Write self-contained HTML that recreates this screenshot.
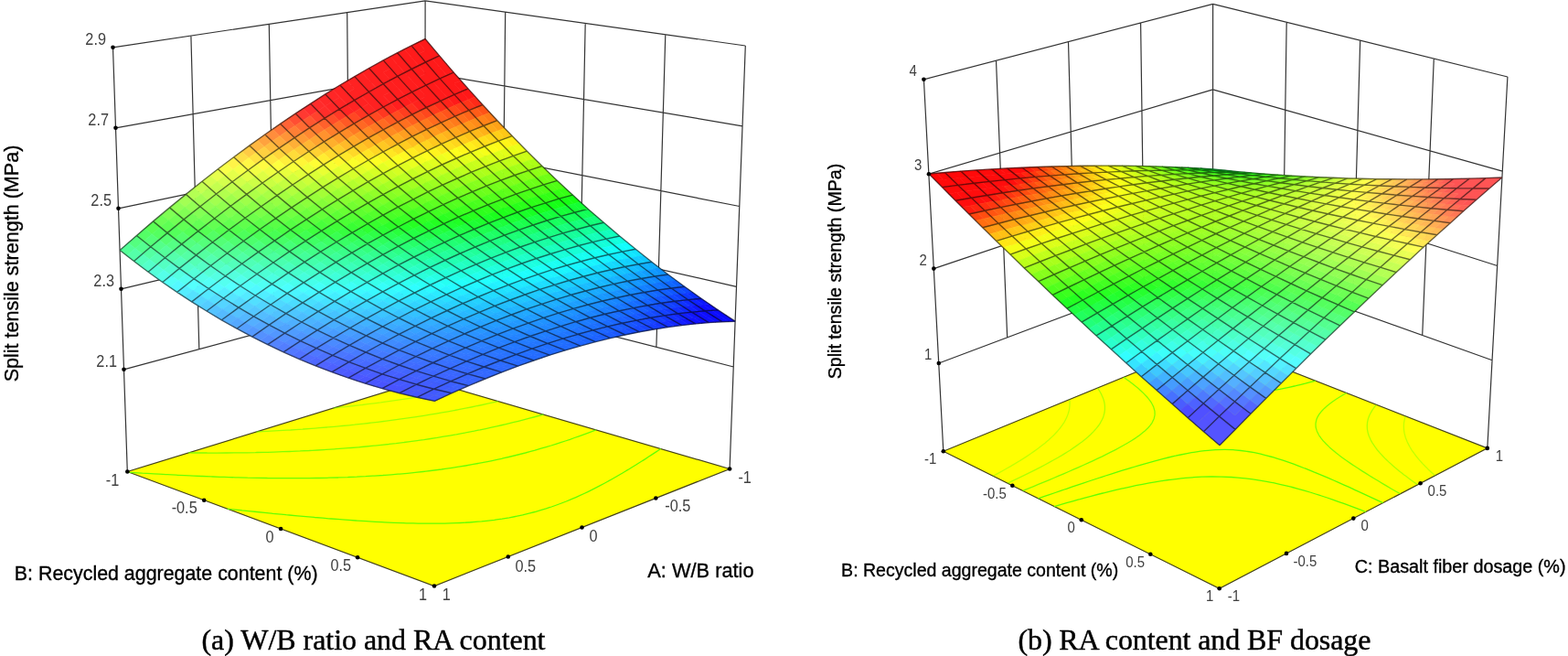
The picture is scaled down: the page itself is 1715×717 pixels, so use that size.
<!DOCTYPE html>
<html lang="en"><head><meta charset="utf-8"><title>Split tensile strength response surfaces</title>
<style>html,body{margin:0;padding:0;background:#fff}body{width:1715px;height:717px;overflow:hidden}svg{display:block}</style></head>
<body>
<svg width="1715" height="717" viewBox="0 0 1715 717" font-family="'Liberation Sans', Arial, sans-serif">
<rect width="1715" height="717" fill="#fff"/>
<g id="plot-a">
<polygon points="139.3,515.5 475,640.5 798.1,512.5 464.7,415.2" fill="#ffff00" stroke="#45431a" stroke-width="1.2"/>
<path d="M248.5 556.2L254.8 556.8L263.5 557.7L264.8 557.9L272.2 558.6L280.9 559.5L281 559.5L289.7 560.4L297 561.1L298.5 561.3L307.5 562.1L312.9 562.7L316.4 563L325.4 563.8L328.6 564.1L334.5 564.6L343.7 565.4L344.1 565.5L352.9 566.2L359.4 566.8L362.2 567L371.7 567.7L374.5 567.9L381.2 568.4L389.2 569L390.8 569.1L400.6 569.7L403.6 569.9L410.5 570.3L417.6 570.7L420.5 570.8L430.7 571.3L431.2 571.3L441.2 571.7L444.4 571.8L451.9 571.9L457.1 572.1L463 572.1L469.3 572.2L474.4 572.2L481.1 572.2L486.2 572.1L492.3 571.9L498.7 571.7L503 571.5L512.1 571L513.1 571L522.8 570.2L526.7 569.9L532 569.3L540.7 568.3L543.3 567.9L549.1 567.1L557 565.8L563.8 564.5L564.4 564.4L571.6 562.9L578.5 561.2L585 559.5L591.3 557.7L597.3 555.9L600.9 554.7L603.1 554L608.7 552L614.1 550L619.3 548L624.4 545.9L627.9 544.4L629.3 543.8L634.1 541.7L638.8 539.5L643.4 537.3L647.8 535.1L652.2 532.9L656.5 530.7L660.6 528.5L664.7 526.2L665.3 525.9L668.8 524L672.7 521.8L676.6 519.5L680.5 517.3L684.2 515L686 513.9L688 512.8L691.6 510.5L695.3 508.3L698.8 506L702.4 503.8L702.7 503.6L705.9 501.6L709.3 499.3L712.7 497.1L716.1 494.9L717.3 494.1L719.4 492.7L722.7 490.5" fill="none" stroke="#62ff00" stroke-opacity="1" stroke-width="1.3"/>
<path d="M141.5 516.3L146.5 516.6L154.9 517.1L155.6 517.2L164.7 517.7L168.2 517.9L173.9 518.2L181.4 518.6L183.2 518.7L192.6 519.2L194.4 519.3L202 519.7L207.3 519.9L211.5 520.1L220 520.5L221.1 520.5L230.8 520.9L232.6 521L240.6 521.3L245.1 521.4L250.5 521.6L257.4 521.8L260.5 521.9L269.5 522.1L270.7 522.2L281 522.4L281.4 522.4L291.4 522.5L293.2 522.6L302 522.7L304.7 522.7L312.7 522.7L316.1 522.7L323.7 522.7L327.3 522.7L334.8 522.6L338.3 522.6L346.2 522.5L349.1 522.5L357.8 522.3L359.6 522.2L369.7 522L370 521.9L380.2 521.6L381.9 521.5L390.2 521.2L394.5 520.9L399.9 520.7L407.5 520.2L409.5 520.1L418.9 519.5L421.1 519.3L428 518.8L435.2 518.2L437 518.1L445.7 517.3L450.1 516.8L454.3 516.4L462.7 515.5L465.9 515.1L470.9 514.5L478.9 513.5L482.9 513L486.8 512.4L494.4 511.3L501.6 510.2L501.9 510.2L509.3 509L516.4 507.7L522.9 506.5L523.4 506.4L530.3 505.1L537 503.8L543.6 502.4L548.6 501.3L550.1 500.9L556.4 499.5L562.6 498L568.6 496.5L574.6 495L580.4 493.4L585.2 492.1L586.1 491.8L591.7 490.2L597.3 488.6L602.7 487L608 485.3L613.2 483.6L618.3 482L623.4 480.3L628.3 478.5L633.2 476.8L638 475.1L642.8 473.3L647.4 471.6L652 469.8" fill="none" stroke="#62ff00" stroke-opacity="0.95" stroke-width="1.3"/>
<path d="M206 494.9L215.1 495L216.4 495L226.1 495L226.8 495.1L237 495.1L237.4 495.1L247.8 495L248.2 495L258.4 494.9L259.1 494.9L268.9 494.8L270.2 494.8L279.3 494.6L281.4 494.5L289.5 494.4L292.9 494.3L299.5 494.1L304.6 493.9L309.5 493.7L316.6 493.5L319.2 493.4L328.8 493L328.8 492.9L338.3 492.5L341.3 492.3L347.7 492L354.2 491.6L356.9 491.4L365.9 490.8L367.4 490.7L374.8 490.2L381.1 489.7L383.6 489.5L392.2 488.8L395.3 488.5L400.7 488L409 487.2L410.1 487.1L417.2 486.4L425.2 485.5L425.6 485.4L433.2 484.6L441 483.6L442 483.5L448.6 482.6L456.2 481.6L459.5 481.1L463.6 480.6L470.9 479.5L478 478.4L478.4 478.3L485.1 477.2L492 476.1L498.8 474.9L499.3 474.8L505.5 473.7L512.1 472.4L518.6 471.2L523.2 470.2L525 469.9L531.3 468.6L537.5 467.2L543.5 465.9L549.5 464.5L552.4 463.8L555.4 463.1L561.2 461.7L567 460.3L572.6 458.9L578.1 457.4L583.6 456L589 454.5L594.3 453" fill="none" stroke="#62ff00" stroke-opacity="0.8" stroke-width="1.3"/>
<path d="M280.5 472L286.9 471.7L292.7 471.4L296.2 471.2L305.1 470.7L305.3 470.7L314.2 470.2L317.9 470L323.1 469.6L331 469.1L331.9 469L340.5 468.4L344.5 468.1L349 467.7L357.4 467L358.4 466.9L365.7 466.3L372.8 465.6L373.9 465.5L381.9 464.8L387.7 464.2L389.9 463.9L397.7 463.1L403.2 462.5L405.5 462.2L413.1 461.3L419.6 460.5L420.6 460.4L428 459.4L435.3 458.4L436.9 458.2L442.5 457.4L449.6 456.4L455.3 455.6L456.6 455.4L463.5 454.3L470.3 453.2L475.3 452.4L477 452.1L483.6 450.9L490.2 449.8L496.6 448.6L497.4 448.5L502.9 447.4L509.2 446.2L515.4 445L521.5 443.7L522.6 443.5L527.5 442.5L533.4 441.2L539.2 439.9L545 438.6" fill="none" stroke="#62ff00" stroke-opacity="0.6" stroke-width="1.3"/>
<path d="M364.8 446L372.2 445.2L379.8 444.4L380.2 444.3L387.3 443.5L394.7 442.6L396.2 442.5L402.1 441.7L409.3 440.8L413 440.3L416.5 439.9L423.5 438.9L430.5 437.9L430.7 437.9L437.4 436.9L444.2 435.9L449.6 435.1L450.9 434.9L457.5 433.8L464.1 432.8L470 431.8L470.6 431.7L476.9 430.6L483.3 429.4L489.5 428.3L492.6 427.7L495.6 427.2L501.7 426" fill="none" stroke="#62ff00" stroke-opacity="0.45" stroke-width="1.3"/>
<path d="M135.5 403.8L464.8 314.9M132.5 315.8L464.9 236.4M129.5 227.8L465 157.9M126.5 139.8L465 79.4M123.5 51.8L465.1 0.8M208.9 39.1L217.8 381.6M294.3 26.3L300.2 359.4M379.7 13.6L382.5 337.2M123.5 51.8L139.3 515.5M802.3 401L464.8 314.9M805.5 313.3L464.9 236.4M808.8 225.5L465 157.9M812 137.8L465 79.4M815.3 50L465.1 0.8M727.8 37.7L717.9 379.5M640.2 25.4L633.5 358M552.7 13.1L549.2 336.5M815.3 50L798.1 512.5M465.1 0.8L464.7 415.2" fill="none" stroke="#333" stroke-width="1.2"/>
<g fill="currentColor" stroke="currentColor" stroke-width="0.6" stroke-linejoin="round"><path color="#ff1a1a" d="M465.1 42.5l-7.6 3.6 7.8 9.2 7.5 -3.5zM472.8 51.8l-7.5 3.5 7.8 9.1 7.5 -3.5zM465.3 55.3l-7.6 3.7 7.8 9 7.6 -3.6z"/><path color="#ff1b1b" d="M457.5 46.1l-7.5 3.8 7.7 9.1 7.6 -3.7z"/><path color="#ff1a1a" d="M473.1 64.4l-7.6 3.6 7.8 9 7.6 -3.5zM480.9 73.5l-7.6 3.5 7.8 8.9 7.6 -3.5z"/><path color="#ff1b1b" d="M450 49.9l-7.7 3.8 7.8 9.1 7.6 -3.8zM457.7 59l-7.6 3.8 7.8 8.9 7.6 -3.7z"/><path color="#ff1919" d="M480.6 60.9l-7.5 3.5 7.8 9.1 7.5 -3.4zM488.4 70.1l-7.5 3.4 7.8 8.9 7.5 -3.3z"/><path color="#ff1c1c" d="M442.3 53.7l-7.6 4 7.7 8.9 7.7 -3.8zM450.1 62.8l-7.7 3.8 7.8 8.9 7.7 -3.8z"/><path color="#ff1b1b" d="M465.5 68l-7.6 3.7 7.8 8.9 7.6 -3.6zM473.3 77l-7.6 3.6 7.8 8.8 7.6 -3.5zM465.7 80.6l-7.7 3.7 7.9 8.8 7.6 -3.7z"/><path color="#ff1c1c" d="M457.9 71.7l-7.7 3.8 7.8 8.8 7.7 -3.7z"/><path color="#ff1919" d="M496.2 79.1l-7.5 3.3 7.9 8.9 7.5 -3.2zM488.7 82.4l-7.6 3.5 7.9 8.8 7.6 -3.4zM496.6 91.3l-7.6 3.4 7.9 8.7 7.6 -3.3z"/><path color="#ff1818" d="M504.1 88.1l-7.5 3.2 7.9 8.8 7.5 -3.2z"/><path color="#ff1d1d" d="M434.7 57.7l-7.7 4 7.7 8.9 7.7 -4zM442.4 66.6l-7.7 4 7.8 8.8 7.7 -3.9z"/><path color="#ff1e1e" d="M427 61.7l-7.8 4.2 7.8 8.8 7.7 -4.1zM434.7 70.6l-7.7 4.1 7.8 8.7 7.7 -4z"/><path color="#ff1a1a" d="M481.1 85.9l-7.6 3.5 7.9 8.7 7.6 -3.4zM489 94.7l-7.6 3.4 7.9 8.7 7.6 -3.4z"/><path color="#ff1b1b" d="M473.5 89.4l-7.6 3.7 7.9 8.6 7.6 -3.6zM481.4 98.1l-7.6 3.6 7.9 8.6 7.6 -3.5z"/><path color="#ff1c1c" d="M450.2 75.5l-7.7 3.9 7.9 8.7 7.6 -3.8zM458 84.3l-7.6 3.8 7.8 8.7 7.7 -3.7z"/><path color="#ff1d1d" d="M442.5 79.4l-7.7 4 7.8 8.7 7.8 -4zM450.4 88.1l-7.8 4 7.9 8.5 7.7 -3.8z"/><path color="#ff1919" d="M504.5 100.1l-7.6 3.3 8 8.7 7.5 -3.2z"/><path color="#ff1818" d="M512 96.9l-7.5 3.2 7.9 8.8 7.5 -3.2z"/><path color="#ff1e1e" d="M427 74.7l-7.8 4.2 7.8 8.6 7.8 -4.1z"/><path color="#ff2a18" d="M519.9 105.7l-7.5 3.2 8 8.6 7.5 -3z"/><path color="#ff3419" d="M512.4 108.9l-7.5 3.2 7.9 8.5 7.6 -3.1z"/><path color="#ff1f1f" d="M419.2 65.9l-7.7 4.3 7.7 8.7 7.8 -4.2zM411.5 70.2l-7.9 4.3 7.8 8.7 7.8 -4.3zM419.2 78.9l-7.8 4.3 7.8 8.5 7.8 -4.2z"/><path color="#ff1a1a" d="M496.9 103.4l-7.6 3.4 8 8.5 7.6 -3.2z"/><path color="#ff1c1c" d="M465.9 93.1l-7.7 3.7 7.9 8.6 7.7 -3.7zM473.8 101.7l-7.7 3.7 7.9 8.4 7.7 -3.5zM466.1 105.4l-7.7 3.7 7.9 8.4 7.7 -3.7z"/><path color="#ff1d1d" d="M458.2 96.8l-7.7 3.8 7.9 8.5 7.7 -3.7z"/><path color="#ff1e1e" d="M434.8 83.4l-7.8 4.1 7.9 8.6 7.7 -4zM442.6 92.1l-7.7 4 7.8 8.5 7.8 -4z"/><path color="#ff1f1f" d="M427 87.5l-7.8 4.2 7.8 8.5 7.9 -4.1zM434.9 96.1l-7.9 4.1 7.9 8.4 7.8 -4z"/><path color="#ff5317" d="M527.9 114.5l-7.5 3 8 8.6 7.5 -3z"/><path color="#ff7a17" d="M535.9 123.1l-7.5 3 8 8.5 7.5 -2.9z"/><path color="#ff5c18" d="M520.4 117.5l-7.6 3.1 8.1 8.5 7.5 -3z"/><path color="#ff8318" d="M528.4 126.1l-7.5 3 8 8.4 7.5 -2.9z"/><path color="#ff3f19" d="M504.9 112.1l-7.6 3.2 8 8.5 7.5 -3.2z"/><path color="#ff231a" d="M489.3 106.8l-7.6 3.5 8 8.4 7.6 -3.4z"/><path color="#ff491a" d="M497.3 115.3l-7.6 3.4 8 8.5 7.6 -3.4z"/><path color="#ff2020" d="M403.6 74.5l-7.8 4.5 7.7 8.6 7.9 -4.4zM411.4 83.2l-7.9 4.4 7.9 8.4 7.8 -4.3z"/><path color="#ff2121" d="M395.8 79l-7.9 4.6 7.7 8.5 7.9 -4.5zM403.5 87.6l-7.9 4.5 7.9 8.4 7.9 -4.5z"/><path color="#ff1f1f" d="M427 100.2l-7.8 4.2 7.9 8.4 7.8 -4.2z"/><path color="#ff2020" d="M419.2 91.7l-7.8 4.3 7.8 8.4 7.8 -4.2zM411.4 96l-7.9 4.5 7.8 8.3 7.9 -4.4zM419.2 104.4l-7.9 4.4 7.9 8.2 7.9 -4.2z"/><path color="#ff6519" d="M512.8 120.6l-7.5 3.2 8 8.4 7.6 -3.1z"/><path color="#ff8c19" d="M520.9 129.1l-7.6 3.1 8 8.4 7.6 -3.1z"/><path color="#ff6f1a" d="M505.3 123.8l-7.6 3.4 8 8.3 7.6 -3.3z"/><path color="#ff9519" d="M513.3 132.2l-7.6 3.3 8 8.2 7.6 -3.1z"/><path color="#ff1d1d" d="M450.5 100.6l-7.8 4 7.9 8.4 7.8 -3.9z"/><path color="#ff1e1e" d="M442.7 104.6l-7.8 4 7.9 8.3 7.8 -3.9z"/><path color="#ffa217" d="M543.9 131.7l-7.5 2.9 8.1 8.4 7.5 -2.8z"/><path color="#ffc816" d="M552 140.2l-7.5 2.8 8.1 8.3 7.5 -2.7z"/><path color="#ffa918" d="M536.4 134.6l-7.5 2.9 8.1 8.3 7.5 -2.8z"/><path color="#ffcf17" d="M544.5 143l-7.5 2.8 8.1 8.3 7.5 -2.8z"/><path color="#ff2e1b" d="M481.7 110.3l-7.7 3.5 8 8.4 7.7 -3.5z"/><path color="#ff541b" d="M489.7 118.7l-7.7 3.5 8 8.4 7.7 -3.4z"/><path color="#ff3b1c" d="M474 113.8l-7.7 3.7 8 8.3 7.7 -3.6z"/><path color="#ff601c" d="M482 122.2l-7.7 3.6 8 8.3 7.7 -3.5z"/><path color="#ff221d" d="M458.4 109.1l-7.8 3.9 8 8.3 7.7 -3.8z"/><path color="#ff301e" d="M450.6 113l-7.8 3.9 8 8.3 7.8 -3.9z"/><path color="#ff2222" d="M387.9 83.6l-8 4.7 7.8 8.4 7.9 -4.6zM395.6 92.1l-7.9 4.6 7.8 8.3 8 -4.5zM387.7 96.7l-8 4.7 7.8 8.2 8 -4.6z"/><path color="#ff2323" d="M379.9 88.3l-8 4.7 7.8 8.4 8 -4.7z"/><path color="#ff1f1f" d="M434.9 108.6l-7.8 4.2 7.9 8.2 7.8 -4.1z"/><path color="#ff2121" d="M403.5 100.5l-8 4.5 7.9 8.2 7.9 -4.4zM411.3 108.8l-7.9 4.4 7.8 8.2 8 -4.4z"/><path color="#ff2222" d="M395.5 105l-8 4.6 7.9 8.2 8 -4.6z"/><path color="#ffb118" d="M528.9 137.5l-7.6 3.1 8.1 8.2 7.6 -3z"/><path color="#ffd718" d="M537 145.8l-7.6 3 8.2 8.2 7.5 -2.9z"/><path color="#ffba19" d="M521.3 140.6l-7.6 3.1 8.1 8.2 7.6 -3.1z"/><path color="#ffde19" d="M529.4 148.8l-7.6 3.1 8.2 8.1 7.6 -3z"/><path color="#ff7a1b" d="M497.7 127.2l-7.7 3.4 8 8.2 7.7 -3.3z"/><path color="#ff9e1a" d="M505.7 135.5l-7.7 3.3 8.1 8.2 7.6 -3.3z"/><path color="#ff841b" d="M490 130.6l-7.7 3.5 8 8.2 7.7 -3.5z"/><path color="#ffa81b" d="M498 138.8l-7.7 3.5 8.1 8 7.7 -3.3z"/><path color="#ff3e1f" d="M442.8 116.9l-7.8 4.1 7.9 8.2 7.9 -4z"/><path color="#ff2920" d="M427.1 112.8l-7.9 4.2 7.9 8.2 7.9 -4.2z"/><path color="#ff4c20" d="M435 121l-7.9 4.2 7.9 8.1 7.9 -4.1z"/><path color="#ff2522" d="M403.4 113.2l-8 4.6 7.9 8.1 7.9 -4.5z"/><path color="#ff2323" d="M371.9 93l-8 4.9 7.8 8.3 8 -4.8zM379.7 101.4l-8 4.8 7.8 8.1 8 -4.7z"/><path color="#ffee16" d="M560.1 148.6l-7.5 2.7 8.2 8.3 7.4 -2.7z"/><path color="#edff16" d="M568.2 156.9l-7.4 2.7 8.2 8.1 7.4 -2.5z"/><path color="#fff517" d="M552.6 151.3l-7.5 2.8 8.2 8.2 7.5 -2.7z"/><path color="#e8ff17" d="M560.8 159.6l-7.5 2.7 8.2 8.1 7.5 -2.7z"/><path color="#ff471d" d="M466.3 117.5l-7.7 3.8 7.9 8.2 7.8 -3.7z"/><path color="#ff6b1d" d="M474.3 125.8l-7.8 3.7 8 8.2 7.8 -3.6z"/><path color="#ff541e" d="M458.6 121.3l-7.8 3.9 7.9 8.2 7.8 -3.9z"/><path color="#ff781d" d="M466.5 129.5l-7.8 3.9 8.1 8 7.7 -3.7z"/><path color="#ff2626" d="M363.9 97.9l-8.1 5 7.8 8.2 8.1 -4.9z"/><path color="#ff2525" d="M371.7 106.2l-8.1 4.9 7.8 8.1 8.1 -4.9z"/><path color="#ff2323" d="M387.5 109.6l-8 4.7 7.9 8.1 8 -4.6z"/><path color="#cdff15" d="M576.4 165.2l-7.4 2.5 8.2 8.1 7.4 -2.4z"/><path color="#adff15" d="M584.6 173.4l-7.4 2.4 8.2 8 7.5 -2.3z"/><path color="#c9ff16" d="M569 167.7l-7.5 2.7 8.2 8 7.5 -2.6z"/><path color="#aaff16" d="M577.2 175.8l-7.5 2.6 8.3 7.9 7.4 -2.5z"/><path color="#fffb18" d="M545.1 154.1l-7.5 2.9 8.1 8.1 7.6 -2.8z"/><path color="#e3ff17" d="M553.3 162.3l-7.6 2.8 8.2 8 7.6 -2.7z"/><path color="#fcff19" d="M537.6 157l-7.6 3 8.1 8 7.6 -2.9z"/><path color="#deff18" d="M545.7 165.1l-7.6 2.9 8.3 7.9 7.5 -2.8z"/><path color="#ffc31a" d="M513.7 143.7l-7.6 3.3 8.1 8.1 7.6 -3.2z"/><path color="#ffe61a" d="M521.8 151.9l-7.6 3.2 8.1 8 7.7 -3.1z"/><path color="#ffcc1b" d="M506.1 147l-7.7 3.3 8.1 8 7.7 -3.2z"/><path color="#ffef1a" d="M514.2 155.1l-7.7 3.2 8.2 8 7.6 -3.2z"/><path color="#ff8f1c" d="M482.3 134.1l-7.8 3.6 8.1 8.1 7.7 -3.5z"/><path color="#ffb31c" d="M490.3 142.3l-7.7 3.5 8.1 8 7.7 -3.5z"/><path color="#ff9b1d" d="M474.5 137.7l-7.7 3.7 8 8 7.8 -3.6z"/><path color="#ffbd1d" d="M482.6 145.8l-7.8 3.6 8.1 8 7.8 -3.6z"/><path color="#ff611e" d="M450.8 125.2l-7.9 4 8 8.1 7.8 -3.9z"/><path color="#ff841e" d="M458.7 133.4l-7.8 3.9 8 8 7.9 -3.9z"/><path color="#ff6f1f" d="M442.9 129.2l-7.9 4.1 8 8 7.9 -4z"/><path color="#ff911f" d="M450.9 137.3l-7.9 4 8 7.9 7.9 -3.9z"/><path color="#ff3821" d="M419.2 117l-8 4.4 8 8.1 7.9 -4.3z"/><path color="#ff5b20" d="M427.1 125.2l-7.9 4.3 7.9 8 7.9 -4.2z"/><path color="#ff4821" d="M411.2 121.4l-7.9 4.5 7.9 8 8 -4.4z"/><path color="#ff6a21" d="M419.2 129.5l-8 4.4 7.9 7.9 8 -4.3z"/><path color="#ff3623" d="M395.4 117.8l-8 4.6 7.8 8 8.1 -4.5z"/><path color="#ff2524" d="M379.5 114.3l-8.1 4.9 7.9 8 8.1 -4.8z"/><path color="#ff4723" d="M387.4 122.4l-8.1 4.8 7.9 7.9 8 -4.7z"/><path color="#ff2828" d="M355.8 102.9l-8.1 5.2 7.8 8 8.1 -5z"/><path color="#ff2727" d="M363.6 111.1l-8.1 5 7.8 8 8.1 -4.9z"/><path color="#ff2b2b" d="M347.7 108.1l-8.1 5.2 7.8 8 8.1 -5.2z"/><path color="#ff2d2a" d="M355.5 116.1l-8.1 5.2 7.8 7.9 8.1 -5.1z"/><path color="#c4ff17" d="M561.5 170.4l-7.6 2.7 8.3 7.9 7.5 -2.6z"/><path color="#a6ff17" d="M569.7 178.4l-7.5 2.6 8.3 7.9 7.5 -2.6z"/><path color="#c0ff18" d="M553.9 173.1l-7.5 2.8 8.2 7.9 7.6 -2.8z"/><path color="#a2ff18" d="M562.2 181l-7.6 2.8 8.3 7.7 7.6 -2.6z"/><path color="#ffa71e" d="M466.8 141.4l-7.9 3.9 8.1 7.9 7.8 -3.8z"/><path color="#ffc91d" d="M474.8 149.4l-7.8 3.8 8.1 7.8 7.8 -3.6z"/><path color="#ffb31f" d="M458.9 145.3l-7.9 3.9 8.1 7.8 7.9 -3.8z"/><path color="#ffd41e" d="M467 153.2l-7.9 3.8 8.1 7.8 7.9 -3.8z"/><path color="#ff3926" d="M371.4 119.2l-8.1 4.9 7.9 8 8.1 -4.9z"/><path color="#ff5925" d="M379.3 127.2l-8.1 4.9 7.9 7.8 8.1 -4.8z"/><path color="#ff4d29" d="M363.3 124.1l-8.1 5.1 7.8 7.8 8.2 -4.9z"/><path color="#ff6c28" d="M371.2 132.1l-8.2 4.9 7.9 7.8 8.2 -4.9z"/><path color="#8eff14" d="M592.9 181.5l-7.5 2.3 8.4 8 7.4 -2.3z"/><path color="#70ff14" d="M601.2 189.5l-7.4 2.3 8.3 7.8 7.4 -2.2z"/><path color="#8cff15" d="M585.4 183.8l-7.4 2.5 8.3 7.9 7.5 -2.4z"/><path color="#6eff15" d="M593.8 191.8l-7.5 2.4 8.3 7.7 7.5 -2.3z"/><path color="#f6ff19" d="M530 160l-7.7 3.1 8.2 7.9 7.6 -3z"/><path color="#d8ff19" d="M538.1 168l-7.6 3 8.2 7.8 7.7 -2.9z"/><path color="#efff1a" d="M522.3 163.1l-7.6 3.2 8.1 7.8 7.7 -3.1z"/><path color="#d2ff1a" d="M530.5 171l-7.7 3.1 8.3 7.8 7.6 -3.1z"/><path color="#ffd61c" d="M498.4 150.3l-7.7 3.5 8.1 7.9 7.7 -3.4z"/><path color="#fff81b" d="M506.5 158.3l-7.7 3.4 8.1 7.9 7.8 -3.3z"/><path color="#ffe01c" d="M490.7 153.8l-7.8 3.6 8.1 7.8 7.8 -3.5z"/><path color="#fdff1c" d="M498.8 161.7l-7.8 3.5 8.2 7.8 7.7 -3.4z"/><path color="#ff7d20" d="M435 133.3l-7.9 4.2 8 7.9 7.9 -4.1z"/><path color="#ff9e20" d="M443 141.3l-7.9 4.1 8 7.8 7.9 -4z"/><path color="#ff8b21" d="M427.1 137.5l-8 4.3 8 7.8 8 -4.2z"/><path color="#ffac21" d="M435.1 145.4l-8 4.2 8.1 7.8 7.9 -4.2z"/><path color="#ff5822" d="M403.3 125.9l-8.1 4.5 8 7.9 8 -4.4z"/><path color="#ff7922" d="M411.2 133.9l-8 4.4 7.9 7.9 8 -4.4z"/><path color="#ff6823" d="M395.2 130.4l-8 4.7 7.9 7.8 8.1 -4.6z"/><path color="#ff8823" d="M403.2 138.3l-8.1 4.6 8 7.8 8 -4.5z"/><path color="#ff2e2e" d="M339.6 113.3l-8.2 5.3 7.8 7.9 8.2 -5.2z"/><path color="#ff422d" d="M347.4 121.3l-8.2 5.2 7.8 7.9 8.2 -5.2z"/><path color="#ff3931" d="M331.4 118.6l-8.3 5.5 7.8 7.8 8.3 -5.4z"/><path color="#ff5730" d="M339.2 126.5l-8.3 5.4 7.8 7.8 8.3 -5.3z"/><path color="#51ff14" d="M609.5 197.4l-7.4 2.2 8.4 7.8 7.4 -2.1z"/><path color="#34ff13" d="M617.9 205.3l-7.4 2.1 8.4 7.7 7.4 -2z"/><path color="#50ff15" d="M602.1 199.6l-7.5 2.3 8.4 7.7 7.5 -2.2z"/><path color="#33ff14" d="M610.5 207.4l-7.5 2.2 8.5 7.6 7.4 -2.1z"/><path color="#89ff16" d="M578 186.3l-7.5 2.6 8.3 7.7 7.5 -2.4z"/><path color="#6bff16" d="M586.3 194.2l-7.5 2.4 8.3 7.7 7.5 -2.4z"/><path color="#85ff17" d="M570.5 188.9l-7.6 2.6 8.3 7.7 7.6 -2.6z"/><path color="#68ff17" d="M578.8 196.6l-7.6 2.6 8.4 7.6 7.5 -2.5z"/><path color="#bbff19" d="M546.4 175.9l-7.7 2.9 8.3 7.8 7.6 -2.8z"/><path color="#9eff18" d="M554.6 183.8l-7.6 2.8 8.3 7.7 7.6 -2.8z"/><path color="#b5ff1a" d="M538.7 178.8l-7.6 3.1 8.2 7.6 7.7 -2.9z"/><path color="#99ff19" d="M547 186.6l-7.7 2.9 8.3 7.6 7.7 -2.8z"/><path color="#ffea1d" d="M482.9 157.4l-7.8 3.6 8.1 7.8 7.8 -3.6z"/><path color="#f5ff1d" d="M491 165.2l-7.8 3.6 8.2 7.6 7.8 -3.4z"/><path color="#fff51e" d="M475.1 161l-7.9 3.8 8.1 7.7 7.9 -3.7z"/><path color="#ecff1e" d="M483.2 168.8l-7.9 3.7 8.2 7.5 7.9 -3.6z"/><path color="#ffbf1f" d="M451 149.2l-7.9 4 8.1 7.8 7.9 -4z"/><path color="#ffe01f" d="M459.1 157l-7.9 4 8.1 7.7 7.9 -3.9z"/><path color="#ffcc20" d="M443.1 153.2l-7.9 4.2 8 7.6 8 -4z"/><path color="#ffec20" d="M451.2 161l-8 4 8.1 7.6 8 -3.9z"/><path color="#ff7924" d="M387.2 135.1l-8.1 4.8 7.9 7.8 8.1 -4.8z"/><path color="#ff9824" d="M395.1 142.9l-8.1 4.8 8 7.6 8.1 -4.6z"/><path color="#ff8b27" d="M379.1 139.9l-8.2 4.9 8 7.7 8.1 -4.8z"/><path color="#ffa926" d="M387 147.7l-8.1 4.8 7.9 7.6 8.2 -4.8z"/><path color="#ff612c" d="M355.2 129.2l-8.2 5.2 7.8 7.7 8.2 -5.1z"/><path color="#ff7f2b" d="M363 137l-8.2 5.1 7.9 7.7 8.2 -5z"/><path color="#ff742f" d="M347 134.4l-8.3 5.3 7.9 7.6 8.2 -5.2z"/><path color="#ff922e" d="M354.8 142.1l-8.2 5.2 7.9 7.6 8.2 -5.1z"/><path color="#ff4e33" d="M323.1 124.1l-8.2 5.5 7.7 7.8 8.3 -5.5z"/><path color="#ff6b32" d="M330.9 131.9l-8.3 5.5 7.9 7.7 8.2 -5.4z"/><path color="#ff6336" d="M314.9 129.6l-8.4 5.7 7.8 7.7 8.3 -5.6z"/><path color="#ff7f35" d="M322.6 137.4l-8.3 5.6 7.8 7.6 8.4 -5.5z"/><path color="#e8ff1b" d="M514.7 166.3l-7.8 3.3 8.2 7.7 7.7 -3.2z"/><path color="#cbff1b" d="M522.8 174.1l-7.7 3.2 8.3 7.7 7.7 -3.1z"/><path color="#e1ff1c" d="M506.9 169.6l-7.7 3.4 8.2 7.6 7.7 -3.3z"/><path color="#c5ff1b" d="M515.1 177.3l-7.7 3.3 8.2 7.6 7.8 -3.2z"/><path color="#ff9a22" d="M419.1 141.8l-8 4.4 8 7.7 8 -4.3z"/><path color="#ffba21" d="M427.1 149.6l-8 4.3 8 7.7 8.1 -4.2z"/><path color="#ffa822" d="M411.1 146.2l-8 4.5 8 7.7 8 -4.5z"/><path color="#ffc822" d="M419.1 153.9l-8 4.5 8 7.6 8 -4.4z"/><path color="#4eff16" d="M594.6 201.9l-7.5 2.4 8.4 7.6 7.5 -2.3z"/><path color="#32ff15" d="M603 209.6l-7.5 2.3 8.5 7.5 7.5 -2.2z"/><path color="#4cff17" d="M587.1 204.3l-7.5 2.5 8.4 7.5 7.5 -2.4z"/><path color="#31ff16" d="M595.5 211.9l-7.5 2.4 8.5 7.5 7.5 -2.4z"/><path color="#ff8831" d="M338.7 139.7l-8.2 5.4 7.8 7.6 8.3 -5.4z"/><path color="#ffa430" d="M346.6 147.3l-8.3 5.4 7.9 7.5 8.3 -5.3z"/><path color="#ff9b34" d="M330.5 145.1l-8.4 5.5 7.9 7.5 8.3 -5.4z"/><path color="#ffb733" d="M338.3 152.7l-8.3 5.4 7.9 7.4 8.3 -5.3z"/><path color="#17ff13" d="M626.3 213.1l-7.4 2 8.5 7.6 7.4 -1.9z"/><path color="#13ff33" d="M634.8 220.8l-7.4 1.9 8.5 7.5 7.3 -1.8z"/><path color="#17ff14" d="M618.9 215.1l-7.4 2.1 8.4 7.5 7.5 -2z"/><path color="#14ff34" d="M627.4 222.7l-7.5 2 8.6 7.5 7.4 -2z"/><path color="#81ff18" d="M562.9 191.5l-7.6 2.8 8.3 7.6 7.6 -2.7z"/><path color="#65ff18" d="M571.2 199.2l-7.6 2.7 8.4 7.5 7.6 -2.6z"/><path color="#7dff19" d="M555.3 194.3l-7.7 2.8 8.4 7.6 7.6 -2.8z"/><path color="#62ff19" d="M563.6 201.9l-7.6 2.8 8.4 7.4 7.6 -2.7z"/><path color="#afff1a" d="M531.1 181.9l-7.7 3.1 8.2 7.6 7.7 -3.1z"/><path color="#94ff1a" d="M539.3 189.5l-7.7 3.1 8.3 7.5 7.7 -3z"/><path color="#a9ff1b" d="M523.4 185l-7.8 3.2 8.3 7.5 7.7 -3.1z"/><path color="#8eff1b" d="M531.6 192.6l-7.7 3.1 8.3 7.5 7.7 -3.1z"/><path color="#d9ff1d" d="M499.2 173l-7.8 3.4 8.2 7.6 7.8 -3.4z"/><path color="#beff1c" d="M507.4 180.6l-7.8 3.4 8.2 7.5 7.8 -3.3z"/><path color="#d1ff1d" d="M491.4 176.4l-7.9 3.6 8.2 7.6 7.9 -3.6z"/><path color="#b6ff1d" d="M499.6 184l-7.9 3.6 8.3 7.4 7.8 -3.5z"/><path color="#feff1f" d="M467.2 164.8l-7.9 3.9 8.1 7.5 7.9 -3.7z"/><path color="#e3ff1e" d="M475.3 172.5l-7.9 3.7 8.2 7.5 7.9 -3.7z"/><path color="#f4ff20" d="M459.3 168.7l-8 3.9 8.2 7.5 7.9 -3.9z"/><path color="#daff1f" d="M467.4 176.2l-7.9 3.9 8.1 7.5 8 -3.9z"/><path color="#ffd921" d="M435.2 157.4l-8.1 4.2 8.1 7.6 8 -4.2z"/><path color="#fff821" d="M443.2 165l-8 4.2 8.1 7.5 8 -4.1z"/><path color="#ffe722" d="M427.1 161.6l-8 4.4 8.1 7.5 8 -4.3z"/><path color="#faff21" d="M435.2 169.2l-8 4.3 8.1 7.4 8 -4.2z"/><path color="#ffb823" d="M403.1 150.7l-8.1 4.6 8 7.6 8.1 -4.5z"/><path color="#ffd723" d="M411.1 158.4l-8.1 4.5 8 7.5 8.1 -4.4z"/><path color="#ffc725" d="M395 155.3l-8.2 4.8 8 7.5 8.2 -4.7z"/><path color="#ffe524" d="M403 162.9l-8.2 4.7 8.1 7.4 8.1 -4.6z"/><path color="#ff9d2a" d="M370.9 144.8l-8.2 5 8 7.6 8.2 -4.9z"/><path color="#ffba29" d="M378.9 152.5l-8.2 4.9 7.9 7.5 8.2 -4.8z"/><path color="#ffaf2c" d="M362.7 149.8l-8.2 5.1 7.9 7.5 8.3 -5z"/><path color="#ffcb2b" d="M370.7 157.4l-8.3 5 8 7.5 8.2 -5z"/><path color="#ff7839" d="M306.5 135.3l-8.3 5.8 7.8 7.6 8.3 -5.7z"/><path color="#ff9438" d="M314.3 143l-8.3 5.7 7.8 7.5 8.3 -5.6z"/><path color="#ff8d3c" d="M298.2 141.1l-8.4 5.9 7.7 7.5 8.5 -5.8z"/><path color="#ffa83b" d="M306 148.7l-8.5 5.8 7.9 7.4 8.4 -5.7z"/><path color="#16ff15" d="M611.5 217.2l-7.5 2.2 8.5 7.5 7.4 -2.2z"/><path color="#15ff36" d="M619.9 224.7l-7.4 2.2 8.5 7.3 7.5 -2z"/><path color="#16ff17" d="M604 219.4l-7.5 2.4 8.5 7.3 7.5 -2.2z"/><path color="#16ff38" d="M612.5 226.9l-7.5 2.2 8.5 7.3 7.5 -2.2z"/><path color="#4aff17" d="M579.6 206.8l-7.6 2.6 8.4 7.4 7.6 -2.5z"/><path color="#2fff17" d="M588 214.3l-7.6 2.5 8.5 7.4 7.6 -2.4z"/><path color="#47ff18" d="M572 209.4l-7.6 2.7 8.4 7.3 7.6 -2.6z"/><path color="#2cff18" d="M580.4 216.8l-7.6 2.6 8.5 7.3 7.6 -2.5z"/><path color="#a3ff1c" d="M515.6 188.2l-7.8 3.3 8.3 7.5 7.8 -3.3z"/><path color="#88ff1c" d="M523.9 195.7l-7.8 3.3 8.3 7.3 7.8 -3.1z"/><path color="#9cff1d" d="M507.8 191.5l-7.8 3.5 8.2 7.3 7.9 -3.3z"/><path color="#82ff1c" d="M516.1 199l-7.9 3.3 8.4 7.3 7.8 -3.3z"/><path color="#fff523" d="M419.1 166l-8.1 4.4 8.1 7.4 8.1 -4.3z"/><path color="#eeff22" d="M427.2 173.5l-8.1 4.3 8.1 7.4 8.1 -4.3z"/><path color="#fcff23" d="M411 170.4l-8.1 4.6 8 7.3 8.2 -4.5z"/><path color="#e2ff23" d="M419.1 177.8l-8.2 4.5 8.1 7.3 8.2 -4.4z"/><path color="#ffc12f" d="M354.5 154.9l-8.3 5.3 7.9 7.4 8.3 -5.2z"/><path color="#ffdc2e" d="M362.4 162.4l-8.3 5.2 8 7.3 8.3 -5z"/><path color="#ffd232" d="M346.2 160.2l-8.3 5.3 7.9 7.4 8.3 -5.3z"/><path color="#ffed31" d="M354.1 167.6l-8.3 5.3 8 7.2 8.3 -5.2z"/><path color="#ffaf37" d="M322.1 150.6l-8.3 5.6 7.8 7.4 8.4 -5.5z"/><path color="#ffca36" d="M330 158.1l-8.4 5.5 7.9 7.4 8.4 -5.5z"/><path color="#ffc23a" d="M313.8 156.2l-8.4 5.7 7.8 7.4 8.4 -5.7z"/><path color="#ffdc39" d="M321.6 163.6l-8.4 5.7 7.9 7.2 8.4 -5.5z"/><path color="#12ff56" d="M643.2 228.4l-7.3 1.8 8.5 7.5 7.4 -1.8z"/><path color="#12ff79" d="M651.8 235.9l-7.4 1.8 8.6 7.3 7.4 -1.7z"/><path color="#13ff57" d="M635.9 230.2l-7.4 2 8.5 7.3 7.4 -1.8z"/><path color="#13ff79" d="M644.4 237.7l-7.4 1.8 8.6 7.3 7.4 -1.8z"/><path color="#78ff1a" d="M547.6 197.1l-7.7 3 8.4 7.4 7.7 -2.8z"/><path color="#5eff19" d="M556 204.7l-7.7 2.8 8.4 7.4 7.7 -2.8z"/><path color="#73ff1b" d="M539.9 200.1l-7.7 3.1 8.4 7.3 7.7 -3z"/><path color="#59ff1a" d="M548.3 207.5l-7.7 3 8.4 7.3 7.7 -2.9z"/><path color="#c9ff1e" d="M483.5 180l-7.9 3.7 8.2 7.5 7.9 -3.6z"/><path color="#aeff1e" d="M491.7 187.6l-7.9 3.6 8.3 7.3 7.9 -3.5z"/><path color="#c0ff1f" d="M475.6 183.7l-8 3.9 8.3 7.3 7.9 -3.7z"/><path color="#a6ff1f" d="M483.8 191.2l-7.9 3.7 8.2 7.3 8 -3.7z"/><path color="#eaff20" d="M451.3 172.6l-8 4.1 8.2 7.4 8 -4z"/><path color="#d0ff20" d="M459.5 180.1l-8 4 8.2 7.4 7.9 -3.9z"/><path color="#e0ff21" d="M443.3 176.7l-8 4.2 8.1 7.3 8.1 -4.1z"/><path color="#c6ff21" d="M451.5 184.1l-8.1 4.1 8.2 7.3 8.1 -4z"/><path color="#ffd828" d="M386.8 160.1l-8.2 4.8 8 7.4 8.2 -4.7z"/><path color="#fff527" d="M394.8 167.6l-8.2 4.7 8.1 7.4 8.2 -4.7z"/><path color="#ffe82a" d="M378.6 164.9l-8.2 5 8 7.3 8.2 -4.9z"/><path color="#fbff29" d="M386.6 172.3l-8.2 4.9 8 7.3 8.3 -4.8z"/><path color="#ffa23e" d="M289.8 147l-8.5 6 7.8 7.4 8.4 -5.9z"/><path color="#ffbc3d" d="M297.5 154.5l-8.4 5.9 7.8 7.4 8.5 -5.9z"/><path color="#ffb741" d="M281.3 153l-8.5 6.1 7.8 7.4 8.5 -6.1z"/><path color="#ffd040" d="M289.1 160.4l-8.5 6.1 7.8 7.2 8.5 -5.9z"/><path color="#14ff58" d="M628.5 232.2l-7.5 2 8.6 7.3 7.4 -2z"/><path color="#14ff79" d="M637 239.5l-7.4 2 8.6 7.2 7.4 -1.9z"/><path color="#15ff59" d="M621 234.2l-7.5 2.2 8.6 7.2 7.5 -2.1z"/><path color="#15ff7a" d="M629.6 241.5l-7.5 2.1 8.6 7.1 7.5 -2z"/><path color="#17ff1a" d="M596.5 221.8l-7.6 2.4 8.5 7.3 7.6 -2.4z"/><path color="#16ff3b" d="M605 229.1l-7.6 2.4 8.5 7.1 7.6 -2.2z"/><path color="#18ff1e" d="M588.9 224.2l-7.6 2.5 8.5 7.2 7.6 -2.4z"/><path color="#17ff3f" d="M597.4 231.5l-7.6 2.4 8.5 7.1 7.6 -2.4z"/><path color="#43ff19" d="M564.4 212.1l-7.7 2.8 8.4 7.2 7.7 -2.7z"/><path color="#2aff19" d="M572.8 219.4l-7.7 2.7 8.5 7.2 7.7 -2.6z"/><path color="#40ff1a" d="M556.7 214.9l-7.7 2.9 8.4 7.1 7.7 -2.8z"/><path color="#27ff1a" d="M565.1 222.1l-7.7 2.8 8.5 7.1 7.7 -2.7z"/><path color="#6eff1b" d="M532.2 203.2l-7.8 3.1 8.4 7.3 7.8 -3.1z"/><path color="#55ff1b" d="M540.6 210.5l-7.8 3.1 8.4 7.2 7.8 -3z"/><path color="#69ff1c" d="M524.4 206.3l-7.8 3.3 8.4 7.2 7.8 -3.2z"/><path color="#50ff1c" d="M532.8 213.6l-7.8 3.2 8.4 7 7.8 -3z"/><path color="#95ff1e" d="M500 195l-7.9 3.5 8.3 7.3 7.8 -3.5z"/><path color="#7bff1d" d="M508.2 202.3l-7.8 3.5 8.3 7.1 7.9 -3.3z"/><path color="#8dff1e" d="M492.1 198.5l-8 3.7 8.3 7.1 8 -3.5z"/><path color="#74ff1e" d="M500.4 205.8l-8 3.5 8.4 7.1 7.9 -3.5z"/><path color="#d5ff22" d="M435.3 180.9l-8.1 4.3 8.1 7.2 8.1 -4.2z"/><path color="#bcff22" d="M443.4 188.2l-8.1 4.2 8.2 7.2 8.1 -4.1z"/><path color="#caff23" d="M427.2 185.2l-8.2 4.4 8.2 7.2 8.1 -4.4z"/><path color="#b2ff22" d="M435.3 192.4l-8.1 4.4 8.2 7.1 8.1 -4.3z"/><path color="#efff25" d="M402.9 175l-8.2 4.7 8 7.2 8.2 -4.6z"/><path color="#d7ff24" d="M410.9 182.3l-8.2 4.6 8.2 7.2 8.1 -4.5z"/><path color="#e3ff28" d="M394.7 179.7l-8.3 4.8 8.1 7.1 8.2 -4.7z"/><path color="#cbff27" d="M402.7 186.9l-8.2 4.7 8.1 7.1 8.3 -4.6z"/><path color="#fff82d" d="M370.4 169.9l-8.3 5 8 7.3 8.3 -5z"/><path color="#edff2c" d="M378.4 177.2l-8.3 5 8.1 7.2 8.2 -4.9z"/><path color="#f7ff30" d="M362.1 174.9l-8.3 5.2 8 7.2 8.3 -5.1z"/><path color="#e0ff2f" d="M370.1 182.2l-8.3 5.1 8 7.1 8.4 -5z"/><path color="#ffe435" d="M337.9 165.5l-8.4 5.5 8 7.2 8.3 -5.3z"/><path color="#fffe34" d="M345.8 172.9l-8.3 5.3 7.9 7.2 8.4 -5.3z"/><path color="#fff637" d="M329.5 171l-8.4 5.5 7.9 7.2 8.5 -5.5z"/><path color="#f1ff36" d="M337.5 178.2l-8.5 5.5 8 7.1 8.4 -5.4z"/><path color="#ffd53c" d="M305.4 161.9l-8.5 5.9 7.9 7.2 8.4 -5.7z"/><path color="#ffef3b" d="M313.2 169.3l-8.4 5.7 7.9 7.2 8.4 -5.7z"/><path color="#ffe83f" d="M296.9 167.8l-8.5 5.9 7.9 7.2 8.5 -5.9z"/><path color="#fdff3e" d="M304.8 175l-8.5 5.9 7.9 7.1 8.5 -5.8z"/><path color="#11ff9c" d="M660.4 243.3l-7.4 1.7 8.7 7.3 7.3 -1.6z"/><path color="#11ffbe" d="M669 250.7l-7.3 1.6 8.6 7.2 7.4 -1.5z"/><path color="#12ff9b" d="M653 245l-7.4 1.8 8.7 7.2 7.4 -1.7z"/><path color="#12ffbc" d="M661.7 252.3l-7.4 1.7 8.7 7.1 7.3 -1.6z"/><path color="#b7ff20" d="M467.6 187.6l-7.9 3.9 8.2 7.2 8 -3.8z"/><path color="#9eff1f" d="M475.9 194.9l-8 3.8 8.2 7.2 8 -3.7z"/><path color="#aeff21" d="M459.7 191.5l-8.1 4 8.2 7.2 8.1 -4z"/><path color="#95ff20" d="M467.9 198.7l-8.1 4 8.3 7 8 -3.8z"/><path color="#ffcb44" d="M272.8 159.1l-8.5 6.3 7.8 7.2 8.5 -6.1z"/><path color="#ffe343" d="M280.6 166.5l-8.5 6.1 7.8 7.2 8.5 -6.1z"/><path color="#ffdf46" d="M264.3 165.4l-8.6 6.3 7.8 7.2 8.6 -6.3z"/><path color="#fff745" d="M272.1 172.6l-8.6 6.3 7.8 7.1 8.6 -6.2z"/><path color="#3cff1b" d="M549 217.8l-7.8 3 8.4 7 7.8 -2.9z"/><path color="#23ff1a" d="M557.4 224.9l-7.8 2.9 8.5 7 7.8 -2.8z"/><path color="#37ff1b" d="M541.2 220.8l-7.8 3 8.4 7 7.8 -3z"/><path color="#1fff1b" d="M549.6 227.8l-7.8 3 8.5 7 7.8 -3z"/><path color="#d6ff2b" d="M386.4 184.5l-8.2 4.9 8 7.1 8.3 -4.9z"/><path color="#bfff2a" d="M394.5 191.6l-8.3 4.9 8.2 7 8.2 -4.8z"/><path color="#c9ff2e" d="M378.2 189.4l-8.4 5 8.1 7 8.3 -4.9z"/><path color="#b3ff2d" d="M386.2 196.5l-8.3 4.9 8.1 6.9 8.4 -4.8z"/><path color="#13ff9a" d="M645.6 246.8l-7.4 1.9 8.7 7.1 7.4 -1.8z"/><path color="#13ffba" d="M654.3 254l-7.4 1.8 8.7 7 7.4 -1.7z"/><path color="#14ff9a" d="M638.2 248.7l-7.5 2 8.7 7 7.5 -1.9z"/><path color="#14ffb9" d="M646.9 255.8l-7.5 1.9 8.7 6.9 7.5 -1.8z"/><path color="#fffb42" d="M288.4 173.7l-8.5 6.1 7.8 7.1 8.6 -6z"/><path color="#eeff41" d="M296.3 180.9l-8.6 6 7.9 7 8.6 -5.9z"/><path color="#f2ff44" d="M279.9 179.8l-8.6 6.2 7.8 7 8.6 -6.1z"/><path color="#deff43" d="M287.7 186.9l-8.6 6.1 7.9 7 8.6 -6.1z"/><path color="#11ffdf" d="M677.7 258l-7.4 1.5 8.8 7.1 7.3 -1.4z"/><path color="#10ffff" d="M686.4 265.2l-7.3 1.4 8.8 7.1 7.3 -1.4z"/><path color="#12ffdc" d="M670.3 259.5l-7.3 1.6 8.7 7.1 7.4 -1.6z"/><path color="#11fffc" d="M679.1 266.6l-7.4 1.6 8.8 6.9 7.4 -1.4z"/><path color="#16ff5c" d="M613.5 236.4l-7.6 2.2 8.6 7.1 7.6 -2.1z"/><path color="#16ff7b" d="M622.1 243.6l-7.6 2.1 8.7 7.1 7.5 -2.1z"/><path color="#17ff5e" d="M605.9 238.6l-7.6 2.4 8.6 7 7.6 -2.3z"/><path color="#17ff7d" d="M614.5 245.7l-7.6 2.3 8.7 6.9 7.6 -2.1z"/><path color="#18ff23" d="M581.3 226.7l-7.7 2.6 8.5 7.1 7.7 -2.5z"/><path color="#18ff42" d="M589.8 233.9l-7.7 2.5 8.6 7 7.6 -2.4z"/><path color="#19ff28" d="M573.6 229.3l-7.7 2.7 8.5 7 7.7 -2.6z"/><path color="#19ff47" d="M582.1 236.4l-7.7 2.6 8.6 7 7.7 -2.6z"/><path color="#63ff1d" d="M516.6 209.6l-7.9 3.3 8.4 7.1 7.9 -3.2z"/><path color="#4aff1d" d="M525 216.8l-7.9 3.2 8.4 7 7.9 -3.2z"/><path color="#5cff1e" d="M508.7 212.9l-7.9 3.5 8.4 7 7.9 -3.4z"/><path color="#45ff1d" d="M517.1 220l-7.9 3.4 8.4 6.9 7.9 -3.3z"/><path color="#85ff1f" d="M484.1 202.2l-8 3.7 8.3 7.1 8 -3.7z"/><path color="#6dff1f" d="M492.4 209.3l-8 3.7 8.4 7 8 -3.6z"/><path color="#7dff20" d="M476.1 205.9l-8 3.8 8.3 7 8 -3.7z"/><path color="#66ff20" d="M484.4 213l-8 3.7 8.4 7 8 -3.7z"/><path color="#a4ff21" d="M451.6 195.5l-8.1 4.1 8.3 7.1 8 -4z"/><path color="#8cff21" d="M459.8 202.7l-8 4 8.2 7 8.1 -4z"/><path color="#9aff22" d="M443.5 199.6l-8.1 4.3 8.2 7 8.2 -4.2z"/><path color="#83ff22" d="M451.8 206.7l-8.2 4.2 8.3 6.9 8.1 -4.1z"/><path color="#beff24" d="M419 189.6l-8.1 4.5 8.1 7.1 8.2 -4.4z"/><path color="#a7ff23" d="M427.2 196.8l-8.2 4.4 8.2 7 8.2 -4.3z"/><path color="#b3ff26" d="M410.9 194.1l-8.3 4.6 8.2 7 8.2 -4.5z"/><path color="#9cff25" d="M419 201.2l-8.2 4.5 8.2 6.9 8.2 -4.4z"/><path color="#e9ff33" d="M353.8 180.1l-8.4 5.3 8 7.1 8.4 -5.2z"/><path color="#d3ff31" d="M361.8 187.3l-8.4 5.2 8.1 7 8.3 -5.1z"/><path color="#dbff35" d="M345.4 185.4l-8.4 5.4 8 7 8.4 -5.3z"/><path color="#c6ff34" d="M353.4 192.5l-8.4 5.3 8.1 6.9 8.4 -5.2z"/><path color="#f8ff3a" d="M321.1 176.5l-8.4 5.7 7.9 7.1 8.4 -5.6z"/><path color="#e2ff39" d="M329 183.7l-8.4 5.6 8 7 8.4 -5.5z"/><path color="#e8ff3d" d="M312.7 182.2l-8.5 5.8 7.9 7 8.5 -5.7z"/><path color="#d4ff3c" d="M320.6 189.3l-8.5 5.7 7.9 7 8.6 -5.7z"/><path color="#fff348" d="M255.7 171.7l-8.6 6.5 7.8 7.1 8.6 -6.4z"/><path color="#f5ff47" d="M263.5 178.9l-8.6 6.4 7.8 7 8.6 -6.3z"/><path color="#f8ff4a" d="M247.1 178.2l-8.7 6.6 7.8 7 8.7 -6.5z"/><path color="#e5ff49" d="M254.9 185.3l-8.7 6.5 7.8 7 8.7 -6.5z"/><path color="#13ffda" d="M663 261.1l-7.4 1.7 8.7 7 7.4 -1.6z"/><path color="#12fff8" d="M671.7 268.2l-7.4 1.6 8.8 6.8 7.4 -1.5z"/><path color="#14ffd8" d="M655.6 262.8l-7.5 1.8 8.8 6.9 7.4 -1.7z"/><path color="#13fff6" d="M664.3 269.8l-7.4 1.7 8.8 6.8 7.4 -1.7z"/><path color="#1aff2e" d="M565.9 232l-7.8 2.8 8.6 7 7.7 -2.8z"/><path color="#1aff4b" d="M574.4 239l-7.7 2.8 8.6 6.8 7.7 -2.6z"/><path color="#1bff34" d="M558.1 234.8l-7.8 3 8.6 6.8 7.8 -2.8z"/><path color="#1bff51" d="M566.7 241.8l-7.8 2.8 8.6 6.7 7.8 -2.7z"/><path color="#bdff30" d="M369.8 194.4l-8.3 5.1 8.1 6.9 8.3 -5z"/><path color="#a7ff2f" d="M377.9 201.4l-8.3 5 8.1 6.9 8.3 -5z"/><path color="#b0ff33" d="M361.5 199.5l-8.4 5.2 8 6.9 8.5 -5.2z"/><path color="#9bff32" d="M369.6 206.4l-8.5 5.2 8.2 6.7 8.4 -5z"/><path color="#e2ff46" d="M271.3 186l-8.6 6.3 7.8 7 8.6 -6.3z"/><path color="#ceff46" d="M279.1 193l-8.6 6.3 7.9 6.8 8.6 -6.1z"/><path color="#d2ff49" d="M262.7 192.3l-8.7 6.5 7.8 6.8 8.7 -6.3z"/><path color="#bfff48" d="M270.5 199.3l-8.7 6.3 7.9 6.8 8.7 -6.3z"/><path color="#32ff1c" d="M533.4 223.8l-7.9 3.2 8.5 7 7.8 -3.2z"/><path color="#1cff1d" d="M541.8 230.8l-7.8 3.2 8.5 6.8 7.8 -3z"/><path color="#2dff1d" d="M525.5 227l-7.9 3.3 8.4 6.9 8 -3.2z"/><path color="#1dff25" d="M534 234l-8 3.2 8.6 6.7 7.9 -3.1z"/><path color="#a8ff29" d="M402.6 198.7l-8.2 4.8 8.1 6.9 8.3 -4.7z"/><path color="#92ff28" d="M410.8 205.7l-8.3 4.7 8.2 6.8 8.3 -4.6z"/><path color="#9dff2c" d="M394.4 203.5l-8.4 4.8 8.2 6.8 8.3 -4.7z"/><path color="#87ff2a" d="M402.5 210.4l-8.3 4.7 8.2 6.8 8.3 -4.7z"/><path color="#10e3ff" d="M695.2 272.3l-7.3 1.4 8.8 6.9 7.3 -1.2z"/><path color="#10c8ff" d="M704 279.4l-7.3 1.2 8.8 6.9 7.3 -1.2z"/><path color="#11e7ff" d="M687.9 273.7l-7.4 1.4 8.8 6.9 7.4 -1.4z"/><path color="#11ccff" d="M696.7 280.6l-7.4 1.4 8.9 6.7 7.3 -1.2z"/><path color="#15ff9a" d="M630.7 250.7l-7.5 2.1 8.7 6.9 7.5 -2z"/><path color="#15ffb9" d="M639.4 257.7l-7.5 2 8.7 6.8 7.5 -1.9z"/><path color="#16ff9b" d="M623.2 252.8l-7.6 2.1 8.7 6.9 7.6 -2.1z"/><path color="#16ffb9" d="M631.9 259.7l-7.6 2.1 8.7 6.7 7.6 -2z"/><path color="#56ff1f" d="M500.8 216.4l-8 3.6 8.4 6.9 8 -3.5z"/><path color="#3fff1e" d="M509.2 223.4l-8 3.5 8.4 6.8 8 -3.4z"/><path color="#4fff1f" d="M492.8 220l-8 3.7 8.4 6.8 8 -3.6z"/><path color="#38ff1f" d="M501.2 226.9l-8 3.6 8.4 6.7 8 -3.5z"/><path color="#75ff21" d="M468.1 209.7l-8.1 4 8.3 6.9 8.1 -3.9z"/><path color="#5eff20" d="M476.4 216.7l-8.1 3.9 8.4 6.8 8.1 -3.7z"/><path color="#6cff22" d="M460 213.7l-8.1 4.1 8.3 6.8 8.1 -4z"/><path color="#56ff21" d="M468.3 220.6l-8.1 4 8.4 6.7 8.1 -3.9z"/><path color="#90ff23" d="M435.4 203.9l-8.2 4.3 8.3 6.9 8.1 -4.2z"/><path color="#79ff23" d="M443.6 210.9l-8.1 4.2 8.2 6.8 8.2 -4.1z"/><path color="#85ff24" d="M427.2 208.2l-8.2 4.4 8.2 6.9 8.3 -4.4z"/><path color="#6fff23" d="M435.5 215.1l-8.3 4.4 8.3 6.7 8.2 -4.3z"/><path color="#d9ff40" d="M304.2 188l-8.6 5.9 7.9 7 8.6 -5.9z"/><path color="#c5ff3f" d="M312.1 195l-8.6 5.9 8 6.8 8.5 -5.7z"/><path color="#caff42" d="M295.6 193.9l-8.6 6.1 7.9 6.8 8.6 -5.9z"/><path color="#b7ff41" d="M303.5 200.9l-8.6 5.9 8 6.8 8.6 -5.9z"/><path color="#e7ff4d" d="M238.4 184.8l-8.7 6.7 7.8 7 8.7 -6.7z"/><path color="#d4ff4c" d="M246.2 191.8l-8.7 6.7 7.8 6.8 8.7 -6.5z"/><path color="#d6ff4f" d="M229.7 191.5l-8.7 6.8 7.7 6.9 8.8 -6.7z"/><path color="#c4ff4e" d="M237.5 198.5l-8.8 6.7 7.8 6.8 8.8 -6.7z"/><path color="#18ff61" d="M598.3 241l-7.6 2.4 8.6 6.9 7.6 -2.3z"/><path color="#18ff7f" d="M606.9 248l-7.6 2.3 8.7 6.9 7.6 -2.3z"/><path color="#19ff65" d="M590.7 243.4l-7.7 2.6 8.6 6.8 7.7 -2.5z"/><path color="#18ff82" d="M599.3 250.3l-7.7 2.5 8.7 6.8 7.7 -2.4z"/><path color="#cdff38" d="M337 190.8l-8.4 5.5 8 7 8.4 -5.5z"/><path color="#b8ff37" d="M345 197.8l-8.4 5.5 8 6.8 8.5 -5.4z"/><path color="#bfff3b" d="M328.6 196.3l-8.6 5.7 8.1 6.8 8.5 -5.5z"/><path color="#abff3a" d="M336.6 203.3l-8.5 5.5 8 6.8 8.5 -5.5z"/><path color="#12eaff" d="M680.5 275.1l-7.4 1.5 8.9 6.8 7.3 -1.4z"/><path color="#12d0ff" d="M689.3 282l-7.3 1.4 8.8 6.7 7.4 -1.4z"/><path color="#13edff" d="M673.1 276.6l-7.4 1.7 8.8 6.6 7.5 -1.5z"/><path color="#13d4ff" d="M682 283.4l-7.5 1.5 8.9 6.6 7.4 -1.4z"/><path color="#c2ff4b" d="M254 198.8l-8.7 6.5 7.8 6.8 8.7 -6.5z"/><path color="#b0ff4a" d="M261.8 205.6l-8.7 6.5 7.9 6.7 8.7 -6.4z"/><path color="#b2ff4d" d="M245.3 205.3l-8.8 6.7 7.9 6.7 8.7 -6.6z"/><path color="#a0ff4c" d="M253.1 212.1l-8.7 6.6 7.8 6.6 8.8 -6.5z"/><path color="#0fadff" d="M712.8 286.3l-7.3 1.2 9 6.8 7.2 -1.1z"/><path color="#0f93ff" d="M721.7 293.2l-7.2 1.1 8.9 6.7 7.3 -1z"/><path color="#10b2ff" d="M705.5 287.5l-7.3 1.2 8.9 6.7 7.4 -1.1z"/><path color="#1099ff" d="M714.5 294.3l-7.4 1.1 9 6.6 7.3 -1z"/><path color="#15ffd7" d="M648.1 264.6l-7.5 1.9 8.8 6.8 7.5 -1.8z"/><path color="#14fff4" d="M656.9 271.5l-7.5 1.8 8.8 6.7 7.5 -1.7z"/><path color="#16ffd6" d="M640.6 266.5l-7.6 2 8.8 6.7 7.6 -1.9z"/><path color="#15fff2" d="M649.4 273.3l-7.6 1.9 8.8 6.6 7.6 -1.8z"/><path color="#19ff68" d="M583 246l-7.7 2.6 8.6 6.8 7.7 -2.6z"/><path color="#19ff85" d="M591.6 252.8l-7.7 2.6 8.6 6.6 7.8 -2.4z"/><path color="#1aff6d" d="M575.3 248.6l-7.8 2.7 8.6 6.7 7.8 -2.6z"/><path color="#1aff89" d="M583.9 255.4l-7.8 2.6 8.7 6.6 7.7 -2.6z"/><path color="#1cff3a" d="M550.3 237.8l-7.8 3 8.5 6.7 7.9 -2.9z"/><path color="#1bff56" d="M558.9 244.6l-7.9 2.9 8.6 6.7 7.9 -2.9z"/><path color="#1cff41" d="M542.5 240.8l-7.9 3.1 8.5 6.7 7.9 -3.1z"/><path color="#1cff5c" d="M551 247.5l-7.9 3.1 8.6 6.5 7.9 -2.9z"/><path color="#28ff1e" d="M517.6 230.3l-8 3.4 8.5 6.8 7.9 -3.3z"/><path color="#1eff2d" d="M526 237.2l-7.9 3.3 8.5 6.6 8 -3.2z"/><path color="#22ff1f" d="M509.6 233.7l-8 3.5 8.5 6.7 8 -3.4z"/><path color="#1eff35" d="M518.1 240.5l-8 3.4 8.5 6.6 8 -3.4z"/><path color="#47ff20" d="M484.8 223.7l-8.1 3.7 8.4 6.8 8.1 -3.7z"/><path color="#31ff20" d="M493.2 230.5l-8.1 3.7 8.4 6.6 8.1 -3.6z"/><path color="#40ff21" d="M476.7 227.4l-8.1 3.9 8.4 6.7 8.1 -3.8z"/><path color="#2aff21" d="M485.1 234.2l-8.1 3.8 8.4 6.6 8.1 -3.8z"/><path color="#63ff22" d="M451.9 217.8l-8.2 4.1 8.4 6.8 8.1 -4.1z"/><path color="#4dff22" d="M460.2 224.6l-8.1 4.1 8.3 6.6 8.2 -4z"/><path color="#59ff23" d="M443.7 221.9l-8.2 4.3 8.3 6.7 8.3 -4.2z"/><path color="#44ff23" d="M452.1 228.7l-8.3 4.2 8.4 6.5 8.2 -4.1z"/><path color="#7cff27" d="M419 212.6l-8.3 4.6 8.3 6.8 8.2 -4.5z"/><path color="#66ff26" d="M427.2 219.5l-8.2 4.5 8.3 6.6 8.2 -4.4z"/><path color="#72ff29" d="M410.7 217.2l-8.3 4.7 8.3 6.6 8.3 -4.5z"/><path color="#5dff28" d="M419 224l-8.3 4.5 8.2 6.6 8.4 -4.5z"/><path color="#92ff2e" d="M386 208.3l-8.3 5 8.1 6.7 8.4 -4.9z"/><path color="#7dff2d" d="M394.2 215.1l-8.4 4.9 8.2 6.7 8.4 -4.8z"/><path color="#87ff31" d="M377.7 213.3l-8.4 5 8.1 6.7 8.4 -5z"/><path color="#72ff30" d="M385.8 220l-8.4 5 8.2 6.6 8.4 -4.9z"/><path color="#a4ff36" d="M353.1 204.7l-8.5 5.4 8.1 6.8 8.4 -5.3z"/><path color="#90ff35" d="M361.1 211.6l-8.4 5.3 8.1 6.6 8.5 -5.2z"/><path color="#97ff39" d="M344.6 210.1l-8.5 5.5 8.1 6.6 8.5 -5.3z"/><path color="#84ff38" d="M352.7 216.9l-8.5 5.3 8.1 6.6 8.5 -5.3z"/><path color="#bbff45" d="M287 200l-8.6 6.1 7.9 6.8 8.6 -6.1z"/><path color="#a9ff44" d="M294.9 206.8l-8.6 6.1 8 6.7 8.6 -6z"/><path color="#adff47" d="M278.4 206.1l-8.7 6.3 7.9 6.7 8.7 -6.2z"/><path color="#9aff46" d="M286.3 212.9l-8.7 6.2 8 6.6 8.7 -6.1z"/><path color="#c5ff51" d="M221 198.3l-8.8 7 7.7 6.8 8.8 -6.9z"/><path color="#b3ff50" d="M228.7 205.2l-8.8 6.9 7.8 6.7 8.8 -6.8z"/><path color="#b4ff53" d="M212.2 205.3l-8.9 7.1 7.8 6.7 8.8 -7z"/><path color="#a3ff52" d="M219.9 212.1l-8.8 7 7.8 6.6 8.8 -6.9z"/><path color="#17ff9d" d="M615.6 254.9l-7.6 2.3 8.7 6.7 7.6 -2.1z"/><path color="#17ffb9" d="M624.3 261.8l-7.6 2.1 8.7 6.7 7.6 -2.1z"/><path color="#18ff9f" d="M608 257.2l-7.7 2.4 8.7 6.6 7.7 -2.3z"/><path color="#18ffbb" d="M616.7 263.9l-7.7 2.3 8.7 6.6 7.7 -2.2z"/><path color="#b2ff3e" d="M320 202l-8.5 5.7 8 6.8 8.6 -5.7z"/><path color="#9eff3c" d="M328.1 208.8l-8.6 5.7 8 6.6 8.6 -5.5z"/><path color="#a4ff40" d="M311.5 207.7l-8.6 5.9 8 6.7 8.6 -5.8z"/><path color="#91ff3f" d="M319.5 214.5l-8.6 5.8 8 6.6 8.6 -5.8z"/><path color="#11b7ff" d="M698.2 288.7l-7.4 1.4 9 6.6 7.3 -1.3z"/><path color="#119eff" d="M707.1 295.4l-7.3 1.3 9 6.5 7.3 -1.2z"/><path color="#12bcff" d="M690.8 290.1l-7.4 1.4 9 6.5 7.4 -1.3z"/><path color="#12a4ff" d="M699.8 296.7l-7.4 1.3 9 6.5 7.4 -1.3z"/><path color="#a2ff4f" d="M236.5 212l-8.8 6.8 7.8 6.6 8.9 -6.7z"/><path color="#91ff4e" d="M244.4 218.7l-8.9 6.7 7.9 6.5 8.8 -6.6z"/><path color="#93ff52" d="M227.7 218.8l-8.8 6.9 7.8 6.5 8.8 -6.8z"/><path color="#82ff51" d="M235.5 225.4l-8.8 6.8 7.9 6.5 8.8 -6.8z"/><path color="#14f0ff" d="M665.7 278.3l-7.5 1.7 8.8 6.6 7.5 -1.7z"/><path color="#13d8ff" d="M674.5 284.9l-7.5 1.7 9 6.5 7.4 -1.6z"/><path color="#15f2ff" d="M658.2 280l-7.6 1.8 8.9 6.5 7.5 -1.7z"/><path color="#14daff" d="M667 286.6l-7.5 1.7 8.9 6.4 7.6 -1.6z"/><path color="#19ffa1" d="M600.3 259.6l-7.8 2.4 8.8 6.6 7.7 -2.4z"/><path color="#18ffbc" d="M609 266.2l-7.7 2.4 8.7 6.5 7.7 -2.3z"/><path color="#1affa4" d="M592.5 262l-7.7 2.6 8.7 6.5 7.8 -2.5z"/><path color="#19ffbe" d="M601.3 268.6l-7.8 2.5 8.8 6.4 7.7 -2.4z"/><path color="#1fff24" d="M501.6 237.2l-8.1 3.6 8.5 6.6 8.1 -3.5z"/><path color="#1fff3e" d="M510.1 243.9l-8.1 3.5 8.6 6.5 8 -3.4z"/><path color="#20ff2e" d="M493.5 240.8l-8.1 3.8 8.5 6.4 8.1 -3.6z"/><path color="#20ff48" d="M502 247.4l-8.1 3.6 8.6 6.4 8.1 -3.5z"/><path color="#38ff22" d="M468.6 231.3l-8.2 4 8.4 6.6 8.2 -3.9z"/><path color="#23ff21" d="M477 238l-8.2 3.9 8.5 6.5 8.1 -3.8z"/><path color="#30ff23" d="M460.4 235.3l-8.2 4.1 8.4 6.5 8.2 -4z"/><path color="#22ff2b" d="M468.8 241.9l-8.2 4 8.5 6.4 8.2 -3.9z"/><path color="#50ff25" d="M435.5 226.2l-8.2 4.4 8.3 6.6 8.2 -4.3z"/><path color="#3bff24" d="M443.8 232.9l-8.2 4.3 8.3 6.5 8.3 -4.3z"/><path color="#48ff27" d="M427.3 230.6l-8.4 4.5 8.4 6.5 8.3 -4.4z"/><path color="#33ff26" d="M435.6 237.2l-8.3 4.4 8.3 6.4 8.3 -4.3z"/><path color="#8bff3b" d="M336.1 215.6l-8.6 5.5 8.1 6.6 8.6 -5.5z"/><path color="#78ff3a" d="M344.2 222.2l-8.6 5.5 8.1 6.5 8.6 -5.4z"/><path color="#7eff3e" d="M327.5 221.1l-8.6 5.8 8.1 6.5 8.6 -5.7z"/><path color="#6cff3d" d="M335.6 227.7l-8.6 5.7 8.1 6.4 8.6 -5.6z"/><path color="#9eff49" d="M269.7 212.4l-8.7 6.4 7.9 6.6 8.7 -6.3z"/><path color="#8cff48" d="M277.6 219.1l-8.7 6.3 8 6.5 8.7 -6.2z"/><path color="#8fff4b" d="M261 218.8l-8.8 6.5 7.9 6.5 8.8 -6.4z"/><path color="#7eff4a" d="M268.9 225.4l-8.8 6.4 8 6.4 8.8 -6.3z"/><path color="#1dff48" d="M534.6 243.9l-8 3.2 8.6 6.6 7.9 -3.1z"/><path color="#1dff63" d="M543.1 250.6l-7.9 3.1 8.6 6.5 7.9 -3.1z"/><path color="#1eff50" d="M526.6 247.1l-8 3.4 8.6 6.4 8 -3.2z"/><path color="#1eff6a" d="M535.2 253.7l-8 3.2 8.6 6.4 8 -3.1z"/><path color="#68ff2c" d="M402.4 221.9l-8.4 4.8 8.3 6.5 8.4 -4.7z"/><path color="#54ff2b" d="M410.7 228.5l-8.4 4.7 8.3 6.5 8.3 -4.6z"/><path color="#5eff2f" d="M394 226.7l-8.4 4.9 8.3 6.5 8.4 -4.9z"/><path color="#4bff2e" d="M402.3 233.2l-8.4 4.9 8.3 6.4 8.4 -4.8z"/><path color="#0f79ff" d="M730.7 300l-7.3 1 9 6.6 7.3 -0.9z"/><path color="#0e60ff" d="M739.7 306.7l-7.3 0.9 9.1 6.5 7.2 -0.8z"/><path color="#0f80ff" d="M723.4 301l-7.3 1 9.1 6.5 7.2 -0.9z"/><path color="#0f68ff" d="M732.4 307.6l-7.2 0.9 9 6.5 7.3 -0.9z"/><path color="#17ffd6" d="M633 268.5l-7.6 2.1 8.8 6.6 7.6 -2zM625.4 270.6l-7.7 2.2 8.8 6.5 7.7 -2.1z"/><path color="#16fff1" d="M641.8 275.2l-7.6 2 8.8 6.5 7.6 -1.9z"/><path color="#17fff1" d="M634.2 277.2l-7.7 2.1 8.9 6.4 7.6 -2z"/><path color="#1bff72" d="M567.5 251.3l-7.9 2.9 8.7 6.6 7.8 -2.8z"/><path color="#1bff8d" d="M576.1 258l-7.8 2.8 8.6 6.4 7.9 -2.6z"/><path color="#1cff77" d="M559.6 254.2l-7.9 2.9 8.7 6.5 7.9 -2.8z"/><path color="#1cff91" d="M568.3 260.8l-7.9 2.8 8.7 6.4 7.8 -2.8z"/><path color="#7cff34" d="M369.3 218.3l-8.5 5.2 8.2 6.6 8.4 -5.1z"/><path color="#68ff33" d="M377.4 225l-8.4 5.1 8.2 6.5 8.4 -5z"/><path color="#70ff37" d="M360.8 223.5l-8.5 5.3 8.2 6.5 8.5 -5.2z"/><path color="#5dff35" d="M369 230.1l-8.5 5.2 8.2 6.4 8.5 -5.1z"/><path color="#96ff43" d="M302.9 213.6l-8.6 6 8 6.6 8.6 -5.9z"/><path color="#84ff42" d="M310.9 220.3l-8.6 5.9 8 6.5 8.6 -5.8z"/><path color="#89ff45" d="M294.3 219.6l-8.7 6.1 8 6.5 8.7 -6z"/><path color="#77ff44" d="M302.3 226.2l-8.7 6 8 6.4 8.7 -5.9z"/><path color="#a3ff54" d="M203.3 212.4l-8.8 7.2 7.7 6.6 8.9 -7.1z"/><path color="#93ff54" d="M211.1 219.1l-8.9 7.1 7.8 6.5 8.9 -7z"/><path color="#91ff54" d="M194.5 219.6l-9 7.3 7.8 6.6 8.9 -7.3z"/><path color="#81ff54" d="M202.2 226.2l-8.9 7.3 7.7 6.4 9 -7.2z"/><path color="#1086ff" d="M716.1 302l-7.3 1.2 9 6.4 7.4 -1.1z"/><path color="#106fff" d="M725.2 308.5l-7.4 1.1 9.1 6.4 7.3 -1z"/><path color="#118cff" d="M708.8 303.2l-7.4 1.3 9 6.3 7.4 -1.2z"/><path color="#1175ff" d="M717.8 309.6l-7.4 1.2 9.1 6.2 7.4 -1z"/><path color="#13c0ff" d="M683.4 291.5l-7.4 1.6 8.9 6.4 7.5 -1.5z"/><path color="#13a8ff" d="M692.4 298l-7.5 1.5 9 6.3 7.5 -1.3z"/><path color="#14c3ff" d="M676 293.1l-7.6 1.6 9 6.3 7.5 -1.5z"/><path color="#14adff" d="M684.9 299.5l-7.5 1.5 9 6.3 7.5 -1.5z"/><path color="#18ffd7" d="M617.7 272.8l-7.7 2.3 8.8 6.4 7.7 -2.2z"/><path color="#18fff1" d="M626.5 279.3l-7.7 2.2 8.9 6.3 7.7 -2.1z"/><path color="#19ffd8" d="M610 275.1l-7.7 2.4 8.8 6.3 7.7 -2.3z"/><path color="#19fff1" d="M618.8 281.5l-7.7 2.3 8.9 6.2 7.7 -2.2z"/><path color="#21ff39" d="M485.4 244.6l-8.1 3.8 8.5 6.4 8.1 -3.8z"/><path color="#21ff52" d="M493.9 251l-8.1 3.8 8.5 6.3 8.2 -3.7z"/><path color="#22ff44" d="M477.3 248.4l-8.2 3.9 8.5 6.3 8.2 -3.8z"/><path color="#22ff5c" d="M485.8 254.8l-8.2 3.8 8.5 6.2 8.2 -3.7z"/><path color="#27ff23" d="M452.2 239.4l-8.3 4.3 8.5 6.4 8.2 -4.2z"/><path color="#23ff37" d="M460.6 245.9l-8.2 4.2 8.4 6.3 8.3 -4.1z"/><path color="#25ff2d" d="M443.9 243.7l-8.3 4.3 8.5 6.3 8.3 -4.2z"/><path color="#24ff44" d="M452.4 250.1l-8.3 4.2 8.4 6.2 8.3 -4.1z"/><path color="#72ff41" d="M318.9 226.9l-8.6 5.8 8.1 6.4 8.6 -5.7z"/><path color="#60ff40" d="M327 233.4l-8.6 5.7 8.1 6.3 8.6 -5.6z"/><path color="#66ff43" d="M310.3 232.7l-8.7 5.9 8.1 6.3 8.7 -5.8z"/><path color="#55ff43" d="M318.4 239.1l-8.7 5.8 8.1 6.3 8.7 -5.8z"/><path color="#80ff4e" d="M252.2 225.3l-8.8 6.6 7.9 6.5 8.8 -6.6z"/><path color="#70ff4d" d="M260.1 231.8l-8.8 6.6 8 6.3 8.8 -6.5z"/><path color="#72ff50" d="M243.4 231.9l-8.8 6.8 7.9 6.3 8.8 -6.6z"/><path color="#62ff4f" d="M251.3 238.4l-8.8 6.6 7.9 6.3 8.9 -6.6z"/><path color="#83ff54" d="M218.9 225.7l-8.9 7 7.8 6.5 8.9 -7z"/><path color="#73ff53" d="M226.7 232.2l-8.9 7 7.9 6.4 8.9 -6.9z"/><path color="#72ff54" d="M210 232.7l-9 7.2 7.9 6.4 8.9 -7.1z"/><path color="#63ff54" d="M217.8 239.2l-8.9 7.1 7.8 6.3 9 -7z"/><path color="#1fff58" d="M518.6 250.5l-8 3.4 8.5 6.4 8.1 -3.4z"/><path color="#1fff71" d="M527.2 256.9l-8.1 3.4 8.7 6.3 8 -3.3z"/><path color="#20ff61" d="M510.6 253.9l-8.1 3.5 8.5 6.3 8.1 -3.4z"/><path color="#1fff79" d="M519.1 260.3l-8.1 3.4 8.7 6.3 8.1 -3.4z"/><path color="#40ff2a" d="M418.9 235.1l-8.3 4.6 8.3 6.4 8.4 -4.5z"/><path color="#2cff29" d="M427.3 241.6l-8.4 4.5 8.4 6.3 8.3 -4.4z"/><path color="#37ff2d" d="M410.6 239.7l-8.4 4.8 8.3 6.3 8.4 -4.7z"/><path color="#2cff36" d="M418.9 246.1l-8.4 4.7 8.4 6.2 8.4 -4.6z"/><path color="#0e47ff" d="M748.7 313.3l-7.2 0.8 9.1 6.4 7.2 -0.7z"/><path color="#0d2fff" d="M757.8 319.8l-7.2 0.7 9.2 6.4 7.2 -0.6z"/><path color="#0f50ff" d="M741.5 314.1l-7.3 0.9 9.2 6.3 7.2 -0.8z"/><path color="#0e39ff" d="M750.6 320.5l-7.2 0.8 9.1 6.3 7.3 -0.7z"/><path color="#16f4ff" d="M650.6 281.8l-7.6 1.9 8.9 6.4 7.6 -1.8z"/><path color="#15ddff" d="M659.5 288.3l-7.6 1.8 9 6.3 7.5 -1.7z"/><path color="#17f5ff" d="M643 283.7l-7.6 2 8.9 6.3 7.6 -1.9z"/><path color="#16deff" d="M651.9 290.1l-7.6 1.9 9 6.2 7.6 -1.8z"/><path color="#1affa7" d="M584.8 264.6l-7.9 2.6 8.8 6.4 7.8 -2.5z"/><path color="#1affc1" d="M593.5 271.1l-7.8 2.5 8.8 6.4 7.8 -2.5z"/><path color="#1bffab" d="M576.9 267.2l-7.8 2.8 8.7 6.3 7.9 -2.7z"/><path color="#1bffc4" d="M585.7 273.6l-7.9 2.7 8.8 6.2 7.9 -2.5z"/><path color="#65ff39" d="M352.3 228.8l-8.6 5.4 8.2 6.4 8.6 -5.3z"/><path color="#53ff38" d="M360.5 235.3l-8.6 5.3 8.2 6.4 8.6 -5.3z"/><path color="#5aff3c" d="M343.7 234.2l-8.6 5.6 8.2 6.3 8.6 -5.5z"/><path color="#48ff3b" d="M351.9 240.6l-8.6 5.5 8.2 6.2 8.6 -5.3z"/><path color="#7bff47" d="M285.6 225.7l-8.7 6.2 8 6.4 8.7 -6.1z"/><path color="#6aff46" d="M293.6 232.2l-8.7 6.1 8 6.4 8.7 -6.1z"/><path color="#6dff4a" d="M276.9 231.9l-8.8 6.3 8 6.4 8.8 -6.3z"/><path color="#5dff49" d="M284.9 238.3l-8.8 6.3 8 6.2 8.8 -6.1z"/><path color="#7fff54" d="M185.5 226.9l-8.9 7.5 7.7 6.4 9 -7.3z"/><path color="#70ff54" d="M193.3 233.5l-9 7.3 7.8 6.4 8.9 -7.3z"/><path color="#6cff54" d="M176.6 234.4l-9.1 7.5 7.8 6.4 9 -7.5z"/><path color="#5eff54" d="M184.3 240.8l-9 7.5 7.7 6.3 9.1 -7.4z"/><path color="#1dff7d" d="M551.7 257.1l-7.9 3.1 8.6 6.4 8 -3z"/><path color="#1cff96" d="M560.4 263.6l-8 3 8.7 6.3 8 -2.9z"/><path color="#1dff83" d="M543.8 260.2l-8 3.1 8.7 6.3 7.9 -3z"/><path color="#1dff9c" d="M552.4 266.6l-7.9 3 8.7 6.3 7.9 -3z"/><path color="#54ff32" d="M385.6 231.6l-8.4 5 8.2 6.4 8.5 -4.9z"/><path color="#41ff31" d="M393.9 238.1l-8.5 4.9 8.3 6.3 8.5 -4.8z"/><path color="#4bff34" d="M377.2 236.6l-8.5 5.1 8.2 6.3 8.5 -5z"/><path color="#38ff33" d="M385.4 243l-8.5 5 8.3 6.3 8.5 -5z"/><path color="#1058ff" d="M734.2 315l-7.3 1 9.2 6.2 7.3 -0.9z"/><path color="#0f41ff" d="M743.4 321.3l-7.3 0.9 9.2 6.2 7.2 -0.8z"/><path color="#115fff" d="M726.9 316l-7.4 1 9.2 6.2 7.4 -1z"/><path color="#1049ff" d="M736.1 322.2l-7.4 1 9.2 6.1 7.4 -0.9z"/><path color="#18f5ff" d="M635.4 285.7l-7.7 2.1 8.9 6.2 7.7 -2z"/><path color="#17e0ff" d="M644.3 292l-7.7 2 9 6.2 7.7 -2z"/><path color="#18f6ff" d="M627.7 287.8l-7.7 2.2 8.9 6.1 7.7 -2.1z"/><path color="#18e1ff" d="M636.6 294l-7.7 2.1 9 6.1 7.7 -2z"/><path color="#23ff4f" d="M469.1 252.3l-8.3 4.1 8.5 6.2 8.3 -4z"/><path color="#22ff67" d="M477.6 258.6l-8.3 4 8.6 6.1 8.2 -3.9z"/><path color="#23ff5b" d="M460.8 256.4l-8.3 4.1 8.5 6.2 8.3 -4.1z"/><path color="#23ff72" d="M469.3 262.6l-8.3 4.1 8.6 6 8.3 -4z"/><path color="#59ff46" d="M301.6 238.6l-8.7 6.1 8.1 6.2 8.7 -6z"/><path color="#49ff45" d="M309.7 244.9l-8.7 6 8.1 6.2 8.7 -5.9z"/><path color="#4dff48" d="M292.9 244.7l-8.8 6.1 8.1 6.2 8.8 -6.1z"/><path color="#47ff54" d="M301 250.9l-8.8 6.1 8.1 6.1 8.8 -6z"/><path color="#61ff54" d="M201 239.9l-8.9 7.3 7.8 6.3 9 -7.2z"/><path color="#54ff56" d="M208.9 246.3l-9 7.2 7.8 6.2 9 -7.1z"/><path color="#54ff5b" d="M192.1 247.2l-9.1 7.4 7.8 6.2 9.1 -7.3z"/><path color="#54ff6d" d="M199.9 253.5l-9.1 7.3 7.9 6.1 9 -7.2z"/><path color="#20ff6a" d="M502.5 257.4l-8.2 3.7 8.6 6.2 8.1 -3.6z"/><path color="#20ff82" d="M511 263.7l-8.1 3.6 8.6 6.1 8.2 -3.4z"/><path color="#21ff74" d="M494.3 261.1l-8.2 3.7 8.6 6.2 8.2 -3.7z"/><path color="#21ff8a" d="M502.9 267.3l-8.2 3.7 8.6 6 8.2 -3.6z"/><path color="#28ff3c" d="M435.6 248l-8.3 4.4 8.4 6.3 8.4 -4.4z"/><path color="#27ff52" d="M444.1 254.3l-8.4 4.4 8.5 6.1 8.3 -4.3z"/><path color="#2bff4c" d="M427.3 252.4l-8.4 4.6 8.4 6.1 8.4 -4.4z"/><path color="#2aff61" d="M435.7 258.7l-8.4 4.4 8.5 6.1 8.4 -4.4z"/><path color="#0d18ff" d="M767 326.3l-7.2 0.6 9.2 6.2 7.2 -0.5z"/><path color="#0d0dff" d="M776.2 332.6l-7.2 0.5 9.3 6.2 7.1 -0.4z"/><path color="#0e22ff" d="M759.8 326.9l-7.3 0.7 9.3 6.1 7.2 -0.6z"/><path color="#0e0eff" d="M769 333.1l-7.2 0.6 9.3 6.1 7.2 -0.5z"/><path color="#1292ff" d="M701.4 304.5l-7.5 1.3 9.1 6.3 7.4 -1.3z"/><path color="#127cff" d="M710.4 310.8l-7.4 1.3 9.1 6.1 7.4 -1.2z"/><path color="#1397ff" d="M693.9 305.8l-7.5 1.5 9.1 6.1 7.5 -1.3z"/><path color="#1381ff" d="M703 312.1l-7.5 1.3 9.2 6.1 7.4 -1.3z"/><path color="#15c6ff" d="M668.4 294.7l-7.5 1.7 9 6.3 7.5 -1.7z"/><path color="#15b0ff" d="M677.4 301l-7.5 1.7 9 6.1 7.5 -1.5z"/><path color="#16c9ff" d="M660.9 296.4l-7.6 1.8 9 6.2 7.6 -1.7z"/><path color="#16b4ff" d="M669.9 302.7l-7.6 1.7 9 6 7.6 -1.6z"/><path color="#1affda" d="M602.3 277.5l-7.8 2.5 8.8 6.2 7.8 -2.4z"/><path color="#19fff2" d="M611.1 283.8l-7.8 2.4 8.9 6.1 7.8 -2.3z"/><path color="#1bffdc" d="M594.5 280l-7.9 2.5 8.8 6.2 7.9 -2.5z"/><path color="#1afff4" d="M603.3 286.2l-7.9 2.5 8.9 6 7.9 -2.4z"/><path color="#4fff3f" d="M335.1 239.8l-8.6 5.6 8.2 6.2 8.6 -5.5z"/><path color="#3eff3e" d="M343.3 246.1l-8.6 5.5 8.2 6.2 8.6 -5.5z"/><path color="#44ff41" d="M326.5 245.4l-8.7 5.8 8.2 6.1 8.7 -5.7z"/><path color="#40ff51" d="M334.7 251.6l-8.7 5.7 8.2 6.1 8.7 -5.6z"/><path color="#60ff4c" d="M268.1 238.2l-8.8 6.5 7.9 6.3 8.9 -6.4z"/><path color="#50ff4b" d="M276.1 244.6l-8.9 6.4 8.1 6.1 8.8 -6.3z"/><path color="#52ff4e" d="M259.3 244.7l-8.9 6.6 8 6.2 8.8 -6.5z"/><path color="#4dff5b" d="M267.2 251l-8.8 6.5 8 6 8.9 -6.4z"/><path color="#63ff52" d="M234.6 238.7l-8.9 6.9 7.8 6.2 9 -6.8z"/><path color="#54ff51" d="M242.5 245l-9 6.8 8 6.2 8.9 -6.7z"/><path color="#55ff54" d="M225.7 245.6l-9 7 7.9 6.1 8.9 -6.9z"/><path color="#53ff65" d="M233.5 251.8l-8.9 6.9 7.9 6.1 9 -6.8z"/><path color="#5aff54" d="M167.5 241.9l-9 7.7 7.7 6.3 9.1 -7.6z"/><path color="#54ff60" d="M175.3 248.3l-9.1 7.6 7.8 6.2 9 -7.5z"/><path color="#54ff66" d="M158.5 249.6l-9.1 7.9 7.7 6.2 9.1 -7.8z"/><path color="#54ff78" d="M166.2 255.9l-9.1 7.8 7.7 6.1 9.2 -7.7z"/><path color="#1cffaf" d="M569.1 270l-8 2.9 8.8 6.2 7.9 -2.8z"/><path color="#1cffc7" d="M577.8 276.3l-7.9 2.8 8.8 6.1 7.9 -2.7z"/><path color="#1dffb4" d="M561.1 272.9l-7.9 3 8.7 6.1 8 -2.9z"/><path color="#1dffcb" d="M569.9 279.1l-8 2.9 8.8 6 8 -2.8z"/><path color="#1eff8a" d="M535.8 263.3l-8 3.3 8.6 6.2 8.1 -3.2z"/><path color="#1effa2" d="M544.5 269.6l-8.1 3.2 8.7 6.1 8.1 -3z"/><path color="#1fff91" d="M527.8 266.6l-8.1 3.4 8.6 6.1 8.1 -3.3z"/><path color="#1fffa8" d="M536.4 272.8l-8.1 3.3 8.8 6 8 -3.2z"/><path color="#2fff31" d="M402.2 244.5l-8.5 4.8 8.3 6.2 8.5 -4.7z"/><path color="#2eff46" d="M410.5 250.8l-8.5 4.7 8.4 6.2 8.5 -4.7z"/><path color="#32ff42" d="M393.7 249.3l-8.5 5 8.3 6.1 8.5 -4.9z"/><path color="#31ff57" d="M402 255.5l-8.5 4.9 8.4 6 8.5 -4.7z"/><path color="#41ff37" d="M368.7 241.7l-8.6 5.3 8.3 6.2 8.5 -5.2z"/><path color="#36ff3f" d="M376.9 248l-8.5 5.2 8.3 6.1 8.5 -5z"/><path color="#3aff3e" d="M360.1 247l-8.6 5.3 8.3 6.2 8.6 -5.3z"/><path color="#39ff52" d="M368.4 253.2l-8.6 5.3 8.2 6 8.7 -5.2z"/><path color="#0f2bff" d="M752.5 327.6l-7.2 0.8 9.2 6.1 7.3 -0.8z"/><path color="#0f16ff" d="M761.8 333.7l-7.3 0.8 9.3 5.9 7.3 -0.6z"/><path color="#1034ff" d="M745.3 328.4l-7.4 0.9 9.3 5.9 7.3 -0.7z"/><path color="#1020ff" d="M754.5 334.5l-7.3 0.7 9.3 5.9 7.3 -0.7z"/><path color="#17cbff" d="M653.3 298.2l-7.7 2 9 6 7.7 -1.8z"/><path color="#17b6ff" d="M662.3 304.4l-7.7 1.8 9.1 6 7.6 -1.8z"/><path color="#18ccff" d="M645.6 300.2l-7.7 2 9 5.9 7.7 -1.9z"/><path color="#17b9ff" d="M654.6 306.2l-7.7 1.9 9.1 5.9 7.7 -1.8z"/><path color="#4aff57" d="M284.1 250.8l-8.8 6.3 8 6.1 8.9 -6.2z"/><path color="#49ff69" d="M292.2 257l-8.9 6.2 8.1 6 8.9 -6.1z"/><path color="#4cff6c" d="M275.3 257.1l-8.9 6.4 8.1 6 8.8 -6.3z"/><path color="#4bff7d" d="M283.3 263.2l-8.8 6.3 8.1 5.9 8.8 -6.2z"/><path color="#54ff72" d="M183 254.6l-9 7.5 7.8 6.2 9 -7.5z"/><path color="#54ff84" d="M190.8 260.8l-9 7.5 7.8 6 9.1 -7.4z"/><path color="#54ff8a" d="M174 262.1l-9.2 7.7 7.8 6 9.2 -7.5z"/><path color="#54ff9b" d="M181.8 268.3l-9.2 7.5 7.9 6 9.1 -7.5z"/><path color="#22ff7d" d="M486.1 264.8l-8.2 3.9 8.6 6 8.2 -3.7z"/><path color="#22ff94" d="M494.7 271l-8.2 3.7 8.6 6 8.2 -3.7z"/><path color="#23ff88" d="M477.9 268.7l-8.3 4 8.6 5.9 8.3 -3.9z"/><path color="#23ff9d" d="M486.5 274.7l-8.3 3.9 8.6 5.9 8.3 -3.8z"/><path color="#26ff68" d="M452.5 260.5l-8.3 4.3 8.5 6 8.3 -4.1z"/><path color="#25ff7e" d="M461 266.7l-8.3 4.1 8.5 6 8.4 -4.1z"/><path color="#28ff76" d="M444.2 264.8l-8.4 4.4 8.5 5.9 8.4 -4.3z"/><path color="#27ff8b" d="M452.7 270.8l-8.4 4.3 8.5 5.9 8.4 -4.2z"/><path color="#0d0dff" d="M778.3 339.3l-7.2 0.5 9.3 6 7.2 -0.4zM787.6 345.4l-7.2 0.4 9.4 5.9 7.2 -0.3z"/><path color="#0c0cff" d="M785.4 338.9l-7.1 0.4 9.3 6.1 7.1 -0.3zM794.7 345.1l-7.1 0.3 9.4 6 7.1 -0.2z"/><path color="#1266ff" d="M719.5 317l-7.4 1.2 9.2 6.1 7.4 -1.1z"/><path color="#1151ff" d="M728.7 323.2l-7.4 1.1 9.2 5.9 7.4 -0.9z"/><path color="#136cff" d="M712.1 318.2l-7.4 1.3 9.1 5.9 7.5 -1.1z"/><path color="#1258ff" d="M721.3 324.3l-7.5 1.1 9.3 5.9 7.4 -1.1z"/><path color="#19f5ff" d="M620 290l-7.8 2.3 8.9 6.1 7.8 -2.3z"/><path color="#19e1ff" d="M628.9 296.1l-7.8 2.3 9 5.9 7.8 -2.1z"/><path color="#1af5ff" d="M612.2 292.3l-7.9 2.4 9 6 7.8 -2.3z"/><path color="#1ae1ff" d="M621.1 298.4l-7.8 2.3 9 5.8 7.8 -2.2z"/><path color="#44ff52" d="M317.8 251.2l-8.7 5.9 8.1 6 8.8 -5.8z"/><path color="#43ff65" d="M326 257.3l-8.8 5.8 8.2 6 8.8 -5.7z"/><path color="#46ff66" d="M309.1 257.1l-8.8 6 8.1 5.9 8.8 -5.9z"/><path color="#45ff78" d="M317.2 263.1l-8.8 5.9 8.2 5.9 8.8 -5.8z"/><path color="#54ff69" d="M216.7 252.6l-9 7.1 7.9 6.1 9 -7.1z"/><path color="#54ff7a" d="M224.6 258.7l-9 7.1 7.9 6 9 -7z"/><path color="#54ff7f" d="M207.7 259.7l-9 7.2 7.8 6 9.1 -7.1zM149.4 257.5l-9.2 7.9 7.7 6.2 9.2 -7.9z"/><path color="#54ff90" d="M215.6 265.8l-9.1 7.1 8 6 9 -7.1zM157.1 263.7l-9.2 7.9 7.8 6 9.1 -7.8z"/><path color="#54ff98" d="M140.2 265.4l-9.1 8.1 7.6 6.1 9.2 -8z"/><path color="#54ffa9" d="M147.9 271.6l-9.2 8 7.8 5.9 9.2 -7.9z"/><path color="#1bffdf" d="M586.6 282.5l-7.9 2.7 8.8 6.1 7.9 -2.6z"/><path color="#1bfff6" d="M595.4 288.7l-7.9 2.6 8.9 5.9 7.9 -2.5z"/><path color="#1cffe2" d="M578.7 285.2l-8 2.8 8.9 6 7.9 -2.7z"/><path color="#1cfff8" d="M587.5 291.3l-7.9 2.7 8.9 5.8 7.9 -2.6z"/><path color="#1effb9" d="M553.2 275.9l-8.1 3 8.8 6.1 8 -3z"/><path color="#1dffd0" d="M561.9 282l-8 3 8.8 5.9 8 -2.9z"/><path color="#1effbf" d="M545.1 278.9l-8 3.2 8.7 6 8.1 -3.1z"/><path color="#1effd5" d="M553.9 285l-8.1 3.1 8.9 5.8 8 -3z"/><path color="#20ff99" d="M519.7 270l-8.2 3.4 8.7 6.1 8.1 -3.4z"/><path color="#20ffaf" d="M528.3 276.1l-8.1 3.4 8.7 5.9 8.2 -3.3z"/><path color="#21ffa1" d="M511.5 273.4l-8.2 3.6 8.7 6 8.2 -3.5z"/><path color="#20ffb6" d="M520.2 279.5l-8.2 3.5 8.8 5.8 8.1 -3.4z"/><path color="#2dff5b" d="M418.9 257l-8.5 4.7 8.4 6 8.5 -4.6z"/><path color="#2cff70" d="M427.3 263.1l-8.5 4.6 8.5 6 8.5 -4.5z"/><path color="#30ff6b" d="M410.4 261.7l-8.5 4.7 8.4 6 8.5 -4.7z"/><path color="#2fff7f" d="M418.8 267.7l-8.5 4.7 8.5 5.9 8.5 -4.6z"/><path color="#35ff54" d="M385.2 254.3l-8.5 5 8.3 6.1 8.5 -5z"/><path color="#34ff67" d="M393.5 260.4l-8.5 5 8.4 5.9 8.5 -4.9z"/><path color="#38ff65" d="M376.7 259.3l-8.7 5.2 8.4 6 8.6 -5.1z"/><path color="#37ff78" d="M385 265.4l-8.6 5.1 8.4 5.8 8.6 -5z"/><path color="#3dff51" d="M351.5 252.3l-8.6 5.5 8.2 6.1 8.7 -5.4z"/><path color="#3cff64" d="M359.8 258.5l-8.7 5.4 8.3 5.9 8.6 -5.3z"/><path color="#3fff64" d="M342.9 257.8l-8.7 5.6 8.2 6 8.7 -5.5z"/><path color="#3eff76" d="M351.1 263.9l-8.7 5.5 8.3 5.8 8.7 -5.4z"/><path color="#149bff" d="M686.4 307.3l-7.5 1.5 9.1 6.1 7.5 -1.5z"/><path color="#1486ff" d="M695.5 313.4l-7.5 1.5 9.1 5.9 7.6 -1.3z"/><path color="#159fff" d="M678.9 308.8l-7.6 1.6 9.1 6 7.6 -1.5z"/><path color="#158bff" d="M688 314.9l-7.6 1.5 9.2 5.9 7.5 -1.5z"/><path color="#50ff5f" d="M250.4 251.3l-8.9 6.7 8 6.1 8.9 -6.6z"/><path color="#4fff71" d="M258.4 257.5l-8.9 6.6 8 6 8.9 -6.6z"/><path color="#53ff76" d="M241.5 258l-9 6.8 8 6 9 -6.7z"/><path color="#52ff86" d="M249.5 264.1l-9 6.7 8 6 9 -6.7z"/><path color="#0e0eff" d="M771.1 339.8l-7.3 0.6 9.4 5.9 7.2 -0.5zM780.4 345.8l-7.2 0.5 9.4 5.8 7.2 -0.4z"/><path color="#0f0fff" d="M763.8 340.4l-7.3 0.7 9.4 5.8 7.3 -0.6zM773.2 346.3l-7.3 0.6 9.4 5.7 7.3 -0.5z"/><path color="#54ffa2" d="M164.8 269.8l-9.1 7.8 7.8 6 9.1 -7.8z"/><path color="#54ffb2" d="M172.6 275.8l-9.1 7.8 7.8 5.8 9.2 -7.6z"/><path color="#54ffba" d="M155.7 277.6l-9.2 7.9 7.7 5.9 9.3 -7.8z"/><path color="#54ffca" d="M163.5 283.6l-9.3 7.8 7.9 5.8 9.2 -7.8z"/><path color="#113dff" d="M737.9 329.3l-7.4 0.9 9.3 5.9 7.4 -0.9z"/><path color="#1029ff" d="M747.2 335.2l-7.4 0.9 9.3 5.8 7.4 -0.8z"/><path color="#1244ff" d="M730.5 330.2l-7.4 1.1 9.3 5.8 7.4 -1z"/><path color="#1131ff" d="M739.8 336.1l-7.4 1 9.3 5.7 7.4 -0.9z"/><path color="#16a3ff" d="M671.3 310.4l-7.6 1.8 9.1 5.8 7.6 -1.6z"/><path color="#168fff" d="M680.4 316.4l-7.6 1.6 9.1 5.8 7.7 -1.5z"/><path color="#17a6ff" d="M663.7 312.2l-7.7 1.8 9.1 5.8 7.7 -1.8z"/><path color="#1793ff" d="M672.8 318l-7.7 1.8 9.2 5.7 7.6 -1.7z"/><path color="#19ceff" d="M637.9 302.2l-7.8 2.1 9 5.9 7.8 -2.1zM630.1 304.3l-7.8 2.2 9 5.8 7.8 -2.1z"/><path color="#18bbff" d="M646.9 308.1l-7.8 2.1 9.1 5.7 7.8 -1.9z"/><path color="#19bcff" d="M639.1 310.2l-7.8 2.1 9.1 5.7 7.8 -2.1z"/><path color="#24ff93" d="M469.6 272.7l-8.4 4.1 8.6 5.8 8.4 -4z"/><path color="#23ffa7" d="M478.2 278.6l-8.4 4 8.7 5.8 8.3 -3.9z"/><path color="#26ff9f" d="M461.2 276.8l-8.4 4.2 8.6 5.7 8.4 -4.1z"/><path color="#25ffb2" d="M469.8 282.6l-8.4 4.1 8.7 5.7 8.4 -4z"/><path color="#48ff7a" d="M300.3 263.1l-8.9 6.1 8.2 5.9 8.8 -6.1z"/><path color="#47ff8b" d="M308.4 269l-8.8 6.1 8.2 5.8 8.8 -6z"/><path color="#4bff8e" d="M291.4 269.2l-8.8 6.2 8.1 5.8 8.9 -6.1z"/><path color="#4aff9f" d="M299.6 275.1l-8.9 6.1 8.2 5.8 8.9 -6.1z"/><path color="#4fff81" d="M266.4 263.5l-8.9 6.6 8 5.9 9 -6.5z"/><path color="#4eff92" d="M274.5 269.5l-9 6.5 8.1 5.8 9 -6.4z"/><path color="#51ff97" d="M257.5 270.1l-9 6.7 8.1 5.8 8.9 -6.6z"/><path color="#50ffa6" d="M265.5 276l-8.9 6.6 8 5.7 9 -6.5z"/><path color="#54ff95" d="M198.7 266.9l-9.1 7.4 7.9 5.9 9 -7.3z"/><path color="#54ffa5" d="M206.5 272.9l-9 7.3 7.9 5.9 9.1 -7.2z"/><path color="#54ffab" d="M189.6 274.3l-9.1 7.5 7.8 5.8 9.2 -7.4z"/><path color="#54ffbb" d="M197.5 280.2l-9.2 7.4 7.9 5.8 9.2 -7.3z"/><path color="#1ae1ff" d="M613.3 300.7l-7.9 2.4 9 5.7 7.9 -2.3z"/><path color="#1bf4ff" d="M604.3 294.7l-7.9 2.5 9 5.9 7.9 -2.4z"/><path color="#1cf2ff" d="M596.4 297.2l-7.9 2.6 9 5.8 7.9 -2.5z"/><path color="#1be0ff" d="M605.4 303.1l-7.9 2.5 9 5.7 7.9 -2.5z"/><path color="#1dffe6" d="M570.7 288l-8 2.9 8.9 5.9 8 -2.8z"/><path color="#1dfffb" d="M579.6 294l-8 2.8 8.9 5.7 8 -2.7z"/><path color="#1effea" d="M562.7 290.9l-8 3 8.8 5.8 8.1 -2.9z"/><path color="#1dffff" d="M571.6 296.8l-8.1 2.9 8.9 5.7 8.1 -2.9z"/><path color="#1fffc5" d="M537.1 282.1l-8.2 3.3 8.8 5.9 8.1 -3.2z"/><path color="#1fffda" d="M545.8 288.1l-8.1 3.2 8.8 5.7 8.2 -3.1z"/><path color="#20ffcb" d="M528.9 285.4l-8.1 3.4 8.7 5.8 8.2 -3.3z"/><path color="#20ffe0" d="M537.7 291.3l-8.2 3.3 8.9 5.6 8.1 -3.2z"/><path color="#21ffa9" d="M503.3 277l-8.2 3.7 8.7 5.8 8.2 -3.5z"/><path color="#21ffbe" d="M512 283l-8.2 3.5 8.7 5.8 8.3 -3.5z"/><path color="#22ffb2" d="M495.1 280.7l-8.3 3.8 8.7 5.8 8.3 -3.8z"/><path color="#22ffc6" d="M503.8 286.5l-8.3 3.8 8.8 5.6 8.2 -3.6z"/><path color="#2bff84" d="M435.8 269.2l-8.5 4.5 8.5 5.8 8.5 -4.4z"/><path color="#2aff98" d="M444.3 275.1l-8.5 4.4 8.6 5.8 8.4 -4.3z"/><path color="#2eff92" d="M427.3 273.7l-8.5 4.6 8.5 5.7 8.5 -4.5z"/><path color="#2dffa5" d="M435.8 279.5l-8.5 4.5 8.6 5.7 8.5 -4.4z"/><path color="#33ff7b" d="M401.9 266.4l-8.5 4.9 8.4 5.9 8.5 -4.8z"/><path color="#32ff8e" d="M410.3 272.4l-8.5 4.8 8.5 5.8 8.5 -4.7z"/><path color="#36ff8b" d="M393.4 271.3l-8.6 5 8.4 5.8 8.6 -4.9z"/><path color="#35ff9d" d="M401.8 277.2l-8.6 4.9 8.5 5.7 8.6 -4.8z"/><path color="#3aff77" d="M368 264.5l-8.6 5.3 8.3 5.9 8.7 -5.2z"/><path color="#39ff89" d="M376.4 270.5l-8.7 5.2 8.4 5.8 8.7 -5.2z"/><path color="#3dff88" d="M359.4 269.8l-8.7 5.4 8.3 5.8 8.7 -5.3z"/><path color="#3cff9a" d="M367.7 275.7l-8.7 5.3 8.4 5.7 8.7 -5.2z"/><path color="#42ff77" d="M334.2 263.4l-8.8 5.7 8.3 5.9 8.7 -5.6z"/><path color="#41ff88" d="M342.4 269.4l-8.7 5.6 8.2 5.8 8.8 -5.6z"/><path color="#44ff8a" d="M325.4 269.1l-8.8 5.8 8.3 5.8 8.8 -5.7z"/><path color="#43ff9a" d="M333.7 275l-8.8 5.7 8.2 5.7 8.8 -5.6z"/><path color="#1472ff" d="M704.7 319.5l-7.6 1.3 9.2 5.9 7.5 -1.3z"/><path color="#135fff" d="M713.8 325.4l-7.5 1.3 9.3 5.8 7.5 -1.2z"/><path color="#1478ff" d="M697.1 320.8l-7.5 1.5 9.2 5.8 7.5 -1.4z"/><path color="#1465ff" d="M706.3 326.7l-7.5 1.4 9.2 5.6 7.6 -1.2z"/><path color="#54ff8b" d="M232.5 264.8l-9 7 8 5.9 9 -6.9z"/><path color="#54ff9c" d="M240.5 270.8l-9 6.9 8 5.8 9 -6.7z"/><path color="#54ffa0" d="M223.5 271.8l-9 7.1 7.9 5.8 9.1 -7z"/><path color="#54ffb0" d="M231.5 277.7l-9.1 7 8 5.8 9.1 -7z"/><path color="#1016ff" d="M756.5 341.1l-7.4 0.8 9.4 5.7 7.4 -0.7z"/><path color="#1010ff" d="M765.9 346.9l-7.4 0.7 9.5 5.6 7.3 -0.6z"/><path color="#111fff" d="M749.1 341.9l-7.4 0.9 9.4 5.6 7.4 -0.8z"/><path color="#1111ff" d="M758.5 347.6l-7.4 0.8 9.5 5.5 7.4 -0.7z"/><path color="#157cff" d="M689.6 322.3l-7.7 1.5 9.3 5.7 7.6 -1.4z"/><path color="#156aff" d="M698.8 328.1l-7.6 1.4 9.2 5.6 7.6 -1.4z"/><path color="#1681ff" d="M681.9 323.8l-7.6 1.7 9.2 5.6 7.7 -1.6z"/><path color="#166fff" d="M691.2 329.5l-7.7 1.6 9.3 5.5 7.6 -1.5z"/><path color="#53ffab" d="M248.5 276.8l-9 6.7 8 5.8 9.1 -6.7z"/><path color="#52ffbb" d="M256.6 282.6l-9.1 6.7 8.1 5.6 9 -6.6z"/><path color="#54ffc0" d="M239.5 283.5l-9.1 7 8.1 5.6 9 -6.8z"/><path color="#54ffcf" d="M247.5 289.3l-9 6.8 8 5.6 9.1 -6.8z"/><path color="#54ffc2" d="M180.5 281.8l-9.2 7.6 7.8 5.8 9.2 -7.6z"/><path color="#54ffd2" d="M188.3 287.6l-9.2 7.6 7.9 5.7 9.2 -7.5z"/><path color="#54ffda" d="M171.3 289.4l-9.2 7.8 7.8 5.7 9.2 -7.7z"/><path color="#54ffe9" d="M179.1 295.2l-9.2 7.7 7.9 5.6 9.2 -7.6z"/><path color="#1acfff" d="M622.3 306.5l-7.9 2.3 9 5.7 7.9 -2.2z"/><path color="#1abdff" d="M631.3 312.3l-7.9 2.2 9.1 5.6 7.9 -2.1z"/><path color="#1bceff" d="M614.4 308.8l-7.9 2.5 9 5.5 7.9 -2.3z"/><path color="#1bbdff" d="M623.4 314.5l-7.9 2.3 9.1 5.5 7.9 -2.2z"/><path color="#1cf0ff" d="M588.5 299.8l-8 2.7 9 5.7 8 -2.6z"/><path color="#1cdfff" d="M597.5 305.6l-8 2.6 9 5.6 8 -2.5z"/><path color="#1deeff" d="M580.5 302.5l-8.1 2.9 9 5.5 8.1 -2.7z"/><path color="#1dddff" d="M589.5 308.2l-8.1 2.7 9 5.5 8.1 -2.6z"/><path color="#1fffef" d="M554.7 293.9l-8.2 3.1 8.9 5.7 8.1 -3z"/><path color="#1efcff" d="M563.5 299.7l-8.1 3 8.9 5.6 8.1 -2.9z"/><path color="#1ffff4" d="M546.5 297l-8.1 3.2 8.9 5.6 8.1 -3.1z"/><path color="#1ff8ff" d="M555.4 302.7l-8.1 3.1 8.9 5.5 8.1 -3z"/><path color="#21ffd3" d="M520.8 288.8l-8.3 3.5 8.8 5.7 8.2 -3.4z"/><path color="#21ffe6" d="M529.5 294.6l-8.2 3.4 8.9 5.6 8.2 -3.4z"/><path color="#22ffda" d="M512.5 292.3l-8.2 3.6 8.7 5.6 8.3 -3.5z"/><path color="#21ffed" d="M521.3 298l-8.3 3.5 8.9 5.5 8.3 -3.4z"/><path color="#31ffa0" d="M418.8 278.3l-8.5 4.7 8.5 5.7 8.5 -4.7z"/><path color="#30ffb2" d="M427.3 284l-8.5 4.7 8.5 5.5 8.6 -4.5z"/><path color="#33ffae" d="M410.3 283l-8.6 4.8 8.5 5.6 8.6 -4.7z"/><path color="#32ffc0" d="M418.8 288.7l-8.6 4.7 8.5 5.5 8.6 -4.7z"/><path color="#38ff9b" d="M384.8 276.3l-8.7 5.2 8.4 5.7 8.7 -5.1z"/><path color="#37ffac" d="M393.2 282.1l-8.7 5.1 8.5 5.6 8.7 -5z"/><path color="#3bffab" d="M376.1 281.5l-8.7 5.2 8.4 5.6 8.7 -5.1z"/><path color="#3affbb" d="M384.5 287.2l-8.7 5.1 8.5 5.5 8.7 -5z"/><path color="#40ff9a" d="M350.7 275.2l-8.8 5.6 8.4 5.7 8.7 -5.5z"/><path color="#3fffaa" d="M359 281l-8.7 5.5 8.4 5.6 8.7 -5.4z"/><path color="#43ffab" d="M341.9 280.8l-8.8 5.6 8.4 5.6 8.8 -5.5z"/><path color="#42ffbb" d="M350.3 286.5l-8.8 5.5 8.3 5.6 8.9 -5.5z"/><path color="#47ff9c" d="M316.6 274.9l-8.8 6 8.2 5.7 8.9 -5.9z"/><path color="#46ffac" d="M324.9 280.7l-8.9 5.9 8.3 5.6 8.8 -5.8z"/><path color="#49ffaf" d="M307.8 280.9l-8.9 6.1 8.2 5.6 8.9 -6z"/><path color="#48ffbe" d="M316 286.6l-8.9 6 8.3 5.5 8.9 -5.9z"/><path color="#54ffda" d="M213.3 291.8l-9.1 7.3 7.9 5.6 9.2 -7.2z"/><path color="#134cff" d="M723.1 331.3l-7.5 1.2 9.3 5.7 7.5 -1.1z"/><path color="#1239ff" d="M732.4 337.1l-7.5 1.1 9.4 5.6 7.4 -1z"/><path color="#1453ff" d="M715.6 332.5l-7.6 1.2 9.4 5.6 7.5 -1.1z"/><path color="#1341ff" d="M724.9 338.2l-7.5 1.1 9.3 5.6 7.6 -1.1z"/><path color="#18a8ff" d="M656 314l-7.8 1.9 9.1 5.7 7.8 -1.8z"/><path color="#1896ff" d="M665.1 319.8l-7.8 1.8 9.2 5.6 7.8 -1.7z"/><path color="#19aaff" d="M648.2 315.9l-7.8 2.1 9.1 5.6 7.8 -2z"/><path color="#1899ff" d="M657.3 321.6l-7.8 2 9.3 5.4 7.7 -1.8z"/><path color="#23ffbb" d="M486.8 284.5l-8.3 3.9 8.7 5.7 8.3 -3.8z"/><path color="#23ffcf" d="M495.5 290.3l-8.3 3.8 8.7 5.6 8.4 -3.8z"/><path color="#24ffc5" d="M478.5 288.4l-8.4 4 8.7 5.6 8.4 -3.9z"/><path color="#24ffd8" d="M487.2 294.1l-8.4 3.9 8.7 5.5 8.4 -3.8z"/><path color="#29ffab" d="M452.8 281l-8.4 4.3 8.6 5.7 8.4 -4.3z"/><path color="#28ffbe" d="M461.4 286.7l-8.4 4.3 8.6 5.5 8.5 -4.1z"/><path color="#2cffb7" d="M444.4 285.3l-8.5 4.4 8.6 5.6 8.5 -4.3z"/><path color="#2bffc9" d="M453 291l-8.5 4.3 8.6 5.5 8.5 -4.3z"/><path color="#4dffa2" d="M282.6 275.4l-9 6.4 8.2 5.7 8.9 -6.3z"/><path color="#4cffb2" d="M290.7 281.2l-8.9 6.3 8.2 5.7 8.9 -6.2z"/><path color="#4fffb6" d="M273.6 281.8l-9 6.5 8.2 5.6 9 -6.4z"/><path color="#4effc5" d="M281.8 287.5l-9 6.4 8.2 5.6 9 -6.3z"/><path color="#54ffb5" d="M214.5 278.9l-9.1 7.2 7.9 5.7 9.1 -7.1z"/><path color="#54ffc5" d="M222.4 284.7l-9.1 7.1 8 5.7 9.1 -7z"/><path color="#54ffcb" d="M205.4 286.1l-9.2 7.3 8 5.7 9.1 -7.3z"/><path color="#54ffe9" d="M221.3 297.5l-9.2 7.2 8.1 5.4 9.1 -7z"/><path color="#1559ff" d="M708 333.7l-7.6 1.4 9.4 5.5 7.6 -1.3z"/><path color="#1448ff" d="M717.4 339.3l-7.6 1.3 9.4 5.4 7.5 -1.1z"/><path color="#165fff" d="M700.4 335.1l-7.6 1.5 9.3 5.4 7.7 -1.4z"/><path color="#154eff" d="M709.8 340.6l-7.7 1.4 9.4 5.3 7.7 -1.3z"/><path color="#54ffd4" d="M230.4 290.5l-9.1 7 8 5.6 9.2 -7z"/><path color="#54ffe2" d="M238.5 296.1l-9.2 7 8.1 5.4 9.1 -6.8z"/><path color="#54fff6" d="M229.3 303.1l-9.1 7 8 5.4 9.2 -7z"/><path color="#1bbdff" d="M615.5 316.8l-8 2.5 9.2 5.4 7.9 -2.4z"/><path color="#1cceff" d="M606.5 311.3l-8 2.5 9 5.5 8 -2.5z"/><path color="#1dcdff" d="M598.5 313.8l-8.1 2.6 9.1 5.4 8 -2.5z"/><path color="#1cbdff" d="M607.5 319.3l-8 2.5 9.2 5.3 8 -2.4z"/><path color="#1eebff" d="M572.4 305.4l-8.1 2.9 9 5.5 8.1 -2.9z"/><path color="#1edbff" d="M581.4 310.9l-8.1 2.9 9.1 5.4 8 -2.8z"/><path color="#1fe8ff" d="M564.3 308.3l-8.1 3 9 5.4 8.1 -2.9z"/><path color="#1ed8ff" d="M573.3 313.8l-8.1 2.9 9 5.3 8.2 -2.8z"/><path color="#20fff9" d="M538.4 300.2l-8.2 3.4 8.8 5.4 8.3 -3.2z"/><path color="#20f4ff" d="M547.3 305.8l-8.3 3.2 9 5.4 8.2 -3.1z"/><path color="#21ffff" d="M530.2 303.6l-8.3 3.4 8.9 5.4 8.2 -3.4z"/><path color="#21efff" d="M539 309l-8.2 3.4 8.9 5.3 8.3 -3.3z"/><path color="#36ffbd" d="M401.7 287.8l-8.7 5 8.5 5.5 8.7 -4.9z"/><path color="#35ffcd" d="M410.2 293.4l-8.7 4.9 8.6 5.4 8.6 -4.8z"/><path color="#39ffcb" d="M393 292.8l-8.7 5 8.5 5.4 8.7 -4.9z"/><path color="#38ffdb" d="M401.5 298.3l-8.7 4.9 8.6 5.4 8.7 -4.9z"/><path color="#3effbb" d="M367.4 286.7l-8.7 5.4 8.4 5.5 8.7 -5.3z"/><path color="#3dffca" d="M375.8 292.3l-8.7 5.3 8.4 5.4 8.8 -5.2z"/><path color="#41ffcb" d="M358.7 292.1l-8.9 5.5 8.5 5.4 8.8 -5.4z"/><path color="#3fffda" d="M367.1 297.6l-8.8 5.4 8.4 5.3 8.8 -5.3z"/><path color="#45ffbc" d="M333.1 286.4l-8.8 5.8 8.3 5.5 8.9 -5.7z"/><path color="#44ffcc" d="M341.5 292l-8.9 5.7 8.4 5.5 8.8 -5.6z"/><path color="#47ffcd" d="M324.3 292.2l-8.9 5.9 8.3 5.5 8.9 -5.9z"/><path color="#46ffdc" d="M332.6 297.7l-8.9 5.9 8.4 5.3 8.9 -5.7z"/><path color="#1228ff" d="M741.7 342.8l-7.4 1 9.4 5.5 7.4 -0.9z"/><path color="#1216ff" d="M751.1 348.4l-7.4 0.9 9.5 5.4 7.4 -0.8z"/><path color="#1330ff" d="M734.3 343.8l-7.6 1.1 9.5 5.4 7.5 -1z"/><path color="#131fff" d="M743.7 349.3l-7.5 1 9.5 5.3 7.5 -0.9z"/><path color="#1785ff" d="M674.3 325.5l-7.8 1.7 9.3 5.5 7.7 -1.6z"/><path color="#1774ff" d="M683.5 331.1l-7.7 1.6 9.3 5.4 7.7 -1.5z"/><path color="#1888ff" d="M666.5 327.2l-7.7 1.8 9.2 5.4 7.8 -1.7z"/><path color="#1878ff" d="M675.8 332.7l-7.8 1.7 9.3 5.4 7.8 -1.7z"/><path color="#22ffe2" d="M504.3 295.9l-8.4 3.8 8.8 5.4 8.3 -3.6z"/><path color="#22fff4" d="M513 301.5l-8.3 3.6 8.9 5.4 8.3 -3.5z"/><path color="#23ffea" d="M495.9 299.7l-8.4 3.8 8.8 5.4 8.4 -3.8z"/><path color="#23fffc" d="M504.7 305.1l-8.4 3.8 8.9 5.3 8.4 -3.7z"/><path color="#2fffc4" d="M435.9 289.7l-8.6 4.5 8.6 5.5 8.6 -4.4z"/><path color="#2dffd5" d="M444.5 295.3l-8.6 4.4 8.7 5.4 8.5 -4.3z"/><path color="#31ffd1" d="M427.3 294.2l-8.6 4.7 8.6 5.4 8.6 -4.6z"/><path color="#30ffe1" d="M435.9 299.7l-8.6 4.6 8.7 5.3 8.6 -4.5z"/><path color="#51ffca" d="M264.6 288.3l-9 6.6 8.2 5.6 9 -6.6z"/><path color="#50ffd8" d="M272.8 293.9l-9 6.6 8.1 5.4 9.1 -6.4z"/><path color="#54ffdd" d="M255.6 294.9l-9.1 6.8 8.2 5.4 9.1 -6.6z"/><path color="#53ffeb" d="M263.8 300.5l-9.1 6.6 8.1 5.4 9.1 -6.6z"/><path color="#54ffe1" d="M196.2 293.4l-9.2 7.5 8 5.6 9.2 -7.4z"/><path color="#54fff0" d="M204.2 299.1l-9.2 7.4 7.9 5.4 9.2 -7.2z"/><path color="#54fff7" d="M187 300.9l-9.2 7.6 7.9 5.5 9.3 -7.5z"/><path color="#54f9ff" d="M195 306.5l-9.3 7.5 8 5.4 9.2 -7.5z"/><path color="#1aacff" d="M640.4 318l-7.9 2.1 9.2 5.5 7.8 -2z"/><path color="#199bff" d="M649.5 323.6l-7.8 2 9.2 5.4 7.9 -2z"/><path color="#1aadff" d="M632.5 320.1l-7.9 2.2 9.2 5.4 7.9 -2.1z"/><path color="#1a9dff" d="M641.7 325.6l-7.9 2.1 9.2 5.3 7.9 -2z"/><path color="#4bffc1" d="M298.9 287l-8.9 6.2 8.2 5.5 8.9 -6.1z"/><path color="#4affd0" d="M307.1 292.6l-8.9 6.1 8.3 5.4 8.9 -6z"/><path color="#4dffd4" d="M290 293.2l-9 6.3 8.2 5.4 9 -6.2z"/><path color="#4cffe2" d="M298.2 298.7l-9 6.2 8.3 5.4 9 -6.2z"/><path color="#27ffd0" d="M470.1 292.4l-8.5 4.1 8.7 5.5 8.5 -4z"/><path color="#26ffe2" d="M478.8 298l-8.5 4 8.8 5.4 8.4 -3.9z"/><path color="#2affdb" d="M461.6 296.5l-8.5 4.3 8.8 5.4 8.4 -4.2z"/><path color="#29ffec" d="M470.3 302l-8.4 4.2 8.7 5.3 8.5 -4.1z"/><path color="#1437ff" d="M726.7 344.9l-7.5 1.1 9.4 5.3 7.6 -1z"/><path color="#1428ff" d="M736.2 350.3l-7.6 1 9.5 5.3 7.6 -1z"/><path color="#153fff" d="M719.2 346l-7.7 1.3 9.5 5.2 7.6 -1.2z"/><path color="#1530ff" d="M728.6 351.3l-7.6 1.2 9.5 5.1 7.6 -1z"/><path color="#54fffd" d="M212.1 304.7l-9.2 7.2 8.1 5.4 9.2 -7.2z"/><path color="#54f5ff" d="M220.2 310.1l-9.2 7.2 8 5.3 9.2 -7.1z"/><path color="#54eeff" d="M202.9 311.9l-9.2 7.5 8 5.3 9.3 -7.4z"/><path color="#54e2ff" d="M211 317.3l-9.3 7.4 8 5.2 9.3 -7.3z"/><path color="#1dcbff" d="M590.4 316.4l-8 2.8 9 5.2 8.1 -2.6z"/><path color="#1dbcff" d="M599.5 321.8l-8.1 2.6 9.2 5.2 8.1 -2.5z"/><path color="#1ec9ff" d="M582.4 319.2l-8.2 2.8 9.1 5.2 8.1 -2.8z"/><path color="#1ebbff" d="M591.4 324.4l-8.1 2.8 9.2 5.1 8.1 -2.7z"/><path color="#20e4ff" d="M556.2 311.3l-8.2 3.1 9 5.3 8.2 -3z"/><path color="#1fd5ff" d="M565.2 316.7l-8.2 3 9 5.2 8.2 -2.9z"/><path color="#20e0ff" d="M548 314.4l-8.3 3.3 9 5.2 8.3 -3.2z"/><path color="#20d2ff" d="M557 319.7l-8.3 3.2 9.1 5.1 8.2 -3.1z"/><path color="#3cffda" d="M384.3 297.8l-8.8 5.2 8.6 5.3 8.7 -5.1z"/><path color="#3bffe9" d="M392.8 303.2l-8.7 5.1 8.5 5.3 8.8 -5z"/><path color="#3effe8" d="M375.5 303l-8.8 5.3 8.5 5.3 8.9 -5.3z"/><path color="#3dfff7" d="M384.1 308.3l-8.9 5.3 8.6 5.1 8.8 -5.1z"/><path color="#43ffda" d="M349.8 297.6l-8.8 5.6 8.4 5.3 8.9 -5.5z"/><path color="#42ffe9" d="M358.3 303l-8.9 5.5 8.5 5.2 8.8 -5.4z"/><path color="#45ffea" d="M341 303.2l-8.9 5.7 8.4 5.2 8.9 -5.6z"/><path color="#44fff8" d="M349.4 308.5l-8.9 5.6 8.5 5.2 8.9 -5.6z"/><path color="#54fff0" d="M246.5 301.7l-9.1 6.8 8.1 5.4 9.2 -6.8z"/><path color="#1764ff" d="M692.8 336.6l-7.7 1.5 9.3 5.3 7.7 -1.4z"/><path color="#1654ff" d="M702.1 342l-7.7 1.4 9.5 5.2 7.6 -1.3z"/><path color="#1769ff" d="M685.1 338.1l-7.8 1.7 9.4 5.2 7.7 -1.6z"/><path color="#175aff" d="M694.4 343.4l-7.7 1.6 9.4 5.1 7.8 -1.5z"/><path color="#22f9ff" d="M521.9 307l-8.3 3.5 8.9 5.3 8.3 -3.4z"/><path color="#21eaff" d="M530.8 312.4l-8.3 3.4 8.9 5.2 8.3 -3.3z"/><path color="#23f3ff" d="M513.6 310.5l-8.4 3.7 8.9 5.2 8.4 -3.6z"/><path color="#22e5ff" d="M522.5 315.8l-8.4 3.6 8.9 5.1 8.4 -3.5z"/><path color="#34ffdd" d="M418.7 298.9l-8.6 4.8 8.6 5.3 8.6 -4.7z"/><path color="#33ffed" d="M427.3 304.3l-8.6 4.7 8.7 5.2 8.6 -4.6z"/><path color="#37ffea" d="M410.1 303.7l-8.7 4.9 8.6 5.2 8.7 -4.8z"/><path color="#36fff9" d="M418.7 309l-8.7 4.8 8.6 5.1 8.8 -4.7z"/><path color="#54fffe" d="M254.7 307.1l-9.2 6.8 8.2 5.3 9.1 -6.7z"/><path color="#54fbff" d="M237.4 308.5l-9.2 7 8.2 5.3 9.1 -6.9z"/><path color="#54efff" d="M245.5 313.9l-9.1 6.9 8.1 5.2 9.2 -6.8z"/><path color="#198bff" d="M658.8 329l-7.9 2 9.3 5.3 7.8 -1.9z"/><path color="#197cff" d="M668 334.4l-7.8 1.9 9.3 5.2 7.8 -1.7z"/><path color="#1a8eff" d="M650.9 331l-7.9 2 9.3 5.2 7.9 -1.9z"/><path color="#197fff" d="M660.2 336.3l-7.9 1.9 9.3 5.1 7.9 -1.8z"/><path color="#1badff" d="M624.6 322.3l-7.9 2.4 9.1 5.3 8 -2.3z"/><path color="#1b9eff" d="M633.8 327.7l-8 2.3 9.3 5.2 7.9 -2.2z"/><path color="#1caeff" d="M616.7 324.7l-8 2.4 9.1 5.2 8 -2.3z"/><path color="#1c9fff" d="M625.8 330l-8 2.3 9.3 5.1 8 -2.2z"/><path color="#49ffdf" d="M315.4 298.1l-8.9 6 8.3 5.4 8.9 -5.9z"/><path color="#48ffed" d="M323.7 303.6l-8.9 5.9 8.3 5.2 9 -5.8z"/><path color="#4cfff0" d="M306.5 304.1l-9 6.2 8.3 5.2 9 -6z"/><path color="#4bfffd" d="M314.8 309.5l-9 6 8.3 5.2 9 -6z"/><path color="#50ffe6" d="M281 299.5l-9.1 6.4 8.2 5.4 9.1 -6.4z"/><path color="#4ffff4" d="M289.2 304.9l-9.1 6.4 8.3 5.3 9.1 -6.3z"/><path color="#52fff8" d="M271.9 305.9l-9.1 6.6 8.3 5.3 9 -6.5z"/><path color="#51f9ff" d="M280.1 311.3l-9 6.5 8.2 5.2 9.1 -6.4z"/><path color="#25fff3" d="M487.5 303.5l-8.4 3.9 8.8 5.3 8.4 -3.8z"/><path color="#24fbff" d="M496.3 308.9l-8.4 3.8 8.9 5.2 8.4 -3.7z"/><path color="#28fffc" d="M479.1 307.4l-8.5 4.1 8.8 5.2 8.5 -4z"/><path color="#26f4ff" d="M487.9 312.7l-8.5 4 8.9 5.1 8.5 -3.9z"/><path color="#2cffe6" d="M453.1 300.8l-8.5 4.3 8.7 5.4 8.6 -4.3z"/><path color="#2bfff6" d="M461.9 306.2l-8.6 4.3 8.8 5.2 8.5 -4.2z"/><path color="#2ffff1" d="M444.6 305.1l-8.6 4.5 8.7 5.2 8.6 -4.3z"/><path color="#2efeff" d="M453.3 310.5l-8.6 4.3 8.8 5.2 8.6 -4.3z"/><path color="#1fc7ff" d="M574.2 322l-8.2 2.9 9.1 5.1 8.2 -2.8z"/><path color="#1fb9ff" d="M583.3 327.2l-8.2 2.8 9.2 5 8.2 -2.7z"/><path color="#20c4ff" d="M566 324.9l-8.2 3.1 9.1 5 8.2 -3z"/><path color="#1fb7ff" d="M575.1 330l-8.2 3 9.1 4.9 8.3 -2.9z"/><path color="#41fff7" d="M366.7 308.3l-8.8 5.4 8.5 5.2 8.8 -5.3z"/><path color="#40faff" d="M375.2 313.6l-8.8 5.3 8.6 5 8.8 -5.2z"/><path color="#44f9ff" d="M357.9 313.7l-8.9 5.6 8.5 5 8.9 -5.4z"/><path color="#43eeff" d="M366.4 318.9l-8.9 5.4 8.5 5 9 -5.4z"/><path color="#1645ff" d="M711.5 347.3l-7.6 1.3 9.4 5.1 7.7 -1.2z"/><path color="#1537ff" d="M721 352.5l-7.7 1.2 9.6 5.1 7.6 -1.2z"/><path color="#174bff" d="M703.9 348.6l-7.8 1.5 9.5 5 7.7 -1.4z"/><path color="#163eff" d="M713.3 353.7l-7.7 1.4 9.5 4.9 7.8 -1.2z"/><path color="#21dcff" d="M539.7 317.7l-8.3 3.3 9 5.1 8.3 -3.2z"/><path color="#21ceff" d="M548.7 322.9l-8.3 3.2 9.1 5 8.3 -3.1z"/><path color="#22d7ff" d="M531.4 321l-8.4 3.5 9.1 5 8.3 -3.4z"/><path color="#22caff" d="M540.4 326.1l-8.3 3.4 9 4.9 8.4 -3.3z"/><path color="#3afff7" d="M401.4 308.6l-8.8 5 8.6 5.1 8.8 -4.9z"/><path color="#38f9ff" d="M410 313.8l-8.8 4.9 8.7 5 8.7 -4.8z"/><path color="#3cfaff" d="M392.6 313.6l-8.8 5.1 8.6 5 8.8 -5z"/><path color="#3beeff" d="M401.2 318.7l-8.8 5 8.7 5 8.8 -5z"/><path color="#54e9ff" d="M228.2 315.5l-9.2 7.1 8.1 5.3 9.3 -7.1z"/><path color="#54deff" d="M236.4 320.8l-9.3 7.1 8.2 5.1 9.2 -7z"/><path color="#54d7ff" d="M219 322.6l-9.3 7.3 8.1 5.1 9.3 -7.1z"/><path color="#54cdff" d="M227.1 327.9l-9.3 7.1 8.2 5 9.3 -7z"/><path color="#54f5ff" d="M262.8 312.5l-9.1 6.7 8.2 5.2 9.2 -6.6z"/><path color="#186dff" d="M677.3 339.8l-7.8 1.7 9.4 5.1 7.8 -1.6z"/><path color="#185fff" d="M686.7 345l-7.8 1.6 9.4 5 7.8 -1.5z"/><path color="#1971ff" d="M669.5 341.5l-7.9 1.8 9.4 5.1 7.9 -1.8z"/><path color="#1963ff" d="M678.9 346.6l-7.9 1.8 9.5 4.9 7.8 -1.7z"/><path color="#1a90ff" d="M643 333l-7.9 2.2 9.3 5.1 7.9 -2.1z"/><path color="#1a81ff" d="M652.3 338.2l-7.9 2.1 9.3 5 7.9 -2z"/><path color="#1b91ff" d="M635.1 335.2l-8 2.2 9.3 5 8 -2.1z"/><path color="#1b84ff" d="M644.4 340.3l-8 2.1 9.3 4.9 8 -2z"/><path color="#1daeff" d="M608.7 327.1l-8.1 2.5 9.2 5.2 8 -2.5z"/><path color="#1ca0ff" d="M617.8 332.3l-8 2.5 9.2 5 8.1 -2.4z"/><path color="#1eadff" d="M600.6 329.6l-8.1 2.7 9.2 5 8.1 -2.5z"/><path color="#1da0ff" d="M609.8 334.8l-8.1 2.5 9.2 4.9 8.1 -2.4z"/><path color="#23edff" d="M505.2 314.2l-8.4 3.7 8.9 5.2 8.4 -3.7z"/><path color="#23dfff" d="M514.1 319.4l-8.4 3.7 8.9 5 8.4 -3.6z"/><path color="#25e6ff" d="M496.8 317.9l-8.5 3.9 8.9 5 8.5 -3.7z"/><path color="#24d9ff" d="M505.7 323.1l-8.5 3.7 9 4.9 8.4 -3.6z"/><path color="#2af9ff" d="M470.6 311.5l-8.5 4.2 8.8 5.1 8.5 -4.1z"/><path color="#29ecff" d="M479.4 316.7l-8.5 4.1 8.8 5 8.6 -4z"/><path color="#2df1ff" d="M462.1 315.7l-8.6 4.3 8.8 5 8.6 -4.2z"/><path color="#2ce4ff" d="M470.9 320.8l-8.6 4.2 8.9 4.9 8.5 -4.1z"/><path color="#32fffc" d="M436 309.6l-8.6 4.6 8.7 5.1 8.6 -4.5z"/><path color="#31f5ff" d="M444.7 314.8l-8.6 4.5 8.7 5.1 8.7 -4.4z"/><path color="#35f8ff" d="M427.4 314.2l-8.8 4.7 8.8 5 8.7 -4.6z"/><path color="#34ebff" d="M436.1 319.3l-8.7 4.6 8.7 5 8.7 -4.5z"/><path color="#48fffa" d="M332.1 308.9l-9 5.8 8.5 5.2 8.9 -5.8z"/><path color="#47f8ff" d="M340.5 314.1l-8.9 5.8 8.4 5.1 9 -5.7z"/><path color="#4af5ff" d="M323.1 314.7l-9 6 8.4 5.1 9.1 -5.9z"/><path color="#49eaff" d="M331.6 319.9l-9.1 5.9 8.5 5 9 -5.8z"/><path color="#4efdff" d="M297.5 310.3l-9.1 6.3 8.3 5.1 9.1 -6.2z"/><path color="#4df2ff" d="M305.8 315.5l-9.1 6.2 8.4 5.1 9 -6.1z"/><path color="#50eeff" d="M288.4 316.6l-9.1 6.4 8.3 5 9.1 -6.3z"/><path color="#4fe4ff" d="M296.7 321.7l-9.1 6.3 8.4 5 9.1 -6.2z"/><path color="#53eaff" d="M271.1 317.8l-9.2 6.6 8.3 5.1 9.1 -6.5z"/><path color="#54e5ff" d="M253.7 319.2l-9.2 6.8 8.2 5.1 9.2 -6.7z"/><path color="#54daff" d="M261.9 324.4l-9.2 6.7 8.3 5 9.2 -6.6z"/><path color="#1851ff" d="M696.1 350.1l-7.8 1.5 9.5 4.9 7.8 -1.4z"/><path color="#1744ff" d="M705.6 355.1l-7.8 1.4 9.6 4.9 7.7 -1.4z"/><path color="#1856ff" d="M688.3 351.6l-7.8 1.7 9.5 4.8 7.8 -1.6z"/><path color="#184aff" d="M697.8 356.5l-7.8 1.6 9.6 4.7 7.8 -1.4z"/><path color="#1a74ff" d="M661.6 343.3l-7.9 2 9.4 4.9 7.9 -1.8z"/><path color="#1a67ff" d="M671 348.4l-7.9 1.8 9.5 4.8 7.9 -1.7z"/><path color="#1b77ff" d="M653.7 345.3l-8 2 9.4 4.9 8 -2z"/><path color="#1a6bff" d="M663.1 350.2l-8 2 9.5 4.7 8 -1.9z"/><path color="#1c92ff" d="M627.1 337.4l-8.1 2.4 9.3 4.9 8.1 -2.3z"/><path color="#1c85ff" d="M636.4 342.4l-8.1 2.3 9.4 4.8 8 -2.2z"/><path color="#1d93ff" d="M619 339.8l-8.1 2.4 9.3 4.8 8.1 -2.3z"/><path color="#1d87ff" d="M628.3 344.7l-8.1 2.3 9.4 4.7 8.1 -2.2z"/><path color="#1eacff" d="M592.5 332.3l-8.2 2.7 9.2 5 8.2 -2.7z"/><path color="#1e9fff" d="M601.7 337.3l-8.2 2.7 9.3 4.8 8.1 -2.6z"/><path color="#1faaff" d="M584.3 335l-8.3 2.9 9.3 4.8 8.2 -2.7z"/><path color="#1f9eff" d="M593.5 340l-8.2 2.7 9.2 4.7 8.3 -2.6z"/><path color="#21c1ff" d="M557.8 328l-8.3 3.1 9.1 5 8.3 -3.1z"/><path color="#20b5ff" d="M566.9 333l-8.3 3.1 9.2 4.8 8.2 -3z"/><path color="#21beff" d="M549.5 331.1l-8.4 3.3 9.1 4.8 8.4 -3.1z"/><path color="#21b2ff" d="M558.6 336.1l-8.4 3.1 9.2 4.8 8.4 -3.1z"/><path color="#3fefff" d="M383.8 318.7l-8.8 5.2 8.6 5 8.8 -5.2z"/><path color="#3ee3ff" d="M392.4 323.7l-8.8 5.2 8.6 4.8 8.9 -5z"/><path color="#42e3ff" d="M375 323.9l-9 5.4 8.6 4.9 9 -5.3z"/><path color="#41d8ff" d="M383.6 328.9l-9 5.3 8.7 4.7 8.9 -5.2z"/><path color="#46ecff" d="M349 319.3l-9 5.7 8.5 4.9 9 -5.6z"/><path color="#45e2ff" d="M357.5 324.3l-9 5.6 8.6 4.9 8.9 -5.5z"/><path color="#48e0ff" d="M340 325l-9 5.8 8.5 4.8 9 -5.7z"/><path color="#47d5ff" d="M348.5 329.9l-9 5.7 8.6 4.8 9 -5.6z"/><path color="#4ce7ff" d="M314.1 320.7l-9 6.1 8.4 5 9 -6z"/><path color="#4bddff" d="M322.5 325.8l-9 6 8.4 4.9 9.1 -5.9z"/><path color="#4ed9ff" d="M305.1 326.8l-9.1 6.2 8.4 4.9 9.1 -6.1z"/><path color="#4dcfff" d="M313.5 331.8l-9.1 6.1 8.4 4.8 9.1 -6z"/><path color="#52dfff" d="M279.3 323l-9.1 6.5 8.3 5 9.1 -6.5z"/><path color="#51d5ff" d="M287.6 328l-9.1 6.5 8.3 4.9 9.2 -6.4z"/><path color="#54d0ff" d="M270.2 329.5l-9.2 6.6 8.3 4.9 9.2 -6.5z"/><path color="#54c7ff" d="M278.5 334.5l-9.2 6.5 8.3 4.8 9.2 -6.4z"/><path color="#54d4ff" d="M244.5 326l-9.2 7 8.2 5 9.2 -6.9z"/><path color="#54caff" d="M252.7 331.1l-9.2 6.9 8.2 4.9 9.3 -6.8z"/><path color="#54c3ff" d="M235.3 333l-9.3 7 8.2 5 9.3 -7z"/><path color="#54baff" d="M243.5 338l-9.3 7 8.2 4.8 9.3 -6.9z"/><path color="#23d2ff" d="M523 324.5l-8.4 3.6 9 4.9 8.5 -3.5z"/><path color="#22c6ff" d="M532.1 329.5l-8.5 3.5 9.1 4.8 8.4 -3.4z"/><path color="#24cdff" d="M514.6 328.1l-8.4 3.6 9 4.9 8.4 -3.6z"/><path color="#23c1ff" d="M523.6 333l-8.4 3.6 9 4.7 8.5 -3.5z"/><path color="#28dfff" d="M488.3 321.8l-8.6 4 9 4.9 8.5 -3.9z"/><path color="#27d3ff" d="M497.2 326.8l-8.5 3.9 8.9 4.8 8.6 -3.8z"/><path color="#2bd8ff" d="M479.7 325.8l-8.5 4.1 8.9 4.8 8.6 -4z"/><path color="#2acdff" d="M488.7 330.7l-8.6 4 8.9 4.8 8.6 -4z"/><path color="#30e8ff" d="M453.5 320l-8.7 4.4 8.8 4.9 8.7 -4.3z"/><path color="#2fdcff" d="M462.3 325l-8.7 4.3 8.9 4.8 8.7 -4.2z"/><path color="#33e0ff" d="M444.8 324.4l-8.7 4.5 8.8 4.8 8.7 -4.4z"/><path color="#31d4ff" d="M453.6 329.3l-8.7 4.4 8.9 4.7 8.7 -4.3z"/><path color="#37edff" d="M418.6 318.9l-8.7 4.8 8.7 5 8.8 -4.8z"/><path color="#36e2ff" d="M427.4 323.9l-8.8 4.8 8.8 4.8 8.7 -4.6z"/><path color="#3ae3ff" d="M409.9 323.7l-8.8 5 8.7 4.8 8.8 -4.8z"/><path color="#39d8ff" d="M418.6 328.7l-8.8 4.8 8.8 4.8 8.8 -4.8z"/><path color="#195bff" d="M680.5 353.3l-7.9 1.7 9.5 4.7 7.9 -1.6z"/><path color="#194fff" d="M690 358.1l-7.9 1.6 9.6 4.7 7.9 -1.6z"/><path color="#1a5fff" d="M672.6 355l-8 1.9 9.6 4.6 7.9 -1.8z"/><path color="#1a54ff" d="M682.1 359.7l-7.9 1.8 9.5 4.5 8 -1.6z"/><path color="#1b79ff" d="M645.7 347.3l-8 2.2 9.4 4.7 8 -2z"/><path color="#1b6eff" d="M655.1 352.2l-8 2 9.5 4.6 8 -1.9z"/><path color="#1c7bff" d="M637.7 349.5l-8.1 2.2 9.4 4.7 8.1 -2.2z"/><path color="#1c70ff" d="M647.1 354.2l-8.1 2.2 9.5 4.5 8.1 -2.1z"/><path color="#1e93ff" d="M610.9 342.2l-8.1 2.6 9.3 4.7 8.1 -2.5zM602.8 344.8l-8.3 2.6 9.4 4.7 8.2 -2.6z"/><path color="#1d88ff" d="M620.2 347l-8.1 2.5 9.4 4.6 8.1 -2.4z"/><path color="#1e88ff" d="M612.1 349.5l-8.2 2.6 9.4 4.5 8.2 -2.5z"/><path color="#20a9ff" d="M576 337.9l-8.2 3 9.2 4.7 8.3 -2.9z"/><path color="#209dff" d="M585.3 342.7l-8.3 2.9 9.3 4.6 8.2 -2.8z"/><path color="#21a6ff" d="M567.8 340.9l-8.4 3.1 9.2 4.6 8.4 -3z"/><path color="#209cff" d="M577 345.6l-8.4 3 9.3 4.5 8.4 -2.9z"/><path color="#22baff" d="M541.1 334.4l-8.4 3.4 9.1 4.7 8.4 -3.3z"/><path color="#22aeff" d="M550.2 339.2l-8.4 3.3 9.2 4.6 8.4 -3.1z"/><path color="#23b5ff" d="M532.7 337.8l-8.5 3.5 9.2 4.6 8.4 -3.4z"/><path color="#23abff" d="M541.8 342.5l-8.4 3.4 9.2 4.5 8.4 -3.3z"/><path color="#26c7ff" d="M506.2 331.7l-8.6 3.8 9 4.8 8.6 -3.7z"/><path color="#25bcff" d="M515.2 336.6l-8.6 3.7 9.1 4.6 8.5 -3.6z"/><path color="#29c1ff" d="M497.6 335.5l-8.6 4 9.1 4.6 8.5 -3.8z"/><path color="#28b7ff" d="M506.6 340.3l-8.5 3.8 9 4.5 8.6 -3.7z"/><path color="#2ed1ff" d="M471.2 329.9l-8.7 4.2 8.9 4.7 8.7 -4.1z"/><path color="#2dc6ff" d="M480.1 334.7l-8.7 4.1 9 4.7 8.6 -4z"/><path color="#30caff" d="M462.5 334.1l-8.7 4.3 8.9 4.7 8.7 -4.3z"/><path color="#2fbfff" d="M471.4 338.8l-8.7 4.3 9 4.5 8.7 -4.1z"/><path color="#35d7ff" d="M436.1 328.9l-8.7 4.6 8.8 4.8 8.7 -4.6z"/><path color="#34ccff" d="M444.9 333.7l-8.7 4.6 8.9 4.6 8.7 -4.5z"/><path color="#38ceff" d="M427.4 333.5l-8.8 4.8 8.8 4.6 8.8 -4.6z"/><path color="#37c4ff" d="M436.2 338.3l-8.8 4.6 8.8 4.6 8.9 -4.6z"/><path color="#3dd9ff" d="M401.1 328.7l-8.9 5 8.7 4.8 8.9 -5z"/><path color="#3cceff" d="M409.8 333.5l-8.9 5 8.8 4.6 8.9 -4.8z"/><path color="#40ceff" d="M392.2 333.7l-8.9 5.2 8.7 4.7 8.9 -5.1z"/><path color="#3fc5ff" d="M400.9 338.5l-8.9 5.1 8.8 4.5 8.9 -5z"/><path color="#44d7ff" d="M366 329.3l-8.9 5.5 8.6 4.8 8.9 -5.4z"/><path color="#43cdff" d="M374.6 334.2l-8.9 5.4 8.6 4.6 9 -5.3z"/><path color="#46ccff" d="M357.1 334.8l-9 5.6 8.6 4.7 9 -5.5z"/><path color="#45c2ff" d="M365.7 339.6l-9 5.5 8.6 4.5 9 -5.4z"/><path color="#4ad3ff" d="M331 330.8l-9.1 5.9 8.5 4.7 9.1 -5.8z"/><path color="#49c9ff" d="M339.5 335.6l-9.1 5.8 8.6 4.7 9.1 -5.7z"/><path color="#4dc6ff" d="M321.9 336.7l-9.1 6 8.5 4.7 9.1 -6z"/><path color="#4cbdff" d="M330.4 341.4l-9.1 6 8.6 4.6 9.1 -5.9z"/><path color="#51cbff" d="M296 333l-9.2 6.4 8.4 4.8 9.2 -6.3z"/><path color="#50c2ff" d="M304.4 337.9l-9.2 6.3 8.4 4.7 9.2 -6.2z"/><path color="#53bdff" d="M286.8 339.4l-9.2 6.4 8.4 4.7 9.2 -6.3z"/><path color="#52b5ff" d="M295.2 344.2l-9.2 6.3 8.4 4.7 9.2 -6.3z"/><path color="#54c1ff" d="M261 336.1l-9.3 6.8 8.3 4.8 9.3 -6.7z"/><path color="#54b8ff" d="M269.3 341l-9.3 6.7 8.3 4.7 9.3 -6.6z"/><path color="#54b1ff" d="M251.7 342.9l-9.3 6.9 8.3 4.7 9.3 -6.8z"/><path color="#54a8ff" d="M260 347.7l-9.3 6.8 8.3 4.7 9.3 -6.8z"/><path color="#1b63ff" d="M664.6 356.9l-8 1.9 9.6 4.5 8 -1.8z"/><path color="#1b58ff" d="M674.2 361.5l-8 1.8 9.6 4.5 7.9 -1.8z"/><path color="#1c66ff" d="M656.6 358.8l-8.1 2.1 9.6 4.4 8.1 -2z"/><path color="#1b5cff" d="M666.2 363.3l-8.1 2 9.6 4.3 8.1 -1.8z"/><path color="#1d7dff" d="M629.6 351.7l-8.1 2.4 9.4 4.5 8.1 -2.2z"/><path color="#1d72ff" d="M639 356.4l-8.1 2.2 9.5 4.4 8.1 -2.1z"/><path color="#1e7eff" d="M621.5 354.1l-8.2 2.5 9.4 4.4 8.2 -2.4z"/><path color="#1e74ff" d="M630.9 358.6l-8.2 2.4 9.5 4.3 8.2 -2.3z"/><path color="#4fb9ff" d="M312.8 342.7l-9.2 6.2 8.5 4.6 9.2 -6.1z"/><path color="#4eb0ff" d="M321.3 347.4l-9.2 6.1 8.6 4.5 9.2 -6z"/><path color="#51acff" d="M303.6 348.9l-9.2 6.3 8.5 4.5 9.2 -6.2z"/><path color="#50a4ff" d="M312.1 353.5l-9.2 6.2 8.6 4.4 9.2 -6.1z"/><path color="#54afff" d="M277.6 345.8l-9.3 6.6 8.4 4.7 9.3 -6.6z"/><path color="#54a7ff" d="M286 350.5l-9.3 6.6 8.5 4.5 9.2 -6.4z"/><path color="#54a0ff" d="M268.3 352.4l-9.3 6.8 8.4 4.5 9.3 -6.6z"/><path color="#5499ff" d="M276.7 357.1l-9.3 6.6 8.4 4.4 9.4 -6.5z"/><path color="#1f92ff" d="M594.5 347.4l-8.2 2.8 9.3 4.5 8.3 -2.6z"/><path color="#1f88ff" d="M603.9 352.1l-8.3 2.6 9.4 4.4 8.3 -2.5z"/><path color="#2091ff" d="M586.3 350.2l-8.4 2.9 9.4 4.4 8.3 -2.8z"/><path color="#2088ff" d="M595.6 354.7l-8.3 2.8 9.4 4.3 8.3 -2.7z"/><path color="#24b1ff" d="M524.2 341.3l-8.5 3.6 9.2 4.5 8.5 -3.5z"/><path color="#23a7ff" d="M533.4 345.9l-8.5 3.5 9.1 4.4 8.6 -3.4z"/><path color="#27acff" d="M515.7 344.9l-8.6 3.7 9.2 4.4 8.6 -3.6z"/><path color="#26a3ff" d="M524.9 349.4l-8.6 3.6 9.2 4.4 8.5 -3.6z"/><path color="#2bbbff" d="M489 339.5l-8.6 4 9 4.5 8.7 -3.9z"/><path color="#2ab1ff" d="M498.1 344.1l-8.7 3.9 9.1 4.4 8.6 -3.8z"/><path color="#2eb5ff" d="M480.4 343.5l-8.7 4.1 9 4.5 8.7 -4.1z"/><path color="#2dacff" d="M489.4 348l-8.7 4.1 9.1 4.3 8.7 -4z"/><path color="#33c2ff" d="M453.8 338.4l-8.7 4.5 8.9 4.5 8.7 -4.3z"/><path color="#32b8ff" d="M462.7 343.1l-8.7 4.3 9 4.5 8.7 -4.3z"/><path color="#36baff" d="M445.1 342.9l-8.9 4.6 9 4.4 8.8 -4.5z"/><path color="#35b1ff" d="M454 347.4l-8.8 4.5 9 4.4 8.8 -4.4z"/><path color="#3bc5ff" d="M418.6 338.3l-8.9 4.8 8.8 4.6 8.9 -4.8z"/><path color="#3abbff" d="M427.4 342.9l-8.9 4.8 8.9 4.5 8.8 -4.7z"/><path color="#3dbbff" d="M409.7 343.1l-8.9 5 8.8 4.5 8.9 -4.9z"/><path color="#3cb3ff" d="M418.5 347.7l-8.9 4.9 8.9 4.4 8.9 -4.8z"/><path color="#49c0ff" d="M348.1 340.4l-9.1 5.7 8.6 4.6 9.1 -5.6z"/><path color="#48b7ff" d="M356.7 345.1l-9.1 5.6 8.6 4.5 9.1 -5.6z"/><path color="#4bb4ff" d="M339 346.1l-9.1 5.9 8.6 4.5 9.1 -5.8z"/><path color="#4aacff" d="M347.6 350.7l-9.1 5.8 8.6 4.4 9.1 -5.7z"/><path color="#22a4ff" d="M559.4 344l-8.4 3.1 9.3 4.6 8.3 -3.1z"/><path color="#2199ff" d="M568.6 348.6l-8.3 3.1 9.2 4.4 8.4 -3z"/><path color="#22a1ff" d="M551 347.1l-8.4 3.3 9.2 4.5 8.5 -3.2z"/><path color="#2297ff" d="M560.3 351.7l-8.5 3.2 9.3 4.3 8.4 -3.1z"/><path color="#42c4ff" d="M383.3 338.9l-9 5.3 8.7 4.6 9 -5.2z"/><path color="#41bbff" d="M392 343.6l-9 5.2 8.8 4.5 9 -5.2z"/><path color="#45b9ff" d="M374.3 344.2l-9 5.4 8.7 4.5 9 -5.3z"/><path color="#44b1ff" d="M383 348.8l-9 5.3 8.8 4.4 9 -5.2z"/><path color="#1c69ff" d="M648.5 360.9l-8.1 2.1 9.6 4.4 8.1 -2.1z"/><path color="#1c5fff" d="M658.1 365.3l-8.1 2.1 9.6 4.2 8.1 -2z"/><path color="#1d6bff" d="M640.4 363l-8.2 2.3 9.6 4.2 8.2 -2.1z"/><path color="#1d62ff" d="M650 367.4l-8.2 2.1 9.6 4.1 8.2 -2z"/><path color="#1f7eff" d="M613.3 356.6l-8.3 2.5 9.5 4.4 8.2 -2.5z"/><path color="#1e75ff" d="M622.7 361l-8.2 2.5 9.5 4.2 8.2 -2.4z"/><path color="#1f7fff" d="M605 359.1l-8.3 2.7 9.5 4.2 8.3 -2.5z"/><path color="#1f76ff" d="M614.5 363.5l-8.3 2.5 9.5 4.2 8.3 -2.5z"/><path color="#29a8ff" d="M507.1 348.6l-8.6 3.8 9.2 4.4 8.6 -3.8z"/><path color="#289fff" d="M516.3 353l-8.6 3.8 9.2 4.2 8.6 -3.6z"/><path color="#2ca3ff" d="M498.5 352.4l-8.7 4 9.2 4.2 8.7 -3.8z"/><path color="#2b9aff" d="M507.7 356.8l-8.7 3.8 9.2 4.2 8.7 -3.8z"/><path color="#31afff" d="M471.7 347.6l-8.7 4.3 9 4.3 8.7 -4.1z"/><path color="#30a6ff" d="M480.7 352.1l-8.7 4.1 9.1 4.3 8.7 -4.1z"/><path color="#34a8ff" d="M463 351.9l-8.8 4.4 9 4.2 8.8 -4.3z"/><path color="#33a0ff" d="M472 356.2l-8.8 4.3 9.1 4.1 8.8 -4.1z"/><path color="#39b2ff" d="M436.2 347.5l-8.8 4.7 8.9 4.3 8.9 -4.6z"/><path color="#38aaff" d="M445.2 351.9l-8.9 4.6 9 4.3 8.9 -4.5z"/><path color="#3baaff" d="M427.4 352.2l-8.9 4.8 8.9 4.2 8.9 -4.7z"/><path color="#3aa2ff" d="M436.3 356.5l-8.9 4.7 9 4.2 8.9 -4.6z"/><path color="#4da8ff" d="M329.9 352l-9.2 6 8.6 4.4 9.2 -5.9z"/><path color="#4ca0ff" d="M338.5 356.5l-9.2 5.9 8.6 4.3 9.2 -5.8z"/><path color="#4f9cff" d="M320.7 358l-9.2 6.1 8.5 4.3 9.3 -6z"/><path color="#4e95ff" d="M329.3 362.4l-9.3 6 8.7 4.2 9.2 -5.9z"/><path color="#539fff" d="M294.4 355.2l-9.2 6.4 8.4 4.4 9.3 -6.3z"/><path color="#5297ff" d="M302.9 359.7l-9.3 6.3 8.6 4.3 9.3 -6.2z"/><path color="#5491ff" d="M285.2 361.6l-9.4 6.5 8.5 4.4 9.3 -6.5z"/><path color="#548bff" d="M293.6 366l-9.3 6.5 8.5 4.2 9.4 -6.4z"/><path color="#2190ff" d="M577.9 353.1l-8.4 3 9.4 4.3 8.4 -2.9z"/><path color="#2187ff" d="M587.3 357.5l-8.4 2.9 9.4 4.2 8.4 -2.8z"/><path color="#228eff" d="M569.5 356.1l-8.4 3.1 9.4 4.2 8.4 -3z"/><path color="#2186ff" d="M578.9 360.4l-8.4 3 9.4 4.1 8.4 -2.9z"/><path color="#239dff" d="M542.6 350.4l-8.6 3.4 9.3 4.4 8.5 -3.3z"/><path color="#2394ff" d="M551.8 354.9l-8.5 3.3 9.3 4.2 8.5 -3.2z"/><path color="#2499ff" d="M534 353.8l-8.5 3.6 9.2 4.2 8.6 -3.4z"/><path color="#2491ff" d="M543.3 358.2l-8.6 3.4 9.3 4.1 8.6 -3.3z"/><path color="#40b2ff" d="M400.8 348.1l-9 5.2 8.8 4.3 9 -5z"/><path color="#3faaff" d="M409.6 352.6l-9 5 8.9 4.3 9 -4.9z"/><path color="#43a9ff" d="M391.8 353.3l-9 5.2 8.8 4.3 9 -5.2z"/><path color="#42a1ff" d="M400.6 357.6l-9 5.2 8.9 4.1 9 -5z"/><path color="#47aeff" d="M365.3 349.6l-9.1 5.6 8.7 4.4 9.1 -5.5z"/><path color="#46a6ff" d="M374 354.1l-9.1 5.5 8.8 4.3 9.1 -5.4z"/><path color="#49a4ff" d="M356.2 355.2l-9.1 5.7 8.7 4.3 9.1 -5.6z"/><path color="#489cff" d="M364.9 359.6l-9.1 5.6 8.8 4.1 9.1 -5.4z"/><path color="#1e6dff" d="M632.2 365.3l-8.2 2.4 9.6 4.1 8.2 -2.3z"/><path color="#1e65ff" d="M641.8 369.5l-8.2 2.3 9.6 4 8.2 -2.2z"/><path color="#1f6eff" d="M624 367.7l-8.3 2.5 9.6 4 8.3 -2.4z"/><path color="#1f67ff" d="M633.6 371.8l-8.3 2.4 9.6 3.9 8.3 -2.3z"/><path color="#2f9eff" d="M489.8 356.4l-8.7 4.1 9.1 4.1 8.8 -4z"/><path color="#2e96ff" d="M499 360.6l-8.8 4 9.2 4 8.8 -3.8z"/><path color="#3298ff" d="M481.1 360.5l-8.8 4.1 9.1 4.1 8.8 -4.1z"/><path color="#3191ff" d="M490.2 364.6l-8.8 4.1 9.2 3.9 8.8 -4z"/><path color="#36a2ff" d="M454.2 356.3l-8.9 4.5 9 4.1 8.9 -4.4z"/><path color="#359aff" d="M463.2 360.5l-8.9 4.4 9.1 4 8.9 -4.3z"/><path color="#399bff" d="M445.3 360.8l-8.9 4.6 9 4 8.9 -4.5z"/><path color="#3894ff" d="M454.3 364.9l-8.9 4.5 9.1 4 8.9 -4.5z"/><path color="#5290ff" d="M311.5 364.1l-9.3 6.2 8.6 4.2 9.2 -6.1z"/><path color="#5189ff" d="M320 368.4l-9.2 6.1 8.6 4.1 9.3 -6z"/><path color="#5484ff" d="M302.2 370.3l-9.4 6.4 8.6 4.1 9.4 -6.3z"/><path color="#537eff" d="M310.8 374.5l-9.4 6.3 8.6 4 9.4 -6.2z"/><path color="#207eff" d="M596.7 361.8l-8.4 2.8 9.5 4.1 8.4 -2.7z"/><path color="#2077ff" d="M606.2 366l-8.4 2.7 9.5 4 8.4 -2.5z"/><path color="#217eff" d="M588.3 364.6l-8.4 2.9 9.5 4 8.4 -2.8z"/><path color="#2176ff" d="M597.8 368.7l-8.4 2.8 9.5 3.9 8.4 -2.7z"/><path color="#238cff" d="M561.1 359.2l-8.5 3.2 9.4 4.1 8.5 -3.1z"/><path color="#2284ff" d="M570.5 363.4l-8.5 3.1 9.4 4 8.5 -3z"/><path color="#2389ff" d="M552.6 362.4l-8.6 3.3 9.4 4 8.6 -3.2z"/><path color="#2382ff" d="M562 366.5l-8.6 3.2 9.5 3.9 8.5 -3.1z"/><path color="#2796ff" d="M525.5 357.4l-8.6 3.6 9.2 4.1 8.6 -3.5z"/><path color="#268eff" d="M534.7 361.6l-8.6 3.5 9.3 4.1 8.6 -3.5z"/><path color="#2a92ff" d="M516.9 361l-8.7 3.8 9.2 4 8.7 -3.7z"/><path color="#298bff" d="M526.1 365.1l-8.7 3.7 9.4 3.9 8.6 -3.5z"/><path color="#3ea2ff" d="M418.5 357l-9 4.9 8.9 4.1 9 -4.8z"/><path color="#3d9bff" d="M427.4 361.2l-9 4.8 9 4.1 9 -4.7z"/><path color="#419aff" d="M409.5 361.9l-9 5 8.9 4.1 9 -5z"/><path color="#4093ff" d="M418.4 366l-9 5 9 4 9 -4.9z"/><path color="#459fff" d="M382.8 358.5l-9.1 5.4 8.8 4.1 9.1 -5.2z"/><path color="#4498ff" d="M391.6 362.8l-9.1 5.2 8.9 4.1 9.1 -5.2z"/><path color="#4795ff" d="M373.7 363.9l-9.1 5.4 8.8 4.1 9.1 -5.4z"/><path color="#468fff" d="M382.5 368l-9.1 5.4 8.8 4 9.2 -5.3z"/><path color="#4b99ff" d="M347.1 360.9l-9.2 5.8 8.7 4.2 9.2 -5.7z"/><path color="#4a92ff" d="M355.8 365.2l-9.2 5.7 8.8 4.1 9.2 -5.7z"/><path color="#4e8eff" d="M337.9 366.7l-9.2 5.9 8.7 4.1 9.2 -5.8z"/><path color="#4d87ff" d="M346.6 370.9l-9.2 5.8 8.7 4 9.3 -5.7z"/><path color="#206fff" d="M615.7 370.2l-8.4 2.5 9.6 3.9 8.4 -2.4z"/><path color="#1f69ff" d="M625.3 374.2l-8.4 2.4 9.7 3.8 8.3 -2.3z"/><path color="#2070ff" d="M607.3 372.7l-8.4 2.7 9.6 3.8 8.4 -2.6z"/><path color="#206aff" d="M616.9 376.6l-8.4 2.6 9.7 3.7 8.4 -2.5z"/><path color="#227dff" d="M579.9 367.5l-8.5 3 9.5 3.9 8.5 -2.9z"/><path color="#2276ff" d="M589.4 371.5l-8.5 2.9 9.5 3.8 8.5 -2.8z"/><path color="#237bff" d="M571.4 370.5l-8.5 3.1 9.4 3.9 8.6 -3.1z"/><path color="#2275ff" d="M580.9 374.4l-8.6 3.1 9.6 3.7 8.5 -3z"/><path color="#2586ff" d="M544 365.7l-8.6 3.5 9.4 3.9 8.6 -3.4z"/><path color="#247fff" d="M553.4 369.7l-8.6 3.4 9.4 3.8 8.7 -3.3z"/><path color="#2884ff" d="M535.4 369.2l-8.6 3.5 9.3 3.8 8.7 -3.4z"/><path color="#277eff" d="M544.8 373.1l-8.7 3.4 9.5 3.7 8.6 -3.3z"/><path color="#2d8fff" d="M508.2 364.8l-8.8 3.8 9.3 4 8.7 -3.8z"/><path color="#2c88ff" d="M517.4 368.8l-8.7 3.8 9.3 3.8 8.8 -3.7z"/><path color="#2f8aff" d="M499.4 368.6l-8.8 4 9.3 3.8 8.8 -3.8z"/><path color="#2e84ff" d="M508.7 372.6l-8.8 3.8 9.3 3.8 8.8 -3.8z"/><path color="#3493ff" d="M472.3 364.6l-8.9 4.3 9.2 4 8.8 -4.2z"/><path color="#338cff" d="M481.4 368.7l-8.8 4.2 9.2 3.8 8.8 -4.1z"/><path color="#378dff" d="M463.4 368.9l-8.9 4.5 9.2 3.8 8.9 -4.3z"/><path color="#3687ff" d="M472.6 372.9l-8.9 4.3 9.2 3.7 8.9 -4.2z"/><path color="#3c94ff" d="M436.4 365.4l-9 4.7 9 4 9 -4.7z"/><path color="#3b8dff" d="M445.4 369.4l-9 4.7 9.1 3.8 9 -4.5z"/><path color="#3f8cff" d="M427.4 370.1l-9 4.9 9 3.8 9 -4.7z"/><path color="#3e86ff" d="M436.4 374.1l-9 4.7 9.1 3.8 9 -4.7z"/><path color="#4391ff" d="M400.5 366.9l-9.1 5.2 8.9 4 9.1 -5.1z"/><path color="#428bff" d="M409.4 371l-9.1 5.1 9 3.8 9.1 -4.9z"/><path color="#4688ff" d="M391.4 372.1l-9.2 5.3 9 3.9 9.1 -5.2z"/><path color="#4583ff" d="M400.3 376.1l-9.1 5.2 8.9 3.7 9.2 -5.1z"/><path color="#4a8bff" d="M364.6 369.3l-9.2 5.7 8.8 3.9 9.2 -5.5z"/><path color="#4985ff" d="M373.4 373.4l-9.2 5.5 8.8 3.9 9.2 -5.4z"/><path color="#4c81ff" d="M355.4 375l-9.3 5.7 8.8 3.9 9.3 -5.7z"/><path color="#4b7cff" d="M364.2 378.9l-9.3 5.7 8.9 3.8 9.2 -5.6z"/><path color="#5083ff" d="M328.7 372.6l-9.3 6 8.7 4.1 9.3 -6z"/><path color="#4f7dff" d="M337.4 376.7l-9.3 6 8.7 3.9 9.3 -5.9z"/><path color="#5278ff" d="M319.4 378.6l-9.4 6.2 8.7 3.9 9.4 -6z"/><path color="#5172ff" d="M328.1 382.7l-9.4 6 8.8 3.9 9.3 -6z"/><path color="#2170ff" d="M598.9 375.4l-8.5 2.8 9.7 3.7 8.4 -2.7z"/><path color="#216bff" d="M608.5 379.2l-8.4 2.7 9.6 3.6 8.5 -2.6z"/><path color="#2270ff" d="M590.4 378.2l-8.5 3 9.6 3.5 8.6 -2.8z"/><path color="#226bff" d="M600.1 381.9l-8.6 2.8 9.7 3.5 8.5 -2.7z"/><path color="#2379ff" d="M562.9 373.6l-8.7 3.3 9.5 3.7 8.6 -3.1z"/><path color="#2374ff" d="M572.3 377.5l-8.6 3.1 9.6 3.6 8.6 -3z"/><path color="#2678ff" d="M554.2 376.9l-8.6 3.3 9.5 3.6 8.6 -3.2z"/><path color="#2573ff" d="M563.7 380.6l-8.6 3.2 9.6 3.5 8.6 -3.1z"/><path color="#2b81ff" d="M526.8 372.7l-8.8 3.7 9.4 3.7 8.7 -3.6z"/><path color="#2a7cff" d="M536.1 376.5l-8.7 3.6 9.5 3.6 8.7 -3.5z"/><path color="#2d7fff" d="M518 376.4l-8.8 3.8 9.4 3.6 8.8 -3.7z"/><path color="#2c79ff" d="M527.4 380.1l-8.8 3.7 9.5 3.5 8.8 -3.6z"/><path color="#3286ff" d="M490.6 372.6l-8.8 4.1 9.3 3.7 8.8 -4z"/><path color="#3180ff" d="M499.9 376.4l-8.8 4 9.3 3.7 8.8 -3.9z"/><path color="#3581ff" d="M481.8 376.7l-8.9 4.2 9.2 3.7 9 -4.2z"/><path color="#347cff" d="M491.1 380.4l-9 4.2 9.4 3.5 8.9 -4z"/><path color="#3a87ff" d="M454.5 373.4l-9 4.5 9.2 3.7 9 -4.4z"/><path color="#3982ff" d="M463.7 377.2l-9 4.4 9.2 3.7 9 -4.4z"/><path color="#3d81ff" d="M445.5 377.9l-9 4.7 9.2 3.6 9 -4.6z"/><path color="#3c7cff" d="M454.7 381.6l-9 4.6 9.2 3.5 9 -4.4z"/><path color="#4185ff" d="M418.4 375l-9.1 4.9 9 3.8 9.1 -4.9z"/><path color="#4080ff" d="M427.4 378.8l-9.1 4.9 9.1 3.6 9.1 -4.7z"/><path color="#447dff" d="M409.3 379.9l-9.2 5.1 9.1 3.7 9.1 -5z"/><path color="#4379ff" d="M418.3 383.7l-9.1 5 9.1 3.6 9.1 -5z"/><path color="#4880ff" d="M382.2 377.4l-9.2 5.4 9 3.8 9.2 -5.3z"/><path color="#477aff" d="M391.2 381.3l-9.2 5.3 8.9 3.7 9.2 -5.3z"/><path color="#4a77ff" d="M373 382.8l-9.2 5.6 8.9 3.7 9.3 -5.5z"/><path color="#4972ff" d="M382 386.6l-9.3 5.5 9 3.5 9.2 -5.3z"/><path color="#4e77ff" d="M346.1 380.7l-9.3 5.9 8.8 3.8 9.3 -5.8z"/><path color="#4d72ff" d="M354.9 384.6l-9.3 5.8 8.9 3.6 9.3 -5.6z"/><path color="#506dff" d="M336.8 386.6l-9.3 6 8.8 3.7 9.3 -5.9z"/><path color="#4f69ff" d="M345.6 390.4l-9.3 5.9 8.8 3.5 9.4 -5.8z"/><path color="#236fff" d="M581.9 381.2l-8.6 3 9.6 3.5 8.6 -3z"/><path color="#236bff" d="M591.5 384.7l-8.6 3 9.7 3.4 8.6 -2.9z"/><path color="#246eff" d="M573.3 384.2l-8.6 3.1 9.6 3.4 8.6 -3z"/><path color="#236aff" d="M582.9 387.7l-8.6 3 9.7 3.3 8.6 -2.9z"/><path color="#2876ff" d="M545.6 380.2l-8.7 3.5 9.5 3.5 8.7 -3.4z"/><path color="#2772ff" d="M555.1 383.8l-8.7 3.4 9.5 3.4 8.8 -3.3z"/><path color="#2b75ff" d="M536.9 383.7l-8.8 3.6 9.5 3.4 8.8 -3.5z"/><path color="#2a71ff" d="M546.4 387.2l-8.8 3.5 9.6 3.3 8.7 -3.4z"/><path color="#307bff" d="M509.2 380.2l-8.8 3.9 9.4 3.5 8.8 -3.8z"/><path color="#2f77ff" d="M518.6 383.8l-8.8 3.8 9.4 3.4 8.9 -3.7z"/><path color="#3378ff" d="M500.4 384.1l-8.9 4 9.4 3.4 8.9 -3.9z"/><path color="#3274ff" d="M509.8 387.6l-8.9 3.9 9.4 3.3 8.9 -3.8z"/><path color="#387dff" d="M472.9 380.9l-9 4.4 9.3 3.5 8.9 -4.2z"/><path color="#3778ff" d="M482.1 384.6l-8.9 4.2 9.3 3.4 9 -4.1z"/><path color="#3a78ff" d="M463.9 385.3l-9 4.4 9.2 3.5 9.1 -4.4z"/><path color="#3974ff" d="M473.2 388.8l-9.1 4.4 9.4 3.3 9 -4.3z"/><path color="#3f7bff" d="M436.5 382.6l-9.1 4.7 9.2 3.6 9.1 -4.7z"/><path color="#3e76ff" d="M445.7 386.2l-9.1 4.7 9.2 3.4 9.1 -4.6z"/><path color="#4274ff" d="M427.4 387.3l-9.1 5 9.1 3.4 9.2 -4.8z"/><path color="#4170ff" d="M436.6 390.9l-9.2 4.8 9.2 3.3 9.2 -4.7z"/><path color="#4676ff" d="M400.1 385l-9.2 5.3 9.1 3.5 9.2 -5.1z"/><path color="#4571ff" d="M409.2 388.7l-9.2 5.1 9.1 3.5 9.2 -5z"/><path color="#486eff" d="M390.9 390.3l-9.2 5.3 9 3.5 9.3 -5.3z"/><path color="#476aff" d="M400 393.8l-9.3 5.3 9.1 3.3 9.3 -5.1z"/><path color="#4c6dff" d="M363.8 388.4l-9.3 5.6 8.9 3.6 9.3 -5.5z"/><path color="#4b69ff" d="M372.7 392.1l-9.3 5.5 9 3.5 9.3 -5.5z"/><path color="#4f64ff" d="M354.5 394l-9.4 5.8 8.9 3.5 9.4 -5.7z"/><path color="#4e61ff" d="M363.4 397.6l-9.4 5.7 9 3.4 9.4 -5.6z"/><path color="#266eff" d="M564.7 387.3l-8.8 3.3 9.7 3.3 8.7 -3.2z"/><path color="#256aff" d="M574.3 390.7l-8.7 3.2 9.7 3.1 8.7 -3z"/><path color="#296dff" d="M555.9 390.6l-8.7 3.4 9.6 3.1 8.8 -3.2z"/><path color="#286aff" d="M565.6 393.9l-8.8 3.2 9.7 3.1 8.8 -3.2z"/><path color="#2e73ff" d="M528.1 387.3l-8.9 3.7 9.6 3.3 8.8 -3.6z"/><path color="#2d6fff" d="M537.6 390.7l-8.8 3.6 9.5 3.1 8.9 -3.4z"/><path color="#3170ff" d="M519.2 391l-8.9 3.8 9.6 3.2 8.9 -3.7z"/><path color="#306dff" d="M528.8 394.3l-8.9 3.7 9.5 3 8.9 -3.6z"/><path color="#446eff" d="M418.3 392.3l-9.2 5 9.1 3.3 9.2 -4.9z"/><path color="#436aff" d="M427.4 395.7l-9.2 4.9 9.2 3.3 9.2 -4.9z"/><path color="#4766ff" d="M409.1 397.3l-9.3 5.1 9.1 3.3 9.3 -5.1z"/><path color="#4664ff" d="M418.2 400.6l-9.3 5.1 9.2 3.1 9.3 -4.9z"/><path color="#4b65ff" d="M381.7 395.6l-9.3 5.5 9 3.4 9.3 -5.4z"/><path color="#4a62ff" d="M390.7 399.1l-9.3 5.4 9.1 3.2 9.3 -5.3z"/><path color="#4d5dff" d="M372.4 401.1l-9.4 5.6 9 3.3 9.4 -5.5z"/><path color="#4c5aff" d="M381.4 404.5l-9.4 5.5 9.1 3.1 9.4 -5.4z"/><path color="#3674ff" d="M491.5 388.1l-9 4.1 9.4 3.3 9 -4z"/><path color="#3471ff" d="M500.9 391.5l-9 4 9.5 3.2 8.9 -3.9z"/><path color="#3870ff" d="M482.5 392.2l-9 4.3 9.4 3.2 9 -4.2z"/><path color="#376dff" d="M491.9 395.5l-9 4.2 9.4 3.1 9.1 -4.1z"/><path color="#3d72ff" d="M454.9 389.7l-9.1 4.6 9.3 3.3 9 -4.4z"/><path color="#3c6fff" d="M464.1 393.2l-9 4.4 9.3 3.3 9.1 -4.4z"/><path color="#406dff" d="M445.8 394.3l-9.2 4.7 9.3 3.3 9.2 -4.7z"/><path color="#3f6aff" d="M455.1 397.6l-9.2 4.7 9.3 3.1 9.2 -4.5z"/><path color="#2c6cff" d="M547.2 394l-8.9 3.4 9.7 3.1 8.8 -3.4z"/><path color="#2b6aff" d="M556.8 397.1l-8.8 3.4 9.7 3 8.8 -3.3z"/><path color="#2f6bff" d="M538.3 397.4l-8.9 3.6 9.7 3 8.9 -3.5z"/><path color="#2d69ff" d="M548 400.5l-8.9 3.5 9.7 2.9 8.9 -3.4z"/><path color="#495fff" d="M399.8 402.4l-9.3 5.3 9.1 3.2 9.3 -5.2z"/><path color="#485dff" d="M408.9 405.7l-9.3 5.2 9.2 3 9.3 -5.1z"/><path color="#4b58ff" d="M390.5 407.7l-9.4 5.4 9.1 3.1 9.4 -5.3z"/><path color="#4a56ff" d="M399.6 410.9l-9.4 5.3 9.2 2.9 9.4 -5.2z"/><path color="#336eff" d="M510.3 394.8l-8.9 3.9 9.5 3.1 9 -3.8z"/><path color="#326bff" d="M519.9 398l-9 3.8 9.6 3 8.9 -3.8z"/><path color="#366bff" d="M501.4 398.7l-9.1 4.1 9.6 3 9 -4z"/><path color="#3569ff" d="M510.9 401.8l-9 4 9.6 2.8 9 -3.8z"/><path color="#3b6cff" d="M473.5 396.5l-9.1 4.4 9.4 3.1 9.1 -4.3z"/><path color="#3a6aff" d="M482.9 399.7l-9.1 4.3 9.5 2.9 9 -4.1z"/><path color="#3e68ff" d="M464.4 400.9l-9.2 4.5 9.4 3 9.2 -4.4z"/><path color="#3d66ff" d="M473.8 404l-9.2 4.4 9.5 2.8 9.2 -4.3z"/><path color="#4367ff" d="M436.6 399l-9.2 4.9 9.3 3.1 9.2 -4.7z"/><path color="#4265ff" d="M445.9 402.3l-9.2 4.7 9.3 3 9.2 -4.6z"/><path color="#4561ff" d="M427.4 403.9l-9.3 4.9 9.3 3 9.3 -4.8z"/><path color="#445fff" d="M436.7 407l-9.3 4.8 9.4 2.9 9.2 -4.7z"/><path color="#3169ff" d="M529.4 401l-8.9 3.8 9.6 2.8 9 -3.6z"/><path color="#3068ff" d="M539.1 404l-9 3.6 9.8 2.8 8.9 -3.5z"/><path color="#3468ff" d="M520.5 404.8l-9 3.8 9.6 2.8 9 -3.8z"/><path color="#3367ff" d="M530.1 407.6l-9 3.8 9.8 2.6 9 -3.6z"/><path color="#3968ff" d="M492.3 402.8l-9 4.1 9.5 2.9 9.1 -4z"/><path color="#3866ff" d="M501.9 405.8l-9.1 4 9.6 2.8 9.1 -4z"/><path color="#3c64ff" d="M483.3 406.9l-9.2 4.3 9.5 2.8 9.2 -4.2z"/><path color="#3b63ff" d="M492.8 409.8l-9.2 4.2 9.6 2.7 9.2 -4.1z"/><path color="#4163ff" d="M455.2 405.4l-9.2 4.6 9.4 2.9 9.2 -4.5z"/><path color="#3f62ff" d="M464.6 408.4l-9.2 4.5 9.5 2.8 9.2 -4.5z"/><path color="#435eff" d="M446 410l-9.2 4.7 9.4 2.8 9.2 -4.6z"/><path color="#425dff" d="M455.4 412.9l-9.2 4.6 9.4 2.7 9.3 -4.5z"/><path color="#475bff" d="M418.1 408.8l-9.3 5.1 9.3 2.9 9.3 -5z"/><path color="#465aff" d="M427.4 411.8l-9.3 5 9.3 2.8 9.4 -4.9z"/><path color="#4955ff" d="M408.8 413.9l-9.4 5.2 9.3 2.8 9.4 -5.1z"/><path color="#4854ff" d="M418.1 416.8l-9.4 5.1 9.3 2.7 9.4 -5z"/><path color="#3765ff" d="M511.5 408.6l-9.1 4 9.6 2.6 9.1 -3.8z"/><path color="#3665ff" d="M521.1 411.4l-9.1 3.8 9.8 2.6 9.1 -3.8z"/><path color="#3a63ff" d="M502.4 412.6l-9.2 4.1 9.7 2.5 9.1 -4z"/><path color="#3863ff" d="M512 415.2l-9.1 4 9.7 2.4 9.2 -3.8z"/><path color="#3e61ff" d="M474.1 411.2l-9.2 4.5 9.5 2.6 9.2 -4.3z"/><path color="#3d60ff" d="M483.6 414l-9.2 4.3 9.6 2.6 9.2 -4.2z"/><path color="#415dff" d="M464.9 415.7l-9.3 4.5 9.6 2.6 9.2 -4.5z"/><path color="#405dff" d="M474.4 418.3l-9.2 4.5 9.5 2.4 9.3 -4.3z"/><path color="#4559ff" d="M436.8 414.7l-9.4 4.9 9.4 2.7 9.4 -4.8z"/><path color="#4458ff" d="M446.2 417.5l-9.4 4.8 9.5 2.6 9.3 -4.7z"/><path color="#4853ff" d="M427.4 419.6l-9.4 5 9.4 2.6 9.4 -4.9z"/><path color="#4753ff" d="M436.8 422.3l-9.4 4.9 9.5 2.5 9.4 -4.8z"/><path color="#3c60ff" d="M493.2 416.7l-9.2 4.2 9.7 2.4 9.2 -4.1z"/><path color="#3b61ff" d="M502.9 419.2l-9.2 4.1 9.7 2.3 9.2 -4z"/><path color="#3f5dff" d="M484 420.9l-9.3 4.3 9.7 2.3 9.3 -4.2z"/><path color="#3e5fff" d="M493.7 423.3l-9.3 4.2 9.8 2.2 9.2 -4.1z"/><path color="#4459ff" d="M455.6 420.2l-9.3 4.7 9.5 2.4 9.4 -4.5z"/><path color="#4359ff" d="M465.2 422.8l-9.4 4.5 9.6 2.4 9.3 -4.5z"/><path color="#4654ff" d="M446.3 424.9l-9.4 4.8 9.5 2.3 9.4 -4.7z"/><path color="#4555ff" d="M455.8 427.3l-9.4 4.7 9.6 2.3 9.4 -4.6z"/><path color="#4359ff" d="M475.1 431.9l-9.4 4.5 9.7 2 9.4 -4.4z"/><path color="#425aff" d="M474.7 425.2l-9.3 4.5 9.7 2.2 9.3 -4.4z"/><path color="#415cff" d="M484.4 427.5l-9.3 4.4 9.7 2.1 9.4 -4.3z"/><path color="#4457ff" d="M465.4 429.7l-9.4 4.6 9.7 2.1 9.4 -4.5z"/></g>
<path d="M465.1 42.5L480.6 60.9L496.2 79.1L512 96.9L527.9 114.5L543.9 131.7L560.1 148.6L576.4 165.2L592.9 181.5L609.5 197.4L626.3 213.1L643.2 228.4L660.4 243.3L677.7 258L695.2 272.3L712.8 286.3L730.7 300L748.7 313.3L767 326.3L785.4 338.9L804.1 351.2M465.1 42.5L450 49.9L434.7 57.7L419.2 65.9L403.6 74.5L387.9 83.6L371.9 93L355.8 102.9L339.6 113.3L323.1 124.1L306.5 135.3L289.8 147L272.8 159.1L255.7 171.7L238.4 184.8L221 198.3L203.3 212.4L185.5 226.9L167.5 241.9L149.4 257.5L131.1 273.5M450 49.9L465.5 68L481.1 85.9L496.9 103.4L512.8 120.6L528.9 137.5L545.1 154.1L561.5 170.4L578 186.3L594.6 201.9L611.5 217.2L628.5 232.2L645.6 246.8L663 261.1L680.5 275.1L698.2 288.7L716.1 302L734.2 315L752.5 327.6L771.1 339.8L789.8 351.7M480.6 60.9L465.5 68L450.2 75.5L434.8 83.4L419.2 91.7L403.5 100.5L387.5 109.6L371.4 119.2L355.2 129.2L338.7 139.7L322.1 150.6L305.4 161.9L288.4 173.7L271.3 186L254 198.8L236.5 212L218.9 225.7L201 239.9L183 254.6L164.8 269.8L146.5 285.5M434.7 57.7L450.2 75.5L465.9 93.1L481.7 110.3L497.7 127.2L513.7 143.7L530 160L546.4 175.9L562.9 191.5L579.6 206.8L596.5 221.8L613.5 236.4L630.7 250.7L648.1 264.6L665.7 278.3L683.4 291.5L701.4 304.5L719.5 317L737.9 329.3L756.5 341.1L775.3 352.6M496.2 79.1L481.1 85.9L465.9 93.1L450.5 100.6L434.9 108.6L419.2 117L403.3 125.9L387.2 135.1L370.9 144.8L354.5 154.9L337.9 165.5L321.1 176.5L304.2 188L287 200L269.7 212.4L252.2 225.3L234.6 238.7L216.7 252.6L198.7 266.9L180.5 281.8L162.1 297.2M419.2 65.9L434.8 83.4L450.5 100.6L466.3 117.5L482.3 134.1L498.4 150.3L514.7 166.3L531.1 181.9L547.6 197.1L564.4 212.1L581.3 226.7L598.3 241L615.6 254.9L633 268.5L650.6 281.8L668.4 294.7L686.4 307.3L704.7 319.5L723.1 331.3L741.7 342.8L760.6 353.9M512 96.9L496.9 103.4L481.7 110.3L466.3 117.5L450.8 125.2L435 133.3L419.1 141.8L403.1 150.7L386.8 160.1L370.4 169.9L353.8 180.1L337 190.8L320 202L302.9 213.6L285.6 225.7L268.1 238.2L250.4 251.3L232.5 264.8L214.5 278.9L196.2 293.4L177.8 308.5M403.6 74.5L419.2 91.7L434.9 108.6L450.8 125.2L466.8 141.4L482.9 157.4L499.2 173L515.6 188.2L532.2 203.2L549 217.8L565.9 232L583 246L600.3 259.6L617.7 272.8L635.4 285.7L653.3 298.2L671.3 310.4L689.6 322.3L708 333.7L726.7 344.9L745.7 355.6M527.9 114.5L512.8 120.6L497.7 127.2L482.3 134.1L466.8 141.4L451 149.2L435.2 157.4L419.1 166L402.9 175L386.4 184.5L369.8 194.4L353.1 204.7L336.1 215.6L318.9 226.9L301.6 238.6L284.1 250.8L266.4 263.5L248.5 276.8L230.4 290.5L212.1 304.7L193.7 319.4M387.9 83.6L403.5 100.5L419.2 117L435 133.3L451 149.2L467.2 164.8L483.5 180L500 195L516.6 209.6L533.4 223.8L550.3 237.8L567.5 251.3L584.8 264.6L602.3 277.5L620 290L637.9 302.2L656 314L674.3 325.5L692.8 336.6L711.5 347.3L730.5 357.6M543.9 131.7L528.9 137.5L513.7 143.7L498.4 150.3L482.9 157.4L467.2 164.8L451.3 172.6L435.3 180.9L419 189.6L402.6 198.7L386 208.3L369.3 218.3L352.3 228.8L335.1 239.8L317.8 251.2L300.3 263.1L282.6 275.4L264.6 288.3L246.5 301.7L228.2 315.5L209.7 329.9M371.9 93L387.5 109.6L403.3 125.9L419.1 141.8L435.2 157.4L451.3 172.6L467.6 187.6L484.1 202.2L500.8 216.4L517.6 230.3L534.6 243.9L551.7 257.1L569.1 270L586.6 282.5L604.3 294.7L622.3 306.5L640.4 318L658.8 329L677.3 339.8L696.1 350.1L715.1 360M560.1 148.6L545.1 154.1L530 160L514.7 166.3L499.2 173L483.5 180L467.6 187.6L451.6 195.5L435.4 203.9L419 212.6L402.4 221.9L385.6 231.6L368.7 241.7L351.5 252.3L334.2 263.4L316.6 274.9L298.9 287L281 299.5L262.8 312.5L244.5 326L226 340M355.8 102.9L371.4 119.2L387.2 135.1L403.1 150.7L419.1 166L435.3 180.9L451.6 195.5L468.1 209.7L484.8 223.7L501.6 237.2L518.6 250.5L535.8 263.3L553.2 275.9L570.7 288L588.5 299.8L606.5 311.3L624.6 322.3L643 333L661.6 343.3L680.5 353.3L699.6 362.8M576.4 165.2L561.5 170.4L546.4 175.9L531.1 181.9L515.6 188.2L500 195L484.1 202.2L468.1 209.7L451.9 217.8L435.5 226.2L418.9 235.1L402.2 244.5L385.2 254.3L368 264.5L350.7 275.2L333.1 286.4L315.4 298.1L297.5 310.3L279.3 323L261 336.1L242.4 349.8M339.6 113.3L355.2 129.2L370.9 144.8L386.8 160.1L402.9 175L419 189.6L435.4 203.9L451.9 217.8L468.6 231.3L485.4 244.6L502.5 257.4L519.7 270L537.1 282.1L554.7 293.9L572.4 305.4L590.4 316.4L608.7 327.1L627.1 337.4L645.7 347.3L664.6 356.9L683.7 366M592.9 181.5L578 186.3L562.9 191.5L547.6 197.1L532.2 203.2L516.6 209.6L500.8 216.4L484.8 223.7L468.6 231.3L452.2 239.4L435.6 248L418.9 257L401.9 266.4L384.8 276.3L367.4 286.7L349.8 297.6L332.1 308.9L314.1 320.7L296 333L277.6 345.8L259 359.2M323.1 124.1L338.7 139.7L354.5 154.9L370.4 169.9L386.4 184.5L402.6 198.7L419 212.6L435.5 226.2L452.2 239.4L469.1 252.3L486.1 264.8L503.3 277L520.8 288.8L538.4 300.2L556.2 311.3L574.2 322L592.5 332.3L610.9 342.2L629.6 351.7L648.5 360.9L667.7 369.6M609.5 197.4L594.6 201.9L579.6 206.8L564.4 212.1L549 217.8L533.4 223.8L517.6 230.3L501.6 237.2L485.4 244.6L469.1 252.3L452.5 260.5L435.8 269.2L418.8 278.3L401.7 287.8L384.3 297.8L366.7 308.3L349 319.3L331 330.8L312.8 342.7L294.4 355.2L275.8 368.1M306.5 135.3L322.1 150.6L337.9 165.5L353.8 180.1L369.8 194.4L386 208.3L402.4 221.9L418.9 235.1L435.6 248L452.5 260.5L469.6 272.7L486.8 284.5L504.3 295.9L521.9 307L539.7 317.7L557.8 328L576 337.9L594.5 347.4L613.3 356.6L632.2 365.3L651.4 373.6M626.3 213.1L611.5 217.2L596.5 221.8L581.3 226.7L565.9 232L550.3 237.8L534.6 243.9L518.6 250.5L502.5 257.4L486.1 264.8L469.6 272.7L452.8 281L435.9 289.7L418.7 298.9L401.4 308.6L383.8 318.7L366 329.3L348.1 340.4L329.9 352L311.5 364.1L292.8 376.7M289.8 147L305.4 161.9L321.1 176.5L337 190.8L353.1 204.7L369.3 218.3L385.6 231.6L402.2 244.5L418.9 257L435.8 269.2L452.8 281L470.1 292.4L487.5 303.5L505.2 314.2L523 324.5L541.1 334.4L559.4 344L577.9 353.1L596.7 361.8L615.7 370.2L634.9 378.1M643.2 228.4L628.5 232.2L613.5 236.4L598.3 241L583 246L567.5 251.3L551.7 257.1L535.8 263.3L519.7 270L503.3 277L486.8 284.5L470.1 292.4L453.1 300.8L436 309.6L418.6 318.9L401.1 328.7L383.3 338.9L365.3 349.6L347.1 360.9L328.7 372.6L310 384.8M272.8 159.1L288.4 173.7L304.2 188L320 202L336.1 215.6L352.3 228.8L368.7 241.7L385.2 254.3L401.9 266.4L418.8 278.3L435.9 289.7L453.1 300.8L470.6 311.5L488.3 321.8L506.2 331.7L524.2 341.3L542.6 350.4L561.1 359.2L579.9 367.5L598.9 375.4L618.2 382.9M660.4 243.3L645.6 246.8L630.7 250.7L615.6 254.9L600.3 259.6L584.8 264.6L569.1 270L553.2 275.9L537.1 282.1L520.8 288.8L504.3 295.9L487.5 303.5L470.6 311.5L453.5 320L436.1 328.9L418.6 338.3L400.8 348.1L382.8 358.5L364.6 369.3L346.1 380.7L327.5 392.6M255.7 171.7L271.3 186L287 200L302.9 213.6L318.9 226.9L335.1 239.8L351.5 252.3L368 264.5L384.8 276.3L401.7 287.8L418.7 298.9L436 309.6L453.5 320L471.2 329.9L489 339.5L507.1 348.6L525.5 357.4L544 365.7L562.9 373.6L581.9 381.2L601.2 388.2M677.7 258L663 261.1L648.1 264.6L633 268.5L617.7 272.8L602.3 277.5L586.6 282.5L570.7 288L554.7 293.9L538.4 300.2L521.9 307L505.2 314.2L488.3 321.8L471.2 329.9L453.8 338.4L436.2 347.5L418.5 357L400.5 366.9L382.2 377.4L363.8 388.4L345.1 399.8M238.4 184.8L254 198.8L269.7 212.4L285.6 225.7L301.6 238.6L317.8 251.2L334.2 263.4L350.7 275.2L367.4 286.7L384.3 297.8L401.4 308.6L418.6 318.9L436.1 328.9L453.8 338.4L471.7 347.6L489.8 356.4L508.2 364.8L526.8 372.7L545.6 380.2L564.7 387.3L584 394M695.2 272.3L680.5 275.1L665.7 278.3L650.6 281.8L635.4 285.7L620 290L604.3 294.7L588.5 299.8L572.4 305.4L556.2 311.3L539.7 317.7L523 324.5L506.2 331.7L489 339.5L471.7 347.6L454.2 356.3L436.4 365.4L418.4 375L400.1 385L381.7 395.6L363 406.7M221 198.3L236.5 212L252.2 225.3L268.1 238.2L284.1 250.8L300.3 263.1L316.6 274.9L333.1 286.4L349.8 297.6L366.7 308.3L383.8 318.7L401.1 328.7L418.6 338.3L436.2 347.5L454.2 356.3L472.3 364.6L490.6 372.6L509.2 380.2L528.1 387.3L547.2 394L566.5 400.2M712.8 286.3L698.2 288.7L683.4 291.5L668.4 294.7L653.3 298.2L637.9 302.2L622.3 306.5L606.5 311.3L590.4 316.4L574.2 322L557.8 328L541.1 334.4L524.2 341.3L507.1 348.6L489.8 356.4L472.3 364.6L454.5 373.4L436.5 382.6L418.3 392.3L399.8 402.4L381.1 413.1M203.3 212.4L218.9 225.7L234.6 238.7L250.4 251.3L266.4 263.5L282.6 275.4L298.9 287L315.4 298.1L332.1 308.9L349 319.3L366 329.3L383.3 338.9L400.8 348.1L418.5 357L436.4 365.4L454.5 373.4L472.9 380.9L491.5 388.1L510.3 394.8L529.4 401L548.8 406.9M730.7 300L716.1 302L701.4 304.5L686.4 307.3L671.3 310.4L656 314L640.4 318L624.6 322.3L608.7 327.1L592.5 332.3L576 337.9L559.4 344L542.6 350.4L525.5 357.4L508.2 364.8L490.6 372.6L472.9 380.9L454.9 389.7L436.6 399L418.1 408.8L399.4 419.1M185.5 226.9L201 239.9L216.7 252.6L232.5 264.8L248.5 276.8L264.6 288.3L281 299.5L297.5 310.3L314.1 320.7L331 330.8L348.1 340.4L365.3 349.6L382.8 358.5L400.5 366.9L418.4 375L436.5 382.6L454.9 389.7L473.5 396.5L492.3 402.8L511.5 408.6L530.9 414M748.7 313.3L734.2 315L719.5 317L704.7 319.5L689.6 322.3L674.3 325.5L658.8 329L643 333L627.1 337.4L610.9 342.2L594.5 347.4L577.9 353.1L561.1 359.2L544 365.7L526.8 372.7L509.2 380.2L491.5 388.1L473.5 396.5L455.2 405.4L436.8 414.7L418 424.6M167.5 241.9L183 254.6L198.7 266.9L214.5 278.9L230.4 290.5L246.5 301.7L262.8 312.5L279.3 323L296 333L312.8 342.7L329.9 352L347.1 360.9L364.6 369.3L382.2 377.4L400.1 385L418.3 392.3L436.6 399L455.2 405.4L474.1 411.2L493.2 416.7L512.6 421.6M767 326.3L752.5 327.6L737.9 329.3L723.1 331.3L708 333.7L692.8 336.6L677.3 339.8L661.6 343.3L645.7 347.3L629.6 351.7L613.3 356.6L596.7 361.8L579.9 367.5L562.9 373.6L545.6 380.2L528.1 387.3L510.3 394.8L492.3 402.8L474.1 411.2L455.6 420.2L436.9 429.7M149.4 257.5L164.8 269.8L180.5 281.8L196.2 293.4L212.1 304.7L228.2 315.5L244.5 326L261 336.1L277.6 345.8L294.4 355.2L311.5 364.1L328.7 372.6L346.1 380.7L363.8 388.4L381.7 395.6L399.8 402.4L418.1 408.8L436.8 414.7L455.6 420.2L474.7 425.2L494.2 429.7M785.4 338.9L771.1 339.8L756.5 341.1L741.7 342.8L726.7 344.9L711.5 347.3L696.1 350.1L680.5 353.3L664.6 356.9L648.5 360.9L632.2 365.3L615.7 370.2L598.9 375.4L581.9 381.2L564.7 387.3L547.2 394L529.4 401L511.5 408.6L493.2 416.7L474.7 425.2L456 434.3M131.1 273.5L146.5 285.5L162.1 297.2L177.8 308.5L193.7 319.4L209.7 329.9L226 340L242.4 349.8L259 359.2L275.8 368.1L292.8 376.7L310 384.8L327.5 392.6L345.1 399.8L363 406.7L381.1 413.1L399.4 419.1L418 424.6L436.9 429.7L456 434.3L475.4 438.4M804.1 351.2L789.8 351.7L775.3 352.6L760.6 353.9L745.7 355.6L730.5 357.6L715.1 360L699.6 362.8L683.7 366L667.7 369.6L651.4 373.6L634.9 378.1L618.2 382.9L601.2 388.2L584 394L566.5 400.2L548.8 406.9L530.9 414L512.6 421.6L494.2 429.7L475.4 438.4" fill="none" stroke="#000" stroke-opacity="0.57" stroke-width="1.4" stroke-linejoin="round"/>
<g fill="#000"><circle cx="135.5" cy="403.8" r="2.3"/><circle cx="132.5" cy="315.8" r="2.3"/><circle cx="129.5" cy="227.8" r="2.3"/><circle cx="126.5" cy="139.8" r="2.3"/><circle cx="123.5" cy="51.8" r="2.3"/><circle cx="139.3" cy="515.5" r="2.3"/><circle cx="223.2" cy="546.7" r="2.3"/><circle cx="307.1" cy="578" r="2.3"/><circle cx="391.1" cy="609.3" r="2.3"/><circle cx="475" cy="640.5" r="2.3"/><circle cx="555.8" cy="608.5" r="2.3"/><circle cx="636.5" cy="576.5" r="2.3"/><circle cx="717.3" cy="544.5" r="2.3"/><circle cx="798.1" cy="512.5" r="2.3"/></g>
<g font-size="17.7" fill="#404040"><text transform="translate(128 400.6) scale(0.92 1)" text-anchor="end">2.1</text><text transform="translate(125 312.6) scale(0.92 1)" text-anchor="end">2.3</text><text transform="translate(122 224.6) scale(0.92 1)" text-anchor="end">2.5</text><text transform="translate(119 136.6) scale(0.92 1)" text-anchor="end">2.7</text><text transform="translate(116 48.6) scale(0.92 1)" text-anchor="end">2.9</text><text transform="translate(130.3 530.5) scale(0.92 1)" text-anchor="end">-1</text><text transform="translate(215.7 561.2) scale(0.92 1)" text-anchor="end">-0.5</text><text transform="translate(299.6 592.8) scale(0.92 1)" text-anchor="end">0</text><text transform="translate(384.1 623.9) scale(0.92 1)" text-anchor="end">0.5</text><text transform="translate(467 656.2) scale(0.92 1)" text-anchor="end">1</text><text transform="translate(483.8 656.2) scale(0.92 1)" text-anchor="start">1</text><text transform="translate(563.5 625.1) scale(0.92 1)" text-anchor="start">0.5</text><text transform="translate(644.6 591.5) scale(0.92 1)" text-anchor="start">0</text><text transform="translate(727.3 559.1) scale(0.92 1)" text-anchor="start">-0.5</text><text transform="translate(807.4 527.6) scale(0.92 1)" text-anchor="start">-1</text></g>
<text x="19.5" y="288" font-size="21.56" text-anchor="middle" transform="rotate(-90 19.5 288)" fill="#000" stroke="#000" stroke-width="0.35">Split tensile strength (MPa)</text>
<text x="15.8" y="634" font-size="21.4" text-anchor="start" fill="#000" stroke="#000" stroke-width="0.35">B: Recycled aggregate content (%)</text>
<text x="708.3" y="631" font-size="21.8" text-anchor="start" fill="#000" stroke="#000" stroke-width="0.35">A: W/B ratio</text>
</g>
<g id="plot-b">
<polygon points="1031.8,493.3 1333.7,643.3 1626.8,489.9 1326.5,372.2" fill="#ffff00" stroke="#45431a" stroke-width="1.2"/>
<path d="M1153.1 553.6L1154.8 553.1L1159.8 551.6L1166.5 549.7L1173.2 547.8L1179.9 546L1182.2 545.3L1186.6 544.1L1193.4 542.3L1200.2 540.5L1206.3 539L1207.1 538.8L1214 537.1L1221 535.4L1227.6 533.9L1228 533.8L1235.1 532.3L1242.3 530.7L1246.5 529.9L1249.6 529.3L1257 527.9L1263.3 526.8L1264.6 526.6L1272.3 525.4L1278.3 524.5L1280.2 524.3L1288.4 523.3L1291.9 522.9L1296.8 522.4L1304.2 521.8L1305.6 521.7L1314.9 521.2L1315.6 521.2L1324.6 521L1326.1 521L1335.1 521.1L1336 521.1L1345.2 521.5L1346.5 521.5L1354 522.1L1359.1 522.6L1362.3 522.9L1370.3 523.9L1373.5 524.4L1378 525.1L1385.4 526.3L1390.5 527.3L1392.7 527.7L1399.7 529.3L1406.6 530.9L1412 532.2L1413.3 532.5L1419.9 534.3L1426.4 536.1L1432.8 538L1439.1 540L1442.8 541.2L1445.4 542L1451.6 544L1457.7 546.1L1463.8 548.3L1469.9 550.4L1475.9 552.7L1481.9 554.9L1487.9 557.2L1493.8 559.5M1403.5 402.4L1395.9 403L1395.7 403L1387.9 403.5L1385.3 403.7L1379.4 403.9L1375.6 403.9L1370.5 404L1366.6 403.9L1360.8 403.8L1358.1 403.7L1350.2 403.3L1350.1 403.3L1342.5 402.7L1338.4 402.3L1335.3 401.9L1328.3 401L1324.9 400.5L1321.7 400.1L1315.2 399L1309 397.8L1308.8 397.8L1303 396.6L1297.2 395.3L1291.5 393.9L1288.1 393.1L1285.9 392.6L1280.5 391.1" fill="none" stroke="#62ff00" stroke-opacity="1" stroke-width="1.3"/>
<path d="M1135.6 544.9L1141.8 542.7L1147.9 540.6L1154.1 538.5L1160.2 536.4L1164.2 535L1166.4 534.3L1172.5 532.2L1178.6 530.1L1184.7 528.1L1190.9 526L1197 524L1203.1 522L1203.7 521.8L1209.2 520L1215.3 518.1L1221.4 516.1L1227.6 514.2L1233.7 512.3L1236.9 511.4L1239.9 510.5L1246.2 508.6L1252.4 506.8L1258.7 505L1264 503.6L1265.1 503.3L1271.5 501.6L1278 500L1284.7 498.4L1285.8 498.2L1291.5 497L1298.5 495.6L1303.2 494.7L1305.7 494.3L1313.2 493.2L1317.5 492.7L1321.2 492.3L1329.5 491.7L1329.8 491.7L1339.4 491.4L1339.8 491.4L1348.9 491.7L1350.4 491.8L1357.2 492.5L1363.9 493.4L1364.8 493.5L1371.9 494.7L1378.7 496.2L1383.1 497.3L1385.1 497.8L1391.4 499.5L1397.4 501.3L1403.3 503.2L1409.1 505.2L1414.8 507.2L1420.5 509.3L1426 511.5L1427.9 512.2L1431.6 513.6L1437 515.9L1442.5 518.1L1447.9 520.4L1453.3 522.7L1458.7 525L1464.1 527.4L1469.5 529.8L1474.9 532.2L1480.2 534.6L1481.6 535.3L1485.6 537.1L1491 539.6L1496.4 542.1L1501.8 544.6L1507.2 547.1L1512.6 549.7M1438.8 416.2L1438.1 416.4L1433.2 417.7L1427.6 419.2L1421.8 420.6L1417.2 421.7L1415.8 422L1409.8 423.3L1403.5 424.6L1400 425.3L1397 425.8L1390.2 426.9L1385.9 427.4L1383 427.8L1375.3 428.5L1374 428.6L1366.9 429L1363.8 429L1357.5 429L1354.9 428.9L1346.9 428.4L1346.4 428.3L1339.5 427.6L1332.7 426.5L1332.3 426.4L1326.3 425.3L1320.2 423.9L1314.5 422.5L1310.8 421.5L1308.9 420.9L1303.5 419.3L1298.3 417.6L1293.2 415.9L1288.2 414.2L1283.3 412.4L1278.5 410.6L1273.8 408.8L1269.1 406.9L1264.5 405.1L1260 403.2L1255.5 401.4" fill="none" stroke="#62ff00" stroke-opacity="1" stroke-width="1.3"/>
<path d="M1118.6 536.4L1124.3 534.1L1130 531.8L1135.7 529.4L1141.3 527.1L1143.2 526.3L1146.9 524.8L1152.4 522.5L1157.9 520.2L1163.4 517.8L1168.8 515.5L1174.1 513.2L1179.5 510.8L1184.7 508.5L1189.9 506.2L1195 503.8L1200.1 501.4L1205.1 499.1L1205.7 498.8L1210 496.7L1214.9 494.2L1219.6 491.8L1224.3 489.3L1228.8 486.8L1233.2 484.3L1237.4 481.7L1241.5 479.1L1243.1 478L1245.4 476.4L1249.1 473.6L1252.5 470.7L1254.5 468.8L1255.6 467.7L1258.3 464.6L1259.9 462.3L1260.5 461.3L1262.1 457.7L1262.3 457.1L1263 453.9L1263.1 452.6L1263 449.7L1262.8 448.7L1261.8 445.1L1261.8 445L1260.2 441.7L1259 439.7L1258.3 438.6L1256 435.6L1254.3 433.5L1253.5 432.7L1250.8 429.9L1248 427.2L1247.1 426.4L1245 424.6L1241.9 422.1L1238.8 419.5L1236.8 418L1235.6 417.1L1232.3 414.7L1229 412.3M1472.7 429.5L1468.9 431.7L1468.5 431.9L1465.1 434L1461.5 436.3L1457.9 438.7L1454.5 441.2L1451.4 443.8L1450.3 444.7L1448.4 446.4L1445.7 449.2L1443.3 452.2L1443.1 452.4L1441.3 455.3L1440 458.3L1439.9 458.7L1439.1 462.3L1439 463.2L1439.1 466.4L1439.3 467.6L1440.3 470.9L1440.5 471.5L1442.4 475.2L1442.9 476.1L1444.7 478.7L1447.4 482.1L1447.5 482.1L1450.5 485.3L1453.7 488.4L1454.5 489.2L1457.2 491.5L1460.8 494.5L1464.6 497.5L1464.9 497.7L1468.5 500.4L1472.5 503.3L1476.6 506.1L1479.5 508.1L1480.9 509L1485.2 511.8L1489.5 514.6L1494 517.4L1498.5 520.2L1499.1 520.6L1503 523L1507.7 525.8L1512.3 528.6L1517 531.4L1521.8 534.2L1524.4 535.7L1526.6 537L1531.5 539.8" fill="none" stroke="#62ff00" stroke-opacity="0.8" stroke-width="1.3"/>
<path d="M1102.1 528.2L1107.4 525.7L1112.7 523.2L1117.9 520.7L1123 518.2L1128.1 515.7L1132.6 513.4L1133.1 513.1L1138.1 510.6L1142.9 508L1147.7 505.4L1152.4 502.8L1157 500.2L1161.5 497.6L1165.9 494.9L1166.9 494.2L1170.2 492.2L1174.3 489.4L1178.3 486.6L1182.2 483.8L1183.4 482.9L1185.9 480.9L1189.5 478L1192.8 475L1193.3 474.5L1195.9 471.9L1198.7 468.7L1199.6 467.6L1201.3 465.5L1203.6 462.1L1203.7 461.8L1205.5 458.5L1206.3 456.7L1207 454.9L1207.7 452.1L1208 451L1208.4 447.8L1208.4 446.9L1208.4 443.9L1208.3 442.6L1207.9 440.2L1207.4 438L1207 436.6L1205.7 433.3L1205.6 433.1L1204.2 430.1L1202.9 427.8L1202.4 427L1200.5 424M1505.4 442.3L1503.1 445.2L1501.8 447L1501 448.2L1499.2 451.3L1498.2 453.2L1497.6 454.5L1496.4 457.9L1496.2 458.7L1495.6 461.5L1495.4 463.7L1495.3 465.3L1495.4 468.3L1495.5 469.3L1496.1 472.6L1496.4 473.7L1497.4 476.7L1498.1 478.3L1499.1 480.6L1500.6 483.4L1501.2 484.3L1503.6 487.9L1504.3 489L1506.2 491.5L1509.1 494.9L1509.3 495.2L1512.2 498.3L1515.4 501.6L1515.9 502L1518.9 504.9L1522.4 508.1L1524.3 509.7L1526.1 511.3L1529.9 514.4L1533.9 517.6L1534.9 518.4L1537.9 520.6L1542 523.7L1546.2 526.8L1548.1 528.1L1550.5 529.8" fill="none" stroke="#62ff00" stroke-opacity="0.5" stroke-width="1.3"/>
<path d="M1086.1 520.3L1091.1 517.6L1095.9 515L1100.7 512.3L1105.4 509.6L1110 506.9L1114.5 504.1L1115 503.9L1119 501.4L1123.3 498.6L1127.5 495.8L1131.6 492.9L1132.9 492L1135.6 490.1L1139.4 487.1L1143.1 484.2L1144.7 482.8L1146.6 481.2L1150 478.1L1152.9 475.2L1153.2 475L1156.2 471.8L1158.8 468.7L1159 468.5L1161.5 465.2L1163 462.9L1163.8 461.8L1165.7 458.2L1166 457.7L1167.4 454.5L1168 452.9L1168.7 450.8L1169.3 448.4L1169.6 446.8L1169.9 444.3L1170 442.7L1170.1 440.3L1170 438.4L1169.8 436.6M1537.2 454.8L1536.4 457.6L1536.3 458.2L1535.6 461.8L1535.5 462.7L1535.4 465.6L1535.4 467.5L1535.5 469.5L1535.8 472L1536.1 473.7L1536.8 476.3L1537.3 478.2L1538.2 480.4L1539.2 482.9L1539.9 484.4L1541.7 487.9L1541.9 488.3L1544.2 492.1L1545.1 493.3L1546.8 495.7L1549.4 499.2L1549.5 499.3L1552.5 502.9L1554.9 505.5L1555.6 506.4L1558.9 509.8L1561.6 512.4L1562.3 513.2L1565.9 516.5L1569.6 519.8" fill="none" stroke="#62ff00" stroke-opacity="0.38" stroke-width="1.3"/>
<path d="M1026.8 397L1326.5 284.5M1021.3 293.6L1326.5 191.2M1015.9 190.2L1326.6 97.8M1010.4 86.8L1326.6 4.4M1089.5 66.2L1101.7 368.9M1168.5 45.6L1176.6 340.7M1247.6 25L1251.6 312.6M1010.4 86.8L1031.8 493.3M1632.1 393.7L1326.5 284.5M1637.7 290.5L1326.5 191.2M1643.3 187.2L1326.6 97.8M1648.9 84L1326.6 4.4M1568.3 64.1L1555.7 366.4M1487.7 44.2L1479.3 339.1M1407.2 24.3L1402.9 311.8M1648.9 84L1626.8 489.9M1326.6 4.4L1326.5 372.2" fill="none" stroke="#333" stroke-width="1.2"/>
<g fill="currentColor" stroke="currentColor" stroke-width="0.6" stroke-linejoin="round"><path color="#16ff4a" d="M1312.9 184l6.9 1.1 6.9 0.2 -7 -0.8z"/><path color="#16ff60" d="M1319.7 184.5l7 0.8 6.8 0.3 -7 -0.7z"/><path color="#17ff41" d="M1319.8 185.1l7 1 6.9 0.1 -7 -0.9z"/><path color="#17ff55" d="M1326.7 185.3l7 0.9 6.8 0.1 -7 -0.7z"/><path color="#18ff37" d="M1326.8 186.1l7.1 0.9 6.8 0 -7 -0.8z"/><path color="#18ff4a" d="M1333.7 186.2l7 0.8 6.8 0 -7 -0.7z"/><path color="#19ff2d" d="M1333.9 187l7.1 1 6.8 -0.2 -7.1 -0.8z"/><path color="#1aff3f" d="M1340.7 187l7.1 0.8 6.8 -0.1 -7.1 -0.7z"/><path color="#15ff1f" d="M1299 183.3l7 1.3 6.9 0.2 -6.9 -1.1z"/><path color="#16ff35" d="M1306 183.7l6.9 1.1 6.9 0.3 -6.9 -1.1z"/><path color="#16ff18" d="M1306 184.6l7 1.3 6.9 0.1 -7 -1.2z"/><path color="#17ff2d" d="M1312.9 184.8l7 1.2 6.9 0.1 -7 -1z"/><path color="#32ff14" d="M1285 182.7l7 1.6 7 0.1 -7 -1.4z"/><path color="#1fff15" d="M1292 183l7 1.4 7 0.2 -7 -1.3z"/><path color="#39ff16" d="M1292 184.3l7 1.6 7 0 -7 -1.5z"/><path color="#27ff16" d="M1299 184.4l7 1.5 7 0 -7 -1.3z"/><path color="#1eff18" d="M1313 185.9l7.1 1.3 6.9 -0.1 -7.1 -1.1z"/><path color="#18ff24" d="M1319.9 186l7.1 1.1 6.9 -0.1 -7.1 -0.9z"/><path color="#27ff19" d="M1320.1 187.2l7 1.2 7 -0.2 -7.1 -1.1z"/><path color="#19ff1b" d="M1327 187.1l7.1 1.1 6.9 -0.2 -7.1 -1z"/><path color="#1aff23" d="M1341 188l7.1 0.9 6.9 -0.3 -7.2 -0.8z"/><path color="#1bff34" d="M1347.8 187.8l7.2 0.8 6.8 -0.3 -7.2 -0.6z"/><path color="#1eff1b" d="M1348.1 188.9l7.2 0.9 6.8 -0.4 -7.1 -0.8z"/><path color="#1cff29" d="M1355 188.6l7.1 0.8 6.8 -0.5 -7.1 -0.6z"/><path color="#58ff14" d="M1270.8 182.1l7 1.9 7.1 0.1 -7 -1.7z"/><path color="#45ff14" d="M1277.9 182.4l7 1.7 7.1 0.2 -7 -1.6z"/><path color="#5cff15" d="M1277.8 184l7 1.9 7.1 0 -7 -1.8z"/><path color="#4aff15" d="M1284.9 184.1l7 1.8 7.1 0 -7 -1.6z"/><path color="#3fff17" d="M1299 185.9l7 1.5 7.1 -0.1 -7.1 -1.4z"/><path color="#2fff17" d="M1306 185.9l7.1 1.4 7 -0.1 -7.1 -1.3z"/><path color="#46ff18" d="M1306 187.4l7.1 1.6 7.1 -0.3 -7.1 -1.4z"/><path color="#37ff18" d="M1313.1 187.3l7.1 1.4 6.9 -0.3 -7 -1.2z"/><path color="#30ff1a" d="M1327.1 188.4l7.2 1.2 6.9 -0.3 -7.1 -1.1z"/><path color="#21ff1a" d="M1334.1 188.2l7.1 1.1 6.9 -0.4 -7.1 -0.9z"/><path color="#39ff1b" d="M1334.3 189.6l7.2 1.2 6.9 -0.5 -7.2 -1z"/><path color="#2bff1b" d="M1341.2 189.3l7.2 1 6.9 -0.5 -7.2 -0.9z"/><path color="#29ff1c" d="M1355.3 189.8l7.2 0.9 6.8 -0.6 -7.2 -0.7z"/><path color="#1dff1d" d="M1362.1 189.4l7.2 0.7 6.8 -0.6 -7.2 -0.6z"/><path color="#35ff1e" d="M1362.5 190.7l7.3 0.9 6.8 -0.8 -7.3 -0.7z"/><path color="#29ff1e" d="M1369.3 190.1l7.3 0.7 6.8 -0.7 -7.3 -0.6z"/><path color="#60ff16" d="M1284.8 185.9l7.1 1.9 7.1 -0.2 -7.1 -1.7z"/><path color="#50ff17" d="M1291.9 185.9l7.1 1.7 7 -0.2 -7 -1.5z"/><path color="#65ff18" d="M1291.9 187.8l7.1 1.8 7.1 -0.3 -7.1 -1.7z"/><path color="#56ff18" d="M1299 187.6l7.1 1.7 7 -0.3 -7.1 -1.6z"/><path color="#7dff13" d="M1256.4 181.7l7 2.2 7.2 0.1 -7 -2.1z"/><path color="#6aff13" d="M1263.6 181.9l7 2.1 7.2 0 -7 -1.9z"/><path color="#7fff14" d="M1263.4 183.9l7 2.2 7.2 -0.1 -7 -2z"/><path color="#6dff15" d="M1270.6 184l7 2 7.2 -0.1 -7 -1.9z"/><path color="#4dff19" d="M1313.1 189l7.2 1.5 7 -0.4 -7.1 -1.4z"/><path color="#3fff19" d="M1320.2 188.7l7.1 1.4 7 -0.5 -7.2 -1.2z"/><path color="#54ff1a" d="M1320.3 190.5l7.2 1.5 7 -0.6 -7.2 -1.3z"/><path color="#47ff1b" d="M1327.3 190.1l7.2 1.3 7 -0.6 -7.2 -1.2z"/><path color="#43ff1c" d="M1341.5 190.8l7.2 1.2 6.9 -0.6 -7.2 -1.1z"/><path color="#36ff1c" d="M1348.4 190.3l7.2 1.1 6.9 -0.7 -7.2 -0.9z"/><path color="#4cff1d" d="M1348.7 192l7.2 1.2 7 -0.8 -7.3 -1z"/><path color="#41ff1d" d="M1355.6 191.4l7.3 1 6.9 -0.8 -7.3 -0.9z"/><path color="#41ff1f" d="M1369.8 191.6l7.3 0.8 6.8 -0.9 -7.3 -0.7z"/><path color="#36ff1f" d="M1376.6 190.8l7.3 0.7 6.8 -0.9 -7.3 -0.5z"/><path color="#4dff20" d="M1377.1 192.4l7.3 0.8 6.9 -1 -7.4 -0.7z"/><path color="#43ff20" d="M1383.9 191.5l7.4 0.7 6.8 -1.1 -7.4 -0.5z"/><path color="#81ff16" d="M1270.4 186.1l7.1 2.2 7.2 -0.3 -7.1 -2z"/><path color="#71ff16" d="M1277.6 186l7.1 2 7.2 -0.2 -7.1 -1.9z"/><path color="#83ff17" d="M1277.5 188.3l7.1 2.1 7.2 -0.4 -7.1 -2z"/><path color="#74ff17" d="M1284.7 188l7.1 2 7.2 -0.4 -7.1 -1.8z"/><path color="#6aff19" d="M1299 189.6l7.1 1.9 7.1 -0.5 -7.1 -1.7z"/><path color="#5bff19" d="M1306.1 189.3l7.1 1.7 7.1 -0.5 -7.2 -1.5z"/><path color="#6eff1a" d="M1306.1 191.5l7.2 1.8 7.1 -0.7 -7.2 -1.6z"/><path color="#61ff1a" d="M1313.2 191l7.2 1.6 7.1 -0.6 -7.2 -1.5z"/><path color="#56ff1e" d="M1355.9 193.2l7.4 1.1 6.9 -0.9 -7.3 -1z"/><path color="#4cff1e" d="M1362.9 192.4l7.3 1 6.9 -1 -7.3 -0.8z"/><path color="#60ff1f" d="M1363.3 194.3l7.3 1.2 6.9 -1.2 -7.3 -0.9z"/><path color="#56ff1f" d="M1370.2 193.4l7.3 0.9 6.9 -1.1 -7.3 -0.8z"/><path color="#a1ff12" d="M1241.8 181.4l7 2.5 7.3 0 -7 -2.4z"/><path color="#8fff13" d="M1249.1 181.5l7 2.4 7.3 0 -7 -2.2z"/><path color="#a1ff14" d="M1248.8 183.9l7 2.5 7.3 -0.2 -7 -2.3z"/><path color="#90ff14" d="M1256.1 183.9l7 2.3 7.3 -0.1 -7 -2.2z"/><path color="#5bff1b" d="M1327.5 192l7.2 1.5 7 -0.8 -7.2 -1.3z"/><path color="#4fff1c" d="M1334.5 191.4l7.2 1.3 7 -0.7 -7.2 -1.2z"/><path color="#63ff1c" d="M1334.7 193.5l7.3 1.5 7 -0.9 -7.3 -1.4z"/><path color="#58ff1d" d="M1341.7 192.7l7.3 1.4 6.9 -0.9 -7.2 -1.2z"/><path color="#59ff21" d="M1384.4 193.2l7.4 0.8 6.9 -1.2 -7.4 -0.6z"/><path color="#50ff21" d="M1391.3 192.2l7.4 0.6 6.8 -1.2 -7.4 -0.5z"/><path color="#65ff22" d="M1391.8 194l7.5 0.8 6.8 -1.4 -7.4 -0.6z"/><path color="#5eff22" d="M1398.7 192.8l7.4 0.6 6.8 -1.3 -7.4 -0.5z"/><path color="#a1ff15" d="M1255.8 186.4l7.1 2.5 7.3 -0.3 -7.1 -2.4z"/><path color="#91ff15" d="M1263.1 186.2l7.1 2.4 7.3 -0.3 -7.1 -2.2z"/><path color="#a0ff16" d="M1262.9 188.9l7.1 2.5 7.3 -0.5 -7.1 -2.3z"/><path color="#92ff17" d="M1270.2 188.6l7.1 2.3 7.3 -0.5 -7.1 -2.1z"/><path color="#6aff1d" d="M1342 195l7.3 1.4 7 -1 -7.3 -1.3z"/><path color="#60ff1e" d="M1349 194.1l7.3 1.3 7 -1.1 -7.4 -1.1z"/><path color="#72ff1f" d="M1349.3 196.4l7.3 1.5 7 -1.3 -7.3 -1.2z"/><path color="#69ff1f" d="M1356.3 195.4l7.3 1.2 7 -1.1 -7.3 -1.2z"/><path color="#c5ff12" d="M1227 181.2l7 2.8 7.4 0 -7 -2.7z"/><path color="#b3ff12" d="M1234.4 181.3l7 2.7 7.4 -0.1 -7 -2.5z"/><path color="#c2ff13" d="M1234 184l7.1 2.8 7.4 -0.2 -7.1 -2.6z"/><path color="#b2ff13" d="M1241.4 184l7.1 2.6 7.3 -0.2 -7 -2.5z"/><path color="#85ff18" d="M1284.6 190.4l7.1 2.2 7.2 -0.6 -7.1 -2z"/><path color="#78ff18" d="M1291.8 190l7.1 2 7.2 -0.5 -7.1 -1.9z"/><path color="#88ff19" d="M1291.7 192.6l7.2 2.1 7.2 -0.7 -7.2 -2z"/><path color="#7bff19" d="M1298.9 192l7.2 2 7.2 -0.7 -7.2 -1.8z"/><path color="#73ff1b" d="M1313.3 193.3l7.2 1.8 7.1 -0.8 -7.2 -1.7z"/><path color="#68ff1b" d="M1320.4 192.6l7.2 1.7 7.1 -0.8 -7.2 -1.5z"/><path color="#79ff1c" d="M1320.5 195.1l7.3 1.8 7.1 -1 -7.3 -1.6z"/><path color="#6eff1c" d="M1327.6 194.3l7.3 1.6 7.1 -0.9 -7.3 -1.5z"/><path color="#6aff20" d="M1370.6 195.5l7.4 1.1 6.9 -1.3 -7.4 -1z"/><path color="#61ff20" d="M1377.5 194.3l7.4 1 6.9 -1.3 -7.4 -0.8z"/><path color="#74ff21" d="M1378 196.6l7.5 1 6.9 -1.4 -7.5 -0.9z"/><path color="#6dff22" d="M1384.9 195.3l7.5 0.9 6.9 -1.4 -7.5 -0.8z"/><path color="#71ff23" d="M1399.3 194.8l7.5 0.7 6.8 -1.5 -7.5 -0.6z"/><path color="#6bff23" d="M1406.1 193.4l7.5 0.6 6.8 -1.5 -7.5 -0.4z"/><path color="#7eff25" d="M1406.8 195.5l7.5 0.8 6.8 -1.7 -7.5 -0.6z"/><path color="#79ff26" d="M1413.6 194l7.5 0.6 6.8 -1.7 -7.5 -0.4z"/><path color="#e8ff11" d="M1212 181.1l7.1 3.2 7.5 -0.2 -7 -3z"/><path color="#d7ff11" d="M1219.6 181.1l7 3 7.4 -0.1 -7 -2.8z"/><path color="#e3ff12" d="M1219.1 184.3l7 3.1 7.5 -0.3 -7 -3z"/><path color="#d3ff13" d="M1226.6 184.1l7 3 7.5 -0.3 -7.1 -2.8z"/><path color="#c0ff14" d="M1241.1 186.8l7.1 2.8 7.4 -0.3 -7.1 -2.7z"/><path color="#b0ff15" d="M1248.5 186.6l7.1 2.7 7.3 -0.4 -7.1 -2.5z"/><path color="#bdff15" d="M1248.2 189.6l7.1 2.8 7.4 -0.5 -7.1 -2.6z"/><path color="#afff16" d="M1255.6 189.3l7.1 2.6 7.3 -0.5 -7.1 -2.5z"/><path color="#a1ff17" d="M1270 191.4l7.2 2.4 7.3 -0.6 -7.2 -2.3z"/><path color="#93ff18" d="M1277.3 190.9l7.2 2.3 7.2 -0.6 -7.1 -2.2z"/><path color="#a1ff18" d="M1277.2 193.8l7.2 2.5 7.3 -0.8 -7.2 -2.3z"/><path color="#94ff19" d="M1284.5 193.2l7.2 2.3 7.2 -0.8 -7.2 -2.1z"/><path color="#7eff1d" d="M1327.8 196.9l7.3 1.7 7.1 -1.1 -7.3 -1.6z"/><path color="#74ff1d" d="M1334.9 195.9l7.3 1.6 7.1 -1.1 -7.3 -1.4z"/><path color="#83ff1e" d="M1335.1 198.6l7.4 1.8 7.1 -1.3 -7.4 -1.6z"/><path color="#7bff1e" d="M1342.2 197.5l7.4 1.6 7 -1.2 -7.3 -1.5z"/><path color="#7aff20" d="M1356.6 197.9l7.4 1.4 7 -1.4 -7.4 -1.3z"/><path color="#72ff20" d="M1363.6 196.6l7.4 1.3 7 -1.3 -7.4 -1.1z"/><path color="#82ff21" d="M1364 199.3l7.5 1.4 7 -1.6 -7.5 -1.2z"/><path color="#7bff21" d="M1371 197.9l7.5 1.2 7 -1.5 -7.5 -1z"/><path color="#8bff1a" d="M1298.9 194.7l7.3 2.1 7.2 -0.9 -7.3 -1.9z"/><path color="#7fff1a" d="M1306.1 194l7.3 1.9 7.1 -0.8 -7.2 -1.8z"/><path color="#8eff1b" d="M1306.2 196.8l7.2 2.1 7.2 -1 -7.2 -2z"/><path color="#83ff1b" d="M1313.4 195.9l7.2 2 7.2 -1 -7.3 -1.8z"/><path color="#7eff22" d="M1385.5 197.6l7.4 1.1 7 -1.6 -7.5 -0.9z"/><path color="#78ff23" d="M1392.4 196.2l7.5 0.9 6.9 -1.6 -7.5 -0.7z"/><path color="#88ff23" d="M1392.9 198.7l7.6 1 6.9 -1.7 -7.5 -0.9z"/><path color="#83ff24" d="M1399.9 197.1l7.5 0.9 6.9 -1.7 -7.5 -0.8z"/><path color="#8cff28" d="M1414.3 196.3l7.6 0.7 6.8 -1.9 -7.6 -0.5z"/><path color="#88ff29" d="M1421.1 194.6l7.6 0.5 6.8 -1.8 -7.6 -0.4z"/><path color="#99ff2c" d="M1421.9 197l7.6 0.6 6.9 -2 -7.7 -0.5z"/><path color="#96ff2d" d="M1428.7 195.1l7.7 0.5 6.8 -1.9 -7.7 -0.4z"/><path color="#fff010" d="M1196.9 181.1l7 3.5 7.6 -0.2 -7 -3.3z"/><path color="#faff11" d="M1204.5 181.1l7 3.3 7.6 -0.1 -7.1 -3.2z"/><path color="#fffa11" d="M1203.9 184.6l7.1 3.5 7.6 -0.4 -7.1 -3.3z"/><path color="#f3ff12" d="M1211.5 184.4l7.1 3.3 7.5 -0.3 -7 -3.1z"/><path color="#deff13" d="M1226.1 187.4l7.1 3.1 7.5 -0.4 -7.1 -3z"/><path color="#cfff14" d="M1233.6 187.1l7.1 3 7.5 -0.5 -7.1 -2.8z"/><path color="#d9ff15" d="M1233.2 190.5l7.1 3.1 7.5 -0.6 -7.1 -2.9z"/><path color="#cbff15" d="M1240.7 190.1l7.1 2.9 7.5 -0.6 -7.1 -2.8z"/><path color="#bbff17" d="M1255.3 192.4l7.1 2.8 7.4 -0.7 -7.1 -2.6z"/><path color="#aeff17" d="M1262.7 191.9l7.1 2.6 7.4 -0.7 -7.2 -2.4z"/><path color="#b9ff18" d="M1262.4 195.2l7.3 2.8 7.3 -0.9 -7.2 -2.6z"/><path color="#adff18" d="M1269.8 194.5l7.2 2.6 7.4 -0.8 -7.2 -2.5z"/><path color="#a1ff1a" d="M1284.4 196.3l7.2 2.4 7.3 -0.9 -7.2 -2.3z"/><path color="#96ff1a" d="M1291.7 195.5l7.2 2.3 7.3 -1 -7.3 -2.1z"/><path color="#a2ff1b" d="M1291.6 198.7l7.3 2.4 7.3 -1.1 -7.3 -2.2z"/><path color="#98ff1b" d="M1298.9 197.8l7.3 2.2 7.2 -1.1 -7.2 -2.1z"/><path color="#91ff1c" d="M1313.4 198.9l7.4 2.1 7.2 -1.2 -7.4 -1.9z"/><path color="#87ff1d" d="M1320.6 197.9l7.4 1.9 7.1 -1.2 -7.3 -1.7z"/><path color="#94ff1d" d="M1320.8 201l7.3 2.1 7.2 -1.4 -7.3 -1.9z"/><path color="#8cff1e" d="M1328 199.8l7.3 1.9 7.2 -1.3 -7.4 -1.8z"/><path color="#89ff1f" d="M1342.5 200.4l7.4 1.7 7.1 -1.4 -7.4 -1.6z"/><path color="#81ff1f" d="M1349.6 199.1l7.4 1.6 7 -1.4 -7.4 -1.4z"/><path color="#8fff20" d="M1349.9 202.1l7.4 1.7 7.1 -1.6 -7.4 -1.5z"/><path color="#88ff20" d="M1357 200.7l7.4 1.5 7.1 -1.5 -7.5 -1.4z"/><path color="#8aff22" d="M1371.5 200.7l7.5 1.3 7 -1.7 -7.5 -1.2z"/><path color="#84ff22" d="M1378.5 199.1l7.5 1.2 6.9 -1.6 -7.4 -1.1z"/><path color="#92ff23" d="M1379 202l7.5 1.4 7 -1.9 -7.5 -1.2z"/><path color="#8dff23" d="M1386 200.3l7.5 1.2 7 -1.8 -7.6 -1z"/><path color="#93ff26" d="M1400.5 199.7l7.6 1.1 6.9 -2 -7.6 -0.8z"/><path color="#90ff27" d="M1407.4 198l7.6 0.8 6.9 -1.8 -7.6 -0.7z"/><path color="#9fff2a" d="M1408.1 200.8l7.6 0.9 6.9 -2 -7.6 -0.9z"/><path color="#9cff2b" d="M1415 198.8l7.6 0.9 6.9 -2.1 -7.6 -0.6z"/><path color="#a7ff30" d="M1429.5 197.6l7.7 0.7 6.9 -2.2 -7.7 -0.5z"/><path color="#a5ff31" d="M1436.4 195.6l7.7 0.5 6.8 -2.1 -7.7 -0.3z"/><path color="#b4ff33" d="M1437.2 198.3l7.7 0.6 6.9 -2.3 -7.7 -0.5z"/><path color="#b3ff34" d="M1444.1 196.1l7.7 0.5 6.8 -2.3 -7.7 -0.3z"/><path color="#fcff13" d="M1211 188.1l7.1 3.4 7.6 -0.5 -7.1 -3.3z"/><path color="#edff13" d="M1218.6 187.7l7.1 3.3 7.5 -0.5 -7.1 -3.1z"/><path color="#f4ff14" d="M1218.1 191.5l7.1 3.5 7.6 -0.7 -7.1 -3.3z"/><path color="#e7ff14" d="M1225.7 191l7.1 3.3 7.5 -0.7 -7.1 -3.1z"/><path color="#ffc410" d="M1181.5 181.3l7 3.8 7.7 -0.3 -7 -3.6z"/><path color="#ffda10" d="M1189.2 181.2l7 3.6 7.7 -0.2 -7 -3.5z"/><path color="#ffd111" d="M1188.5 185.1l7.1 3.8 7.7 -0.4 -7.1 -3.7z"/><path color="#ffe511" d="M1196.2 184.8l7.1 3.7 7.7 -0.4 -7.1 -3.5z"/><path color="#d5ff16" d="M1240.3 193.6l7.2 3.1 7.5 -0.7 -7.2 -3z"/><path color="#c8ff16" d="M1247.8 193l7.2 3 7.4 -0.8 -7.1 -2.8z"/><path color="#d0ff17" d="M1247.5 196.7l7.2 3.1 7.5 -0.9 -7.2 -2.9z"/><path color="#c5ff18" d="M1255 196l7.2 2.9 7.5 -0.9 -7.3 -2.8z"/><path color="#b7ff19" d="M1269.7 198l7.2 2.7 7.4 -1 -7.3 -2.6z"/><path color="#acff19" d="M1277 197.1l7.3 2.6 7.3 -1 -7.2 -2.4z"/><path color="#b6ff1a" d="M1276.9 200.7l7.3 2.8 7.4 -1.2 -7.3 -2.6z"/><path color="#acff1a" d="M1284.3 199.7l7.3 2.6 7.3 -1.2 -7.3 -2.4z"/><path color="#a3ff1c" d="M1298.9 201.1l7.3 2.4 7.3 -1.3 -7.3 -2.2z"/><path color="#9aff1c" d="M1306.2 200l7.3 2.2 7.3 -1.2 -7.4 -2.1z"/><path color="#a4ff1d" d="M1306.2 203.5l7.4 2.4 7.3 -1.4 -7.4 -2.3z"/><path color="#9cff1d" d="M1313.5 202.2l7.4 2.3 7.2 -1.4 -7.3 -2.1z"/><path color="#97ff1e" d="M1328.1 203.1l7.4 2 7.2 -1.5 -7.4 -1.9z"/><path color="#90ff1f" d="M1335.3 201.7l7.4 1.9 7.2 -1.5 -7.4 -1.7z"/><path color="#9bff1f" d="M1335.5 205.1l7.5 2.1 7.2 -1.7 -7.5 -1.9z"/><path color="#95ff20" d="M1342.7 203.6l7.5 1.9 7.1 -1.7 -7.4 -1.7z"/><path color="#95ff21" d="M1357.3 203.8l7.5 1.7 7.1 -1.7 -7.5 -1.6z"/><path color="#8fff21" d="M1364.4 202.2l7.5 1.6 7.1 -1.8 -7.5 -1.3z"/><path color="#9bff22" d="M1364.8 205.5l7.5 1.7 7.1 -1.9 -7.5 -1.5z"/><path color="#96ff23" d="M1371.9 203.8l7.5 1.5 7.1 -1.9 -7.5 -1.4z"/><path color="#9aff24" d="M1386.5 203.4l7.6 1.3 7 -2 -7.6 -1.2z"/><path color="#97ff25" d="M1393.5 201.5l7.6 1.2 7 -1.9 -7.6 -1.1z"/><path color="#a4ff28" d="M1394.1 204.7l7.6 1.3 7 -2.1 -7.6 -1.2z"/><path color="#a1ff29" d="M1401.1 202.7l7.6 1.2 7 -2.2 -7.6 -0.9z"/><path color="#aaff2e" d="M1415.7 201.7l7.7 1 6.9 -2.2 -7.7 -0.8z"/><path color="#a9ff2f" d="M1422.6 199.7l7.7 0.8 6.9 -2.2 -7.7 -0.7z"/><path color="#b6ff31" d="M1423.4 202.7l7.7 1 7 -2.4 -7.8 -0.8z"/><path color="#b5ff32" d="M1430.3 200.5l7.8 0.8 6.8 -2.4 -7.7 -0.6z"/><path color="#c1ff37" d="M1444.9 198.9l7.8 0.6 6.9 -2.5 -7.8 -0.4z"/><path color="#c1ff38" d="M1451.8 196.6l7.8 0.4 6.8 -2.4 -7.8 -0.3z"/><path color="#cdff3b" d="M1452.7 199.5l7.9 0.6 6.8 -2.6 -7.8 -0.5z"/><path color="#ceff3c" d="M1459.6 197l7.8 0.5 6.8 -2.6 -7.8 -0.3z"/><path color="#ffde12" d="M1195.6 188.9l7.1 3.8 7.7 -0.6 -7.1 -3.6z"/><path color="#fff112" d="M1203.3 188.5l7.1 3.6 7.7 -0.6 -7.1 -3.4z"/><path color="#ffea13" d="M1202.7 192.7l7.2 3.7 7.7 -0.7 -7.2 -3.6z"/><path color="#fffb14" d="M1210.4 192.1l7.2 3.6 7.6 -0.7 -7.1 -3.5z"/><path color="#edff15" d="M1225.2 195l7.2 3.4 7.6 -0.9 -7.2 -3.2z"/><path color="#e1ff16" d="M1232.8 194.3l7.2 3.2 7.5 -0.8 -7.2 -3.1z"/><path color="#e7ff17" d="M1232.4 198.4l7.2 3.4 7.6 -1 -7.2 -3.3z"/><path color="#dcff17" d="M1240 197.5l7.2 3.3 7.5 -1 -7.2 -3.1z"/><path color="#b4ff1b" d="M1284.2 203.5l7.3 2.7 7.4 -1.4 -7.3 -2.5z"/><path color="#acff1b" d="M1291.6 202.3l7.3 2.5 7.3 -1.3 -7.3 -2.4z"/><path color="#b3ff1c" d="M1291.5 206.2l7.4 2.7 7.4 -1.5 -7.4 -2.6z"/><path color="#acff1c" d="M1298.9 204.8l7.4 2.6 7.3 -1.5 -7.4 -2.4z"/><path color="#a1ff23" d="M1372.3 207.2l7.6 1.6 7.1 -2 -7.6 -1.5z"/><path color="#9eff24" d="M1379.4 205.3l7.6 1.5 7.1 -2.1 -7.6 -1.3z"/><path color="#a8ff26" d="M1379.9 208.8l7.7 1.7 7.1 -2.3 -7.7 -1.4z"/><path color="#a6ff27" d="M1387 206.8l7.7 1.4 7 -2.2 -7.6 -1.3z"/><path color="#adff2c" d="M1401.7 206l7.7 1.3 7 -2.3 -7.7 -1.1z"/><path color="#acff2d" d="M1408.7 203.9l7.7 1.1 7 -2.3 -7.7 -1z"/><path color="#b6ff2f" d="M1409.4 207.3l7.7 1.3 7 -2.5 -7.7 -1.1z"/><path color="#b6ff30" d="M1416.4 205l7.7 1.1 7 -2.4 -7.7 -1z"/><path color="#c1ff35" d="M1431.1 203.7l7.8 0.9 6.9 -2.6 -7.7 -0.7z"/><path color="#c1ff36" d="M1438.1 201.3l7.7 0.7 6.9 -2.5 -7.8 -0.6z"/><path color="#cbff39" d="M1438.9 204.6l7.8 0.9 7 -2.7 -7.9 -0.8z"/><path color="#cdff3a" d="M1445.8 202l7.9 0.8 6.9 -2.7 -7.9 -0.6z"/><path color="#ccff18" d="M1254.7 199.8l7.3 3.1 7.5 -1.1 -7.3 -2.9z"/><path color="#c2ff19" d="M1262.2 198.9l7.3 2.9 7.4 -1.1 -7.2 -2.7z"/><path color="#c8ff19" d="M1262 202.9l7.3 3.1 7.5 -1.3 -7.3 -2.9z"/><path color="#bfff1a" d="M1269.5 201.8l7.3 2.9 7.4 -1.2 -7.3 -2.8z"/><path color="#a5ff1e" d="M1313.6 205.9l7.4 2.4 7.3 -1.6 -7.4 -2.2z"/><path color="#9eff1e" d="M1320.9 204.5l7.4 2.2 7.2 -1.6 -7.4 -2z"/><path color="#a7ff1f" d="M1321 208.3l7.5 2.3 7.2 -1.7 -7.4 -2.2z"/><path color="#a1ff1f" d="M1328.3 206.7l7.4 2.2 7.3 -1.7 -7.5 -2.1z"/><path color="#daff3e" d="M1460.6 200.1l7.9 0.5 6.8 -2.7 -7.9 -0.4z"/><path color="#dbff3f" d="M1467.4 197.5l7.9 0.4 6.8 -2.8 -7.9 -0.2z"/><path color="#e6ff42" d="M1468.5 200.6l7.9 0.6 6.9 -3 -8 -0.3z"/><path color="#e8ff43" d="M1475.3 197.9l8 0.3 6.8 -2.9 -8 -0.2z"/><path color="#ff990f" d="M1165.9 181.6l7.1 4.1 7.8 -0.3 -7.1 -4z"/><path color="#ffae0f" d="M1173.7 181.4l7.1 4 7.7 -0.3 -7 -3.8z"/><path color="#ffa910" d="M1173 185.7l7.1 4.1 7.8 -0.5 -7.1 -3.9z"/><path color="#ffbd10" d="M1180.8 185.4l7.1 3.9 7.7 -0.4 -7.1 -3.8z"/><path color="#9fff21" d="M1343 207.2l7.5 2 7.2 -1.9 -7.5 -1.8z"/><path color="#9aff21" d="M1350.2 205.5l7.5 1.8 7.1 -1.8 -7.5 -1.7z"/><path color="#a3ff22" d="M1350.5 209.2l7.5 2 7.2 -2 -7.5 -1.9z"/><path color="#9fff22" d="M1357.7 207.3l7.5 1.9 7.1 -2 -7.5 -1.7z"/><path color="#c5ff1a" d="M1269.3 206l7.3 3 7.5 -1.4 -7.3 -2.9z"/><path color="#bdff1b" d="M1276.8 204.7l7.3 2.9 7.4 -1.4 -7.3 -2.7z"/><path color="#c1ff1c" d="M1276.6 209l7.4 3.1 7.5 -1.6 -7.4 -2.9z"/><path color="#baff1c" d="M1284.1 207.6l7.4 2.9 7.4 -1.6 -7.4 -2.7z"/><path color="#ff6e0e" d="M1150.1 182l7.1 4.4 7.9 -0.4 -7.1 -4.2z"/><path color="#ff830e" d="M1158 181.8l7.1 4.2 7.9 -0.3 -7.1 -4.1z"/><path color="#ff820f" d="M1157.2 186.4l7.1 4.5 7.9 -0.6 -7.1 -4.3z"/><path color="#ff9510" d="M1165.1 186l7.1 4.3 7.9 -0.5 -7.1 -4.1z"/><path color="#ffb911" d="M1180.1 189.8l7.1 4.1 7.8 -0.6 -7.1 -4z"/><path color="#ffcb12" d="M1187.9 189.3l7.1 4 7.7 -0.6 -7.1 -3.8z"/><path color="#ffc913" d="M1187.2 193.9l7.1 4.1 7.8 -0.8 -7.1 -3.9z"/><path color="#ffd913" d="M1195 193.3l7.1 3.9 7.8 -0.8 -7.2 -3.7z"/><path color="#fff615" d="M1209.9 196.4l7.2 3.8 7.7 -0.9 -7.2 -3.6z"/><path color="#faff15" d="M1217.6 195.7l7.2 3.6 7.6 -0.9 -7.2 -3.4z"/><path color="#fdff16" d="M1217.1 200.2l7.2 3.7 7.7 -1 -7.2 -3.6z"/><path color="#f2ff16" d="M1224.8 199.3l7.2 3.6 7.6 -1.1 -7.2 -3.4z"/><path color="#e1ff18" d="M1239.6 201.8l7.3 3.4 7.6 -1.2 -7.3 -3.2z"/><path color="#d6ff18" d="M1247.2 200.8l7.3 3.2 7.5 -1.1 -7.3 -3.1z"/><path color="#daff19" d="M1246.9 205.2l7.3 3.4 7.6 -1.3 -7.3 -3.3z"/><path color="#d2ff19" d="M1254.5 204l7.3 3.3 7.5 -1.3 -7.3 -3.1z"/><path color="#b2ff1d" d="M1298.9 208.9l7.4 2.7 7.4 -1.7 -7.4 -2.5z"/><path color="#acff1e" d="M1306.3 207.4l7.4 2.5 7.3 -1.6 -7.4 -2.4z"/><path color="#b1ff1e" d="M1306.3 211.6l7.5 2.7 7.3 -1.9 -7.4 -2.5z"/><path color="#acff1f" d="M1313.7 209.9l7.4 2.5 7.4 -1.8 -7.5 -2.3z"/><path color="#a8ff20" d="M1328.5 210.6l7.5 2.4 7.2 -1.9 -7.5 -2.2z"/><path color="#a4ff20" d="M1335.7 208.9l7.5 2.2 7.3 -1.9 -7.5 -2z"/><path color="#aaff21" d="M1336 213l7.5 2.3 7.3 -2.1 -7.6 -2.1z"/><path color="#a7ff21" d="M1343.2 211.1l7.6 2.1 7.2 -2 -7.5 -2z"/><path color="#a7ff23" d="M1358 211.2l7.6 1.9 7.2 -2.1 -7.6 -1.8z"/><path color="#a4ff23" d="M1365.2 209.2l7.6 1.8 7.1 -2.2 -7.6 -1.6z"/><path color="#abff24" d="M1365.6 213.1l7.6 2 7.2 -2.3 -7.6 -1.8z"/><path color="#aaff25" d="M1372.8 211l7.6 1.8 7.2 -2.3 -7.7 -1.7z"/><path color="#afff2a" d="M1387.6 210.5l7.6 1.6 7.1 -2.4 -7.6 -1.5z"/><path color="#aeff2b" d="M1394.7 208.2l7.6 1.5 7.1 -2.4 -7.7 -1.3z"/><path color="#b7ff2d" d="M1395.2 212.1l7.8 1.6 7.1 -2.6 -7.8 -1.4z"/><path color="#b7ff2e" d="M1402.3 209.7l7.8 1.4 7 -2.5 -7.7 -1.3z"/><path color="#c0ff33" d="M1417.1 208.6l7.8 1.2 7 -2.6 -7.8 -1.1z"/><path color="#c0ff34" d="M1424.1 206.1l7.8 1.1 7 -2.6 -7.8 -0.9z"/><path color="#c9ff37" d="M1424.9 209.8l7.8 1.3 7.1 -2.8 -7.9 -1.1z"/><path color="#caff38" d="M1431.9 207.2l7.9 1.1 6.9 -2.8 -7.8 -0.9z"/><path color="#d6ff3c" d="M1446.7 205.5l7.9 0.9 7 -2.9 -7.9 -0.7z"/><path color="#d8ff3d" d="M1453.7 202.8l7.9 0.7 6.9 -2.9 -7.9 -0.5z"/><path color="#e1ff40" d="M1454.6 206.4l8 0.8 6.9 -3 -7.9 -0.7z"/><path color="#e3ff41" d="M1461.6 203.5l7.9 0.7 6.9 -3 -7.9 -0.6z"/><path color="#f2ff45" d="M1476.4 201.2l8 0.5 6.9 -3.1 -8 -0.4z"/><path color="#f5ff46" d="M1483.3 198.2l8 0.4 6.8 -3.1 -8 -0.2z"/><path color="#fdff48" d="M1484.4 201.7l8 0.4 6.9 -3.2 -8 -0.3z"/><path color="#fffc49" d="M1491.3 198.6l8 0.3 6.8 -3.3 -8 -0.1z"/><path color="#ff9511" d="M1164.3 190.9l7.1 4.4 7.9 -0.7 -7.1 -4.3z"/><path color="#ffa711" d="M1172.2 190.3l7.1 4.3 7.9 -0.7 -7.1 -4.1z"/><path color="#ffa812" d="M1171.4 195.3l7.2 4.5 7.9 -0.9 -7.2 -4.3z"/><path color="#ffb812" d="M1179.3 194.6l7.2 4.3 7.8 -0.9 -7.1 -4.1z"/><path color="#d5ff1a" d="M1254.2 208.6l7.3 3.4 7.6 -1.5 -7.3 -3.2z"/><path color="#cdff1a" d="M1261.8 207.3l7.3 3.2 7.5 -1.5 -7.3 -3z"/><path color="#cfff1b" d="M1261.5 212l7.4 3.4 7.6 -1.7 -7.4 -3.2z"/><path color="#c8ff1b" d="M1269.1 210.5l7.4 3.2 7.5 -1.6 -7.4 -3.1z"/><path color="#beff31" d="M1403 213.7l7.7 1.6 7.1 -2.8 -7.7 -1.4z"/><path color="#bfff32" d="M1410.1 211.1l7.7 1.4 7.1 -2.7 -7.8 -1.2z"/><path color="#c5ff35" d="M1410.7 215.3l7.9 1.5 7.1 -2.9 -7.9 -1.4z"/><path color="#c7ff36" d="M1417.8 212.5l7.9 1.4 7 -2.8 -7.8 -1.3z"/><path color="#beff1d" d="M1284 212.1l7.4 3 7.5 -1.8 -7.4 -2.8z"/><path color="#b8ff1d" d="M1291.5 210.5l7.4 2.8 7.4 -1.7 -7.4 -2.7z"/><path color="#bbff1e" d="M1291.4 215.1l7.5 3 7.4 -1.9 -7.4 -2.9z"/><path color="#b7ff1e" d="M1298.9 213.3l7.4 2.9 7.5 -1.9 -7.5 -2.7z"/><path color="#d2ff3a" d="M1432.7 211.1l7.9 1.2 7 -3 -7.8 -1z"/><path color="#d4ff3b" d="M1439.8 208.3l7.8 1 7 -2.9 -7.9 -0.9z"/><path color="#dbff3e" d="M1440.6 212.3l7.9 1.2 7.1 -3.2 -8 -1z"/><path color="#deff3f" d="M1447.6 209.3l8 1 7 -3.1 -8 -0.8z"/><path color="#f5ff46" d="M1470.5 208l8.1 0.9 6.9 -3.4 -8 -0.7z"/><path color="#ff450d" d="M1134.1 182.5l7.1 4.8 8 -0.5 -7.1 -4.6z"/><path color="#ff5a0e" d="M1142.1 182.2l7.1 4.6 8 -0.4 -7.1 -4.4z"/><path color="#ff5c0f" d="M1141.2 187.3l7.1 4.8 8 -0.6 -7.1 -4.7z"/><path color="#ff6f0f" d="M1149.2 186.8l7.1 4.7 8 -0.6 -7.1 -4.5z"/><path color="#ffd814" d="M1194.3 198l7.3 4.1 7.7 -1 -7.2 -3.9z"/><path color="#ffe714" d="M1202.1 197.2l7.2 3.9 7.8 -0.9 -7.2 -3.8z"/><path color="#ffe615" d="M1201.6 202.1l7.2 4.1 7.8 -1.1 -7.3 -4z"/><path color="#fff416" d="M1209.3 201.1l7.3 4 7.7 -1.2 -7.2 -3.7z"/><path color="#f4ff17" d="M1224.3 203.9l7.3 3.8 7.7 -1.3 -7.3 -3.5z"/><path color="#eaff17" d="M1232 202.9l7.3 3.5 7.6 -1.2 -7.3 -3.4z"/><path color="#ecff18" d="M1231.6 207.7l7.3 3.7 7.7 -1.4 -7.3 -3.6z"/><path color="#e3ff19" d="M1239.3 206.4l7.3 3.6 7.6 -1.4 -7.3 -3.4z"/><path color="#b1ff1f" d="M1313.8 214.3l7.5 2.7 7.3 -2 -7.5 -2.6z"/><path color="#adff20" d="M1321.1 212.4l7.5 2.6 7.4 -2 -7.5 -2.4z"/><path color="#b1ff20" d="M1321.3 217l7.5 2.6 7.4 -2.2 -7.6 -2.4z"/><path color="#adff21" d="M1328.6 215l7.6 2.4 7.3 -2.1 -7.5 -2.3z"/><path color="#acff22" d="M1343.5 215.3l7.6 2.3 7.3 -2.2 -7.6 -2.2z"/><path color="#aaff22" d="M1350.8 213.2l7.6 2.2 7.2 -2.3 -7.6 -1.9z"/><path color="#aeff23" d="M1351.1 217.6l7.6 2.3 7.3 -2.4 -7.6 -2.1z"/><path color="#adff23" d="M1358.4 215.4l7.6 2.1 7.2 -2.4 -7.6 -2z"/><path color="#b1ff28" d="M1373.2 215.1l7.7 2 7.2 -2.5 -7.7 -1.8z"/><path color="#b0ff29" d="M1380.4 212.8l7.7 1.8 7.1 -2.5 -7.6 -1.6z"/><path color="#b6ff2b" d="M1380.9 217.1l7.7 1.9 7.2 -2.7 -7.7 -1.7z"/><path color="#b6ff2c" d="M1388.1 214.6l7.7 1.7 7.2 -2.6 -7.8 -1.6z"/><path color="#ebff43" d="M1462.6 207.2l7.9 0.8 7 -3.2 -8 -0.6z"/><path color="#eeff44" d="M1469.5 204.2l8 0.6 6.9 -3.1 -8 -0.5z"/><path color="#f9ff47" d="M1477.5 204.8l8 0.7 6.9 -3.4 -8 -0.4z"/><path color="#fff34b" d="M1492.4 202.1l8.1 0.5 6.9 -3.4 -8.1 -0.3z"/><path color="#ffed4c" d="M1499.3 198.9l8.1 0.3 6.8 -3.4 -8.1 -0.2z"/><path color="#ffe44e" d="M1500.5 202.6l8.2 0.4 6.9 -3.6 -8.2 -0.2z"/><path color="#ffdd4f" d="M1507.4 199.2l8.2 0.2 6.8 -3.6 -8.2 0z"/><path color="#ff1d0d" d="M1117.9 183.2l7.1 5.1 8.1 -0.5 -7.1 -5z"/><path color="#ff310d" d="M1126 182.8l7.1 5 8.1 -0.5 -7.1 -4.8z"/><path color="#ff370e" d="M1125 188.3l7.1 5.1 8.1 -0.6 -7.1 -5z"/><path color="#ff490e" d="M1133.1 187.8l7.1 5 8.1 -0.7 -7.1 -4.8z"/><path color="#ff7210" d="M1148.3 192.1l7.2 4.8 8 -0.8 -7.2 -4.6z"/><path color="#ff8410" d="M1156.3 191.5l7.2 4.6 7.9 -0.8 -7.1 -4.4z"/><path color="#ff8811" d="M1155.5 196.9l7.2 4.8 8 -1 -7.2 -4.6z"/><path color="#ff9812" d="M1163.5 196.1l7.2 4.6 7.9 -0.9 -7.2 -4.5z"/><path color="#ffba13" d="M1178.6 199.8l7.2 4.4 7.9 -1 -7.2 -4.3z"/><path color="#ffc914" d="M1186.5 198.9l7.2 4.3 7.9 -1.1 -7.3 -4.1z"/><path color="#ffcc15" d="M1185.8 204.2l7.3 4.5 7.9 -1.3 -7.3 -4.2z"/><path color="#ffd915" d="M1193.7 203.2l7.3 4.2 7.8 -1.2 -7.2 -4.1z"/><path color="#e4ff19" d="M1238.9 211.4l7.3 3.7 7.7 -1.6 -7.3 -3.5z"/><path color="#dcff1a" d="M1246.6 210l7.3 3.5 7.6 -1.5 -7.3 -3.4zM1246.2 215.1l7.4 3.8 7.7 -1.8 -7.4 -3.6z"/><path color="#d6ff1b" d="M1253.9 213.5l7.4 3.6 7.6 -1.7 -7.4 -3.4z"/><path color="#caff1c" d="M1268.9 215.4l7.4 3.3 7.6 -1.8 -7.4 -3.2z"/><path color="#c4ff1c" d="M1276.5 213.7l7.4 3.2 7.5 -1.8 -7.4 -3z"/><path color="#c5ff1d" d="M1276.3 218.7l7.5 3.4 7.6 -2 -7.5 -3.2z"/><path color="#c0ff1d" d="M1283.9 216.9l7.5 3.2 7.5 -2 -7.5 -3z"/><path color="#b9ff1f" d="M1298.9 218.1l7.5 3 7.4 -2.1 -7.5 -2.8z"/><path color="#b5ff1f" d="M1306.3 216.2l7.5 2.8 7.5 -2 -7.5 -2.7z"/><path color="#b6ff20" d="M1306.4 221.1l7.5 3 7.5 -2.3 -7.6 -2.8z"/><path color="#b4ff20" d="M1313.8 219l7.6 2.8 7.4 -2.2 -7.5 -2.6z"/><path color="#b1ff22" d="M1328.8 219.6l7.6 2.7 7.4 -2.4 -7.6 -2.5z"/><path color="#aeff22" d="M1336.2 217.4l7.6 2.5 7.3 -2.3 -7.6 -2.3z"/><path color="#b1ff23" d="M1336.4 222.3l7.6 2.6 7.4 -2.5 -7.6 -2.5z"/><path color="#b0ff23" d="M1343.8 219.9l7.6 2.5 7.3 -2.5 -7.6 -2.3z"/><path color="#b1ff26" d="M1358.7 219.9l7.7 2.3 7.3 -2.6 -7.7 -2.1z"/><path color="#b1ff27" d="M1366 217.5l7.7 2.1 7.2 -2.5 -7.7 -2z"/><path color="#b5ff29" d="M1366.4 222.2l7.7 2.3 7.3 -2.8 -7.7 -2.1z"/><path color="#b5ff2a" d="M1373.7 219.6l7.7 2.1 7.2 -2.7 -7.7 -1.9z"/><path color="#bbff2f" d="M1388.6 219l7.8 1.9 7.2 -2.8 -7.8 -1.8z"/><path color="#bdff30" d="M1395.8 216.3l7.8 1.8 7.1 -2.8 -7.7 -1.6z"/><path color="#c1ff33" d="M1396.4 220.9l7.8 1.9 7.2 -3 -7.8 -1.7z"/><path color="#c3ff34" d="M1403.6 218.1l7.8 1.7 7.2 -3 -7.9 -1.5z"/><path color="#cdff38" d="M1418.6 216.8l7.8 1.6 7.2 -3.1 -7.9 -1.4z"/><path color="#cfff39" d="M1425.7 213.9l7.9 1.4 7 -3 -7.9 -1.2z"/><path color="#d4ff3c" d="M1426.4 218.4l8 1.5 7.1 -3.3 -7.9 -1.3z"/><path color="#d7ff3d" d="M1433.6 215.3l7.9 1.3 7 -3.1 -7.9 -1.2z"/><path color="#e3ff42" d="M1448.5 213.5l8 1.1 7.1 -3.3 -8 -1z"/><path color="#e7ff43" d="M1455.6 210.3l8 1 6.9 -3.3 -7.9 -0.8z"/><path color="#ecff45" d="M1456.5 214.6l8.1 1.2 7 -3.5 -8 -1z"/><path color="#f1ff46" d="M1463.6 211.3l8 1 7 -3.4 -8.1 -0.9z"/><path color="#ffff49" d="M1478.6 208.9l8.1 0.7 6.9 -3.5 -8.1 -0.6z"/><path color="#fff94a" d="M1485.5 205.5l8.1 0.6 6.9 -3.5 -8.1 -0.5z"/><path color="#fff34c" d="M1486.7 209.6l8.1 0.8 7 -3.7 -8.2 -0.6z"/><path color="#ffeb4d" d="M1493.6 206.1l8.2 0.6 6.9 -3.7 -8.2 -0.4z"/><path color="#ffd651" d="M1508.7 203l8.2 0.4 6.9 -3.8 -8.2 -0.2z"/><path color="#ffce52" d="M1515.6 199.4l8.2 0.2 6.8 -3.7 -8.2 -0.1z"/><path color="#ffc854" d="M1516.9 203.4l8.3 0.4 6.9 -4 -8.3 -0.2z"/><path color="#ffbf54" d="M1523.8 199.6l8.3 0.2 6.8 -3.9 -8.3 0z"/><path color="#fff517" d="M1208.8 206.2l7.3 4.1 7.8 -1.3 -7.3 -3.9z"/><path color="#feff17" d="M1216.6 205.1l7.3 3.9 7.7 -1.3 -7.3 -3.8z"/><path color="#fcff18" d="M1216.1 210.3l7.3 4.1 7.8 -1.5 -7.3 -3.9z"/><path color="#f4ff18" d="M1223.9 209l7.3 3.9 7.7 -1.5 -7.3 -3.7z"/><path color="#ff500f" d="M1132.1 193.4l7.2 5.2 8.1 -0.9 -7.2 -4.9z"/><path color="#ff6110" d="M1140.2 192.8l7.2 4.9 8.1 -0.8 -7.2 -4.8z"/><path color="#ff6911" d="M1139.3 198.6l7.2 5.1 8.1 -1 -7.2 -5z"/><path color="#ff7911" d="M1147.4 197.7l7.2 5 8.1 -1 -7.2 -4.8z"/><path color="#bfff32" d="M1389.2 223.8l7.8 2 7.2 -3 -7.8 -1.9z"/><path color="#ff0c0c" d="M1101.4 183.9l7.2 5.5 8.2 -0.5 -7.1 -5.4zM1109.7 183.5l7.1 5.4 8.2 -0.6 -7.1 -5.1z"/><path color="#ff130d" d="M1108.6 189.4l7.1 5.5 8.3 -0.7 -7.2 -5.3z"/><path color="#ff250e" d="M1116.8 188.9l7.2 5.3 8.1 -0.8 -7.1 -5.1z"/><path color="#ff9d13" d="M1162.7 201.7l7.2 4.8 8 -1.2 -7.2 -4.6z"/><path color="#ffac13" d="M1170.7 200.7l7.2 4.6 7.9 -1.1 -7.2 -4.4z"/><path color="#ffb214" d="M1169.9 206.5l7.3 4.7 8 -1.3 -7.3 -4.6z"/><path color="#ffbf14" d="M1177.9 205.3l7.3 4.6 7.9 -1.2 -7.3 -4.5z"/><path color="#f2ff19" d="M1223.4 214.4l7.4 4 7.7 -1.6 -7.3 -3.9z"/><path color="#ebff19" d="M1231.2 212.9l7.3 3.9 7.7 -1.7 -7.3 -3.7z"/><path color="#e8ff1a" d="M1230.8 218.4l7.4 4.1 7.7 -1.8 -7.4 -3.9z"/><path color="#e2ff1a" d="M1238.5 216.8l7.4 3.9 7.7 -1.8 -7.4 -3.8z"/><path color="#d4ff1b" d="M1253.6 218.9l7.5 3.7 7.6 -2 -7.4 -3.5z"/><path color="#cfff1c" d="M1261.3 217.1l7.4 3.5 7.6 -1.9 -7.4 -3.3z"/><path color="#cdff1d" d="M1261.1 222.6l7.4 3.7 7.7 -2.1 -7.5 -3.6z"/><path color="#c9ff1d" d="M1268.7 220.6l7.5 3.6 7.6 -2.1 -7.5 -3.4z"/><path color="#c0ff1e" d="M1283.8 222.1l7.5 3.3 7.6 -2.1 -7.5 -3.2z"/><path color="#bcff1e" d="M1291.4 220.1l7.5 3.2 7.5 -2.2 -7.5 -3z"/><path color="#bbff1f" d="M1291.3 225.4l7.6 3.4 7.5 -2.4 -7.5 -3.1z"/><path color="#b9ff20" d="M1298.9 223.3l7.5 3.1 7.5 -2.3 -7.5 -3z"/><path color="#b4ff21" d="M1313.9 224.1l7.6 3 7.5 -2.4 -7.6 -2.9z"/><path color="#b2ff21" d="M1321.4 221.8l7.6 2.9 7.4 -2.4 -7.6 -2.7z"/><path color="#b2ff22" d="M1321.5 227.1l7.7 3 7.4 -2.6 -7.6 -2.8zM1329 224.7l7.6 2.8 7.4 -2.6 -7.6 -2.6z"/><path color="#b1ff24" d="M1344 224.9l7.7 2.6 7.4 -2.7 -7.7 -2.4z"/><path color="#b1ff25" d="M1351.4 222.4l7.7 2.4 7.3 -2.6 -7.7 -2.3z"/><path color="#b2ff27" d="M1351.7 227.5l7.7 2.6 7.4 -2.8 -7.7 -2.5z"/><path color="#b4ff28" d="M1359.1 224.8l7.7 2.5 7.3 -2.8 -7.7 -2.3z"/><path color="#b8ff2d" d="M1374.1 224.5l7.8 2.2 7.3 -2.9 -7.8 -2.1z"/><path color="#baff2e" d="M1381.4 221.7l7.8 2.1 7.2 -2.9 -7.8 -1.9z"/><path color="#bcff31" d="M1381.9 226.7l7.8 2.2 7.3 -3.1 -7.8 -2z"/><path color="#c6ff36" d="M1404.2 222.8l7.9 1.9 7.2 -3.2 -7.9 -1.7z"/><path color="#caff37" d="M1411.4 219.8l7.9 1.7 7.1 -3.1 -7.8 -1.6z"/><path color="#ccff3a" d="M1412.1 224.7l7.9 1.8 7.2 -3.3 -7.9 -1.7z"/><path color="#d0ff3b" d="M1419.3 221.5l7.9 1.7 7.2 -3.3 -8 -1.5z"/><path color="#dbff40" d="M1434.4 219.9l7.9 1.5 7.2 -3.4 -8 -1.4z"/><path color="#dfff41" d="M1441.5 216.6l8 1.4 7 -3.4 -8 -1.1z"/><path color="#e2ff43" d="M1442.3 221.4l8.1 1.5 7.1 -3.6 -8 -1.3z"/><path color="#e7ff44" d="M1449.5 218l8 1.3 7.1 -3.5 -8.1 -1.2z"/><path color="#f4ff48" d="M1464.6 215.8l8 1.1 7.1 -3.7 -8.1 -0.9z"/><path color="#faff49" d="M1471.6 212.3l8.1 0.9 7 -3.6 -8.1 -0.7z"/><path color="#fdff4b" d="M1472.6 216.9l8.2 1.1 7 -3.8 -8.1 -1z"/><path color="#fffa4c" d="M1479.7 213.2l8.1 1 7 -3.8 -8.1 -0.8z"/><path color="#ffe64f" d="M1494.8 210.4l8.2 0.7 7 -3.9 -8.2 -0.5z"/><path color="#ffde50" d="M1501.8 206.7l8.2 0.5 6.9 -3.8 -8.2 -0.4z"/><path color="#ffda52" d="M1503 211.1l8.3 0.7 6.9 -4 -8.2 -0.6z"/><path color="#ffd153" d="M1510 207.2l8.2 0.6 7 -4 -8.3 -0.4z"/><path color="#ffb954" d="M1525.2 203.8l8.3 0.3 6.9 -4.1 -8.3 -0.2z"/><path color="#ffaf54" d="M1532.1 199.8l8.3 0.2 6.8 -4.1 -8.3 0z"/><path color="#ffaa54" d="M1533.5 204.1l8.4 0.3 6.9 -4.2 -8.4 -0.2z"/><path color="#ff9f54" d="M1540.4 200l8.4 0.2 6.8 -4.3 -8.4 0z"/><path color="#ffdd16" d="M1193.1 208.7l7.3 4.4 7.9 -1.4 -7.3 -4.3z"/><path color="#ffe916" d="M1201 207.4l7.3 4.3 7.8 -1.4 -7.3 -4.1z"/><path color="#ffee17" d="M1200.4 213.1l7.3 4.4 7.9 -1.6 -7.3 -4.2z"/><path color="#fff817" d="M1208.3 211.7l7.3 4.2 7.8 -1.5 -7.3 -4.1z"/><path color="#ff2f0f" d="M1115.7 194.9l7.2 5.5 8.2 -0.9 -7.1 -5.3z"/><path color="#ff400f" d="M1124 194.2l7.1 5.3 8.2 -0.9 -7.2 -5.2z"/><path color="#ff4b10" d="M1122.9 200.4l7.2 5.5 8.3 -1.1 -7.3 -5.3z"/><path color="#ff5a10" d="M1131.1 199.5l7.3 5.3 8.1 -1.1 -7.2 -5.1z"/><path color="#b6ff2f" d="M1367.2 232.7l7.8 2.6 7.4 -3.2 -7.8 -2.4z"/><path color="#b6ff2c" d="M1366.8 227.3l7.8 2.4 7.3 -3 -7.8 -2.2z"/><path color="#b1ff23" d="M1329.2 230.1l7.6 2.9 7.5 -2.8 -7.7 -2.7zM1336.6 227.5l7.7 2.7 7.4 -2.7 -7.7 -2.6z"/><path color="#b1ff26" d="M1344.3 230.2l7.7 2.8 7.4 -2.9 -7.7 -2.6z"/><path color="#ff8212" d="M1146.5 203.7l7.3 5.2 8.1 -1.3 -7.3 -4.9z"/><path color="#ff8f12" d="M1154.6 202.7l7.3 4.9 8 -1.1 -7.2 -4.8z"/><path color="#ff9a13" d="M1153.8 208.9l7.2 5.1 8.1 -1.4 -7.2 -5z"/><path color="#ffa613" d="M1161.9 207.6l7.2 5 8.1 -1.4 -7.3 -4.7z"/><path color="#fffe18" d="M1207.7 217.5l7.4 4.4 7.8 -1.7 -7.3 -4.3z"/><path color="#f9ff18" d="M1215.6 215.9l7.3 4.3 7.9 -1.8 -7.4 -4z"/><path color="#f3ff19" d="M1215.1 221.9l7.4 4.4 7.9 -1.9 -7.5 -4.2z"/><path color="#eeff19" d="M1222.9 220.2l7.5 4.2 7.8 -1.9 -7.4 -4.1z"/><path color="#b7ff20" d="M1298.9 228.8l7.6 3.3 7.5 -2.5 -7.6 -3.2z"/><path color="#b6ff21" d="M1306.4 226.4l7.6 3.2 7.5 -2.5 -7.6 -3z"/><path color="#b3ff21" d="M1306.5 232.1l7.6 3.3 7.6 -2.7 -7.7 -3.1z"/><path color="#b3ff22" d="M1314 229.6l7.7 3.1 7.5 -2.6 -7.7 -3z"/><path color="#afff25" d="M1336.8 233l7.8 3 7.4 -3 -7.7 -2.8z"/><path color="#b4ff2b" d="M1359.4 230.1l7.8 2.6 7.4 -3 -7.8 -2.4z"/><path color="#b9ff30" d="M1374.6 229.7l7.8 2.4 7.3 -3.2 -7.8 -2.2z"/><path color="#c0ff34" d="M1389.7 228.9l7.9 2.3 7.3 -3.3 -7.9 -2.1z"/><path color="#c3ff35" d="M1397 225.8l7.9 2.1 7.2 -3.2 -7.9 -1.9z"/><path color="#c3ff38" d="M1397.6 231.2l7.9 2.2 7.3 -3.5 -7.9 -2z"/><path color="#c8ff39" d="M1404.9 227.9l7.9 2 7.2 -3.4 -7.9 -1.8z"/><path color="#e9ff46" d="M1450.4 222.9l8.1 1.4 7.1 -3.7 -8.1 -1.3z"/><path color="#efff47" d="M1457.5 219.3l8.1 1.3 7 -3.7 -8 -1.1z"/><path color="#f0ff49" d="M1458.5 224.3l8.1 1.5 7.1 -4 -8.1 -1.2z"/><path color="#f6ff4a" d="M1465.6 220.6l8.1 1.2 7.1 -3.8 -8.2 -1.1z"/><path color="#fff74e" d="M1480.8 218l8.2 1 7 -3.9 -8.2 -0.9z"/><path color="#ffef4f" d="M1487.8 214.2l8.2 0.9 7 -4 -8.2 -0.7z"/><path color="#ffed51" d="M1489 219l8.2 1.1 7.1 -4.2 -8.3 -0.8z"/><path color="#ffe352" d="M1496 215.1l8.3 0.8 7 -4.1 -8.3 -0.7z"/><path color="#ffcd54" d="M1511.3 211.8l8.3 0.7 7 -4.2 -8.4 -0.5z"/><path color="#ffc354" d="M1518.2 207.8l8.4 0.5 6.9 -4.2 -8.3 -0.3z"/><path color="#ffc154" d="M1519.6 212.5l8.4 0.7 6.9 -4.4 -8.3 -0.5z"/><path color="#ffb554" d="M1526.6 208.3l8.3 0.5 7 -4.4 -8.4 -0.3z"/><path color="#ff9b54" d="M1541.9 204.4l8.4 0.3 6.9 -4.4 -8.4 -0.1z"/><path color="#ff8f54" d="M1548.8 200.2l8.4 0.1 6.9 -4.4 -8.5 0z"/><path color="#ff8c54" d="M1550.3 204.7l8.5 0.3 6.9 -4.6 -8.5 -0.1z"/><path color="#ff7f54" d="M1557.2 200.3l8.5 0.1 6.9 -4.6 -8.5 0.1z"/><path color="#ffc715" d="M1177.2 211.2l7.3 4.8 8 -1.5 -7.3 -4.6z"/><path color="#ffd215" d="M1185.2 209.9l7.3 4.6 7.9 -1.4 -7.3 -4.4z"/><path color="#ffda16" d="M1184.5 216l7.3 4.8 8 -1.7 -7.3 -4.6z"/><path color="#ffe417" d="M1192.5 214.5l7.3 4.6 7.9 -1.6 -7.3 -4.4z"/><path color="#deff1b" d="M1238.2 222.5l7.4 4.1 7.8 -2.1 -7.5 -3.8z"/><path color="#d9ff1b" d="M1245.9 220.7l7.5 3.8 7.7 -1.9 -7.5 -3.7z"/><path color="#d5ff1c" d="M1245.6 226.6l7.5 4 7.7 -2.2 -7.4 -3.9z"/><path color="#d1ff1c" d="M1253.4 224.5l7.4 3.9 7.7 -2.1 -7.4 -3.7z"/><path color="#c6ff1e" d="M1268.5 226.3l7.6 3.7 7.6 -2.3 -7.5 -3.5z"/><path color="#c3ff1e" d="M1276.2 224.2l7.5 3.5 7.6 -2.3 -7.5 -3.3z"/><path color="#c0ff1f" d="M1276.1 230l7.5 3.6 7.7 -2.4 -7.6 -3.5z"/><path color="#beff1f" d="M1283.7 227.7l7.6 3.5 7.6 -2.4 -7.6 -3.4z"/><path color="#ff0c0c" d="M1093.1 184.4l7.2 5.7 8.3 -0.7 -7.2 -5.5z"/><path color="#ff0b0b" d="M1084.8 184.9l7.1 5.8 8.4 -0.6 -7.2 -5.7z"/><path color="#ff0d0d" d="M1091.9 190.7l7.2 5.9 8.3 -0.9 -7.1 -5.6zM1100.3 190.1l7.1 5.6 8.3 -0.8 -7.1 -5.5z"/><path color="#d2ff3e" d="M1420 226.5l8 1.9 7.2 -3.6 -8 -1.6z"/><path color="#d6ff3f" d="M1427.2 223.2l8 1.6 7.1 -3.4 -7.9 -1.5z"/><path color="#d7ff41" d="M1428 228.4l8 1.8 7.2 -3.7 -8 -1.7z"/><path color="#ddff42" d="M1435.2 224.8l8 1.7 7.2 -3.6 -8.1 -1.5z"/><path color="#b0ff23" d="M1321.7 232.7l7.6 3.2 7.5 -2.9 -7.6 -2.9z"/><path color="#ffee18" d="M1191.8 220.8l7.4 4.8 8 -1.9 -7.4 -4.6z"/><path color="#fff618" d="M1199.8 219.1l7.4 4.6 7.9 -1.8 -7.4 -4.4z"/><path color="#feff19" d="M1199.2 225.6l7.4 4.7 8 -2 -7.4 -4.6z"/><path color="#f9ff19" d="M1207.2 223.7l7.4 4.6 7.9 -2 -7.4 -4.4z"/><path color="#afff22" d="M1314.1 235.4l7.7 3.3 7.5 -2.8 -7.6 -3.2z"/><path color="#acff24" d="M1321.8 238.7l7.7 3.3 7.6 -3 -7.8 -3.1z"/><path color="#aeff24" d="M1329.3 235.9l7.8 3.1 7.5 -3 -7.8 -3z"/><path color="#afff29" d="M1344.6 236l7.7 2.9 7.5 -3.1 -7.8 -2.8z"/><path color="#b2ff2a" d="M1352 233l7.8 2.8 7.4 -3.1 -7.8 -2.6z"/><path color="#afff2d" d="M1352.3 238.9l7.9 2.9 7.4 -3.3 -7.8 -2.7z"/><path color="#b2ff2e" d="M1359.8 235.8l7.8 2.7 7.4 -3.2 -7.8 -2.6z"/><path color="#ff0c0c" d="M1075.1 192.1l7.2 6.3 8.4 -1 -7.2 -6zM1083.5 191.4l7.2 6 8.4 -0.8 -7.2 -5.9z"/><path color="#ff2f0f" d="M1106.3 202.4l7.3 5.9 8.3 -1.2 -7.3 -5.7z"/><path color="#ff8212" d="M1137.4 211.4l7.3 5.5 8.2 -1.5 -7.3 -5.3z"/><path color="#ff0b0b" d="M1067.9 185.9l7.2 6.2 8.4 -0.7 -7.1 -6zM1076.4 185.4l7.1 6 8.4 -0.7 -7.1 -5.8z"/><path color="#ff0f0e" d="M1099.1 196.6l7.2 5.8 8.3 -1 -7.2 -5.7z"/><path color="#ff1f0e" d="M1107.4 195.7l7.2 5.7 8.3 -1 -7.2 -5.5z"/><path color="#ff3d0f" d="M1114.6 201.4l7.3 5.7 8.2 -1.2 -7.2 -5.5z"/><path color="#ff6711" d="M1130.1 205.9l7.3 5.5 8.2 -1.3 -7.2 -5.3z"/><path color="#ff7411" d="M1138.4 204.8l7.2 5.3 8.2 -1.2 -7.3 -5.2z"/><path color="#ff8e13" d="M1145.6 210.1l7.3 5.3 8.1 -1.4 -7.2 -5.1z"/><path color="#b8ff32" d="M1375 235.3l7.9 2.5 7.4 -3.3 -7.9 -2.4z"/><path color="#bcff33" d="M1382.4 232.1l7.9 2.4 7.3 -3.3 -7.9 -2.3z"/><path color="#baff36" d="M1382.9 237.8l7.9 2.6 7.4 -3.6 -7.9 -2.3z"/><path color="#bfff37" d="M1390.3 234.5l7.9 2.3 7.3 -3.4 -7.9 -2.2z"/><path color="#f7ff4c" d="M1466.6 225.8l8.2 1.4 7.1 -4.1 -8.2 -1.3z"/><path color="#feff4d" d="M1473.7 221.8l8.2 1.3 7.1 -4.1 -8.2 -1z"/><path color="#fdff4f" d="M1474.8 227.2l8.2 1.4 7.1 -4.3 -8.2 -1.2z"/><path color="#fff750" d="M1481.9 223.1l8.2 1.2 7.1 -4.2 -8.2 -1.1z"/><path color="#ffe354" d="M1497.2 220.1l8.3 1 7.1 -4.3 -8.3 -0.9z"/><path color="#ffd854" d="M1504.3 215.9l8.3 0.9 7 -4.3 -8.3 -0.7zM1505.5 221.1l8.4 1 7 -4.5 -8.3 -0.8z"/><path color="#ffcc54" d="M1512.6 216.8l8.3 0.8 7.1 -4.4 -8.4 -0.7z"/><path color="#ffb354" d="M1528 213.2l8.4 0.6 7 -4.6 -8.5 -0.4z"/><path color="#ffa754" d="M1534.9 208.8l8.5 0.4 6.9 -4.5 -8.4 -0.3z"/><path color="#ffa654" d="M1536.4 213.8l8.5 0.6 7 -4.7 -8.5 -0.5z"/><path color="#ff9954" d="M1543.4 209.2l8.5 0.5 6.9 -4.7 -8.5 -0.3z"/><path color="#b9ff20" d="M1283.6 233.6l7.6 3.7 7.7 -2.6 -7.6 -3.5z"/><path color="#b3ff21" d="M1291.2 237.3l7.7 3.7 7.6 -2.8 -7.6 -3.5zM1298.9 234.7l7.6 3.5 7.6 -2.8 -7.6 -3.3z"/><path color="#ffb114" d="M1161 214l7.4 5.1 8 -1.6 -7.3 -4.9z"/><path color="#ffbc15" d="M1169.1 212.6l7.3 4.9 8.1 -1.5 -7.3 -4.8z"/><path color="#ffc816" d="M1168.4 219.1l7.3 5.1 8.1 -1.7 -7.4 -5z"/><path color="#ffd116" d="M1176.4 217.5l7.4 5 8 -1.7 -7.3 -4.8z"/><path color="#e7ff1a" d="M1222.5 226.3l7.4 4.4 7.9 -2.1 -7.4 -4.2z"/><path color="#e3ff1b" d="M1230.4 224.4l7.4 4.2 7.8 -2 -7.4 -4.1z"/><path color="#dcff1b" d="M1229.9 230.7l7.5 4.4 7.9 -2.3 -7.5 -4.2z"/><path color="#d8ff1c" d="M1237.8 228.6l7.5 4.2 7.8 -2.2 -7.5 -4z"/><path color="#b8ff20" d="M1291.3 231.2l7.6 3.5 7.6 -2.6 -7.6 -3.3z"/><path color="#c9ff1d" d="M1260.8 228.4l7.6 3.9 7.7 -2.3 -7.6 -3.7z"/><path color="#c3ff1e" d="M1260.6 234.6l7.6 4.1 7.7 -2.6 -7.5 -3.8z"/><path color="#ccff1d" d="M1253.1 230.6l7.5 4 7.8 -2.3 -7.6 -3.9z"/><path color="#c1ff1e" d="M1268.4 232.3l7.5 3.8 7.7 -2.5 -7.5 -3.6z"/><path color="#c7ff3c" d="M1405.5 233.4l8 2.1 7.3 -3.6 -8 -2z"/><path color="#cdff3d" d="M1412.8 229.9l8 2 7.2 -3.5 -8 -1.9z"/><path color="#cbff3f" d="M1413.5 235.5l8 2.2 7.3 -3.8 -8 -2z"/><path color="#d1ff40" d="M1420.8 231.9l8 2 7.2 -3.7 -8 -1.8z"/><path color="#ddff44" d="M1436 230.2l8.1 1.8 7.2 -3.9 -8.1 -1.6z"/><path color="#e3ff45" d="M1443.2 226.5l8.1 1.6 7.2 -3.8 -8.1 -1.4z"/><path color="#e2ff47" d="M1444.1 232l8.1 1.8 7.2 -4.1 -8.1 -1.6z"/><path color="#e9ff48" d="M1451.3 228.1l8.1 1.6 7.2 -3.9 -8.1 -1.5z"/><path color="#ff7c54" d="M1558.8 205l8.6 0.2 6.9 -4.8 -8.6 0z"/><path color="#ff6e54" d="M1565.7 200.4l8.6 0 6.9 -4.7 -8.6 0.1z"/><path color="#ff6c54" d="M1567.4 205.2l8.6 0.2 6.9 -5 -8.6 0z"/><path color="#ff5d54" d="M1574.3 200.4l8.6 0 6.9 -4.9 -8.6 0.2z"/><path color="#ff0d0d" d="M1082.3 198.4l7.2 6.2 8.4 -1.1 -7.2 -6.1zM1090.7 197.4l7.2 6.1 8.4 -1.1 -7.2 -5.8z"/><path color="#ff130e" d="M1089.5 204.6l7.3 6.2 8.4 -1.3 -7.3 -6z"/><path color="#ff210f" d="M1097.9 203.5l7.3 6 8.4 -1.2 -7.3 -5.9z"/><path color="#ffde17" d="M1175.7 224.2l7.4 5.2 8.1 -2 -7.4 -4.9z"/><path color="#ffe617" d="M1183.8 222.5l7.4 4.9 8 -1.8 -7.4 -4.8z"/><path color="#fff418" d="M1183.1 229.4l7.5 5.1 8 -2.1 -7.4 -5z"/><path color="#fffa18" d="M1191.2 227.4l7.4 5 8 -2.1 -7.4 -4.7z"/><path color="#a9ff27" d="M1329.5 242l7.8 3.3 7.5 -3.2 -7.7 -3.1z"/><path color="#acff28" d="M1337.1 239l7.7 3.1 7.5 -3.2 -7.7 -2.9z"/><path color="#a7ff2b" d="M1337.3 245.3l7.8 3.3 7.6 -3.4 -7.9 -3.1z"/><path color="#abff2c" d="M1344.8 242.1l7.9 3.1 7.5 -3.4 -7.9 -2.9z"/><path color="#ffcd54" d="M1513.9 222.1l8.4 1 7.1 -4.7 -8.5 -0.8z"/><path color="#ffc154" d="M1522.3 223.1l8.5 1 7 -4.9 -8.4 -0.8z"/><path color="#afff30" d="M1360.2 241.8l7.8 2.9 7.5 -3.4 -7.9 -2.8z"/><path color="#b4ff31" d="M1367.6 238.5l7.9 2.8 7.4 -3.5 -7.9 -2.5z"/><path color="#afff34" d="M1368 244.7l7.9 2.9 7.5 -3.6 -7.9 -2.7z"/><path color="#b5ff35" d="M1375.5 241.3l7.9 2.7 7.4 -3.6 -7.9 -2.6z"/><path color="#fff852" d="M1483 228.6l8.3 1.4 7.1 -4.5 -8.3 -1.2z"/><path color="#ffed53" d="M1490.1 224.3l8.3 1.2 7.1 -4.4 -8.3 -1z"/><path color="#fff054" d="M1491.3 230l8.4 1.3 7.1 -4.6 -8.4 -1.2z"/><path color="#ffe454" d="M1498.4 225.5l8.4 1.2 7.1 -4.6 -8.4 -1z"/><path color="#ffc054" d="M1520.9 217.6l8.5 0.8 7 -4.6 -8.4 -0.6z"/><path color="#ffb454" d="M1529.4 218.4l8.4 0.8 7.1 -4.8 -8.5 -0.6z"/><path color="#a7ff23" d="M1306.6 244.6l7.7 3.7 7.6 -3.2 -7.7 -3.4z"/><path color="#aeff22" d="M1306.5 238.2l7.7 3.5 7.6 -3 -7.7 -3.3z"/><path color="#f0ff1a" d="M1206.6 230.3l7.5 4.8 7.9 -2.2 -7.4 -4.6z"/><path color="#ecff1a" d="M1214.6 228.3l7.4 4.6 7.9 -2.2 -7.4 -4.4z"/><path color="#e2ff1b" d="M1214.1 235.1l7.5 4.7 7.9 -2.3 -7.5 -4.6z"/><path color="#dfff1b" d="M1222 232.9l7.5 4.6 7.9 -2.4 -7.5 -4.4z"/><path color="#adff22" d="M1298.9 241l7.7 3.6 7.6 -2.9 -7.7 -3.5z"/><path color="#aaff23" d="M1314.2 241.7l7.7 3.4 7.6 -3.1 -7.7 -3.3z"/><path color="#c5ff1d" d="M1245 239.5l7.5 4.4 7.9 -2.6 -7.6 -4.2z"/><path color="#b3ff21" d="M1283.5 240l7.7 3.8 7.7 -2.8 -7.7 -3.7z"/><path color="#ff0b0b" d="M1058 193.7l7.2 6.6 8.6 -1 -7.3 -6.4zM1066.5 192.9l7.3 6.4 8.5 -0.9 -7.2 -6.3z"/><path color="#ff9954" d="M1544.9 214.4l8.5 0.6 7 -4.9 -8.5 -0.4z"/><path color="#ff0a0a" d="M1050.8 187.1l7.2 6.6 8.5 -0.8 -7.1 -6.4zM1059.4 186.5l7.1 6.4 8.6 -0.8 -7.2 -6.2z"/><path color="#ff4d10" d="M1113.6 208.3l7.2 5.8 8.4 -1.3 -7.3 -5.7z"/><path color="#ff5a11" d="M1121.9 207.1l7.3 5.7 8.2 -1.4 -7.3 -5.5z"/><path color="#ff6b12" d="M1120.8 214.1l7.4 5.9 8.3 -1.6 -7.3 -5.6z"/><path color="#ff7712" d="M1129.2 212.8l7.3 5.6 8.2 -1.5 -7.3 -5.5z"/><path color="#ff9c14" d="M1144.7 216.9l7.3 5.5 8.2 -1.7 -7.3 -5.3z"/><path color="#ffa714" d="M1152.9 215.4l7.3 5.3 8.2 -1.6 -7.4 -5.1z"/><path color="#ffb615" d="M1152 222.4l7.4 5.5 8.2 -1.9 -7.4 -5.3z"/><path color="#ffbf15" d="M1160.2 220.7l7.4 5.3 8.1 -1.8 -7.3 -5.1z"/><path color="#d0ff1c" d="M1237.4 235.1l7.6 4.4 7.8 -2.4 -7.5 -4.3z"/><path color="#ceff1d" d="M1245.3 232.8l7.5 4.3 7.8 -2.5 -7.5 -4z"/><path color="#c4ff1e" d="M1252.8 237.1l7.6 4.2 7.8 -2.6 -7.6 -4.1z"/><path color="#baff1f" d="M1268.2 238.7l7.6 4 7.7 -2.7 -7.6 -3.9zM1275.9 236.1l7.6 3.9 7.7 -2.7 -7.6 -3.7z"/><path color="#b2ff20" d="M1275.8 242.7l7.6 4 7.8 -2.9 -7.7 -3.8z"/><path color="#bcff3a" d="M1390.8 240.4l8 2.5 7.4 -3.7 -8 -2.4z"/><path color="#c2ff3b" d="M1398.2 236.8l8 2.4 7.3 -3.7 -8 -2.1z"/><path color="#bfff3d" d="M1398.8 242.9l8 2.5 7.4 -3.9 -8 -2.3z"/><path color="#c5ff3e" d="M1406.2 239.2l8 2.3 7.3 -3.8 -8 -2.2z"/><path color="#cfff43" d="M1421.5 237.7l8.1 2.2 7.2 -4 -8 -2z"/><path color="#d6ff44" d="M1428.8 233.9l8 2 7.3 -3.9 -8.1 -1.8z"/><path color="#d3ff46" d="M1429.6 239.9l8.1 2.1 7.3 -4.1 -8.2 -2z"/><path color="#dbff47" d="M1436.8 235.9l8.2 2 7.2 -4.1 -8.1 -1.8z"/><path color="#e7ff4a" d="M1452.2 233.8l8.2 1.7 7.2 -4.2 -8.2 -1.6z"/><path color="#efff4b" d="M1459.4 229.7l8.2 1.6 7.2 -4.1 -8.2 -1.4z"/><path color="#edff4d" d="M1460.4 235.5l8.2 1.8 7.2 -4.4 -8.2 -1.6z"/><path color="#f5ff4e" d="M1467.6 231.3l8.2 1.6 7.2 -4.3 -8.2 -1.4z"/><path color="#ff8a54" d="M1551.9 209.7l8.5 0.4 7 -4.9 -8.6 -0.2z"/><path color="#ff8b54" d="M1553.4 215l8.6 0.5 7 -5.1 -8.6 -0.3z"/><path color="#ff7b54" d="M1560.4 210.1l8.6 0.3 7 -5 -8.6 -0.2z"/><path color="#ff5c54" d="M1576 205.4l8.7 0.2 6.9 -5.2 -8.7 0z"/><path color="#ff5454" d="M1582.9 200.4l8.7 0 6.9 -5.1 -8.7 0.2zM1584.7 205.6l8.7 0.1 7 -5.3 -8.8 0zM1591.6 200.4l8.8 0 6.9 -5.3 -8.8 0.2z"/><path color="#ff0c0c" d="M1065.2 200.3l7.2 6.6 8.6 -1.2 -7.2 -6.4z"/><path color="#ff0d0d" d="M1073.8 199.3l7.2 6.4 8.5 -1.1 -7.2 -6.2z"/><path color="#ffee18" d="M1175 231.3l7.4 5.3 8.2 -2.1 -7.5 -5.1z"/><path color="#ff0e0e" d="M1072.4 206.9l7.3 6.6 8.6 -1.4 -7.3 -6.4zM1081 205.7l7.3 6.4 8.5 -1.3 -7.3 -6.2z"/><path color="#ff3510" d="M1096.8 210.8l7.3 6.2 8.4 -1.5 -7.3 -6z"/><path color="#ff4110" d="M1105.2 209.5l7.3 6 8.3 -1.4 -7.2 -5.8z"/><path color="#ff5611" d="M1104.1 217l7.3 6.2 8.4 -1.6 -7.3 -6.1z"/><path color="#ff6011" d="M1112.5 215.5l7.3 6.1 8.4 -1.6 -7.4 -5.9z"/><path color="#ffd016" d="M1159.4 227.9l7.4 5.5 8.2 -2.1 -7.4 -5.3z"/><path color="#ffd717" d="M1167.6 226l7.4 5.3 8.1 -1.9 -7.4 -5.2z"/><path color="#ffe817" d="M1166.8 233.4l7.5 5.4 8.1 -2.2 -7.4 -5.3z"/><path color="#a5ff2e" d="M1345.1 248.6l7.9 3.2 7.5 -3.5 -7.8 -3.1z"/><path color="#aaff2f" d="M1352.7 245.2l7.8 3.1 7.5 -3.6 -7.8 -2.9z"/><path color="#a4ff32" d="M1353 251.8l7.9 3.3 7.5 -3.8 -7.9 -3z"/><path color="#aaff33" d="M1360.5 248.3l7.9 3 7.5 -3.7 -7.9 -2.9z"/><path color="#ffe754" d="M1499.7 231.3l8.4 1.3 7.1 -4.8 -8.4 -1.1z"/><path color="#ffda54" d="M1506.8 226.7l8.4 1.1 7.1 -4.7 -8.4 -1z"/><path color="#ffde54" d="M1508.1 232.6l8.4 1.4 7.2 -5 -8.5 -1.2z"/><path color="#ffcf54" d="M1515.2 227.8l8.5 1.2 7.1 -4.9 -8.5 -1z"/><path color="#f3ff19" d="M1198.6 232.4l7.5 4.9 8 -2.2 -7.5 -4.8z"/><path color="#e7ff1a" d="M1198 239.6l7.5 5.1 8.1 -2.5 -7.5 -4.9z"/><path color="#f7ff19" d="M1190.6 234.5l7.4 5.1 8.1 -2.3 -7.5 -4.9z"/><path color="#e5ff1a" d="M1206.1 237.3l7.5 4.9 8 -2.4 -7.5 -4.7z"/><path color="#a2ff25" d="M1314.3 248.3l7.8 3.6 7.6 -3.3 -7.8 -3.5z"/><path color="#a6ff26" d="M1321.9 245.1l7.8 3.5 7.6 -3.3 -7.8 -3.3z"/><path color="#9eff28" d="M1322.1 251.9l7.8 3.6 7.6 -3.5 -7.8 -3.4z"/><path color="#a3ff2a" d="M1329.7 248.6l7.8 3.4 7.6 -3.4 -7.8 -3.3z"/><path color="#aaff21" d="M1283.4 246.7l7.7 4 7.8 -3 -7.7 -3.9z"/><path color="#b1ff20" d="M1268 245.5l7.7 4.2 7.7 -3 -7.6 -4z"/><path color="#acff22" d="M1291.2 243.8l7.7 3.9 7.7 -3.1 -7.7 -3.6z"/><path color="#bbff1f" d="M1252.5 243.9l7.7 4.4 7.8 -2.8 -7.6 -4.2zM1260.4 241.3l7.6 4.2 7.8 -2.8 -7.6 -4z"/><path color="#ffaa54" d="M1539.3 225l8.6 0.9 7.1 -5.2 -8.6 -0.7z"/><path color="#ff9b54" d="M1546.4 220l8.6 0.7 7 -5.2 -8.6 -0.5z"/><path color="#ffa754" d="M1537.8 219.2l8.6 0.8 7 -5 -8.5 -0.6z"/><path color="#ff6c54" d="M1569 210.4l8.7 0.4 7 -5.2 -8.7 -0.2z"/><path color="#ff5d54" d="M1577.7 210.8l8.7 0.3 7 -5.4 -8.7 -0.1z"/><path color="#ff5454" d="M1593.4 205.7l8.8 0.1 7 -5.5 -8.8 0.1zM1600.4 200.4l8.8 -0.1 6.9 -5.4 -8.8 0.2zM1602.2 205.8l8.9 0.1 6.9 -5.7 -8.8 0.1zM1609.2 200.3l8.8 -0.1 7 -5.6 -8.9 0.3z"/><path color="#d4ff1c" d="M1221.6 239.8l7.5 4.8 8 -2.6 -7.6 -4.5z"/><path color="#d3ff1c" d="M1229.5 237.5l7.6 4.5 7.9 -2.5 -7.6 -4.4z"/><path color="#c7ff1d" d="M1229.1 244.6l7.6 4.7 8 -2.7 -7.6 -4.6z"/><path color="#c6ff1d" d="M1237.1 242l7.6 4.6 7.8 -2.7 -7.5 -4.4z"/><path color="#b0ff20" d="M1260.2 248.3l7.6 4.4 7.9 -3 -7.7 -4.2z"/><path color="#a2ff22" d="M1291.1 250.7l7.8 4 7.7 -3.2 -7.7 -3.8z"/><path color="#a5ff23" d="M1298.9 247.7l7.7 3.8 7.7 -3.2 -7.7 -3.7z"/><path color="#b0ff38" d="M1375.9 247.6l8 2.9 7.5 -3.8 -8 -2.7z"/><path color="#b6ff39" d="M1383.4 244l8 2.7 7.4 -3.8 -8 -2.5z"/><path color="#b1ff3b" d="M1383.9 250.5l8 2.9 7.5 -4 -8 -2.7z"/><path color="#b8ff3c" d="M1391.4 246.7l8 2.7 7.4 -4 -8 -2.5z"/><path color="#c1ff41" d="M1406.8 245.4l8.1 2.5 7.3 -4 -8 -2.4z"/><path color="#c8ff42" d="M1414.2 241.5l8 2.4 7.4 -4 -8.1 -2.2z"/><path color="#c4ff44" d="M1414.9 247.9l8.1 2.5 7.4 -4.2 -8.2 -2.3z"/><path color="#ccff45" d="M1422.2 243.9l8.2 2.3 7.3 -4.2 -8.1 -2.1z"/><path color="#d7ff49" d="M1437.7 242l8.2 2.1 7.2 -4.3 -8.1 -1.9z"/><path color="#dfff4a" d="M1445 237.9l8.1 1.9 7.3 -4.3 -8.2 -1.7z"/><path color="#dbff4c" d="M1445.9 244.1l8.2 2.1 7.3 -4.5 -8.3 -1.9z"/><path color="#e4ff4d" d="M1453.1 239.8l8.3 1.9 7.2 -4.4 -8.2 -1.8z"/><path color="#f2ff50" d="M1468.6 237.3l8.3 1.7 7.2 -4.5 -8.3 -1.6z"/><path color="#fbff51" d="M1475.8 232.9l8.3 1.6 7.2 -4.5 -8.3 -1.4z"/><path color="#f8ff53" d="M1476.9 239l8.4 1.7 7.2 -4.7 -8.4 -1.5z"/><path color="#fffc54" d="M1484.1 234.5l8.4 1.5 7.2 -4.7 -8.4 -1.3z"/><path color="#ffb654" d="M1530.8 224.1l8.5 0.9 7.1 -5 -8.6 -0.8z"/><path color="#ff7d54" d="M1562 215.5l8.7 0.6 7 -5.3 -8.7 -0.4z"/><path color="#ff6f54" d="M1570.7 216.1l8.7 0.5 7 -5.5 -8.7 -0.3z"/><path color="#ff0b0b" d="M1049.3 194.6l7.3 6.7 8.6 -1 -7.2 -6.6z"/><path color="#ff0a0a" d="M1040.7 195.4l7.2 7 8.7 -1.1 -7.3 -6.7z"/><path color="#ff0909" d="M1033.4 188.5l7.3 6.9 8.6 -0.8 -7.2 -6.8zM1042.1 187.8l7.2 6.8 8.7 -0.9 -7.2 -6.6z"/><path color="#ff8913" d="M1128.2 220l7.3 5.8 8.3 -1.7 -7.3 -5.7z"/><path color="#ff9313" d="M1136.5 218.4l7.3 5.7 8.2 -1.7 -7.3 -5.5z"/><path color="#ffa614" d="M1135.5 225.8l7.4 5.9 8.3 -1.9 -7.4 -5.7z"/><path color="#ffae15" d="M1143.8 224.1l7.4 5.7 8.2 -1.9 -7.4 -5.5z"/><path color="#bbff1e" d="M1244.7 246.6l7.6 4.5 7.9 -2.8 -7.7 -4.4z"/><path color="#ff0c0c" d="M1047.9 202.4l7.3 6.9 8.6 -1.2 -7.2 -6.8zM1056.6 201.3l7.2 6.8 8.6 -1.2 -7.2 -6.6z"/><path color="#ff9f54" d="M1547.9 225.9l8.7 0.9 7 -5.4 -8.6 -0.7z"/><path color="#ff0d0d" d="M1055.2 209.3l7.3 7 8.6 -1.4 -7.3 -6.8zM1063.8 208.1l7.3 6.8 8.6 -1.4 -7.3 -6.6z"/><path color="#feff19" d="M1174.3 238.8l7.5 5.5 8.1 -2.4 -7.5 -5.3z"/><path color="#ffde17" d="M1150.3 237.5l7.5 5.9 8.3 -2.3 -7.5 -5.7z"/><path color="#ecff1a" d="M1181.8 244.3l7.5 5.5 8.1 -2.6 -7.5 -5.3z"/><path color="#ff0a0a" d="M1023.1 197.3l7.3 7.3 8.8 -1.1 -7.3 -7.1zM1031.9 196.4l7.3 7.1 8.7 -1.1 -7.2 -7z"/><path color="#ff5454" d="M1586.4 211.1l8.8 0.3 7 -5.6 -8.8 -0.1zM1588.2 217l8.9 0.5 7 -5.8 -8.9 -0.3zM1595.2 211.4l8.9 0.3 7 -5.8 -8.9 -0.1zM1611.1 205.9l8.9 0.1 7 -5.9 -9 0.1zM1618 200.2l9 -0.1 6.9 -5.8 -8.9 0.3zM1620 206l9 0 7 -6.1 -9 0.2zM1627 200.1l9 -0.2 6.9 -5.9 -9 0.3z"/><path color="#ff4110" d="M1087.1 220l7.3 6.6 8.5 -1.7 -7.3 -6.4z"/><path color="#ff0909" d="M1024.7 189.2l7.2 7.2 8.8 -1 -7.3 -6.9z"/><path color="#ff0808" d="M1015.9 190l7.2 7.3 8.8 -0.9 -7.2 -7.2z"/><path color="#ff1d0f" d="M1079.7 213.5l7.4 6.5 8.5 -1.5 -7.3 -6.4z"/><path color="#ff290f" d="M1088.3 212.1l7.3 6.4 8.5 -1.5 -7.3 -6.2z"/><path color="#ff4b11" d="M1095.6 218.5l7.3 6.4 8.5 -1.7 -7.3 -6.2z"/><path color="#ff7612" d="M1111.4 223.2l7.4 6.2 8.4 -1.8 -7.4 -6z"/><path color="#ff7f13" d="M1119.8 221.6l7.4 6 8.3 -1.8 -7.3 -5.8z"/><path color="#ff9614" d="M1118.8 229.4l7.4 6.3 8.4 -2.1 -7.4 -6z"/><path color="#ff9e14" d="M1127.2 227.6l7.4 6 8.3 -1.9 -7.4 -5.9z"/><path color="#ffc216" d="M1142.9 231.7l7.4 5.8 8.3 -2.1 -7.4 -5.6z"/><path color="#ffc916" d="M1151.2 229.8l7.4 5.6 8.2 -2 -7.4 -5.5z"/><path color="#ffe317" d="M1158.6 235.4l7.5 5.7 8.2 -2.3 -7.5 -5.4z"/><path color="#fbff19" d="M1182.4 236.6l7.5 5.3 8.1 -2.3 -7.4 -5.1z"/><path color="#e9ff1a" d="M1189.9 241.9l7.5 5.3 8.1 -2.5 -7.5 -5.1z"/><path color="#d7ff1b" d="M1205.5 244.7l7.6 5.1 8 -2.6 -7.5 -5z"/><path color="#d6ff1c" d="M1213.6 242.2l7.5 5 8 -2.6 -7.5 -4.8z"/><path color="#c8ff1c" d="M1213.1 249.8l7.6 5.1 8 -2.8 -7.6 -4.9z"/><path color="#c8ff1d" d="M1221.1 247.2l7.6 4.9 8 -2.8 -7.6 -4.7z"/><path color="#baff1e" d="M1236.7 249.3l7.6 4.8 8 -3 -7.6 -4.5z"/><path color="#aeff1f" d="M1244.3 254.1l7.7 4.7 7.9 -3.1 -7.6 -4.6z"/><path color="#afff1f" d="M1252.3 251.1l7.6 4.6 7.9 -3 -7.6 -4.4z"/><path color="#a6ff21" d="M1267.8 252.7l7.7 4.3 7.8 -3.2 -7.6 -4.1z"/><path color="#a8ff21" d="M1275.7 249.7l7.6 4.1 7.8 -3.1 -7.7 -4z"/><path color="#9dff22" d="M1275.5 257l7.8 4.4 7.8 -3.4 -7.8 -4.2z"/><path color="#a0ff22" d="M1283.3 253.8l7.8 4.2 7.8 -3.3 -7.8 -4z"/><path color="#9bff23" d="M1298.9 254.7l7.8 4 7.7 -3.4 -7.8 -3.8z"/><path color="#9fff24" d="M1306.6 251.5l7.8 3.8 7.7 -3.4 -7.8 -3.6z"/><path color="#95ff26" d="M1306.7 258.7l7.8 4 7.7 -3.6 -7.8 -3.8z"/><path color="#9aff27" d="M1314.4 255.3l7.8 3.8 7.7 -3.6 -7.8 -3.6z"/><path color="#9bff2c" d="M1329.9 255.5l7.9 3.7 7.6 -3.7 -7.9 -3.5z"/><path color="#a0ff2d" d="M1337.5 252l7.9 3.5 7.6 -3.7 -7.9 -3.2z"/><path color="#98ff30" d="M1337.8 259.2l7.9 3.6 7.6 -3.9 -7.9 -3.4z"/><path color="#9eff31" d="M1345.4 255.5l7.9 3.4 7.6 -3.8 -7.9 -3.3z"/><path color="#a3ff36" d="M1360.9 255.1l8 3.2 7.5 -3.9 -8 -3.1z"/><path color="#aaff37" d="M1368.4 251.3l8 3.1 7.5 -3.9 -8 -2.9z"/><path color="#a2ff39" d="M1368.9 258.3l8 3.3 7.5 -4.1 -8 -3.1z"/><path color="#aaff3a" d="M1376.4 254.4l8 3.1 7.5 -4.1 -8 -2.9z"/><path color="#b2ff3f" d="M1391.9 253.4l8.1 2.9 7.4 -4.2 -8 -2.7z"/><path color="#baff40" d="M1399.4 249.4l8 2.7 7.5 -4.2 -8.1 -2.5z"/><path color="#b3ff43" d="M1400 256.3l8.1 2.8 7.5 -4.4 -8.2 -2.6z"/><path color="#bbff43" d="M1407.4 252.1l8.2 2.6 7.4 -4.3 -8.1 -2.5z"/><path color="#c6ff47" d="M1423 250.4l8.1 2.5 7.4 -4.4 -8.1 -2.3z"/><path color="#cfff48" d="M1430.4 246.2l8.1 2.3 7.4 -4.4 -8.2 -2.1z"/><path color="#c9ff4a" d="M1431.1 252.9l8.3 2.5 7.3 -4.6 -8.2 -2.3z"/><path color="#d2ff4b" d="M1438.5 248.5l8.2 2.3 7.4 -4.6 -8.2 -2.1z"/><path color="#dfff4f" d="M1454.1 246.2l8.3 2.1 7.3 -4.7 -8.3 -1.9z"/><path color="#e9ff50" d="M1461.4 241.7l8.3 1.9 7.2 -4.6 -8.3 -1.7z"/><path color="#e4ff52" d="M1462.4 248.3l8.3 2.1 7.3 -4.9 -8.3 -1.9z"/><path color="#eeff53" d="M1469.7 243.6l8.3 1.9 7.3 -4.8 -8.4 -1.7z"/><path color="#fdff54" d="M1485.3 240.7l8.4 1.7 7.2 -4.9 -8.4 -1.5z"/><path color="#fff454" d="M1492.5 236l8.4 1.5 7.2 -4.9 -8.4 -1.3z"/><path color="#fffb54" d="M1493.7 242.4l8.4 1.7 7.2 -5.1 -8.4 -1.5z"/><path color="#ffec54" d="M1500.9 237.5l8.4 1.5 7.2 -5 -8.4 -1.4z"/><path color="#ffd454" d="M1516.5 234l8.5 1.2 7.2 -5.1 -8.5 -1.1z"/><path color="#ffc554" d="M1523.7 229l8.5 1.1 7.1 -5.1 -8.5 -0.9z"/><path color="#ffcb54" d="M1525 235.2l8.6 1.3 7.2 -5.3 -8.6 -1.1z"/><path color="#ffba54" d="M1532.2 230.1l8.6 1.1 7.1 -5.3 -8.6 -0.9z"/><path color="#ff8e54" d="M1555 220.7l8.6 0.7 7.1 -5.3 -8.7 -0.6z"/><path color="#ff9354" d="M1556.6 226.8l8.7 0.9 7.1 -5.6 -8.8 -0.7z"/><path color="#ff8154" d="M1563.6 221.4l8.8 0.7 7 -5.5 -8.7 -0.5z"/><path color="#ff6154" d="M1579.4 216.6l8.8 0.4 7 -5.6 -8.8 -0.3z"/><path color="#ff0c0c" d="M1037.7 212l7.3 7.3 8.8 -1.5 -7.4 -7.2z"/><path color="#ff0b0b" d="M1030.4 204.6l7.3 7.4 8.7 -1.4 -7.2 -7.1zM1039.2 203.5l7.2 7.1 8.8 -1.3 -7.3 -6.9z"/><path color="#ff0d0d" d="M1046.4 210.6l7.4 7.2 8.7 -1.5 -7.3 -7z"/><path color="#ffbc15" d="M1134.6 233.6l7.4 6.1 8.3 -2.2 -7.4 -5.8z"/><path color="#ffb615" d="M1126.2 235.7l7.4 6.2 8.4 -2.2 -7.4 -6.1z"/><path color="#ffd416" d="M1133.6 241.9l7.5 6.2 8.4 -2.4 -7.5 -6z"/><path color="#ffd916" d="M1142 239.7l7.5 6 8.3 -2.3 -7.5 -5.9z"/><path color="#acff1f" d="M1236.4 257l7.6 4.9 8 -3.1 -7.7 -4.7z"/><path color="#a4ff20" d="M1259.9 255.7l7.7 4.5 7.9 -3.2 -7.7 -4.3z"/><path color="#ffc154" d="M1533.6 236.5l8.7 1.3 7.1 -5.6 -8.6 -1z"/><path color="#ff5454" d="M1597.1 217.5l8.9 0.4 7 -6 -8.9 -0.2zM1604.1 211.7l8.9 0.2 7 -5.9 -8.9 -0.1zM1606 217.9l8.9 0.4 7.1 -6.2 -9 -0.2zM1613 211.9l9 0.2 7 -6.1 -9 0z"/><path color="#baff1e" d="M1228.7 252.1l7.7 4.9 7.9 -2.9 -7.6 -4.8z"/><path color="#b9ff1d" d="M1220.7 254.9l7.6 5.1 8.1 -3 -7.7 -4.9z"/><path color="#aaff1e" d="M1228.3 260l7.7 5.1 8 -3.2 -7.6 -4.9z"/><path color="#a2ff20" d="M1252 258.8l7.7 4.7 7.9 -3.3 -7.7 -4.5z"/><path color="#96ff21" d="M1259.7 263.5l7.8 4.7 7.9 -3.4 -7.8 -4.6z"/><path color="#99ff21" d="M1267.6 260.2l7.8 4.6 7.9 -3.4 -7.8 -4.4z"/><path color="#93ff23" d="M1283.3 261.4l7.7 4.3 7.9 -3.5 -7.8 -4.2z"/><path color="#97ff23" d="M1291.1 258l7.8 4.2 7.8 -3.5 -7.8 -4z"/><path color="#8aff24" d="M1291 265.7l7.9 4.4 7.8 -3.7 -7.8 -4.2z"/><path color="#90ff25" d="M1298.9 262.2l7.8 4.2 7.8 -3.7 -7.8 -4z"/><path color="#a2ff3d" d="M1376.9 261.6l8 3.2 7.6 -4.3 -8.1 -3z"/><path color="#aaff3e" d="M1384.4 257.5l8.1 3 7.5 -4.2 -8.1 -2.9z"/><path color="#a1ff41" d="M1384.9 264.8l8.1 3.2 7.6 -4.5 -8.1 -3z"/><path color="#aaff42" d="M1392.5 260.5l8.1 3 7.5 -4.4 -8.1 -2.8z"/><path color="#b4ff46" d="M1408.1 259.1l8.2 2.8 7.4 -4.5 -8.1 -2.7z"/><path color="#bdff46" d="M1415.6 254.7l8.1 2.7 7.4 -4.5 -8.1 -2.5z"/><path color="#b5ff49" d="M1416.3 261.9l8.2 2.9 7.4 -4.8 -8.2 -2.6z"/><path color="#bfff49" d="M1423.7 257.4l8.2 2.6 7.5 -4.6 -8.3 -2.5z"/><path color="#ccff4d" d="M1439.4 255.4l8.2 2.4 7.4 -4.8 -8.3 -2.2z"/><path color="#d6ff4e" d="M1446.7 250.8l8.3 2.2 7.4 -4.7 -8.3 -2.1z"/><path color="#ceff50" d="M1447.6 257.8l8.4 2.4 7.3 -4.9 -8.3 -2.3z"/><path color="#d9ff51" d="M1455 253l8.3 2.3 7.4 -4.9 -8.3 -2.1z"/><path color="#e8ff54" d="M1470.7 250.4l8.4 2 7.3 -5 -8.4 -1.9z"/><path color="#f2ff54" d="M1478 245.5l8.4 1.9 7.3 -5 -8.4 -1.7z"/><path color="#ebff54" d="M1479.1 252.4l8.4 2 7.3 -5.2 -8.4 -1.8z"/><path color="#f7ff54" d="M1486.4 247.4l8.4 1.8 7.3 -5.1 -8.4 -1.7z"/><path color="#ffb054" d="M1540.8 231.2l8.6 1 7.2 -5.4 -8.7 -0.9z"/><path color="#ffb754" d="M1542.3 237.8l8.7 1.2 7.1 -5.7 -8.7 -1.1z"/><path color="#ffa554" d="M1549.4 232.2l8.7 1.1 7.2 -5.6 -8.7 -0.9z"/><path color="#ff8654" d="M1565.3 227.7l8.7 0.8 7.1 -5.8 -8.7 -0.6z"/><path color="#ff7354" d="M1572.4 222.1l8.7 0.6 7.1 -5.7 -8.8 -0.4z"/><path color="#ff7a54" d="M1574 228.5l8.9 0.8 7.1 -5.9 -8.9 -0.7z"/><path color="#ff6654" d="M1581.1 222.7l8.9 0.7 7.1 -5.9 -8.9 -0.5z"/><path color="#d9ff1b" d="M1197.4 247.2l7.6 5.3 8.1 -2.7 -7.6 -5.1z"/><path color="#c8ff1c" d="M1196.9 255.3l7.6 5.4 8.1 -2.9 -7.6 -5.3zM1205 252.5l7.6 5.3 8.1 -2.9 -7.6 -5.1z"/><path color="#daff1b" d="M1189.3 249.8l7.6 5.5 8.1 -2.8 -7.6 -5.3z"/><path color="#8fff2a" d="M1314.5 262.7l7.9 4 7.7 -3.8 -7.9 -3.8z"/><path color="#95ff2b" d="M1322.2 259.1l7.9 3.8 7.7 -3.7 -7.9 -3.7z"/><path color="#8aff2e" d="M1322.4 266.7l7.9 4 7.7 -4 -7.9 -3.8z"/><path color="#91ff2f" d="M1330.1 262.9l7.9 3.8 7.7 -3.9 -7.9 -3.6z"/><path color="#ffe454" d="M1509.3 239l8.5 1.5 7.2 -5.3 -8.5 -1.2z"/><path color="#ff0e0e" d="M1062.5 216.3l7.3 7 8.7 -1.7 -7.4 -6.7z"/><path color="#ffec54" d="M1510.6 245.7l8.6 1.7 7.2 -5.5 -8.6 -1.4z"/><path color="#ff110f" d="M1071.1 214.9l7.4 6.7 8.6 -1.6 -7.4 -6.5z"/><path color="#ff2e10" d="M1069.8 223.3l7.4 6.9 8.6 -1.8 -7.3 -6.8z"/><path color="#ff3710" d="M1078.5 221.6l7.3 6.8 8.6 -1.8 -7.3 -6.6z"/><path color="#ff6512" d="M1094.4 226.6l7.4 6.6 8.5 -1.9 -7.4 -6.4z"/><path color="#ff6d12" d="M1102.9 224.9l7.4 6.4 8.5 -1.9 -7.4 -6.2z"/><path color="#ff8813" d="M1101.8 233.2l7.4 6.6 8.5 -2.1 -7.4 -6.4z"/><path color="#ff8f13" d="M1110.3 231.3l7.4 6.4 8.5 -2 -7.4 -6.3z"/><path color="#fff918" d="M1157.8 243.4l7.5 5.8 8.3 -2.5 -7.5 -5.6z"/><path color="#fffd18" d="M1166.1 241.1l7.5 5.6 8.2 -2.4 -7.5 -5.5z"/><path color="#efff19" d="M1165.3 249.2l7.5 5.9 8.3 -2.7 -7.5 -5.7z"/><path color="#edff19" d="M1173.6 246.7l7.5 5.7 8.2 -2.6 -7.5 -5.5z"/><path color="#95ff34" d="M1345.7 262.8l7.9 3.6 7.7 -4.1 -8 -3.4z"/><path color="#9cff35" d="M1353.3 258.9l8 3.4 7.6 -4 -8 -3.2z"/><path color="#92ff37" d="M1353.6 266.4l8.1 3.6 7.6 -4.3 -8 -3.4z"/><path color="#9aff38" d="M1361.3 262.3l8 3.4 7.6 -4.1 -8 -3.3z"/><path color="#fff354" d="M1502.1 244.1l8.5 1.6 7.2 -5.2 -8.5 -1.5z"/><path color="#ffdb54" d="M1517.8 240.5l8.6 1.4 7.2 -5.4 -8.6 -1.3z"/><path color="#8aff22" d="M1267.5 268.2l7.8 4.8 7.9 -3.7 -7.8 -4.5z"/><path color="#ffcc15" d="M1116.7 246.4l7.5 6.6 8.5 -2.5 -7.5 -6.4z"/><path color="#fff618" d="M1149.5 245.7l7.5 6 8.3 -2.5 -7.5 -5.8z"/><path color="#ff9954" d="M1558.1 233.3l8.8 1 7.1 -5.8 -8.7 -0.8z"/><path color="#ff5454" d="M1598.9 224l9 0.5 7 -6.2 -8.9 -0.4z"/><path color="#ff0e0e" d="M1045 219.3l7.4 7.3 8.7 -1.7 -7.3 -7.1zM1053.8 217.8l7.3 7.1 8.7 -1.6 -7.3 -7z"/><path color="#ffd016" d="M1125.2 244.1l7.5 6.4 8.4 -2.4 -7.5 -6.2z"/><path color="#ff8e54" d="M1566.9 234.3l8.8 1 7.2 -6 -8.9 -0.8z"/><path color="#ff1b0f" d="M1052.4 226.6l7.4 7.4 8.7 -1.9 -7.4 -7.2z"/><path color="#ff240f" d="M1061.1 224.9l7.4 7.2 8.7 -1.9 -7.4 -6.9z"/><path color="#ffaa14" d="M1109.2 239.8l7.5 6.6 8.5 -2.3 -7.5 -6.4z"/><path color="#ffb014" d="M1117.7 237.7l7.5 6.4 8.4 -2.2 -7.4 -6.2z"/><path color="#fff317" d="M1141.1 248.1l7.5 6.2 8.4 -2.6 -7.5 -6z"/><path color="#f2ff18" d="M1148.6 254.3l7.6 6.2 8.3 -2.7 -7.5 -6.1z"/><path color="#f1ff19" d="M1157 251.7l7.5 6.1 8.3 -2.7 -7.5 -5.9z"/><path color="#9cff20" d="M1236 265.1l7.7 5.1 8 -3.4 -7.7 -4.9z"/><path color="#9fff20" d="M1244 261.9l7.7 4.9 8 -3.3 -7.7 -4.7z"/><path color="#8eff21" d="M1243.7 270.2l7.8 5.1 8 -3.5 -7.8 -5z"/><path color="#92ff21" d="M1251.7 266.8l7.8 5 8 -3.6 -7.8 -4.7z"/><path color="#8fff23" d="M1275.4 264.8l7.8 4.5 7.8 -3.6 -7.7 -4.3z"/><path color="#7fff23" d="M1275.3 273l7.8 4.7 7.9 -3.8 -7.8 -4.6z"/><path color="#85ff24" d="M1283.2 269.3l7.8 4.6 7.9 -3.8 -7.9 -4.4z"/><path color="#a1ff44" d="M1393 268l8.2 3.2 7.6 -4.7 -8.2 -3z"/><path color="#abff45" d="M1400.6 263.5l8.2 3 7.5 -4.6 -8.2 -2.8z"/><path color="#a1ff47" d="M1401.2 271.2l8.2 3.2 7.6 -4.9 -8.2 -3z"/><path color="#abff48" d="M1408.8 266.5l8.2 3 7.5 -4.7 -8.2 -2.9z"/><path color="#b7ff4c" d="M1424.5 264.8l8.2 2.8 7.5 -4.9 -8.3 -2.7z"/><path color="#c1ff4c" d="M1431.9 260l8.3 2.7 7.4 -4.9 -8.2 -2.4z"/><path color="#b8ff4f" d="M1432.7 267.6l8.4 2.8 7.4 -5.1 -8.3 -2.6z"/><path color="#c3ff4f" d="M1440.2 262.7l8.3 2.6 7.5 -5.1 -8.4 -2.4z"/><path color="#d1ff53" d="M1456 260.2l8.3 2.5 7.4 -5.2 -8.4 -2.2z"/><path color="#ddff54" d="M1463.3 255.3l8.4 2.2 7.4 -5.1 -8.4 -2z"/><path color="#d4ff54" d="M1464.3 262.7l8.5 2.4 7.4 -5.4 -8.5 -2.2z"/><path color="#e0ff54" d="M1471.7 257.5l8.5 2.2 7.3 -5.3 -8.4 -2z"/><path color="#ffad54" d="M1551 239l8.7 1.2 7.2 -5.9 -8.8 -1z"/><path color="#ffa354" d="M1559.7 240.2l8.8 1.2 7.2 -6.1 -8.8 -1z"/><path color="#ff6d54" d="M1582.9 229.3l8.9 0.8 7.1 -6.1 -8.9 -0.6z"/><path color="#ff5854" d="M1590 223.4l8.9 0.6 7.1 -6.1 -8.9 -0.4z"/><path color="#ff6054" d="M1591.8 230.1l8.9 0.7 7.2 -6.3 -9 -0.5z"/><path color="#b8ff1d" d="M1212.6 257.8l7.6 5.3 8.1 -3.1 -7.6 -5.1z"/><path color="#b7ff1d" d="M1204.5 260.7l7.6 5.5 8.1 -3.1 -7.6 -5.3z"/><path color="#a6ff1e" d="M1212.1 266.2l7.7 5.5 8.1 -3.3 -7.7 -5.3z"/><path color="#a8ff1e" d="M1220.2 263.1l7.7 5.3 8.1 -3.3 -7.7 -5.1z"/><path color="#83ff28" d="M1298.9 270.1l7.9 4.3 7.8 -3.9 -7.9 -4.1z"/><path color="#89ff29" d="M1306.7 266.4l7.9 4.1 7.8 -3.8 -7.9 -4z"/><path color="#7cff2c" d="M1306.8 274.4l7.9 4.4 7.8 -4.1 -7.9 -4.2z"/><path color="#83ff2d" d="M1314.6 270.5l7.9 4.2 7.8 -4 -7.9 -4z"/><path color="#ffe454" d="M1519.2 247.4l8.6 1.6 7.3 -5.7 -8.7 -1.4z"/><path color="#90ff3b" d="M1361.7 270l8 3.5 7.6 -4.4 -8 -3.4z"/><path color="#99ff3c" d="M1369.3 265.7l8 3.4 7.6 -4.3 -8 -3.2z"/><path color="#8eff3f" d="M1369.7 273.5l8.1 3.6 7.7 -4.6 -8.2 -3.4z"/><path color="#98ff40" d="M1377.3 269.1l8.2 3.4 7.5 -4.5 -8.1 -3.2z"/><path color="#efff54" d="M1487.5 254.4l8.5 2.1 7.3 -5.4 -8.5 -1.9z"/><path color="#fcff54" d="M1494.8 249.2l8.5 1.9 7.3 -5.4 -8.5 -1.6z"/><path color="#f4ff54" d="M1496 256.5l8.6 2 7.3 -5.6 -8.6 -1.8z"/><path color="#fffd54" d="M1503.3 251.1l8.6 1.8 7.3 -5.5 -8.6 -1.7z"/><path color="#ffd354" d="M1526.4 241.9l8.7 1.4 7.2 -5.5 -8.7 -1.3z"/><path color="#ffdc54" d="M1527.8 249l8.7 1.6 7.2 -5.9 -8.6 -1.4z"/><path color="#ffca54" d="M1535.1 243.3l8.6 1.4 7.3 -5.7 -8.7 -1.2z"/><path color="#c8ff1b" d="M1188.7 258.1l7.6 5.6 8.2 -3 -7.6 -5.4z"/><path color="#dbff1a" d="M1172.8 255.1l7.6 5.8 8.3 -2.8 -7.6 -5.7z"/><path color="#daff1a" d="M1181.1 252.4l7.6 5.7 8.2 -2.8 -7.6 -5.5z"/><path color="#c7ff1b" d="M1180.4 260.9l7.6 5.8 8.3 -3 -7.6 -5.6z"/><path color="#86ff31" d="M1330.3 270.7l7.9 3.9 7.8 -4.1 -8 -3.8z"/><path color="#8dff32" d="M1338 266.7l8 3.8 7.6 -4.1 -7.9 -3.6z"/><path color="#82ff35" d="M1338.2 274.6l8 4 7.8 -4.4 -8 -3.7z"/><path color="#8aff36" d="M1346 270.5l8 3.7 7.7 -4.2 -8.1 -3.6z"/><path color="#ff5411" d="M1077.2 230.2l7.4 7 8.6 -2 -7.4 -6.8z"/><path color="#ff5d11" d="M1085.8 228.4l7.4 6.8 8.6 -2 -7.4 -6.6z"/><path color="#ff7b12" d="M1084.6 237.2l7.5 7 8.6 -2.2 -7.5 -6.8z"/><path color="#ff8112" d="M1093.2 235.2l7.5 6.8 8.5 -2.2 -7.4 -6.6z"/><path color="#81ff22" d="M1251.5 275.3l7.8 5.1 8 -3.7 -7.8 -4.9z"/><path color="#86ff22" d="M1259.5 271.8l7.8 4.9 8 -3.7 -7.8 -4.8z"/><path color="#73ff23" d="M1259.3 280.4l7.8 5.1 8 -3.9 -7.8 -4.9z"/><path color="#79ff23" d="M1267.3 276.7l7.8 4.9 8 -3.9 -7.8 -4.7z"/><path color="#a1ff4a" d="M1409.4 274.4l8.3 3.2 7.5 -5.1 -8.2 -3z"/><path color="#acff4b" d="M1417 269.5l8.2 3 7.5 -4.9 -8.2 -2.8z"/><path color="#a1ff4d" d="M1417.7 277.6l8.3 3.1 7.5 -5.2 -8.3 -3z"/><path color="#adff4e" d="M1425.2 272.5l8.3 3 7.6 -5.1 -8.4 -2.8z"/><path color="#baff52" d="M1441.1 270.4l8.3 2.7 7.5 -5.2 -8.4 -2.6z"/><path color="#c6ff52" d="M1448.5 265.3l8.4 2.6 7.4 -5.2 -8.3 -2.5z"/><path color="#bcff54" d="M1449.4 273.1l8.5 2.8 7.4 -5.4 -8.4 -2.6z"/><path color="#c8ff54" d="M1456.9 267.9l8.4 2.6 7.5 -5.4 -8.5 -2.4z"/><path color="#ff9854" d="M1568.5 241.4l8.9 1.1 7.2 -6.2 -8.9 -1z"/><path color="#ff8254" d="M1575.7 235.3l8.9 1 7.2 -6.2 -8.9 -0.8z"/><path color="#ff8d54" d="M1577.4 242.5l9 1.2 7.2 -6.5 -9 -0.9z"/><path color="#ff7754" d="M1584.6 236.3l9 0.9 7.1 -6.4 -8.9 -0.7z"/><path color="#dbff1a" d="M1164.5 257.8l7.6 6 8.3 -2.9 -7.6 -5.8z"/><path color="#c7ff1b" d="M1172.1 263.8l7.6 6 8.3 -3.1 -7.6 -5.8z"/><path color="#dcff19" d="M1156.2 260.5l7.6 6.2 8.3 -2.9 -7.6 -6z"/><path color="#c6ff1b" d="M1163.8 266.7l7.6 6.3 8.3 -3.2 -7.6 -6z"/><path color="#96ff1f" d="M1219.8 271.7l7.7 5.4 8.1 -3.4 -7.7 -5.3z"/><path color="#99ff1f" d="M1227.9 268.4l7.7 5.3 8.1 -3.5 -7.7 -5.1z"/><path color="#86ff20" d="M1227.5 277.1l7.8 5.5 8.1 -3.7 -7.8 -5.2z"/><path color="#8aff20" d="M1235.6 273.7l7.8 5.2 8.1 -3.6 -7.8 -5.1z"/><path color="#75ff26" d="M1283.1 277.7l7.9 4.7 7.9 -4 -7.9 -4.5z"/><path color="#7cff27" d="M1291 273.9l7.9 4.5 7.9 -4 -7.9 -4.3z"/><path color="#6cff2a" d="M1291 282.4l7.9 4.7 7.9 -4.2 -7.9 -4.5z"/><path color="#74ff2b" d="M1298.9 278.4l7.9 4.5 7.9 -4.1 -7.9 -4.4z"/><path color="#f4ff18" d="M1131.7 259.6l7.6 6.6 8.5 -2.9 -7.6 -6.4z"/><path color="#ffcc54" d="M1545.2 252.1l8.8 1.6 7.3 -6.2 -8.8 -1.4z"/><path color="#ffc054" d="M1543.7 244.7l8.8 1.4 7.2 -5.9 -8.7 -1.2z"/><path color="#ff4d10" d="M1068.5 232.1l7.4 7.1 8.7 -2 -7.4 -7z"/><path color="#ffd454" d="M1536.5 250.6l8.7 1.5 7.3 -6 -8.8 -1.4z"/><path color="#ffb754" d="M1552.5 246.1l8.8 1.4 7.2 -6.1 -8.8 -1.2z"/><path color="#fcff54" d="M1513.2 260.4l8.7 2 7.3 -5.9 -8.7 -1.8z"/><path color="#ff4510" d="M1059.8 234l7.4 7.3 8.7 -2.1 -7.4 -7.1z"/><path color="#ff6e11" d="M1067.2 241.3l7.5 7.4 8.7 -2.3 -7.5 -7.2z"/><path color="#ff7412" d="M1075.9 239.2l7.5 7.2 8.7 -2.2 -7.5 -7z"/><path color="#ffa013" d="M1092.1 244.2l7.4 6.9 8.6 -2.4 -7.4 -6.7z"/><path color="#ffa514" d="M1100.7 242l7.4 6.7 8.6 -2.3 -7.5 -6.6z"/><path color="#ffc515" d="M1099.5 251.1l7.5 7 8.6 -2.6 -7.5 -6.8z"/><path color="#ffc815" d="M1108.1 248.7l7.5 6.8 8.6 -2.5 -7.5 -6.6z"/><path color="#ffed17" d="M1124.2 253l7.5 6.6 8.5 -2.7 -7.5 -6.4z"/><path color="#fff017" d="M1132.7 250.5l7.5 6.4 8.4 -2.6 -7.5 -6.2z"/><path color="#f3ff18" d="M1140.2 256.9l7.6 6.4 8.4 -2.8 -7.6 -6.2z"/><path color="#8dff42" d="M1377.8 277.1l8.2 3.6 7.6 -4.8 -8.1 -3.4z"/><path color="#97ff43" d="M1385.5 272.5l8.1 3.4 7.6 -4.7 -8.2 -3.2z"/><path color="#8bff45" d="M1386 280.7l8.2 3.5 7.6 -4.9 -8.2 -3.4z"/><path color="#96ff46" d="M1393.6 275.9l8.2 3.4 7.6 -4.9 -8.2 -3.2z"/><path color="#d6ff54" d="M1472.8 265.1l8.5 2.3 7.4 -5.5 -8.5 -2.2z"/><path color="#e3ff54" d="M1480.2 259.7l8.5 2.2 7.3 -5.4 -8.5 -2.1z"/><path color="#d9ff54" d="M1481.3 267.4l8.5 2.4 7.4 -5.7 -8.5 -2.2z"/><path color="#e6ff54" d="M1488.7 261.9l8.5 2.2 7.4 -5.6 -8.6 -2z"/><path color="#f8ff54" d="M1504.6 258.5l8.6 1.9 7.3 -5.7 -8.6 -1.8z"/><path color="#fff654" d="M1511.9 252.9l8.6 1.8 7.3 -5.7 -8.6 -1.6z"/><path color="#ffef54" d="M1520.5 254.7l8.7 1.8 7.3 -5.9 -8.7 -1.6z"/><path color="#b4ff1c" d="M1188 266.7l7.7 5.9 8.2 -3.2 -7.6 -5.7z"/><path color="#b6ff1c" d="M1196.3 263.7l7.6 5.7 8.2 -3.2 -7.6 -5.5z"/><path color="#a1ff1d" d="M1195.7 272.6l7.7 5.8 8.2 -3.4 -7.7 -5.6z"/><path color="#a4ff1e" d="M1203.9 269.4l7.7 5.6 8.2 -3.3 -7.7 -5.5z"/><path color="#76ff2f" d="M1314.7 278.8l7.9 4.3 7.9 -4.3 -8 -4.1z"/><path color="#7eff30" d="M1322.5 274.7l8 4.1 7.7 -4.2 -7.9 -3.9z"/><path color="#70ff33" d="M1322.6 283.1l8.1 4.3 7.8 -4.4 -8 -4.2z"/><path color="#79ff34" d="M1330.5 278.8l8 4.2 7.7 -4.4 -8 -4z"/><path color="#7eff39" d="M1346.2 278.6l8.1 3.9 7.7 -4.5 -8 -3.8z"/><path color="#87ff3a" d="M1354 274.2l8 3.8 7.7 -4.5 -8 -3.5z"/><path color="#7aff3d" d="M1354.3 282.5l8.1 4 7.7 -4.7 -8.1 -3.8z"/><path color="#85ff3e" d="M1362 278l8.1 3.8 7.7 -4.7 -8.1 -3.6z"/><path color="#ff9713" d="M1074.7 248.7l7.5 7.3 8.7 -2.4 -7.5 -7.2z"/><path color="#ff9b13" d="M1083.4 246.4l7.5 7.2 8.6 -2.5 -7.4 -6.9z"/><path color="#ffbe14" d="M1082.2 256l7.5 7.4 8.7 -2.7 -7.5 -7.1z"/><path color="#ffc114" d="M1090.9 253.6l7.5 7.1 8.6 -2.6 -7.5 -7z"/><path color="#a2ff50" d="M1426 280.7l8.4 3.2 7.5 -5.4 -8.4 -3z"/><path color="#aeff51" d="M1433.5 275.5l8.4 3 7.5 -5.4 -8.3 -2.7z"/><path color="#a2ff53" d="M1434.4 283.9l8.4 3.1 7.5 -5.6 -8.4 -2.9z"/><path color="#afff54" d="M1441.9 278.5l8.4 2.9 7.6 -5.5 -8.5 -2.8z"/><path color="#6dff22" d="M1251.2 284.2l7.8 5.3 8.1 -4 -7.8 -5.1z"/><path color="#7bff21" d="M1243.4 278.9l7.8 5.3 8.1 -3.8 -7.8 -5.1z"/><path color="#b0ff1c" d="M1171.4 273l7.7 6.2 8.3 -3.3 -7.7 -6.1z"/><path color="#b2ff1c" d="M1179.7 269.8l7.7 6.1 8.3 -3.3 -7.7 -5.9z"/><path color="#9bff1d" d="M1179.1 279.2l7.7 6.2 8.3 -3.5 -7.7 -6z"/><path color="#9eff1d" d="M1187.4 275.9l7.7 6 8.3 -3.5 -7.7 -5.8z"/><path color="#76ff21" d="M1235.3 282.6l7.8 5.5 8.1 -3.9 -7.8 -5.3z"/><path color="#67ff22" d="M1243.1 288.1l7.8 5.4 8.1 -4 -7.8 -5.3z"/><path color="#67ff24" d="M1267.1 285.5l7.9 5.1 8 -4.1 -7.9 -4.9z"/><path color="#6eff25" d="M1275.1 281.6l7.9 4.9 8 -4.1 -7.9 -4.7z"/><path color="#5cff28" d="M1275 290.6l7.9 5.1 8 -4.3 -7.9 -4.9z"/><path color="#64ff29" d="M1283 286.5l7.9 4.9 8 -4.3 -7.9 -4.7z"/><path color="#fffc54" d="M1521.9 262.4l8.7 1.9 7.3 -6.1 -8.7 -1.7z"/><path color="#bcff54" d="M1457.9 275.9l8.4 2.8 7.5 -5.7 -8.5 -2.5z"/><path color="#fff654" d="M1530.6 264.3l8.8 2 7.3 -6.4 -8.8 -1.7z"/><path color="#8aff48" d="M1394.2 284.2l8.2 3.6 7.7 -5.2 -8.3 -3.3z"/><path color="#96ff49" d="M1401.8 279.3l8.3 3.3 7.6 -5 -8.3 -3.2z"/><path color="#89ff4b" d="M1402.4 287.8l8.3 3.5 7.7 -5.3 -8.3 -3.4z"/><path color="#95ff4c" d="M1410.1 282.6l8.3 3.4 7.6 -5.3 -8.3 -3.1z"/><path color="#c9ff54" d="M1465.3 270.5l8.5 2.5 7.5 -5.6 -8.5 -2.3z"/><path color="#bdff54" d="M1466.3 278.7l8.6 2.7 7.5 -5.8 -8.6 -2.6z"/><path color="#cbff54" d="M1473.8 273l8.6 2.6 7.4 -5.8 -8.5 -2.4z"/><path color="#dcff54" d="M1489.8 269.8l8.6 2.4 7.4 -5.9 -8.6 -2.2z"/><path color="#eaff54" d="M1497.2 264.1l8.6 2.2 7.4 -5.9 -8.6 -1.9z"/><path color="#deff54" d="M1498.4 272.2l8.7 2.3 7.4 -6.1 -8.7 -2.1z"/><path color="#edff54" d="M1505.8 266.3l8.7 2.1 7.4 -6 -8.7 -2z"/><path color="#ffe854" d="M1529.2 256.5l8.7 1.7 7.3 -6.1 -8.7 -1.5z"/><path color="#ffe154" d="M1537.9 258.2l8.8 1.7 7.3 -6.2 -8.8 -1.6z"/><path color="#ffc454" d="M1554 253.7l8.9 1.5 7.3 -6.4 -8.9 -1.3z"/><path color="#ffae54" d="M1561.3 247.5l8.9 1.3 7.2 -6.3 -8.9 -1.1z"/><path color="#ffbb54" d="M1562.9 255.2l8.9 1.5 7.3 -6.5 -8.9 -1.4z"/><path color="#ffa454" d="M1570.2 248.8l8.9 1.4 7.3 -6.5 -9 -1.2z"/><path color="#c5ff1a" d="M1155.3 269.7l7.7 6.4 8.4 -3.1 -7.6 -6.3z"/><path color="#dcff19" d="M1147.8 263.3l7.5 6.4 8.5 -3 -7.6 -6.2z"/><path color="#dbff19" d="M1139.3 266.2l7.6 6.6 8.4 -3.1 -7.5 -6.4z"/><path color="#c3ff1a" d="M1146.9 272.8l7.6 6.6 8.5 -3.3 -7.7 -6.4z"/><path color="#8fff1e" d="M1203.4 278.4l7.7 5.9 8.2 -3.6 -7.7 -5.7z"/><path color="#92ff1f" d="M1211.6 275l7.7 5.7 8.2 -3.6 -7.7 -5.4z"/><path color="#7cff1f" d="M1211.1 284.3l7.8 5.8 8.2 -3.8 -7.8 -5.6z"/><path color="#81ff20" d="M1219.3 280.7l7.8 5.6 8.2 -3.7 -7.8 -5.5z"/><path color="#64ff2d" d="M1298.9 287.1l8 4.7 7.9 -4.4 -8 -4.5z"/><path color="#6dff2e" d="M1306.8 282.9l8 4.5 7.8 -4.3 -7.9 -4.3z"/><path color="#5dff31" d="M1306.9 291.8l8 4.7 7.9 -4.6 -8 -4.5z"/><path color="#66ff32" d="M1314.8 287.4l8 4.5 7.9 -4.5 -8.1 -4.3z"/><path color="#6aff37" d="M1330.7 287.4l8 4.4 7.8 -4.7 -8 -4.1z"/><path color="#74ff38" d="M1338.5 283l8 4.1 7.8 -4.6 -8.1 -3.9z"/><path color="#65ff3a" d="M1338.7 291.8l8.1 4.3 7.8 -4.9 -8.1 -4.1z"/><path color="#70ff3b" d="M1346.5 287.1l8.1 4.1 7.8 -4.7 -8.1 -4z"/><path color="#77ff40" d="M1362.4 286.5l8.2 3.9 7.7 -4.9 -8.2 -3.7z"/><path color="#82ff41" d="M1370.1 281.8l8.2 3.7 7.7 -4.8 -8.2 -3.6z"/><path color="#75ff44" d="M1370.6 290.4l8.2 3.9 7.7 -5 -8.2 -3.8z"/><path color="#80ff44" d="M1378.3 285.5l8.2 3.8 7.7 -5.1 -8.2 -3.5z"/><path color="#f4ff18" d="M1123.2 262.3l7.6 6.8 8.5 -2.9 -7.6 -6.6z"/><path color="#ffe916" d="M1107 258.1l7.6 7 8.6 -2.8 -7.6 -6.8z"/><path color="#ffeb16" d="M1115.6 255.5l7.6 6.8 8.5 -2.7 -7.5 -6.6z"/><path color="#f5ff17" d="M1114.6 265.1l7.6 6.9 8.6 -2.9 -7.6 -6.8z"/><path color="#72ff1f" d="M1194.5 291.6l7.8 6.3 8.3 -3.9 -7.8 -6.1z"/><path color="#87ff1e" d="M1186.8 285.4l7.7 6.2 8.3 -3.7 -7.7 -6z"/><path color="#8bff1e" d="M1195.1 281.9l7.7 6 8.3 -3.6 -7.7 -5.9z"/><path color="#77ff1f" d="M1202.8 287.9l7.8 6.1 8.3 -3.9 -7.8 -5.8z"/><path color="#acff1b" d="M1154.5 279.4l7.7 6.6 8.5 -3.4 -7.7 -6.5z"/><path color="#ffe615" d="M1089.7 263.4l7.6 7.4 8.7 -2.9 -7.6 -7.2z"/><path color="#fff054" d="M1539.4 266.3l8.8 1.9 7.4 -6.5 -8.9 -1.8z"/><path color="#ffda54" d="M1546.7 259.9l8.9 1.8 7.3 -6.5 -8.9 -1.5z"/><path color="#afff54" d="M1450.3 281.4l8.5 3 7.5 -5.7 -8.4 -2.8z"/><path color="#f5ff17" d="M1097.3 270.8l7.6 7.3 8.7 -3 -7.6 -7.2zM1106 267.9l7.6 7.2 8.6 -3.1 -7.6 -6.9z"/><path color="#ffe716" d="M1098.4 260.7l7.6 7.2 8.6 -2.8 -7.6 -7z"/><path color="#aeff1b" d="M1163 276.1l7.7 6.5 8.4 -3.4 -7.7 -6.2z"/><path color="#94ff1c" d="M1162.2 286l7.7 6.6 8.5 -3.6 -7.7 -6.4z"/><path color="#98ff1c" d="M1170.7 282.6l7.7 6.4 8.4 -3.6 -7.7 -6.2z"/><path color="#6bff20" d="M1218.9 290.1l7.8 5.9 8.2 -4 -7.8 -5.7z"/><path color="#71ff21" d="M1227.1 286.3l7.8 5.7 8.2 -3.9 -7.8 -5.5z"/><path color="#59ff22" d="M1226.7 296l7.9 5.8 8.2 -4.2 -7.9 -5.6z"/><path color="#60ff22" d="M1234.9 292l7.9 5.6 8.1 -4.1 -7.8 -5.4z"/><path color="#58ff23" d="M1250.9 293.5l7.9 5.5 8.1 -4.2 -7.9 -5.3z"/><path color="#5fff24" d="M1259 289.5l7.9 5.3 8.1 -4.2 -7.9 -5.1z"/><path color="#4aff26" d="M1258.8 299l8 5.5 8.1 -4.5 -8 -5.2z"/><path color="#53ff27" d="M1266.9 294.8l8 5.2 8 -4.3 -7.9 -5.1z"/><path color="#52ff2b" d="M1282.9 295.7l8 5.1 8 -4.5 -8 -4.9z"/><path color="#5bff2c" d="M1290.9 291.4l8 4.9 8 -4.5 -8 -4.7z"/><path color="#49ff2f" d="M1290.9 300.8l8 5 8 -4.7 -8 -4.8z"/><path color="#53ff30" d="M1298.9 296.3l8 4.8 8 -4.6 -8 -4.7z"/><path color="#56ff35" d="M1314.9 296.5l8 4.7 7.9 -4.7 -8 -4.6z"/><path color="#60ff36" d="M1322.8 291.9l8 4.6 7.9 -4.7 -8 -4.4z"/><path color="#4fff38" d="M1322.9 301.2l8.1 4.7 8 -4.9 -8.2 -4.5z"/><path color="#5aff39" d="M1330.8 296.5l8.2 4.5 7.8 -4.9 -8.1 -4.3z"/><path color="#61ff3e" d="M1346.8 296.1l8.2 4.3 7.8 -5 -8.2 -4.2z"/><path color="#6cff3f" d="M1354.6 291.2l8.2 4.2 7.8 -5 -8.2 -3.9z"/><path color="#5dff42" d="M1355 300.4l8.2 4.3 7.8 -5.2 -8.2 -4.1z"/><path color="#69ff43" d="M1362.8 295.4l8.2 4.1 7.8 -5.2 -8.2 -3.9z"/><path color="#72ff47" d="M1378.8 294.3l8.2 4 7.7 -5.3 -8.2 -3.7z"/><path color="#7eff47" d="M1386.5 289.3l8.2 3.7 7.7 -5.2 -8.2 -3.6z"/><path color="#6fff4a" d="M1387 298.3l8.3 3.9 7.8 -5.5 -8.4 -3.7z"/><path color="#7cff4a" d="M1394.7 293l8.4 3.7 7.6 -5.4 -8.3 -3.5z"/><path color="#88ff4e" d="M1410.7 291.3l8.4 3.6 7.6 -5.6 -8.3 -3.3z"/><path color="#95ff4f" d="M1418.4 286l8.3 3.3 7.7 -5.4 -8.4 -3.2z"/><path color="#87ff51" d="M1419.1 294.9l8.4 3.5 7.7 -5.7 -8.5 -3.4z"/><path color="#95ff52" d="M1426.7 289.3l8.5 3.4 7.6 -5.7 -8.4 -3.1z"/><path color="#a2ff54" d="M1442.8 287l8.4 3.1 7.6 -5.7 -8.5 -3z"/><path color="#a1ff54" d="M1451.2 290.1l8.6 3.2 7.5 -6 -8.5 -2.9z"/><path color="#b0ff54" d="M1458.8 284.4l8.5 2.9 7.6 -5.9 -8.6 -2.7z"/><path color="#bfff54" d="M1474.9 281.4l8.6 2.7 7.5 -6 -8.6 -2.5z"/><path color="#cdff54" d="M1482.4 275.6l8.6 2.5 7.4 -5.9 -8.6 -2.4z"/><path color="#c0ff54" d="M1483.5 284.1l8.6 2.7 7.5 -6.2 -8.6 -2.5z"/><path color="#cfff54" d="M1491 278.1l8.6 2.5 7.5 -6.1 -8.7 -2.3z"/><path color="#e1ff54" d="M1507.1 274.5l8.7 2.3 7.4 -6.3 -8.7 -2.1z"/><path color="#f1ff54" d="M1514.5 268.4l8.7 2.1 7.4 -6.2 -8.7 -1.9z"/><path color="#e5ff54" d="M1515.8 276.8l8.8 2.3 7.4 -6.4 -8.8 -2.2z"/><path color="#f5ff54" d="M1523.2 270.5l8.8 2.2 7.4 -6.4 -8.8 -2z"/><path color="#ffe954" d="M1548.2 268.2l8.9 1.9 7.4 -6.7 -8.9 -1.7z"/><path color="#ffd254" d="M1555.6 261.7l8.9 1.7 7.3 -6.7 -8.9 -1.5z"/><path color="#dbff19" d="M1130.8 269.1l7.6 6.8 8.5 -3.1 -7.6 -6.6z"/><path color="#daff18" d="M1122.2 272l7.6 7 8.6 -3.1 -7.6 -6.8z"/><path color="#c0ff19" d="M1129.8 279l7.7 7 8.5 -3.3 -7.6 -6.8z"/><path color="#c2ff1a" d="M1138.4 275.9l7.6 6.8 8.5 -3.3 -7.6 -6.6z"/><path color="#5eff20" d="M1202.3 297.9l7.8 6.2 8.3 -4.1 -7.8 -6z"/><path color="#65ff20" d="M1210.6 294l7.8 6 8.3 -4 -7.8 -5.9z"/><path color="#4bff21" d="M1210.1 304.1l7.9 6.2 8.3 -4.3 -7.9 -6z"/><path color="#52ff21" d="M1218.4 300l7.9 6 8.3 -4.2 -7.9 -5.8z"/><path color="#e8ff54" d="M1524.6 279.1l8.8 2.3 7.4 -6.6 -8.8 -2.1z"/><path color="#ebff54" d="M1533.4 281.4l8.9 2.3 7.4 -6.9 -8.9 -2z"/><path color="#d4ff54" d="M1508.3 283.1l8.8 2.5 7.5 -6.5 -8.8 -2.3z"/><path color="#a1ff54" d="M1459.8 293.3l8.5 3.1 7.6 -6.2 -8.6 -2.9zM1468.3 296.4l8.7 3.1 7.6 -6.4 -8.7 -2.9z"/><path color="#b0ff54" d="M1467.3 287.3l8.6 2.9 7.6 -6.1 -8.6 -2.7zM1475.9 290.2l8.7 2.9 7.5 -6.3 -8.6 -2.7z"/><path color="#c1ff54" d="M1492.1 286.8l8.7 2.7 7.5 -6.4 -8.7 -2.5z"/><path color="#d1ff54" d="M1499.6 280.6l8.7 2.5 7.5 -6.3 -8.7 -2.3z"/><path color="#c3ff54" d="M1500.8 289.5l8.8 2.7 7.5 -6.6 -8.8 -2.5z"/><path color="#f9ff54" d="M1532 272.7l8.8 2.1 7.4 -6.6 -8.8 -1.9z"/><path color="#feff54" d="M1540.8 274.8l8.9 2 7.4 -6.7 -8.9 -1.9z"/><path color="#7eff1d" d="M1169.9 292.6l7.8 6.6 8.4 -3.8 -7.7 -6.4z"/><path color="#91ff1c" d="M1153.7 289.5l7.7 6.8 8.5 -3.7 -7.7 -6.6z"/><path color="#d8ff18" d="M1104.9 278.1l7.6 7.4 8.7 -3.3 -7.6 -7.1z"/><path color="#d9ff18" d="M1113.6 275.1l7.6 7.1 8.6 -3.2 -7.6 -7z"/><path color="#bcff19" d="M1112.5 285.5l7.7 7.4 8.7 -3.5 -7.7 -7.2z"/><path color="#beff19" d="M1121.2 282.2l7.7 7.2 8.6 -3.4 -7.7 -7z"/><path color="#a6ff1a" d="M1137.5 286l7.7 7 8.5 -3.5 -7.7 -6.8z"/><path color="#a9ff1b" d="M1146 282.7l7.7 6.8 8.5 -3.5 -7.7 -6.6z"/><path color="#8dff1b" d="M1145.2 293l7.7 7 8.5 -3.7 -7.7 -6.8z"/><path color="#82ff1d" d="M1178.4 289l7.7 6.4 8.4 -3.8 -7.7 -6.2z"/><path color="#67ff1e" d="M1177.7 299.2l7.8 6.6 8.4 -4 -7.8 -6.4z"/><path color="#6dff1f" d="M1186.1 295.4l7.8 6.4 8.4 -3.9 -7.8 -6.3z"/><path color="#48ff23" d="M1234.6 301.8l7.9 5.9 8.2 -4.4 -7.9 -5.7z"/><path color="#50ff23" d="M1242.8 297.6l7.9 5.7 8.1 -4.3 -7.9 -5.5z"/><path color="#38ff24" d="M1242.5 307.7l7.9 5.8 8.2 -4.5 -7.9 -5.7z"/><path color="#41ff25" d="M1250.7 303.3l7.9 5.7 8.2 -4.5 -8 -5.5z"/><path color="#3fff29" d="M1266.8 304.5l7.9 5.4 8.1 -4.6 -7.9 -5.3z"/><path color="#48ff2a" d="M1274.9 300l7.9 5.3 8.1 -4.5 -8 -5.1z"/><path color="#33ff2d" d="M1274.7 309.9l8.1 5.5 8.1 -4.8 -8.1 -5.3z"/><path color="#3eff2e" d="M1282.8 305.3l8.1 5.3 8 -4.8 -8 -5z"/><path color="#40ff33" d="M1298.9 305.8l8.1 5.1 8 -4.9 -8.1 -4.9z"/><path color="#4bff34" d="M1306.9 301.1l8.1 4.9 7.9 -4.8 -8 -4.7z"/><path color="#38ff36" d="M1307 310.9l8.1 5.1 8 -5.1 -8.1 -4.9z"/><path color="#44ff37" d="M1315 306l8.1 4.9 7.9 -5 -8.1 -4.7z"/><path color="#49ff3c" d="M1331 305.9l8.2 4.7 7.9 -5.1 -8.1 -4.5z"/><path color="#55ff3d" d="M1339 301l8.1 4.5 7.9 -5.1 -8.2 -4.3z"/><path color="#44ff40" d="M1339.2 310.6l8.2 4.7 7.9 -5.3 -8.2 -4.5z"/><path color="#50ff41" d="M1347.1 305.5l8.2 4.5 7.9 -5.3 -8.2 -4.3z"/><path color="#59ff45" d="M1363.2 304.7l8.2 4.3 7.8 -5.4 -8.2 -4.1z"/><path color="#65ff46" d="M1371 299.5l8.2 4.1 7.8 -5.3 -8.2 -4z"/><path color="#55ff48" d="M1371.4 309l8.3 4.3 7.8 -5.6 -8.3 -4.1z"/><path color="#62ff49" d="M1379.2 303.6l8.3 4.1 7.8 -5.5 -8.3 -3.9z"/><path color="#6dff4d" d="M1395.3 302.2l8.4 3.9 7.7 -5.7 -8.3 -3.7z"/><path color="#7bff4d" d="M1403.1 296.7l8.3 3.7 7.7 -5.5 -8.4 -3.6z"/><path color="#6bff50" d="M1403.7 306.1l8.4 3.9 7.7 -5.9 -8.4 -3.7z"/><path color="#7aff50" d="M1411.4 300.4l8.4 3.7 7.7 -5.7 -8.4 -3.5z"/><path color="#87ff54" d="M1427.5 298.4l8.5 3.5 7.6 -5.9 -8.4 -3.3z"/><path color="#95ff54" d="M1435.2 292.7l8.4 3.3 7.6 -5.9 -8.4 -3.1z"/><path color="#85ff54" d="M1436 301.9l8.5 3.5 7.7 -6.1 -8.6 -3.3z"/><path color="#93ff54" d="M1443.6 296l8.6 3.3 7.6 -6 -8.6 -3.2z"/><path color="#d6ff54" d="M1517.1 285.6l8.8 2.5 7.5 -6.7 -8.8 -2.3z"/><path color="#d9ff54" d="M1525.9 288.1l8.9 2.5 7.5 -6.9 -8.9 -2.3z"/><path color="#a0ff1a" d="M1120.2 292.9l7.7 7.3 8.7 -3.6 -7.7 -7.2z"/><path color="#a3ff1a" d="M1128.9 289.4l7.7 7.2 8.6 -3.6 -7.7 -7z"/><path color="#84ff1b" d="M1127.9 300.2l7.8 7.4 8.6 -3.8 -7.7 -7.2z"/><path color="#88ff1b" d="M1136.6 296.6l7.7 7.2 8.6 -3.8 -7.7 -7z"/><path color="#51ff1f" d="M1185.5 305.8l7.8 6.6 8.5 -4.2 -7.9 -6.4z"/><path color="#58ff20" d="M1193.9 301.8l7.9 6.4 8.3 -4.1 -7.8 -6.2z"/><path color="#3cff20" d="M1193.3 312.4l7.9 6.6 8.4 -4.4 -7.8 -6.4z"/><path color="#43ff21" d="M1201.8 308.2l7.8 6.4 8.4 -4.3 -7.9 -6.2z"/><path color="#38ff22" d="M1218 310.3l7.9 6.2 8.3 -4.4 -7.9 -6.1z"/><path color="#40ff22" d="M1226.3 306l7.9 6.1 8.3 -4.4 -7.9 -5.9z"/><path color="#25ff23" d="M1225.9 316.5l7.9 6.3 8.4 -4.7 -8 -6z"/><path color="#2fff23" d="M1234.2 312.1l8 6 8.2 -4.6 -7.9 -5.8z"/><path color="#3aff45" d="M1315.1 316l8.1 5.1 8 -5.3 -8.1 -4.9z"/><path color="#3dff3b" d="M1323.1 310.9l8.1 4.9 8 -5.2 -8.2 -4.7z"/><path color="#3eff54" d="M1323.2 321.1l8.2 5 8 -5.4 -8.2 -4.9z"/><path color="#3fff48" d="M1331.2 315.8l8.2 4.9 8 -5.4 -8.2 -4.7z"/><path color="#43ff48" d="M1347.4 315.3l8.3 4.7 7.9 -5.6 -8.3 -4.4z"/><path color="#4cff44" d="M1355.3 310l8.3 4.4 7.8 -5.4 -8.2 -4.3z"/><path color="#46ff54" d="M1355.7 320l8.3 4.6 7.9 -5.7 -8.3 -4.5z"/><path color="#47ff47" d="M1363.6 314.4l8.3 4.5 7.8 -5.6 -8.3 -4.3z"/><path color="#51ff4b" d="M1379.7 313.3l8.4 4.3 7.8 -5.8 -8.4 -4.1z"/><path color="#60ff4c" d="M1387.5 307.7l8.4 4.1 7.8 -5.7 -8.4 -3.9z"/><path color="#4eff4e" d="M1388.1 317.6l8.4 4.3 7.8 -6 -8.4 -4.1z"/><path color="#5dff4f" d="M1395.9 311.8l8.4 4.1 7.8 -5.9 -8.4 -3.9z"/><path color="#a0ff54" d="M1477 299.5l8.7 3 7.6 -6.5 -8.7 -2.9zM1485.7 302.5l8.7 3.1 7.6 -6.7 -8.7 -2.9z"/><path color="#b1ff54" d="M1484.6 293.1l8.7 2.9 7.5 -6.5 -8.7 -2.7z"/><path color="#b2ff54" d="M1493.3 296l8.7 2.9 7.6 -6.7 -8.8 -2.7z"/><path color="#c5ff54" d="M1509.6 292.2l8.8 2.7 7.5 -6.8 -8.8 -2.5z"/><path color="#c6ff54" d="M1518.4 294.9l8.9 2.7 7.5 -7 -8.9 -2.5z"/><path color="#31ff39" d="M1282.8 315.4l8 5.5 8.1 -5 -8 -5.3z"/><path color="#35ff32" d="M1290.9 310.6l8 5.3 8.1 -5 -8.1 -5.1z"/><path color="#34ff4b" d="M1290.8 320.9l8.1 5.4 8.1 -5.2 -8.1 -5.2z"/><path color="#35ff40" d="M1298.9 315.9l8.1 5.2 8.1 -5.1 -8.1 -5.1z"/><path color="#83ff54" d="M1444.5 305.4l8.6 3.5 7.6 -6.3 -8.5 -3.3z"/><path color="#92ff54" d="M1452.2 299.3l8.5 3.3 7.6 -6.2 -8.5 -3.1z"/><path color="#81ff54" d="M1453.1 308.9l8.6 3.4 7.7 -6.4 -8.7 -3.3z"/><path color="#91ff54" d="M1460.7 302.6l8.7 3.3 7.6 -6.4 -8.7 -3.1z"/><path color="#74ff1d" d="M1152.9 300l7.8 7 8.5 -3.9 -7.8 -6.8z"/><path color="#79ff1d" d="M1161.4 296.3l7.8 6.8 8.5 -3.9 -7.8 -6.6z"/><path color="#5bff1e" d="M1160.7 307l7.8 7 8.5 -4.1 -7.8 -6.8z"/><path color="#61ff1e" d="M1169.2 303.1l7.8 6.8 8.5 -4.1 -7.8 -6.6z"/><path color="#2aff27" d="M1250.4 313.5l8 5.9 8.2 -4.8 -8 -5.6z"/><path color="#34ff28" d="M1258.6 309l8 5.6 8.1 -4.7 -7.9 -5.4z"/><path color="#2bff3a" d="M1258.4 319.4l8 5.8 8.2 -4.9 -8 -5.7z"/><path color="#2cff30" d="M1266.6 314.6l8 5.7 8.2 -4.9 -8.1 -5.5z"/><path color="#6aff53" d="M1412.1 310l8.4 3.9 7.8 -6.1 -8.5 -3.7z"/><path color="#79ff53" d="M1419.8 304.1l8.5 3.7 7.7 -5.9 -8.5 -3.5z"/><path color="#68ff54" d="M1420.5 313.9l8.6 3.9 7.7 -6.3 -8.5 -3.7z"/><path color="#76ff54" d="M1428.3 307.8l8.5 3.7 7.7 -6.1 -8.5 -3.5z"/><path color="#a1ff54" d="M1494.4 305.6l8.8 3.1 7.6 -6.9 -8.8 -2.9zM1503.2 308.7l8.9 3 7.6 -7.1 -8.9 -2.8z"/><path color="#b3ff54" d="M1502 298.9l8.8 2.9 7.6 -6.9 -8.8 -2.7z"/><path color="#b4ff54" d="M1510.8 301.8l8.9 2.8 7.6 -7 -8.9 -2.7z"/><path color="#6eff1c" d="M1144.3 303.8l7.8 7.2 8.6 -4 -7.8 -7z"/><path color="#69ff1c" d="M1135.7 307.6l7.8 7.4 8.6 -4 -7.8 -7.2z"/><path color="#4eff1d" d="M1143.5 315l7.8 7.4 8.6 -4.2 -7.8 -7.2z"/><path color="#55ff1d" d="M1152.1 311l7.8 7.2 8.6 -4.2 -7.8 -7z"/><path color="#43ff1f" d="M1168.5 314l7.8 7 8.6 -4.3 -7.9 -6.8z"/><path color="#4aff1f" d="M1177 309.9l7.9 6.8 8.4 -4.3 -7.8 -6.6z"/><path color="#2cff20" d="M1176.3 321l7.9 7 8.6 -4.5 -7.9 -6.8z"/><path color="#34ff20" d="M1184.9 316.7l7.9 6.8 8.4 -4.5 -7.9 -6.6z"/><path color="#27ff21" d="M1201.2 319l7.9 6.7 8.4 -4.6 -7.9 -6.5z"/><path color="#2fff22" d="M1209.6 314.6l7.9 6.5 8.4 -4.6 -7.9 -6.2z"/><path color="#23ff34" d="M1209.1 325.7l8 6.6 8.4 -4.8 -8 -6.4z"/><path color="#23ff2a" d="M1217.5 321.1l8 6.4 8.3 -4.7 -7.9 -6.3z"/><path color="#25ff38" d="M1233.8 322.8l8 6.2 8.3 -4.8 -7.9 -6.1z"/><path color="#26ff2e" d="M1242.2 318.1l7.9 6.1 8.3 -4.8 -8 -5.9z"/><path color="#29ff4f" d="M1241.8 329l8.1 6.2 8.3 -5 -8.1 -6z"/><path color="#2aff44" d="M1250.1 324.2l8.1 6 8.2 -5 -8 -5.8z"/><path color="#38ff5c" d="M1298.9 326.3l8.2 5.5 8.1 -5.4 -8.2 -5.3z"/><path color="#39ff50" d="M1307 321.1l8.2 5.3 8 -5.3 -8.1 -5.1z"/><path color="#3cff6d" d="M1307.1 331.8l8.2 5.4 8.1 -5.5 -8.2 -5.3z"/><path color="#3dff60" d="M1315.2 326.4l8.2 5.3 8 -5.6 -8.2 -5z"/><path color="#41ff62" d="M1331.4 326.1l8.3 5.1 8 -5.6 -8.3 -4.9z"/><path color="#42ff55" d="M1339.4 320.7l8.3 4.9 8 -5.6 -8.3 -4.7z"/><path color="#45ff6f" d="M1339.7 331.2l8.3 5.1 8 -5.9 -8.3 -4.8z"/><path color="#45ff62" d="M1347.7 325.6l8.3 4.8 8 -5.8 -8.3 -4.6z"/><path color="#49ff5f" d="M1364 324.6l8.3 4.7 7.9 -5.9 -8.3 -4.5z"/><path color="#4aff51" d="M1371.9 318.9l8.3 4.5 7.9 -5.8 -8.4 -4.3z"/><path color="#4cff6a" d="M1372.3 329.3l8.4 4.7 7.9 -6.1 -8.4 -4.5z"/><path color="#4dff5c" d="M1380.2 323.4l8.4 4.5 7.9 -6 -8.4 -4.3z"/><path color="#51ff56" d="M1396.5 321.9l8.4 4.2 7.9 -6.1 -8.5 -4.1z"/><path color="#5bff52" d="M1404.3 315.9l8.5 4.1 7.7 -6.1 -8.4 -3.9z"/><path color="#54ff5f" d="M1404.9 326.1l8.5 4.3 7.9 -6.4 -8.5 -4z"/><path color="#59ff54" d="M1412.8 320l8.5 4 7.8 -6.2 -8.6 -3.9z"/><path color="#64ff54" d="M1429.1 317.8l8.5 3.8 7.8 -6.4 -8.6 -3.7z"/><path color="#73ff54" d="M1436.8 311.5l8.6 3.7 7.7 -6.3 -8.6 -3.5z"/><path color="#60ff54" d="M1437.6 321.6l8.6 3.9 7.8 -6.6 -8.6 -3.7z"/><path color="#71ff54" d="M1445.4 315.2l8.6 3.7 7.7 -6.6 -8.6 -3.4z"/><path color="#7fff54" d="M1461.7 312.3l8.7 3.5 7.6 -6.6 -8.6 -3.3z"/><path color="#90ff54" d="M1469.4 305.9l8.6 3.3 7.7 -6.7 -8.7 -3z"/><path color="#7dff54" d="M1470.4 315.8l8.7 3.5 7.7 -6.9 -8.8 -3.2z"/><path color="#8fff54" d="M1478 309.2l8.8 3.2 7.6 -6.8 -8.7 -3.1z"/><path color="#2fff4f" d="M1266.4 325.2l8.1 5.8 8.2 -5.1 -8.1 -5.6z"/><path color="#30ff44" d="M1274.6 320.3l8.1 5.6 8.1 -5 -8 -5.5z"/><path color="#32ff62" d="M1274.5 331l8.1 5.9 8.2 -5.3 -8.1 -5.7z"/><path color="#33ff56" d="M1282.7 325.9l8.1 5.7 8.1 -5.3 -8.1 -5.4z"/><path color="#34ff1e" d="M1151.3 322.4l7.8 7.4 8.7 -4.4 -7.9 -7.2z"/><path color="#3cff1e" d="M1159.9 318.2l7.9 7.2 8.5 -4.4 -7.8 -7z"/><path color="#1fff24" d="M1159.1 329.8l8 7.4 8.6 -4.6 -7.9 -7.2z"/><path color="#23ff1f" d="M1167.8 325.4l7.9 7.2 8.5 -4.6 -7.9 -7z"/><path color="#48ff7c" d="M1348 336.3l8.3 5 8 -6 -8.3 -4.9z"/><path color="#48ff6e" d="M1356 330.4l8.3 4.9 8 -6 -8.3 -4.7z"/><path color="#4bff88" d="M1356.3 341.3l8.4 5.1 8 -6.2 -8.4 -4.9z"/><path color="#4bff79" d="M1364.3 335.3l8.4 4.9 8 -6.2 -8.4 -4.7z"/><path color="#2dff65" d="M1249.9 335.2l8.1 6.3 8.2 -5.3 -8 -6z"/><path color="#2eff5a" d="M1258.2 330.2l8 6 8.3 -5.2 -8.1 -5.8z"/><path color="#30ff7b" d="M1258 341.5l8.1 6.2 8.3 -5.4 -8.2 -6.1z"/><path color="#31ff6e" d="M1266.2 336.2l8.2 6.1 8.2 -5.4 -8.1 -5.9z"/><path color="#3fff7d" d="M1315.3 337.2l8.3 5.5 8 -5.8 -8.2 -5.2z"/><path color="#40ff6f" d="M1323.4 331.7l8.2 5.2 8.1 -5.7 -8.3 -5.1z"/><path color="#43ff8c" d="M1323.6 342.7l8.3 5.5 8 -6 -8.3 -5.3z"/><path color="#44ff7d" d="M1331.6 336.9l8.3 5.3 8.1 -5.9 -8.3 -5.1z"/><path color="#7cff54" d="M1479.1 319.3l8.8 3.4 7.7 -7 -8.8 -3.3z"/><path color="#8eff54" d="M1486.8 312.4l8.8 3.3 7.6 -7 -8.8 -3.1zM1495.6 315.7l8.8 3.2 7.7 -7.2 -8.9 -3z"/><path color="#7bff54" d="M1487.9 322.7l8.9 3.5 7.6 -7.3 -8.8 -3.2z"/><path color="#21ff2e" d="M1184.2 328l8 7 8.5 -4.7 -7.9 -6.8z"/><path color="#21ff25" d="M1192.8 323.5l7.9 6.8 8.4 -4.6 -7.9 -6.7z"/><path color="#22ff49" d="M1192.2 335l7.9 7.1 8.5 -5 -7.9 -6.8z"/><path color="#22ff3e" d="M1200.7 330.3l7.9 6.8 8.5 -4.8 -8 -6.6z"/><path color="#24ff4c" d="M1217.1 332.3l8 6.6 8.4 -5 -8 -6.4z"/><path color="#24ff42" d="M1225.5 327.5l8 6.4 8.3 -4.9 -8 -6.2z"/><path color="#27ff65" d="M1225.1 338.9l8 6.7 8.4 -5.2 -8 -6.5z"/><path color="#28ff5a" d="M1233.5 333.9l8 6.5 8.4 -5.2 -8.1 -6.2z"/><path color="#36ff75" d="M1282.6 336.9l8.2 5.8 8.2 -5.5 -8.2 -5.6z"/><path color="#37ff69" d="M1290.8 331.6l8.2 5.6 8.1 -5.4 -8.2 -5.5z"/><path color="#3aff87" d="M1290.8 342.7l8.2 5.9 8.2 -5.7 -8.2 -5.7z"/><path color="#3bff7a" d="M1299 337.2l8.2 5.7 8.1 -5.7 -8.2 -5.4z"/><path color="#4fff75" d="M1380.7 334l8.4 4.7 8 -6.3 -8.5 -4.5z"/><path color="#50ff65" d="M1388.6 327.9l8.5 4.5 7.8 -6.3 -8.4 -4.2z"/><path color="#52ff7e" d="M1389.1 338.7l8.5 4.6 8 -6.5 -8.5 -4.4z"/><path color="#53ff6f" d="M1397.1 332.4l8.5 4.4 7.8 -6.4 -8.5 -4.3z"/><path color="#54ff65" d="M1413.4 330.4l8.6 4.3 7.8 -6.6 -8.5 -4.1z"/><path color="#54ff54" d="M1421.3 324l8.5 4.1 7.8 -6.5 -8.5 -3.8z"/><path color="#54ff6a" d="M1422 334.7l8.6 4.2 7.8 -6.7 -8.6 -4.1z"/><path color="#54ff59" d="M1429.8 328.1l8.6 4.1 7.8 -6.7 -8.6 -3.9z"/><path color="#5dff54" d="M1446.2 325.5l8.7 3.9 7.8 -6.8 -8.7 -3.7z"/><path color="#6eff54" d="M1454 318.9l8.7 3.7 7.7 -6.8 -8.7 -3.5z"/><path color="#5aff54" d="M1454.9 329.4l8.7 3.8 7.8 -7 -8.7 -3.6z"/><path color="#6cff54" d="M1462.7 322.6l8.7 3.6 7.7 -6.9 -8.7 -3.5z"/><path color="#20ff41" d="M1167.1 337.2l7.9 7.4 8.6 -4.8 -7.9 -7.2z"/><path color="#21ff38" d="M1175.7 332.6l7.9 7.2 8.6 -4.8 -8 -7z"/><path color="#21ff5e" d="M1175 344.6l8 7.5 8.6 -5.1 -8 -7.2z"/><path color="#22ff53" d="M1183.6 339.8l8 7.2 8.5 -4.9 -7.9 -7.1z"/><path color="#2bff7d" d="M1233.1 345.6l8.1 6.6 8.4 -5.4 -8.1 -6.4z"/><path color="#2cff71" d="M1241.5 340.4l8.1 6.4 8.4 -5.3 -8.1 -6.3z"/><path color="#2eff95" d="M1241.2 352.2l8.2 6.6 8.3 -5.6 -8.1 -6.4z"/><path color="#2fff88" d="M1249.6 346.8l8.1 6.4 8.4 -5.5 -8.1 -6.2z"/><path color="#34ff90" d="M1266.1 347.7l8.1 6.3 8.3 -5.7 -8.1 -6z"/><path color="#35ff82" d="M1274.4 342.3l8.1 6 8.3 -5.6 -8.2 -5.8z"/><path color="#38ffa3" d="M1274.2 354l8.3 6.2 8.2 -5.8 -8.2 -6.1z"/><path color="#39ff95" d="M1282.5 348.3l8.2 6.1 8.3 -5.8 -8.2 -5.9z"/><path color="#3dff99" d="M1299 348.6l8.2 5.8 8.2 -5.9 -8.2 -5.6z"/><path color="#3eff8b" d="M1307.2 342.9l8.2 5.6 8.2 -5.8 -8.3 -5.5z"/><path color="#41ffaa" d="M1307.2 354.4l8.3 5.9 8.2 -6.1 -8.3 -5.7z"/><path color="#42ff9b" d="M1315.4 348.5l8.3 5.7 8.2 -6 -8.3 -5.5z"/><path color="#46ff9a" d="M1331.9 348.2l8.3 5.4 8.1 -6.2 -8.4 -5.2z"/><path color="#47ff8b" d="M1339.9 342.2l8.4 5.2 8 -6.1 -8.3 -5z"/><path color="#49ffa8" d="M1340.2 353.6l8.4 5.5 8.1 -6.4 -8.4 -5.3z"/><path color="#4aff98" d="M1348.3 347.4l8.4 5.3 8 -6.3 -8.4 -5.1z"/><path color="#4eff94" d="M1364.7 346.4l8.5 5.1 8 -6.5 -8.5 -4.8z"/><path color="#4eff84" d="M1372.7 340.2l8.5 4.8 7.9 -6.3 -8.4 -4.7z"/><path color="#51ff9f" d="M1373.2 351.5l8.5 5 8 -6.6 -8.5 -4.9z"/><path color="#51ff8f" d="M1381.2 345l8.5 4.9 7.9 -6.6 -8.5 -4.6z"/><path color="#54ff87" d="M1397.6 343.3l8.6 4.7 7.9 -6.7 -8.5 -4.5z"/><path color="#54ff76" d="M1405.6 336.8l8.5 4.5 7.9 -6.6 -8.6 -4.3z"/><path color="#54ff8e" d="M1406.2 348l8.6 4.6 7.9 -6.8 -8.6 -4.5z"/><path color="#54ff7c" d="M1414.1 341.3l8.6 4.5 7.9 -6.9 -8.6 -4.2z"/><path color="#54ff70" d="M1430.6 338.9l8.7 4.3 7.8 -7 -8.7 -4z"/><path color="#54ff5d" d="M1438.4 332.2l8.7 4 7.8 -6.8 -8.7 -3.9z"/><path color="#54ff75" d="M1439.3 343.2l8.7 4.2 7.8 -7.1 -8.7 -4.1z"/><path color="#54ff61" d="M1447.1 336.2l8.7 4.1 7.8 -7.1 -8.7 -3.8z"/><path color="#57ff54" d="M1463.6 333.2l8.8 3.9 7.8 -7.2 -8.8 -3.7z"/><path color="#69ff54" d="M1471.4 326.2l8.8 3.7 7.7 -7.2 -8.8 -3.4z"/><path color="#54ff55" d="M1472.4 337.1l8.9 3.8 7.7 -7.4 -8.8 -3.6z"/><path color="#67ff54" d="M1480.2 329.9l8.8 3.6 7.8 -7.3 -8.9 -3.5z"/><path color="#23ff63" d="M1200.1 342.1l8.1 7 8.5 -5.1 -8.1 -6.9z"/><path color="#23ff57" d="M1208.6 337.1l8.1 6.9 8.4 -5.1 -8 -6.6z"/><path color="#25ff7d" d="M1208.2 349.1l8 7 8.5 -5.3 -8 -6.8z"/><path color="#26ff71" d="M1216.7 344l8 6.8 8.4 -5.2 -8 -6.7z"/><path color="#54ff6a" d="M1464.6 344.3l8.8 4.1 7.9 -7.5 -8.9 -3.8z"/><path color="#22ff7a" d="M1183 352.1l8 7.4 8.6 -5.2 -8 -7.3z"/><path color="#23ff6e" d="M1191.6 347l8 7.3 8.6 -5.2 -8.1 -7z"/><path color="#23ff96" d="M1191 359.5l8.1 7.4 8.6 -5.4 -8.1 -7.2z"/><path color="#24ff89" d="M1199.6 354.3l8.1 7.2 8.5 -5.4 -8 -7z"/><path color="#29ff97" d="M1216.2 356.1l8.1 7 8.5 -5.5 -8.1 -6.8z"/><path color="#2aff8a" d="M1224.7 350.8l8.1 6.8 8.4 -5.4 -8.1 -6.6z"/><path color="#2cffb0" d="M1224.3 363.1l8.1 7.1 8.5 -5.7 -8.1 -6.9z"/><path color="#2dffa2" d="M1232.8 357.6l8.1 6.9 8.5 -5.7 -8.2 -6.6z"/><path color="#32ffab" d="M1249.4 358.8l8.1 6.7 8.4 -5.8 -8.2 -6.5z"/><path color="#33ff9d" d="M1257.7 353.2l8.2 6.5 8.3 -5.7 -8.1 -6.3z"/><path color="#36ffc1" d="M1257.5 365.5l8.2 6.6 8.4 -6 -8.2 -6.4z"/><path color="#37ffb2" d="M1265.9 359.7l8.2 6.4 8.4 -5.9 -8.3 -6.2z"/><path color="#3bffb6" d="M1282.5 360.2l8.2 6.3 8.3 -6.1 -8.3 -6z"/><path color="#3cffa7" d="M1290.7 354.4l8.3 6 8.2 -6 -8.2 -5.8z"/><path color="#3fffc9" d="M1290.7 366.5l8.3 6.2 8.3 -6.2 -8.3 -6.1z"/><path color="#40ffb9" d="M1299 360.4l8.3 6.1 8.2 -6.2 -8.3 -5.9z"/><path color="#44ffb9" d="M1315.5 360.3l8.4 5.9 8.2 -6.4 -8.4 -5.6z"/><path color="#45ffa9" d="M1323.7 354.2l8.4 5.6 8.1 -6.2 -8.3 -5.4z"/><path color="#47ffc8" d="M1323.9 366.2l8.4 5.8 8.2 -6.5 -8.4 -5.7z"/><path color="#48ffb8" d="M1332.1 359.8l8.4 5.7 8.1 -6.4 -8.4 -5.5z"/><path color="#4cffb5" d="M1348.6 359.1l8.4 5.4 8.1 -6.5 -8.4 -5.3z"/><path color="#4dffa4" d="M1356.7 352.7l8.4 5.3 8.1 -6.5 -8.5 -5.1z"/><path color="#4fffc1" d="M1357 364.5l8.5 5.5 8.1 -6.8 -8.5 -5.2z"/><path color="#50ffb0" d="M1365.1 358l8.5 5.2 8.1 -6.7 -8.5 -5z"/><path color="#54ffaa" d="M1381.7 356.5l8.5 5.1 8 -6.9 -8.5 -4.8z"/><path color="#54ff99" d="M1389.7 349.9l8.5 4.8 8 -6.7 -8.6 -4.7z"/><path color="#54ffb3" d="M1390.2 361.6l8.6 5 8 -7 -8.6 -4.9z"/><path color="#54ffa1" d="M1398.2 354.7l8.6 4.9 8 -7 -8.6 -4.6z"/><path color="#54ff95" d="M1414.8 352.6l8.7 4.7 7.9 -7.1 -8.7 -4.4z"/><path color="#54ff82" d="M1422.7 345.8l8.7 4.4 7.9 -7 -8.7 -4.3z"/><path color="#54ff9c" d="M1423.5 357.3l8.7 4.6 7.9 -7.2 -8.7 -4.5z"/><path color="#54ff88" d="M1431.4 350.2l8.7 4.5 7.9 -7.3 -8.7 -4.2z"/><path color="#54ff7a" d="M1448 347.4l8.8 4.3 7.8 -7.4 -8.8 -4z"/><path color="#54ff66" d="M1455.8 340.3l8.8 4 7.8 -7.2 -8.8 -3.9z"/><path color="#54ff7f" d="M1456.8 351.7l8.8 4.2 7.8 -7.5 -8.8 -4.1z"/><path color="#54ff8e" d="M1440.1 354.7l8.8 4.4 7.9 -7.4 -8.8 -4.3z"/><path color="#43ffda" d="M1299 372.7l8.4 6.3 8.2 -6.5 -8.3 -6z"/><path color="#43ffc9" d="M1307.3 366.5l8.3 6 8.3 -6.3 -8.4 -5.9z"/><path color="#46ffea" d="M1307.4 379l8.4 6.2 8.2 -6.6 -8.4 -6.1z"/><path color="#46ffd9" d="M1315.6 372.5l8.4 6.1 8.3 -6.6 -8.4 -5.8z"/><path color="#54ffbc" d="M1398.8 366.6l8.7 5.1 8 -7.2 -8.7 -4.9z"/><path color="#54ffa8" d="M1406.8 359.6l8.7 4.9 8 -7.2 -8.7 -4.7z"/><path color="#54ffc4" d="M1407.5 371.7l8.7 5 8 -7.4 -8.7 -4.8z"/><path color="#54ffb0" d="M1415.5 364.5l8.7 4.8 8 -7.4 -8.7 -4.6z"/><path color="#54ffa3" d="M1432.2 361.9l8.7 4.7 8 -7.5 -8.8 -4.4z"/><path color="#54ffa9" d="M1440.9 366.6l8.8 4.6 8 -7.7 -8.8 -4.4z"/><path color="#54ff94" d="M1448.9 359.1l8.8 4.4 7.9 -7.6 -8.8 -4.2z"/><path color="#27ffb2" d="M1199.1 366.9l8.1 7.5 8.6 -5.7 -8.1 -7.2z"/><path color="#28ffa4" d="M1207.7 361.5l8.1 7.2 8.5 -5.6 -8.1 -7z"/><path color="#2affcd" d="M1207.2 374.4l8.1 7.4 8.6 -5.8 -8.1 -7.3z"/><path color="#2bffbe" d="M1215.8 368.7l8.1 7.3 8.5 -5.8 -8.1 -7.1z"/><path color="#30ffc8" d="M1232.4 370.2l8.2 7 8.5 -5.9 -8.2 -6.8z"/><path color="#31ffba" d="M1240.9 364.5l8.2 6.8 8.4 -5.8 -8.1 -6.7z"/><path color="#34ffdf" d="M1240.6 377.2l8.2 7.1 8.5 -6.1 -8.2 -6.9z"/><path color="#35ffd0" d="M1249.1 371.3l8.2 6.9 8.4 -6.1 -8.2 -6.6z"/><path color="#39ffd5" d="M1265.7 372.1l8.3 6.7 8.4 -6.2 -8.3 -6.5z"/><path color="#3affc6" d="M1274.1 366.1l8.3 6.5 8.3 -6.1 -8.2 -6.3z"/><path color="#3dffe9" d="M1274 378.8l8.3 6.6 8.4 -6.4 -8.3 -6.4z"/><path color="#3effd9" d="M1282.4 372.6l8.3 6.4 8.3 -6.3 -8.3 -6.2z"/><path color="#4affd7" d="M1332.3 372l8.4 5.9 8.2 -6.7 -8.4 -5.7z"/><path color="#4bffc5" d="M1340.5 365.5l8.4 5.7 8.1 -6.7 -8.4 -5.4z"/><path color="#4dffe4" d="M1340.7 377.9l8.5 5.8 8.2 -6.9 -8.5 -5.6z"/><path color="#4effd3" d="M1348.9 371.2l8.5 5.6 8.1 -6.8 -8.5 -5.5z"/><path color="#52ffcd" d="M1365.5 370l8.6 5.4 8.1 -6.9 -8.6 -5.3z"/><path color="#53ffbb" d="M1373.6 363.2l8.6 5.3 8 -6.9 -8.5 -5.1z"/><path color="#54ffd8" d="M1374.1 375.4l8.6 5.5 8.1 -7.2 -8.6 -5.2z"/><path color="#54ffc6" d="M1382.2 368.5l8.6 5.2 8 -7.1 -8.6 -5z"/><path color="#54ffd8" d="M1399.4 379l8.7 5.2 8.1 -7.5 -8.7 -5z"/><path color="#2effe7" d="M1215.3 381.8l8.2 7.5 8.6 -6.1 -8.2 -7.2z"/><path color="#2fffd7" d="M1223.9 376l8.2 7.2 8.5 -6 -8.2 -7z"/><path color="#32feff" d="M1223.5 389.3l8.2 7.4 8.6 -6.2 -8.2 -7.3z"/><path color="#33ffef" d="M1232.1 383.2l8.2 7.3 8.5 -6.2 -8.2 -7.1z"/><path color="#41fffc" d="M1282.3 385.4l8.4 6.7 8.3 -6.6 -8.3 -6.5z"/><path color="#42ffeb" d="M1290.7 379l8.3 6.5 8.4 -6.5 -8.4 -6.3z"/><path color="#44efff" d="M1290.7 392.1l8.4 6.7 8.3 -6.8 -8.4 -6.5z"/><path color="#45fffc" d="M1299 385.5l8.4 6.5 8.4 -6.8 -8.4 -6.2z"/><path color="#49fffa" d="M1315.8 385.2l8.4 6.3 8.3 -6.8 -8.5 -6.1z"/><path color="#49ffe8" d="M1324 378.6l8.5 6.1 8.2 -6.8 -8.4 -5.9z"/><path color="#4cf4ff" d="M1324.2 391.5l8.5 6.3 8.3 -7.1 -8.5 -6z"/><path color="#4cfff7" d="M1332.5 384.7l8.5 6 8.2 -7 -8.5 -5.8z"/><path color="#54ffe3" d="M1382.7 380.9l8.6 5.5 8.1 -7.4 -8.6 -5.3z"/><path color="#54ffcf" d="M1390.8 373.7l8.6 5.3 8.1 -7.3 -8.7 -5.1z"/><path color="#54ffed" d="M1391.3 386.4l8.7 5.4 8.1 -7.6 -8.7 -5.2z"/><path color="#54ffcd" d="M1416.2 376.7l8.7 5.1 8 -7.6 -8.7 -4.9z"/><path color="#54ffb8" d="M1424.2 369.3l8.7 4.9 8 -7.6 -8.7 -4.7z"/><path color="#54ffd5" d="M1424.9 381.8l8.8 5 8.1 -7.8 -8.9 -4.8z"/><path color="#54ffbf" d="M1432.9 374.2l8.9 4.8 7.9 -7.8 -8.8 -4.6z"/><path color="#37fff6" d="M1248.8 384.3l8.3 7 8.5 -6.3 -8.3 -6.8z"/><path color="#38ffe5" d="M1257.3 378.2l8.3 6.8 8.4 -6.2 -8.3 -6.7z"/><path color="#3bf2ff" d="M1257.1 391.3l8.3 7.1 8.5 -6.5 -8.3 -6.9z"/><path color="#3cfffa" d="M1265.6 385l8.3 6.9 8.4 -6.5 -8.3 -6.6z"/><path color="#50fff2" d="M1349.2 383.7l8.5 5.9 8.2 -7.1 -8.5 -5.7z"/><path color="#51ffdf" d="M1357.4 376.8l8.5 5.7 8.2 -7.1 -8.6 -5.4z"/><path color="#53fffe" d="M1357.7 389.6l8.6 5.9 8.2 -7.4 -8.6 -5.6z"/><path color="#54ffeb" d="M1365.9 382.5l8.6 5.6 8.2 -7.2 -8.6 -5.5zM1416.9 389.5l8.8 5.2 8 -7.9 -8.8 -5z"/><path color="#35e4ff" d="M1231.7 396.7l8.3 7.5 8.6 -6.5 -8.3 -7.2z"/><path color="#36f7ff" d="M1240.3 390.5l8.3 7.2 8.5 -6.4 -8.3 -7z"/><path color="#39cbff" d="M1240 404.2l8.3 7.5 8.6 -6.7 -8.3 -7.3z"/><path color="#3adfff" d="M1248.6 397.7l8.3 7.3 8.5 -6.6 -8.3 -7.1z"/><path color="#4fe4ff" d="M1332.7 397.8l8.5 6.2 8.3 -7.2 -8.5 -6.1z"/><path color="#4ff9ff" d="M1341 390.7l8.5 6.1 8.2 -7.2 -8.5 -5.9z"/><path color="#52d5ff" d="M1341.2 404l8.6 6.3 8.3 -7.4 -8.6 -6.1z"/><path color="#52ebff" d="M1349.5 396.8l8.6 6.1 8.2 -7.4 -8.6 -5.9z"/><path color="#54fff7" d="M1400 391.8l8.8 5.5 8.1 -7.8 -8.8 -5.3z"/><path color="#54ffe2" d="M1408.1 384.2l8.8 5.3 8 -7.7 -8.7 -5.1z"/><path color="#54fdff" d="M1408.8 397.3l8.8 5.4 8.1 -8 -8.8 -5.2z"/><path color="#3fdcff" d="M1265.4 398.4l8.4 7.1 8.4 -6.8 -8.3 -6.8z"/><path color="#40efff" d="M1273.9 391.9l8.3 6.8 8.5 -6.6 -8.4 -6.7z"/><path color="#42c6ff" d="M1273.8 405.5l8.4 7 8.4 -6.9 -8.4 -6.9z"/><path color="#43dbff" d="M1282.2 398.7l8.4 6.9 8.5 -6.8 -8.4 -6.7z"/><path color="#47dcff" d="M1299.1 398.8l8.4 6.6 8.4 -7 -8.5 -6.4z"/><path color="#48f0ff" d="M1307.4 392l8.5 6.4 8.3 -6.9 -8.4 -6.3z"/><path color="#4acaff" d="M1307.5 405.4l8.5 6.7 8.4 -7.2 -8.5 -6.5z"/><path color="#4bdfff" d="M1315.9 398.4l8.5 6.5 8.3 -7.1 -8.5 -6.3z"/><path color="#54f3ff" d="M1366.3 395.5l8.7 5.8 8.2 -7.5 -8.7 -5.7z"/><path color="#54fff6" d="M1374.5 388.1l8.7 5.7 8.1 -7.4 -8.6 -5.5z"/><path color="#54e5ff" d="M1375 401.3l8.7 5.9 8.2 -7.7 -8.7 -5.7z"/><path color="#54fcff" d="M1383.2 393.8l8.7 5.7 8.1 -7.7 -8.7 -5.4z"/><path color="#3db3ff" d="M1248.3 411.7l8.4 7.4 8.6 -6.8 -8.4 -7.3z"/><path color="#3ec8ff" d="M1256.9 405l8.4 7.3 8.5 -6.8 -8.4 -7.1z"/><path color="#409cff" d="M1256.7 419.1l8.4 7.5 8.6 -7.1 -8.4 -7.2z"/><path color="#41b2ff" d="M1265.3 412.3l8.4 7.2 8.5 -7 -8.4 -7z"/><path color="#4db9ff" d="M1316 412.1l8.5 6.7 8.4 -7.4 -8.5 -6.5z"/><path color="#4eceff" d="M1324.4 404.9l8.5 6.5 8.3 -7.4 -8.5 -6.2z"/><path color="#50a8ff" d="M1324.5 418.8l8.6 6.7 8.4 -7.6 -8.6 -6.5z"/><path color="#51bfff" d="M1332.9 411.4l8.6 6.5 8.3 -7.6 -8.6 -6.3z"/><path color="#54c6ff" d="M1349.8 410.3l8.7 6.3 8.2 -7.7 -8.6 -6z"/><path color="#54dcff" d="M1358.1 402.9l8.6 6 8.3 -7.6 -8.7 -5.8z"/><path color="#54b7ff" d="M1358.5 416.6l8.6 6.3 8.3 -7.9 -8.7 -6.1z"/><path color="#54ceff" d="M1366.7 408.9l8.7 6.1 8.3 -7.8 -8.7 -5.9z"/><path color="#54d8ff" d="M1383.7 407.2l8.7 5.9 8.2 -8 -8.7 -5.6z"/><path color="#54f0ff" d="M1391.9 399.5l8.7 5.6 8.2 -7.8 -8.8 -5.5z"/><path color="#54ccff" d="M1392.4 413.1l8.8 5.8 8.2 -8.1 -8.8 -5.7z"/><path color="#54e4ff" d="M1400.6 405.1l8.8 5.7 8.2 -8.1 -8.8 -5.4z"/><path color="#45b2ff" d="M1282.2 412.5l8.4 7.1 8.5 -7.1 -8.5 -6.9z"/><path color="#46c7ff" d="M1290.6 405.6l8.5 6.9 8.4 -7.1 -8.4 -6.6z"/><path color="#489eff" d="M1290.6 419.6l8.5 7.1 8.5 -7.3 -8.5 -6.9z"/><path color="#49b4ff" d="M1299.1 412.5l8.5 6.9 8.4 -7.3 -8.5 -6.7z"/><path color="#4486ff" d="M1265.1 426.6l8.5 7.5 8.5 -7.3 -8.4 -7.3z"/><path color="#459cff" d="M1273.7 419.5l8.4 7.3 8.5 -7.2 -8.4 -7.1z"/><path color="#4771ff" d="M1273.6 434.1l8.5 7.5 8.5 -7.5 -8.5 -7.3z"/><path color="#4888ff" d="M1282.1 426.8l8.5 7.3 8.5 -7.4 -8.5 -7.1z"/><path color="#4b8cff" d="M1299.1 426.7l8.6 7.1 8.4 -7.5 -8.5 -6.9z"/><path color="#4ca2ff" d="M1307.6 419.4l8.5 6.9 8.4 -7.5 -8.5 -6.7z"/><path color="#4e7aff" d="M1307.7 433.8l8.5 7.1 8.5 -7.7 -8.6 -6.9z"/><path color="#4f91ff" d="M1316.1 426.3l8.6 6.9 8.4 -7.7 -8.6 -6.7z"/><path color="#5398ff" d="M1333.1 425.5l8.7 6.7 8.3 -7.9 -8.6 -6.4z"/><path color="#54b0ff" d="M1341.5 417.9l8.6 6.4 8.4 -7.7 -8.7 -6.3z"/><path color="#5488ff" d="M1341.8 432.2l8.6 6.7 8.4 -8.1 -8.7 -6.5z"/><path color="#54a0ff" d="M1350.1 424.3l8.7 6.5 8.3 -7.9 -8.6 -6.3z"/><path color="#54a8ff" d="M1367.1 422.9l8.8 6.3 8.3 -8.1 -8.8 -6.1z"/><path color="#54c1ff" d="M1375.4 415l8.8 6.1 8.2 -8 -8.7 -5.9z"/><path color="#549aff" d="M1375.9 429.2l8.8 6.2 8.3 -8.2 -8.8 -6.1z"/><path color="#54b3ff" d="M1384.2 421.1l8.8 6.1 8.2 -8.3 -8.8 -5.8z"/><path color="#4a5dff" d="M1282.1 441.6l8.5 7.5 8.5 -7.7 -8.5 -7.3z"/><path color="#4b75ff" d="M1290.6 434.1l8.5 7.3 8.6 -7.6 -8.6 -7.1z"/><path color="#4d4dff" d="M1290.6 449.1l8.6 7.6 8.5 -7.9 -8.6 -7.4z"/><path color="#4d62ff" d="M1299.1 441.4l8.6 7.4 8.5 -7.9 -8.5 -7.1z"/><path color="#5169ff" d="M1316.2 440.9l8.7 7.1 8.4 -7.9 -8.6 -6.9z"/><path color="#5281ff" d="M1324.7 433.2l8.6 6.9 8.5 -7.9 -8.7 -6.7z"/><path color="#5459ff" d="M1324.9 448l8.7 7.1 8.4 -8.1 -8.7 -6.9z"/><path color="#5471ff" d="M1333.3 440.1l8.7 6.9 8.4 -8.1 -8.6 -6.7z"/><path color="#5478ff" d="M1350.4 438.9l8.8 6.7 8.3 -8.3 -8.7 -6.5z"/><path color="#5490ff" d="M1358.8 430.8l8.7 6.5 8.4 -8.1 -8.8 -6.3z"/><path color="#5467ff" d="M1359.2 445.6l8.8 6.7 8.3 -8.5 -8.8 -6.5z"/><path color="#5480ff" d="M1367.5 437.3l8.8 6.5 8.4 -8.4 -8.8 -6.2z"/><path color="#5050ff" d="M1299.2 456.7l8.6 7.5 8.6 -8.1 -8.7 -7.3zM1307.7 448.8l8.7 7.3 8.5 -8.1 -8.7 -7.1z"/><path color="#5353ff" d="M1307.8 464.2l8.7 7.5 8.6 -8.3 -8.7 -7.3zM1316.4 456.1l8.7 7.3 8.5 -8.3 -8.7 -7.1z"/><path color="#5454ff" d="M1333.6 455.1l8.7 7.2 8.5 -8.4 -8.8 -6.9zM1342.3 462.3l8.8 7.1 8.4 -8.6 -8.7 -6.9zM1350.8 453.9l8.7 6.9 8.5 -8.5 -8.8 -6.7z"/><path color="#545fff" d="M1342 447l8.8 6.9 8.4 -8.3 -8.8 -6.7z"/><path color="#5454ff" d="M1316.5 471.7l8.7 7.6 8.6 -8.6 -8.7 -7.3zM1325.1 463.4l8.7 7.3 8.5 -8.4 -8.7 -7.2zM1325.2 479.3l8.8 7.5 8.6 -8.7 -8.8 -7.4zM1333.8 470.7l8.8 7.4 8.5 -8.7 -8.8 -7.1z"/></g>
<path d="M1015.9 190L1033.4 188.5L1050.8 187.1L1067.9 185.9L1084.8 184.9L1101.4 183.9L1117.9 183.2L1134.1 182.5L1150.1 182L1165.9 181.6L1181.5 181.3L1196.9 181.1L1212 181.1L1227 181.2L1241.8 181.4L1256.4 181.7L1270.8 182.1L1285 182.7L1299 183.3L1312.9 184L1326.5 184.9M1015.9 190L1030.4 204.6L1045 219.3L1059.8 234L1074.7 248.7L1089.7 263.4L1104.9 278.1L1120.2 292.9L1135.7 307.6L1151.3 322.4L1167.1 337.2L1183 352.1L1199.1 366.9L1215.3 381.8L1231.7 396.7L1248.3 411.7L1265.1 426.6L1282.1 441.6L1299.2 456.7L1316.5 471.7L1334 486.8M1030.4 204.6L1047.9 202.4L1065.2 200.3L1082.3 198.4L1099.1 196.6L1115.7 194.9L1132.1 193.4L1148.3 192.1L1164.3 190.9L1180.1 189.8L1195.6 188.9L1211 188.1L1226.1 187.4L1241.1 186.8L1255.8 186.4L1270.4 186.1L1284.8 185.9L1299 185.9L1313 185.9L1326.8 186.1L1340.5 186.3M1033.4 188.5L1047.9 202.4L1062.5 216.3L1077.2 230.2L1092.1 244.2L1107 258.1L1122.2 272L1137.5 286L1152.9 300L1168.5 314L1184.2 328L1200.1 342.1L1216.2 356.1L1232.4 370.2L1248.8 384.3L1265.4 398.4L1282.2 412.5L1299.1 426.7L1316.2 440.9L1333.6 455.1L1351.1 469.4M1045 219.3L1062.5 216.3L1079.7 213.5L1096.8 210.8L1113.6 208.3L1130.1 205.9L1146.5 203.7L1162.7 201.7L1178.6 199.8L1194.3 198L1209.9 196.4L1225.2 195L1240.3 193.6L1255.3 192.4L1270 191.4L1284.6 190.4L1299 189.6L1313.1 189L1327.1 188.4L1341 188L1354.6 187.7M1050.8 187.1L1065.2 200.3L1079.7 213.5L1094.4 226.6L1109.2 239.8L1124.2 253L1139.3 266.2L1154.5 279.4L1169.9 292.6L1185.5 305.8L1201.2 319L1217.1 332.3L1233.1 345.6L1249.4 358.8L1265.7 372.1L1282.3 385.4L1299.1 398.8L1316 412.1L1333.1 425.5L1350.4 438.9L1368 452.3M1059.8 234L1077.2 230.2L1094.4 226.6L1111.4 223.2L1128.2 220L1144.7 216.9L1161 214L1177.2 211.2L1193.1 208.7L1208.8 206.2L1224.3 203.9L1239.6 201.8L1254.7 199.8L1269.7 198L1284.4 196.3L1298.9 194.7L1313.3 193.3L1327.5 192L1341.5 190.8L1355.3 189.8L1368.9 188.9M1067.9 185.9L1082.3 198.4L1096.8 210.8L1111.4 223.2L1126.2 235.7L1141.1 248.1L1156.2 260.5L1171.4 273L1186.8 285.4L1202.3 297.9L1218 310.3L1233.8 322.8L1249.9 335.2L1266.1 347.7L1282.5 360.2L1299 372.7L1315.8 385.2L1332.7 397.8L1349.8 410.3L1367.1 422.9L1384.7 435.4M1074.7 248.7L1092.1 244.2L1109.2 239.8L1126.2 235.7L1142.9 231.7L1159.4 227.9L1175.7 224.2L1191.8 220.8L1207.7 217.5L1223.4 214.4L1238.9 211.4L1254.2 208.6L1269.3 206L1284.2 203.5L1298.9 201.1L1313.4 198.9L1327.8 196.9L1342 195L1355.9 193.2L1369.8 191.6L1383.4 190.1M1084.8 184.9L1099.1 196.6L1113.6 208.3L1128.2 220L1142.9 231.7L1157.8 243.4L1172.8 255.1L1188 266.7L1203.4 278.4L1218.9 290.1L1234.6 301.8L1250.4 313.5L1266.4 325.2L1282.6 336.9L1299 348.6L1315.5 360.3L1332.3 372L1349.2 383.7L1366.3 395.5L1383.7 407.2L1401.2 418.9M1089.7 263.4L1107 258.1L1124.2 253L1141.1 248.1L1157.8 243.4L1174.3 238.8L1190.6 234.5L1206.6 230.3L1222.5 226.3L1238.2 222.5L1253.6 218.9L1268.9 215.4L1284 212.1L1298.9 208.9L1313.6 205.9L1328.1 203.1L1342.5 200.4L1356.6 197.9L1370.6 195.5L1384.4 193.2L1398.1 191.1M1101.4 183.9L1115.7 194.9L1130.1 205.9L1144.7 216.9L1159.4 227.9L1174.3 238.8L1189.3 249.8L1204.5 260.7L1219.8 271.7L1235.3 282.6L1250.9 293.5L1266.8 304.5L1282.8 315.4L1298.9 326.3L1315.3 337.2L1331.9 348.2L1348.6 359.1L1365.5 370L1382.7 380.9L1400 391.8L1417.6 402.7M1104.9 278.1L1122.2 272L1139.3 266.2L1156.2 260.5L1172.8 255.1L1189.3 249.8L1205.5 244.7L1221.6 239.8L1237.4 235.1L1253.1 230.6L1268.5 226.3L1283.8 222.1L1298.9 218.1L1313.8 214.3L1328.5 210.6L1343 207.2L1357.3 203.8L1371.5 200.7L1385.5 197.6L1399.3 194.8L1412.9 192.1M1117.9 183.2L1132.1 193.4L1146.5 203.7L1161 214L1175.7 224.2L1190.6 234.5L1205.5 244.7L1220.7 254.9L1236 265.1L1251.5 275.3L1267.1 285.5L1282.9 295.7L1298.9 305.8L1315.1 316L1331.4 326.1L1348 336.3L1364.7 346.4L1381.7 356.5L1398.8 366.6L1416.2 376.7L1433.7 386.8M1120.2 292.9L1137.5 286L1154.5 279.4L1171.4 273L1188 266.7L1204.5 260.7L1220.7 254.9L1236.7 249.3L1252.5 243.9L1268.2 238.7L1283.6 233.6L1298.9 228.8L1313.9 224.1L1328.8 219.6L1343.5 215.3L1358 211.2L1372.3 207.2L1386.5 203.4L1400.5 199.7L1414.3 196.3L1427.9 192.9M1134.1 182.5L1148.3 192.1L1162.7 201.7L1177.2 211.2L1191.8 220.8L1206.6 230.3L1221.6 239.8L1236.7 249.3L1252 258.8L1267.5 268.2L1283.1 277.7L1298.9 287.1L1314.9 296.5L1331 305.9L1347.4 315.3L1364 324.6L1380.7 334L1397.6 343.3L1414.8 352.6L1432.2 361.9L1449.7 371.2M1135.7 307.6L1152.9 300L1169.9 292.6L1186.8 285.4L1203.4 278.4L1219.8 271.7L1236 265.1L1252 258.8L1267.8 252.7L1283.4 246.7L1298.9 241L1314.1 235.4L1329.2 230.1L1344 224.9L1358.7 219.9L1373.2 215.1L1387.6 210.5L1401.7 206L1415.7 201.7L1429.5 197.6L1443.2 193.7M1150.1 182L1164.3 190.9L1178.6 199.8L1193.1 208.7L1207.7 217.5L1222.5 226.3L1237.4 235.1L1252.5 243.9L1267.8 252.7L1283.3 261.4L1298.9 270.1L1314.7 278.8L1330.7 287.4L1346.8 296.1L1363.2 304.7L1379.7 313.3L1396.5 321.9L1413.4 330.4L1430.6 338.9L1448 347.4L1465.6 355.9M1151.3 322.4L1168.5 314L1185.5 305.8L1202.3 297.9L1218.9 290.1L1235.3 282.6L1251.5 275.3L1267.5 268.2L1283.3 261.4L1298.9 254.7L1314.3 248.3L1329.5 242L1344.6 236L1359.4 230.1L1374.1 224.5L1388.6 219L1403 213.7L1417.1 208.6L1431.1 203.7L1444.9 198.9L1458.6 194.3M1165.9 181.6L1180.1 189.8L1194.3 198L1208.8 206.2L1223.4 214.4L1238.2 222.5L1253.1 230.6L1268.2 238.7L1283.4 246.7L1298.9 254.7L1314.5 262.7L1330.3 270.7L1346.2 278.6L1362.4 286.5L1378.8 294.3L1395.3 302.2L1412.1 310L1429.1 317.8L1446.2 325.5L1463.6 333.2L1481.3 340.9M1167.1 337.2L1184.2 328L1201.2 319L1218 310.3L1234.6 301.8L1250.9 293.5L1267.1 285.5L1283.1 277.7L1298.9 270.1L1314.5 262.7L1329.9 255.5L1345.1 248.6L1360.2 241.8L1375 235.3L1389.7 228.9L1404.2 222.8L1418.6 216.8L1432.7 211.1L1446.7 205.5L1460.6 200.1L1474.2 194.9M1181.5 181.3L1195.6 188.9L1209.9 196.4L1224.3 203.9L1238.9 211.4L1253.6 218.9L1268.5 226.3L1283.6 233.6L1298.9 241L1314.3 248.3L1329.9 255.5L1345.7 262.8L1361.7 270L1377.8 277.1L1394.2 284.2L1410.7 291.3L1427.5 298.4L1444.5 305.4L1461.7 312.3L1479.1 319.3L1496.8 326.2M1183 352.1L1200.1 342.1L1217.1 332.3L1233.8 322.8L1250.4 313.5L1266.8 304.5L1282.9 295.7L1298.9 287.1L1314.7 278.8L1330.3 270.7L1345.7 262.8L1360.9 255.1L1375.9 247.6L1390.8 240.4L1405.5 233.4L1420 226.5L1434.4 219.9L1448.5 213.5L1462.6 207.2L1476.4 201.2L1490.1 195.3M1196.9 181.1L1211 188.1L1225.2 195L1239.6 201.8L1254.2 208.6L1268.9 215.4L1283.8 222.1L1298.9 228.8L1314.1 235.4L1329.5 242L1345.1 248.6L1360.9 255.1L1376.9 261.6L1393 268L1409.4 274.4L1426 280.7L1442.8 287L1459.8 293.3L1477 299.5L1494.4 305.6L1512.1 311.7M1199.1 366.9L1216.2 356.1L1233.1 345.6L1249.9 335.2L1266.4 325.2L1282.8 315.4L1298.9 305.8L1314.9 296.5L1330.7 287.4L1346.2 278.6L1361.7 270L1376.9 261.6L1391.9 253.4L1406.8 245.4L1421.5 237.7L1436 230.2L1450.4 222.9L1464.6 215.8L1478.6 208.9L1492.4 202.1L1506.1 195.6M1212 181.1L1226.1 187.4L1240.3 193.6L1254.7 199.8L1269.3 206L1284 212.1L1298.9 218.1L1313.9 224.1L1329.2 230.1L1344.6 236L1360.2 241.8L1375.9 247.6L1391.9 253.4L1408.1 259.1L1424.5 264.8L1441.1 270.4L1457.9 275.9L1474.9 281.4L1492.1 286.8L1509.6 292.2L1527.3 297.6M1215.3 381.8L1232.4 370.2L1249.4 358.8L1266.1 347.7L1282.6 336.9L1298.9 326.3L1315.1 316L1331 305.9L1346.8 296.1L1362.4 286.5L1377.8 277.1L1393 268L1408.1 259.1L1423 250.4L1437.7 242L1452.2 233.8L1466.6 225.8L1480.8 218L1494.8 210.4L1508.7 203L1522.4 195.8M1227 181.2L1241.1 186.8L1255.3 192.4L1269.7 198L1284.2 203.5L1298.9 208.9L1313.8 214.3L1328.8 219.6L1344 224.9L1359.4 230.1L1375 235.3L1390.8 240.4L1406.8 245.4L1423 250.4L1439.4 255.4L1456 260.2L1472.8 265.1L1489.8 269.8L1507.1 274.5L1524.6 279.1L1542.3 283.7M1231.7 396.7L1248.8 384.3L1265.7 372.1L1282.5 360.2L1299 348.6L1315.3 337.2L1331.4 326.1L1347.4 315.3L1363.2 304.7L1378.8 294.3L1394.2 284.2L1409.4 274.4L1424.5 264.8L1439.4 255.4L1454.1 246.2L1468.6 237.3L1483 228.6L1497.2 220.1L1511.3 211.8L1525.2 203.8L1538.9 195.9M1241.8 181.4L1255.8 186.4L1270 191.4L1284.4 196.3L1298.9 201.1L1313.6 205.9L1328.5 210.6L1343.5 215.3L1358.7 219.9L1374.1 224.5L1389.7 228.9L1405.5 233.4L1421.5 237.7L1437.7 242L1454.1 246.2L1470.7 250.4L1487.5 254.4L1504.6 258.5L1521.9 262.4L1539.4 266.3L1557.1 270.1M1248.3 411.7L1265.4 398.4L1282.3 385.4L1299 372.7L1315.5 360.3L1331.9 348.2L1348 336.3L1364 324.6L1379.7 313.3L1395.3 302.2L1410.7 291.3L1426 280.7L1441.1 270.4L1456 260.2L1470.7 250.4L1485.3 240.7L1499.7 231.3L1513.9 222.1L1528 213.2L1541.9 204.4L1555.6 195.9M1256.4 181.7L1270.4 186.1L1284.6 190.4L1298.9 194.7L1313.4 198.9L1328.1 203.1L1343 207.2L1358 211.2L1373.2 215.1L1388.6 219L1404.2 222.8L1420 226.5L1436 230.2L1452.2 233.8L1468.6 237.3L1485.3 240.7L1502.1 244.1L1519.2 247.4L1536.5 250.6L1554 253.7L1571.8 256.7M1265.1 426.6L1282.2 412.5L1299.1 398.8L1315.8 385.2L1332.3 372L1348.6 359.1L1364.7 346.4L1380.7 334L1396.5 321.9L1412.1 310L1427.5 298.4L1442.8 287L1457.9 275.9L1472.8 265.1L1487.5 254.4L1502.1 244.1L1516.5 234L1530.8 224.1L1544.9 214.4L1558.8 205L1572.6 195.8M1270.8 182.1L1284.8 185.9L1299 189.6L1313.3 193.3L1327.8 196.9L1342.5 200.4L1357.3 203.8L1372.3 207.2L1387.6 210.5L1403 213.7L1418.6 216.8L1434.4 219.9L1450.4 222.9L1466.6 225.8L1483 228.6L1499.7 231.3L1516.5 234L1533.6 236.5L1551 239L1568.5 241.4L1586.4 243.7M1282.1 441.6L1299.1 426.7L1316 412.1L1332.7 397.8L1349.2 383.7L1365.5 370L1381.7 356.5L1397.6 343.3L1413.4 330.4L1429.1 317.8L1444.5 305.4L1459.8 293.3L1474.9 281.4L1489.8 269.8L1504.6 258.5L1519.2 247.4L1533.6 236.5L1547.9 225.9L1562 215.5L1576 205.4L1589.8 195.5M1285 182.7L1299 185.9L1313.1 189L1327.5 192L1342 195L1356.6 197.9L1371.5 200.7L1386.5 203.4L1401.7 206L1417.1 208.6L1432.7 211.1L1448.5 213.5L1464.6 215.8L1480.8 218L1497.2 220.1L1513.9 222.1L1530.8 224.1L1547.9 225.9L1565.3 227.7L1582.9 229.3L1600.7 230.8M1299.2 456.7L1316.2 440.9L1333.1 425.5L1349.8 410.3L1366.3 395.5L1382.7 380.9L1398.8 366.6L1414.8 352.6L1430.6 338.9L1446.2 325.5L1461.7 312.3L1477 299.5L1492.1 286.8L1507.1 274.5L1521.9 262.4L1536.5 250.6L1551 239L1565.3 227.7L1579.4 216.6L1593.4 205.7L1607.3 195.1M1299 183.3L1313 185.9L1327.1 188.4L1341.5 190.8L1355.9 193.2L1370.6 195.5L1385.5 197.6L1400.5 199.7L1415.7 201.7L1431.1 203.7L1446.7 205.5L1462.6 207.2L1478.6 208.9L1494.8 210.4L1511.3 211.8L1528 213.2L1544.9 214.4L1562 215.5L1579.4 216.6L1597.1 217.5L1614.9 218.3M1316.5 471.7L1333.6 455.1L1350.4 438.9L1367.1 422.9L1383.7 407.2L1400 391.8L1416.2 376.7L1432.2 361.9L1448 347.4L1463.6 333.2L1479.1 319.3L1494.4 305.6L1509.6 292.2L1524.6 279.1L1539.4 266.3L1554 253.7L1568.5 241.4L1582.9 229.3L1597.1 217.5L1611.1 205.9L1625 194.6M1312.9 184L1326.8 186.1L1341 188L1355.3 189.8L1369.8 191.6L1384.4 193.2L1399.3 194.8L1414.3 196.3L1429.5 197.6L1444.9 198.9L1460.6 200.1L1476.4 201.2L1492.4 202.1L1508.7 203L1525.2 203.8L1541.9 204.4L1558.8 205L1576 205.4L1593.4 205.7L1611.1 205.9L1629 206M1334 486.8L1351.1 469.4L1368 452.3L1384.7 435.4L1401.2 418.9L1417.6 402.7L1433.7 386.8L1449.7 371.2L1465.6 355.9L1481.3 340.9L1496.8 326.2L1512.1 311.7L1527.3 297.6L1542.3 283.7L1557.1 270.1L1571.8 256.7L1586.4 243.7L1600.7 230.8L1614.9 218.3L1629 206L1642.9 194M1326.5 184.9L1340.5 186.3L1354.6 187.7L1368.9 188.9L1383.4 190.1L1398.1 191.1L1412.9 192.1L1427.9 192.9L1443.2 193.7L1458.6 194.3L1474.2 194.9L1490.1 195.3L1506.1 195.6L1522.4 195.8L1538.9 195.9L1555.6 195.9L1572.6 195.8L1589.8 195.5L1607.3 195.1L1625 194.6L1642.9 194" fill="none" stroke="#000" stroke-opacity="0.57" stroke-width="1.4" stroke-linejoin="round"/>
<g fill="#000"><circle cx="1026.8" cy="397" r="2.3"/><circle cx="1021.3" cy="293.6" r="2.3"/><circle cx="1015.9" cy="190.2" r="2.3"/><circle cx="1010.4" cy="86.8" r="2.3"/><circle cx="1031.8" cy="493.3" r="2.3"/><circle cx="1107.3" cy="530.8" r="2.3"/><circle cx="1182.8" cy="568.3" r="2.3"/><circle cx="1258.3" cy="605.8" r="2.3"/><circle cx="1333.7" cy="643.3" r="2.3"/><circle cx="1407" cy="604.9" r="2.3"/><circle cx="1480.3" cy="566.6" r="2.3"/><circle cx="1553.6" cy="528.2" r="2.3"/><circle cx="1626.8" cy="489.9" r="2.3"/></g>
<g font-size="16.9" fill="#404040"><text transform="translate(1019.3 393.2) scale(0.885 1)" text-anchor="end">1</text><text transform="translate(1013.8 289.8) scale(0.885 1)" text-anchor="end">2</text><text transform="translate(1008.4 186.4) scale(0.885 1)" text-anchor="end">3</text><text transform="translate(1002.9 83) scale(0.885 1)" text-anchor="end">4</text><text transform="translate(1024.3 507.3) scale(0.885 1)" text-anchor="end">-1</text><text transform="translate(1100.8 545.2) scale(0.885 1)" text-anchor="end">-0.5</text><text transform="translate(1175.8 581.9) scale(0.885 1)" text-anchor="end">0</text><text transform="translate(1252 620.4) scale(0.885 1)" text-anchor="end">0.5</text><text transform="translate(1327.2 657.3) scale(0.885 1)" text-anchor="end">1</text><text transform="translate(1342.7 657.3) scale(0.885 1)" text-anchor="start">-1</text><text transform="translate(1414.5 618.7) scale(0.885 1)" text-anchor="start">-0.5</text><text transform="translate(1488.6 579.9) scale(0.885 1)" text-anchor="start">0</text><text transform="translate(1561.6 542.2) scale(0.885 1)" text-anchor="start">0.5</text><text transform="translate(1635.8 503.9) scale(0.885 1)" text-anchor="start">1</text></g>
<text x="919.6" y="296.5" font-size="19.64" text-anchor="middle" transform="rotate(-90 919.6 296.5)" fill="#000" stroke="#000" stroke-width="0.35">Split tensile strength (MPa)</text>
<text x="920.1" y="629.5" font-size="19.56" text-anchor="start" fill="#000" stroke="#000" stroke-width="0.35">B: Recycled aggregate content (%)</text>
<text x="1481.8" y="626.4" font-size="19.77" text-anchor="start" fill="#000" stroke="#000" stroke-width="0.35">C: Basalt fiber dosage (%)</text>
</g>
<g font-family="'Liberation Serif', 'Times New Roman', serif" font-size="32" fill="#000" stroke="#000" stroke-width="0.45"><text x="220.5" y="710" textLength="376">(a) W/B ratio and RA content</text><text x="1113.4" y="710" textLength="386">(b) RA content and BF dosage</text></g>
</svg>
</body></html>
